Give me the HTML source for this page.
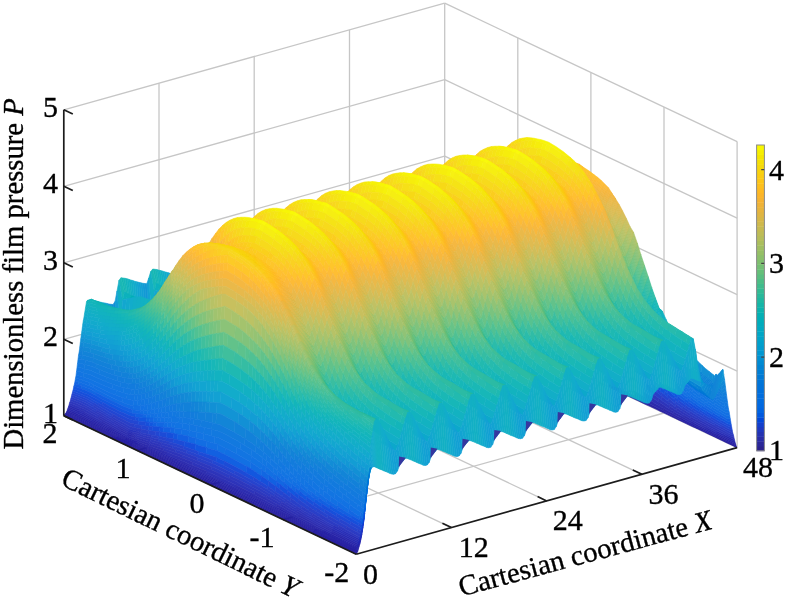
<!DOCTYPE html>
<html><head><meta charset="utf-8"><title>Dimensionless film pressure</title>
<style>
html,body{margin:0;padding:0;background:#fff;width:785px;height:599px;overflow:hidden}
svg{display:block}
.g{stroke:#c6c6c6;stroke-width:1.3}
.k{stroke:#1c1c1c;stroke-width:1.7}
#surf path{stroke-width:2.4;stroke-linejoin:round}
text{font-family:"Liberation Serif","Times New Roman",serif;fill:#000;stroke:#000;stroke-width:.35}
.t{font-size:30px}
.l{font-size:28.7px}
.c1{fill:#21199e;stroke:#21199e}.c2{fill:#271fa0;stroke:#271fa0}.c3{fill:#2c24a2;stroke:#2c24a2}.c5{fill:#221da3;stroke:#221da3}.c6{fill:#2722a5;stroke:#2722a5}.c7{fill:#2d27a7;stroke:#2d27a7}.c9{fill:#2320a7;stroke:#2320a7}.c10{fill:#2825a9;stroke:#2825a9}.c11{fill:#2d2bac;stroke:#2d2bac}.c13{fill:#2323ac;stroke:#2323ac}.c14{fill:#2829ae;stroke:#2829ae}.c15{fill:#2e2eb0;stroke:#2e2eb0}.c17{fill:#2327b1;stroke:#2327b1}.c18{fill:#282cb3;stroke:#282cb3}.c19{fill:#2e31b5;stroke:#2e31b5}.c21{fill:#232ab6;stroke:#232ab6}.c22{fill:#282fb8;stroke:#282fb8}.c23{fill:#2d34ba;stroke:#2d34ba}.c25{fill:#222ebb;stroke:#222ebb}.c26{fill:#2733bd;stroke:#2733bd}.c27{fill:#2d38be;stroke:#2d38be}.c29{fill:#2132c0;stroke:#2132c0}.c31{fill:#2b3bc3;stroke:#2b3bc3}.c33{fill:#1e35c5;stroke:#1e35c5}.c35{fill:#293fc8;stroke:#293fc8}.c37{fill:#1b39cb;stroke:#1b39cb}.c39{fill:#2643cd;stroke:#2643cd}.c43{fill:#2246d2;stroke:#2246d2}.c45{fill:#1142d5;stroke:#1142d5}.c47{fill:#1c4bd7;stroke:#1c4bd7}.c50{fill:#104bda;stroke:#104bda}.c51{fill:#164fdb;stroke:#164fdb}.c55{fill:#1257df;stroke:#1257df}.c57{fill:#0658e0;stroke:#0658e0}.c59{fill:#1260e1;stroke:#1260e1}.c63{fill:#1267e2;stroke:#1267e2}.c67{fill:#126de3;stroke:#126de3}.c69{fill:#0669e2;stroke:#0669e2}.c71{fill:#1270e3;stroke:#1270e3}.c75{fill:#1272e3;stroke:#1272e3}.c76{fill:#0069e0;stroke:#0069e0}.c79{fill:#1274e3;stroke:#1274e3}.c83{fill:#1275e2;stroke:#1275e2}.c84{fill:#006cdf;stroke:#006cdf}.c87{fill:#1276e1;stroke:#1276e1}.c89{fill:#0670df;stroke:#0670df}.c91{fill:#1277e1;stroke:#1277e1}.c95{fill:#1278e0;stroke:#1278e0}.c96{fill:#006fdc;stroke:#006fdc}.c99{fill:#1279df;stroke:#1279df}.c103{fill:#127ade;stroke:#127ade}.c107{fill:#127bdd;stroke:#127bdd}.c108{fill:#0073d9;stroke:#0073d9}.c111{fill:#127cdc;stroke:#127cdc}.c112{fill:#0074d8;stroke:#0074d8}.c115{fill:#127edb;stroke:#127edb}.c116{fill:#0076d7;stroke:#0076d7}.c119{fill:#1280da;stroke:#1280da}.c120{fill:#0078d6;stroke:#0078d6}.c123{fill:#1281d9;stroke:#1281d9}.c124{fill:#007ad5;stroke:#007ad5}.c126{fill:#0c80d7;stroke:#0c80d7}.c127{fill:#1283d8;stroke:#1283d8}.c128{fill:#007cd4;stroke:#007cd4}.c130{fill:#0c82d6;stroke:#0c82d6}.c131{fill:#1285d7;stroke:#1285d7}.c132{fill:#007fd3;stroke:#007fd3}.c133{fill:#0682d4;stroke:#0682d4}.c134{fill:#0c85d5;stroke:#0c85d5}.c135{fill:#1288d6;stroke:#1288d6}.c137{fill:#0685d4;stroke:#0685d4}.c138{fill:#0c87d5;stroke:#0c87d5}.c139{fill:#128ad6;stroke:#128ad6}.c141{fill:#0688d3;stroke:#0688d3}.c142{fill:#0c8bd5;stroke:#0c8bd5}.c143{fill:#128dd6;stroke:#128dd6}.c146{fill:#0c8ed4;stroke:#0c8ed4}.c147{fill:#1290d5;stroke:#1290d5}.c148{fill:#008cd2;stroke:#008cd2}.c151{fill:#1294d5;stroke:#1294d5}.c154{fill:#0c94d4;stroke:#0c94d4}.c155{fill:#1297d5;stroke:#1297d5}.c159{fill:#129ad5;stroke:#129ad5}.c163{fill:#129dd4;stroke:#129dd4}.c164{fill:#0098d0;stroke:#0098d0}.c167{fill:#129fd4;stroke:#129fd4}.c171{fill:#12a1d3;stroke:#12a1d3}.c175{fill:#12a3d2;stroke:#12a3d2}.c179{fill:#12a5d1;stroke:#12a5d1}.c183{fill:#12a7cf;stroke:#12a7cf}.c187{fill:#12a9ce;stroke:#12a9ce}.c190{fill:#0ca8cb;stroke:#0ca8cb}.c191{fill:#12aacc;stroke:#12aacc}.c195{fill:#12accb;stroke:#12accb}.c199{fill:#12adc9;stroke:#12adc9}.c202{fill:#0cacc5;stroke:#0cacc5}.c203{fill:#12aec7;stroke:#12aec7}.c207{fill:#12afc5;stroke:#12afc5}.c211{fill:#12b0c3;stroke:#12b0c3}.c215{fill:#12b2c1;stroke:#12b2c1}.c218{fill:#0cb1bd;stroke:#0cb1bd}.c219{fill:#12b3bf;stroke:#12b3bf}.c220{fill:#00aeb7;stroke:#00aeb7}.c222{fill:#0cb2bb;stroke:#0cb2bb}.c223{fill:#12b4bc;stroke:#12b4bc}.c225{fill:#07b2b7;stroke:#07b2b7}.c227{fill:#13b5ba;stroke:#13b5ba}.c228{fill:#05b1b3;stroke:#05b1b3}.c229{fill:#0bb3b4;stroke:#0bb3b4}.c230{fill:#11b5b6;stroke:#11b5b6}.c231{fill:#17b7b8;stroke:#17b7b8}.c232{fill:#09b2b0;stroke:#09b2b0}.c233{fill:#0fb4b2;stroke:#0fb4b2}.c234{fill:#15b6b3;stroke:#15b6b3}.c235{fill:#1ab8b5;stroke:#1ab8b5}.c236{fill:#0db3ad;stroke:#0db3ad}.c238{fill:#19b7b0;stroke:#19b7b0}.c239{fill:#1eb9b2;stroke:#1eb9b2}.c241{fill:#17b6ab;stroke:#17b6ab}.c242{fill:#1db8ad;stroke:#1db8ad}.c243{fill:#22baaf;stroke:#22baaf}.c244{fill:#16b6a6;stroke:#16b6a6}.c246{fill:#21b9aa;stroke:#21b9aa}.c247{fill:#27bbad;stroke:#27bbad}.c248{fill:#1bb7a3;stroke:#1bb7a3}.c250{fill:#26baa7;stroke:#26baa7}.c251{fill:#2bbcaa;stroke:#2bbcaa}.c253{fill:#25b9a2;stroke:#25b9a2}.c254{fill:#2bbba4;stroke:#2bbba4}.c255{fill:#30bca6;stroke:#30bca6}.c256{fill:#25b89c;stroke:#25b89c}.c257{fill:#2aba9f;stroke:#2aba9f}.c258{fill:#2fbca1;stroke:#2fbca1}.c259{fill:#35bda3;stroke:#35bda3}.c260{fill:#2bb999;stroke:#2bb999}.c261{fill:#30bb9b;stroke:#30bb9b}.c262{fill:#35bd9e;stroke:#35bd9e}.c263{fill:#3abea0;stroke:#3abea0}.c264{fill:#30ba96;stroke:#30ba96}.c265{fill:#35bc98;stroke:#35bc98}.c266{fill:#3abd9a;stroke:#3abd9a}.c267{fill:#3fbf9d;stroke:#3fbf9d}.c268{fill:#36bb92;stroke:#36bb92}.c269{fill:#3bbd95;stroke:#3bbd95}.c270{fill:#40be97;stroke:#40be97}.c271{fill:#44c09a;stroke:#44c09a}.c272{fill:#3cbc8f;stroke:#3cbc8f}.c273{fill:#41bd91;stroke:#41bd91}.c274{fill:#45bf94;stroke:#45bf94}.c275{fill:#4ac096;stroke:#4ac096}.c276{fill:#42bc8b;stroke:#42bc8b}.c277{fill:#47be8e;stroke:#47be8e}.c278{fill:#4bbf91;stroke:#4bbf91}.c279{fill:#50c193;stroke:#50c193}.c280{fill:#49bd88;stroke:#49bd88}.c281{fill:#4dbe8a;stroke:#4dbe8a}.c282{fill:#51c08d;stroke:#51c08d}.c283{fill:#56c290;stroke:#56c290}.c284{fill:#4fbd84;stroke:#4fbd84}.c285{fill:#53bf87;stroke:#53bf87}.c286{fill:#57c18a;stroke:#57c18a}.c287{fill:#5cc28d;stroke:#5cc28d}.c288{fill:#56be81;stroke:#56be81}.c289{fill:#5abf84;stroke:#5abf84}.c290{fill:#5ec187;stroke:#5ec187}.c291{fill:#62c28a;stroke:#62c28a}.c292{fill:#5cbe7e;stroke:#5cbe7e}.c293{fill:#60c081;stroke:#60c081}.c294{fill:#64c184;stroke:#64c184}.c295{fill:#68c387;stroke:#68c387}.c296{fill:#63bf7b;stroke:#63bf7b}.c297{fill:#67c07e;stroke:#67c07e}.c298{fill:#6ac281;stroke:#6ac281}.c299{fill:#6ec384;stroke:#6ec384}.c300{fill:#69bf78;stroke:#69bf78}.c301{fill:#6dc07b;stroke:#6dc07b}.c302{fill:#70c27e;stroke:#70c27e}.c303{fill:#74c381;stroke:#74c381}.c304{fill:#70bf75;stroke:#70bf75}.c305{fill:#73c078;stroke:#73c078}.c306{fill:#76c27c;stroke:#76c27c}.c307{fill:#7ac37f;stroke:#7ac37f}.c308{fill:#76bf73;stroke:#76bf73}.c309{fill:#79c176;stroke:#79c176}.c311{fill:#80c37c;stroke:#80c37c}.c312{fill:#7cbf70;stroke:#7cbf70}.c313{fill:#7fc173;stroke:#7fc173}.c314{fill:#82c277;stroke:#82c277}.c315{fill:#85c37a;stroke:#85c37a}.c316{fill:#82bf6e;stroke:#82bf6e}.c317{fill:#85c071;stroke:#85c071}.c318{fill:#88c274;stroke:#88c274}.c319{fill:#8bc378;stroke:#8bc378}.c321{fill:#8ac06f;stroke:#8ac06f}.c323{fill:#90c376;stroke:#90c376}.c324{fill:#8dbf69;stroke:#8dbf69}.c325{fill:#90c06c;stroke:#90c06c}.c326{fill:#93c270;stroke:#93c270}.c327{fill:#95c373;stroke:#95c373}.c329{fill:#95c06a;stroke:#95c06a}.c330{fill:#98c26e;stroke:#98c26e}.c331{fill:#9ac371;stroke:#9ac371}.c332{fill:#98bf65;stroke:#98bf65}.c333{fill:#9bc068;stroke:#9bc068}.c334{fill:#9dc26c;stroke:#9dc26c}.c335{fill:#a0c36f;stroke:#a0c36f}.c337{fill:#a0c066;stroke:#a0c066}.c339{fill:#a4c36d;stroke:#a4c36d}.c341{fill:#a5c064;stroke:#a5c064}.c342{fill:#a7c168;stroke:#a7c168}.c343{fill:#a9c36c;stroke:#a9c36c}.c345{fill:#aabf62;stroke:#aabf62}.c346{fill:#acc166;stroke:#acc166}.c347{fill:#aec26a;stroke:#aec26a}.c349{fill:#afbf60;stroke:#afbf60}.c350{fill:#b1c164;stroke:#b1c164}.c351{fill:#b3c268;stroke:#b3c268}.c353{fill:#b4bf5e;stroke:#b4bf5e}.c354{fill:#b6c062;stroke:#b6c062}.c355{fill:#b7c266;stroke:#b7c266}.c356{fill:#b7bd59;stroke:#b7bd59}.c357{fill:#b9be5d;stroke:#b9be5d}.c358{fill:#bac060;stroke:#bac060}.c359{fill:#bcc264;stroke:#bcc264}.c361{fill:#bdbe5b;stroke:#bdbe5b}.c362{fill:#bfc05f;stroke:#bfc05f}.c363{fill:#c1c163;stroke:#c1c163}.c364{fill:#c0bc54;stroke:#c0bc54}.c365{fill:#c2bd58;stroke:#c2bd58}.c367{fill:#c5c160;stroke:#c5c160}.c369{fill:#c6bc56;stroke:#c6bc56}.c370{fill:#c7be5a;stroke:#c7be5a}.c371{fill:#c8c05e;stroke:#c8c05e}.c372{fill:#c9ba50;stroke:#c9ba50}.c373{fill:#cabc54;stroke:#cabc54}.c374{fill:#cbbd58;stroke:#cbbd58}.c375{fill:#ccbf5c;stroke:#ccbf5c}.c377{fill:#cebb51;stroke:#cebb51}.c378{fill:#cfbc56;stroke:#cfbc56}.c379{fill:#d0be5a;stroke:#d0be5a}.c381{fill:#d2ba4f;stroke:#d2ba4f}.c382{fill:#d3bc53;stroke:#d3bc53}.c383{fill:#d4bd57;stroke:#d4bd57}.c385{fill:#d6b94d;stroke:#d6b94d}.c386{fill:#d7bb51;stroke:#d7bb51}.c387{fill:#d8bc55;stroke:#d8bc55}.c389{fill:#dab84a;stroke:#dab84a}.c390{fill:#dbba4f;stroke:#dbba4f}.c391{fill:#dcbc53;stroke:#dcbc53}.c393{fill:#deb748;stroke:#deb748}.c394{fill:#deb94c;stroke:#deb94c}.c395{fill:#dfbb51;stroke:#dfbb51}.c396{fill:#e1b541;stroke:#e1b541}.c397{fill:#e1b745;stroke:#e1b745}.c398{fill:#e2b84a;stroke:#e2b84a}.c399{fill:#e3ba4e;stroke:#e3ba4e}.c401{fill:#e5b643;stroke:#e5b643}.c402{fill:#e6b847;stroke:#e6b847}.c403{fill:#e7b94c;stroke:#e7b94c}.c405{fill:#e9b540;stroke:#e9b540}.c406{fill:#eab745;stroke:#eab745}.c407{fill:#eab949;stroke:#eab949}.c409{fill:#edb53d;stroke:#edb53d}.c410{fill:#edb642;stroke:#edb642}.c411{fill:#eeb847;stroke:#eeb847}.c412{fill:#f1b336;stroke:#f1b336}.c413{fill:#f1b43b;stroke:#f1b43b}.c414{fill:#f1b63f;stroke:#f1b63f}.c415{fill:#f2b844;stroke:#f2b844}.c416{fill:#f4b332;stroke:#f4b332}.c417{fill:#f4b537;stroke:#f4b537}.c418{fill:#f5b63c;stroke:#f5b63c}.c419{fill:#f5b841;stroke:#f5b841}.c420{fill:#f8b32f;stroke:#f8b32f}.c421{fill:#f8b534;stroke:#f8b534}.c422{fill:#f8b739;stroke:#f8b739}.c423{fill:#f8b83d;stroke:#f8b83d}.c424{fill:#fab52b;stroke:#fab52b}.c425{fill:#fbb630;stroke:#fbb630}.c426{fill:#fbb835;stroke:#fbb835}.c427{fill:#fbba3a;stroke:#fbba3a}.c428{fill:#fdb627;stroke:#fdb627}.c429{fill:#fdb82c;stroke:#fdb82c}.c430{fill:#fdba31;stroke:#fdba31}.c431{fill:#fdbb36;stroke:#fdbb36}.c432{fill:#feb923;stroke:#feb923}.c433{fill:#feba29;stroke:#feba29}.c434{fill:#febc2e;stroke:#febc2e}.c435{fill:#febe33;stroke:#febe33}.c436{fill:#ffbb20;stroke:#ffbb20}.c437{fill:#ffbd25;stroke:#ffbd25}.c438{fill:#ffbf2a;stroke:#ffbf2a}.c439{fill:#ffc030;stroke:#ffc030}.c440{fill:#febe1d;stroke:#febe1d}.c441{fill:#fec022;stroke:#fec022}.c442{fill:#fec128;stroke:#fec128}.c443{fill:#fec32d;stroke:#fec32d}.c444{fill:#fec11a;stroke:#fec11a}.c445{fill:#fec320;stroke:#fec320}.c446{fill:#fec425;stroke:#fec425}.c447{fill:#fec62a;stroke:#fec62a}.c448{fill:#fdc418;stroke:#fdc418}.c449{fill:#fdc61d;stroke:#fdc61d}.c450{fill:#fdc723;stroke:#fdc723}.c451{fill:#fdc828;stroke:#fdc828}.c452{fill:#fcc716;stroke:#fcc716}.c453{fill:#fcc91b;stroke:#fcc91b}.c454{fill:#fcca21;stroke:#fcca21}.c455{fill:#fccb26;stroke:#fccb26}.c456{fill:#fbca13;stroke:#fbca13}.c457{fill:#fbcc19;stroke:#fbcc19}.c458{fill:#fbcd1e;stroke:#fbcd1e}.c459{fill:#fbce24;stroke:#fbce24}.c460{fill:#facd11;stroke:#facd11}.c461{fill:#face17;stroke:#face17}.c462{fill:#fad01c;stroke:#fad01c}.c463{fill:#fad122;stroke:#fad122}.c464{fill:#f9d00f;stroke:#f9d00f}.c465{fill:#f9d115;stroke:#f9d115}.c466{fill:#f9d31a;stroke:#f9d31a}.c467{fill:#f9d420;stroke:#f9d420}.c468{fill:#f8d30d;stroke:#f8d30d}.c469{fill:#f8d513;stroke:#f8d513}.c470{fill:#f8d618;stroke:#f8d618}.c471{fill:#f8d71e;stroke:#f8d71e}.c472{fill:#f7d70b;stroke:#f7d70b}.c473{fill:#f7d811;stroke:#f7d811}.c474{fill:#f7d916;stroke:#f7d916}.c475{fill:#f7da1c;stroke:#f7da1c}.c476{fill:#f6da09;stroke:#f6da09}.c479{fill:#f6dd1a;stroke:#f6dd1a}.c480{fill:#f5dd06;stroke:#f5dd06}.c482{fill:#f6df12;stroke:#f6df12}.c483{fill:#f6e018;stroke:#f6e018}.c484{fill:#f5e104;stroke:#f5e104}.c485{fill:#f5e20a;stroke:#f5e20a}.c486{fill:#f5e210;stroke:#f5e210}.c487{fill:#f5e316;stroke:#f5e316}.c488{fill:#f5e401;stroke:#f5e401}.c490{fill:#f5e60d;stroke:#f5e60d}.c491{fill:#f5e613;stroke:#f5e613}.c492{fill:#f5e800;stroke:#f5e800}.c493{fill:#f5e906;stroke:#f5e906}.c494{fill:#f5e90c;stroke:#f5e90c}.c495{fill:#f5ea12;stroke:#f5ea12}.c496{fill:#f5ec00;stroke:#f5ec00}.c497{fill:#f5ed06;stroke:#f5ed06}.c498{fill:#f6ed0c;stroke:#f6ed0c}.c499{fill:#f6ee12;stroke:#f6ee12}.c500{fill:#f6f000;stroke:#f6f000}.c501{fill:#f6f106;stroke:#f6f106}.c502{fill:#f6f10c;stroke:#f6f10c}.c503{fill:#f7f112;stroke:#f7f112}.c504{fill:#f7f500;stroke:#f7f500}.c505{fill:#f7f506;stroke:#f7f506}.c506{fill:#f7f50c;stroke:#f7f50c}.c508{fill:#f8f900;stroke:#f8f900}.c509{fill:#f8f906;stroke:#f8f906}.c510{fill:#f9f90c;stroke:#f9f90c}
</style></head><body>
<svg width="785" height="599" viewBox="0 0 785 599">
<rect width="785" height="599" fill="#fff"/>
<g id="back">
<line class="g" x1="63.8" y1="339.3" x2="444.7" y2="232.7"/>
<line class="g" x1="444.7" y1="232.7" x2="737.1" y2="371.1"/>
<line class="g" x1="63.8" y1="262.8" x2="444.7" y2="156.2"/>
<line class="g" x1="444.7" y1="156.2" x2="737.1" y2="294.6"/>
<line class="g" x1="63.8" y1="186.3" x2="444.7" y2="79.7"/>
<line class="g" x1="444.7" y1="79.7" x2="737.1" y2="218.1"/>
<line class="g" x1="63.8" y1="109.8" x2="444.7" y2="3.2"/>
<line class="g" x1="444.7" y1="3.2" x2="737.1" y2="141.6"/>
<line class="g" x1="159.0" y1="389.2" x2="159.0" y2="83.2"/>
<line class="g" x1="451.4" y1="527.6" x2="159.0" y2="389.2"/>
<line class="g" x1="254.2" y1="362.5" x2="254.2" y2="56.5"/>
<line class="g" x1="546.6" y1="500.9" x2="254.2" y2="362.5"/>
<line class="g" x1="349.5" y1="335.9" x2="349.5" y2="29.9"/>
<line class="g" x1="641.9" y1="474.3" x2="349.5" y2="335.9"/>
<line class="g" x1="517.8" y1="343.8" x2="517.8" y2="37.8"/>
<line class="g" x1="136.9" y1="450.4" x2="517.8" y2="343.8"/>
<line class="g" x1="590.9" y1="378.4" x2="590.9" y2="72.4"/>
<line class="g" x1="210.0" y1="485.0" x2="590.9" y2="378.4"/>
<line class="g" x1="664.0" y1="413.0" x2="664.0" y2="107.0"/>
<line class="g" x1="283.1" y1="519.6" x2="664.0" y2="413.0"/>
<line class="g" x1="444.7" y1="309.2" x2="444.7" y2="3.2"/>
<line class="g" x1="737.1" y1="447.6" x2="737.1" y2="141.6"/>
<line class="g" x1="63.8" y1="415.8" x2="444.7" y2="309.2"/>
<line class="g" x1="444.7" y1="309.2" x2="737.1" y2="447.6"/>
<line class="k" x1="136.9" y1="450.4" x2="146.5" y2="447.7"/>
<line class="k" x1="210.0" y1="485.0" x2="219.6" y2="482.3"/>
<line class="k" x1="283.1" y1="519.6" x2="292.7" y2="516.9"/>
</g>
<g id="surf" transform="scale(.25)">
<path class="c3" d="M2435 1533l14 7 15 8 14 7 15 7 15 7 14 8 15 7 14 7 15 8 15 7 14 8 15 7 15 8 14 7 2 9-14-7-15-7-15-7-14-6-15-7-14-7-15-7-15-7-14-7-15-7-15-7-14-7-15-7-14-7z"/>
<path class="c2" d="M2639 1636l15 8 14 8 15 7 15 7 14 8 15 7 15 7 14 7 15 8 14 7 3 4-15-6-15-7-14-7-15-7-15-7-14-7-15-7-14-7-15-7-15-7z"/>
<path class="c1" d="M2785 1710l15 7 15 7 14 7 15 7 14 7 15 7 15 7 14 7 15 7 15 7 14 7 2 4-14-7-15-7-15-7-14-7-15-7-14-7-15-7-15-7-14-7-15-7-14-7z"/>
<path class="c11" d="M2535 1565l14 8 15 8 15 8 14 9 15 8 14 9 15 8 15 9 2 12-15-8-14-7-15-8-15-7-14-8-15-7-15-8-14-7z"/>
<path class="c7" d="M2652 1632l14 8 15 8 15 9 14 8 15 7 2 9-15-7-14-8-15-7-15-7-14-8z"/>
<path class="c6" d="M2725 1672l14 8 15 8 15 7 14 8 15 7 15 7 14 7 15 8 14 7 15 7 2 6-15-7-14-7-15-7-14-7-15-7-15-7-14-7-15-8-14-7-15-7z"/>
<path class="c2" d="M2871 1746l15 7 14 7 15 7 14 7 15 7 2 6-14-7-15-7-15-7-14-7-15-7z"/>
<path class="c19" d="M2576 1570l15 9 15 10 14 9 15 10 2 15-15-8-14-9-15-8-14-9z"/>
<path class="c15" d="M2635 1608l15 9 14 10 15 9 14 9 3 12-15-9-15-8-14-8-15-9z"/>
<path class="c11" d="M2693 1645l15 9 15 8 14 8 15 9 15 7 2 9-15-7-15-8-14-8-15-7-14-8z"/>
<path class="c10" d="M2767 1686l14 8 15 8 14 7 15 8 15 7 2 8-15-8-14-7-15-7-15-7-14-8z"/>
<path class="c6" d="M2840 1724l14 8 15 7 14 7 15 7 15 8 14 7 15 7 2 6-15-7-14-7-15-7-14-7-15-7-15-7-14-7z"/>
<path class="c27" d="M2604 1569l14 11 15 11 2 17-15-10-14-9z"/>
<path class="c23" d="M2633 1591l14 11 15 10 15 10 2 14-15-9-14-10-15-9z"/>
<path class="c19" d="M2677 1622l14 10 15 10 15 9 14 9 2 10-14-8-15-8-15-9-14-9z"/>
<path class="c15" d="M2735 1660l15 8 14 9 15 8 15 8 14 8 15 7 2 9-15-8-14-7-15-8-14-8-15-7-15-9z"/>
<path class="c14" d="M2823 1708l15 8 14 7 15 8 2 8-15-7-14-8-15-7z"/>
<path class="c10" d="M2867 1731l14 7 15 8 15 7 14 7 15 7 2 8-15-7-14-7-15-8-15-7-14-7z"/>
<path class="c39" d="M2587 1536l14 12 15 12 2 20-14-11-15-11z"/>
<path class="c35" d="M2616 1560l15 12 14 12 2 18-14-11-15-11z"/>
<path class="c31" d="M2645 1584l15 12 15 11 2 15-15-10-15-10z"/>
<path class="c27" d="M2675 1607l14 11 15 11 2 13-15-10-14-10z"/>
<path class="c23" d="M2704 1629l14 9 15 10 15 9 14 9 2 11-14-9-15-8-14-9-15-9z"/>
<path class="c19" d="M2762 1666l15 9 15 8 14 8 15 8 14 8 15 8 15 7 2 9-15-8-14-7-15-8-15-7-14-8-15-8-15-8z"/>
<path class="c18" d="M2865 1722l14 8 15 7 2 9-15-8-14-7z"/>
<path class="c14" d="M2894 1737l15 8 14 7 15 7 2 8-15-7-14-7-15-7z"/>
<path class="c47" d="M2614 1539l15 14 2 19-15-12z"/>
<path class="c43" d="M2629 1553l14 13 2 18-14-12z"/>
<path class="c39" d="M2643 1566l15 13 14 12 3 16-15-11-15-12z"/>
<path class="c35" d="M2672 1591l15 12 15 12 2 14-15-11-14-11z"/>
<path class="c31" d="M2702 1615l14 10 15 11 2 12-15-10-14-9z"/>
<path class="c27" d="M2731 1636l15 9 14 10 15 9 14 8 3 11-15-8-15-9-14-9-15-9z"/>
<path class="c23" d="M2789 1672l15 9 15 8 14 8 15 8 15 8 14 8 15 8 14 7 3 9-15-8-15-7-14-8-15-7-15-8-14-8-15-8-14-8z"/>
<path class="c22" d="M2906 1736l15 8 2 8-14-7z"/>
<path class="c19" d="M2921 1744l15 6 2 9-15-7z"/>
<path class="c55" d="M2626 1532l15 15 2 19-14-13z"/>
<path class="c51" d="M2641 1547l15 14 2 18-15-13z"/>
<path class="c47" d="M2656 1561l14 14 2 16-14-12z"/>
<path class="c43" d="M2670 1575l15 13 15 12 2 15-15-12-15-12z"/>
<path class="c39" d="M2700 1600l14 12 15 11 2 13-15-11-14-10z"/>
<path class="c35" d="M2729 1623l14 10 15 10 2 12-14-10-15-9z"/>
<path class="c31" d="M2758 1643l15 9 14 9 15 9 15 9 2 10-15-8-15-9-14-8-15-9z"/>
<path class="c27" d="M2817 1679l14 8 15 8 14 8 15 8 15 8 14 8 15 8 15 6 2 9-15-6-15-8-14-7-15-8-14-8-15-8-15-8-14-8z"/>
<path class="c59" d="M2639 1527l15 15 2 19-15-14z"/>
<path class="c55" d="M2654 1542l14 15 2 18-14-14z"/>
<path class="c51" d="M2668 1557l15 14 14 14 3 15-15-12-15-13z"/>
<path class="c47" d="M2697 1585l15 12 2 15-14-12z"/>
<path class="c43" d="M2712 1597l15 12 14 11 2 13-14-10-15-11z"/>
<path class="c39" d="M2741 1620l15 10 15 10 14 10 2 11-14-9-15-9-15-10z"/>
<path class="c35" d="M2785 1650l15 9 14 9 15 8 15 9 14 8 2 10-14-8-15-8-14-8-15-9-15-9z"/>
<path class="c31" d="M2858 1693l15 8 15 8 14 8 15 8 14 6 3 10-15-6-15-8-14-8-15-8-15-8z"/>
<path class="c63" d="M2666 1539l15 15 2 17-15-14z"/>
<path class="c59" d="M2681 1554l14 15 2 16-14-14z"/>
<path class="c55" d="M2695 1569l15 13 2 15-15-12z"/>
<path class="c51" d="M2710 1582l15 13 14 11 2 14-14-11-15-12z"/>
<path class="c47" d="M2739 1606l15 11 14 11 3 12-15-10-15-10z"/>
<path class="c43" d="M2768 1628l15 10 15 9 14 9 2 12-14-9-15-9-14-10z"/>
<path class="c39" d="M2812 1656l15 9 15 9 14 9 15 8 14 8 3 10-15-8-15-8-14-8-15-9-15-8z"/>
<path class="c35" d="M2885 1699l15 8 15 8 14 6 2 10-14-6-15-8-14-8z"/>
<path class="c63" d="M2693 1552l15 15 2 15-15-13z"/>
<path class="c59" d="M2708 1567l14 13 15 12 2 14-14-11-15-13z"/>
<path class="c55" d="M2737 1592l15 12 2 13-15-11z"/>
<path class="c51" d="M2752 1604l14 11 15 10 15 10 2 12-15-9-15-10-14-11z"/>
<path class="c47" d="M2796 1635l14 10 15 9 14 9 3 11-15-9-15-9-14-9z"/>
<path class="c43" d="M2839 1663l15 9 15 8 14 9 15 8 15 8 14 5 2 11-14-6-15-8-15-8-14-8-15-8-14-9z"/>
<path class="c67" d="M2706 1551l14 14 2 15-14-13z"/>
<path class="c63" d="M2720 1565l15 13 15 12 2 14-15-12-15-12z"/>
<path class="c59" d="M2750 1590l14 12 15 10 2 13-15-10-14-11z"/>
<path class="c55" d="M2779 1612l14 11 15 10 15 9 2 12-15-9-14-10-15-10z"/>
<path class="c51" d="M2823 1642l14 9 15 9 15 9 14 9 2 11-14-9-15-8-15-9-14-9z"/>
<path class="c47" d="M2881 1678l15 8 14 9 15 4 2 11-14-5-15-8-15-8z"/>
<path class="c75" d="M2704 1534l14 15 15 14 2 15-15-13-14-14z"/>
<path class="c71" d="M2733 1563l14 13 3 14-15-12z"/>
<path class="c67" d="M2747 1576l15 12 2 14-14-12z"/>
<path class="c63" d="M2762 1588l15 11 14 11 15 10 2 13-15-10-14-11-15-10z"/>
<path class="c59" d="M2806 1620l15 10 14 9 15 10 2 11-15-9-14-9-15-9z"/>
<path class="c55" d="M2850 1649l14 9 15 9 15 8 14 9 15 3 2 12-15-4-14-9-15-8-14-9-15-9z"/>
<path class="c79" d="M2731 1548l14 13 2 15-14-13z"/>
<path class="c75" d="M2745 1561l15 13 2 14-15-12z"/>
<path class="c71" d="M2760 1574l15 12 14 11 2 13-14-11-15-11z"/>
<path class="c67" d="M2789 1597l15 10 14 10 3 13-15-10-15-10z"/>
<path class="c63" d="M2818 1617l15 10 15 10 14 9 15 9 2 12-15-9-14-9-15-10-14-9z"/>
<path class="c59" d="M2877 1655l15 9 14 9 15 2 2 12-15-3-14-9-15-8z"/>
<path class="c87" d="M2729 1532l14 14 2 15-14-13z"/>
<path class="c83" d="M2743 1546l15 13 2 15-15-13z"/>
<path class="c79" d="M2758 1559l14 13 15 11 2 14-14-11-15-12z"/>
<path class="c75" d="M2787 1583l15 11 14 11 2 12-14-10-15-10z"/>
<path class="c71" d="M2816 1605l15 10 15 9 2 13-15-10-15-10z"/>
<path class="c67" d="M2846 1624l14 10 15 9 14 9 15 9 15 1 2 13-15-2-14-9-15-9-15-9-14-9z"/>
<path class="c95" d="M2727 1516l14 15 2 15-14-14z"/>
<path class="c91" d="M2741 1531l15 14 2 14-15-13z"/>
<path class="c87" d="M2756 1545l14 12 2 15-14-13z"/>
<path class="c83" d="M2770 1557l15 12 15 12 2 13-15-11-15-11z"/>
<path class="c79" d="M2800 1581l14 10 15 11 2 13-15-10-14-11z"/>
<path class="c75" d="M2829 1602l14 10 15 10 15 9 2 12-15-9-14-10-15-9z"/>
<path class="c71" d="M2873 1631l14 10 15 9 15-1 2 13-15-1-15-9-14-9z"/>
<path class="c99" d="M2739 1515l15 15 2 15-15-14z"/>
<path class="c95" d="M2754 1530l14 13 2 14-14-12z"/>
<path class="c91" d="M2768 1543l15 12 15 12 2 14-15-12-15-12z"/>
<path class="c87" d="M2798 1567l14 11 15 11 2 13-15-11-14-10z"/>
<path class="c83" d="M2827 1589l14 10 15 10 2 13-15-10-14-10z"/>
<path class="c79" d="M2856 1609l15 10 14 9 15 10 14-2 3 13-15 1-15-9-14-10-15-9z"/>
<path class="c95" d="M2795 1553l15 12 2 13-14-11z"/>
<path class="c91" d="M2810 1565l15 10 14 11 15 10 2 13-15-10-14-10-15-11z"/>
<path class="c87" d="M2854 1596l14 10 15 10 2 12-14-9-15-10z"/>
<path class="c83" d="M2883 1616l15 10 2 12-15-10z"/>
<path class="c87" d="M2898 1626l14-4 2 14-14 2z"/>
<path class="c95" d="M2837 1573l15 10 14 11 2 12-14-10-15-10z"/>
<path class="c91" d="M2866 1594l15 10 15 9 2 13-15-10-15-10z"/>
<path class="c95" d="M2896 1613l14-5 2 14-14 4z"/>
<path class="c103" d="M2835 1559l15 11 14 11 2 13-14-11-15-10z"/>
<path class="c99" d="M2864 1581l15 10 14 10 15-8 2 15-14 5-15-9-15-10z"/>
<path class="c107" d="M2848 1557l14 10 15 11 2 13-15-10-14-11z"/>
<path class="c103" d="M2877 1578l14 10 2 13-14-10z"/>
<path class="c107" d="M2891 1588l15-9 2 14-15 8z"/>
<path class="c115" d="M2845 1543l15 11 15 11 2 13-15-11-14-10z"/>
<path class="c111" d="M2875 1565l14 10 2 13-14-10z"/>
<path class="c115" d="M2889 1575l15-12 2 16-15 9z"/>
<path class="c445" d="M2288 650l14 4 15 5 2-2-15-5-14-5z"/>
<path class="c444" d="M2317 659l15 9 2 5-15-16z"/>
<path class="c119" d="M2858 1540l15 11 14 11 2 13-14-10-15-11z"/>
<path class="c123" d="M2887 1562l15-14 2 15-15 12z"/>
<path class="c445" d="M2300 657l15 5 2-3-15-5z"/>
<path class="c446" d="M2315 662l14 9 3-3-15-9z"/>
<path class="c442" d="M2329 671l15 9 15 10 14 10 2-2-14-11-15-10-14-9z"/>
<path class="c438" d="M2373 700l15 12 2-3-15-11z"/>
<path class="c434" d="M2388 712l15 13 2-3-15-13z"/>
<path class="c430" d="M2403 725l14 14 2-3-14-14z"/>
<path class="c426" d="M2417 739l15 16 2-4-15-15z"/>
<path class="c422" d="M2432 755l14 18 3 2-15-24z"/>
<path class="c412" d="M2446 773l15 20 2 7-14-25z"/>
<path class="c127" d="M2856 1526l14 12 15 10 2 14-14-11-15-11z"/>
<path class="c131" d="M2885 1548l15-16 2 16-15 14z"/>
<path class="c442" d="M2269 653l14 3 15 4 15 5 14 9 15 9 15 10 2-3-15-10-15-9-14-9-15-5-14-4-15-4z"/>
<path class="c438" d="M2357 693l14 10 15 12 2-3-15-12-14-10z"/>
<path class="c434" d="M2386 715l14 13 3-3-15-13z"/>
<path class="c430" d="M2400 728l15 14 2-3-14-14z"/>
<path class="c426" d="M2415 742l15 16 2-3-15-16z"/>
<path class="c422" d="M2430 758l14 18 2-3-14-18z"/>
<path class="c414" d="M2444 776l15 21 2-4-15-20z"/>
<path class="c406" d="M2459 797l15 23 2-3-15-24z"/>
<path class="c398" d="M2474 820l14 27 2-4-14-26z"/>
<path class="c387" d="M2488 847l15 30 2-4-15-30z"/>
<path class="c375" d="M2503 877l14 33 3-4-15-33z"/>
<path class="c363" d="M2517 910l15 37 2-18-14-23z"/>
<path class="c347" d="M2532 947l15 39 2-14-15-43z"/>
<path class="c331" d="M2547 986l14 41 2-10-14-45z"/>
<path class="c311" d="M2561 1027l15 43 2-8-15-45z"/>
<path class="c291" d="M2576 1070l15 43 2-6-15-45z"/>
<path class="c275" d="M2591 1113l14 41 2-3-14-44z"/>
<path class="c255" d="M2605 1154l15 40 2-1-15-42z"/>
<path class="c238" d="M2620 1194l14 37 2 0-14-38z"/>
<path class="c227" d="M2634 1231l15 13 2 23-15-36z"/>
<path class="c135" d="M2854 1512l14 12 15 11 2 13-15-10-14-12z"/>
<path class="c139" d="M2883 1535l15-19 2 16-15 16z"/>
<path class="c442" d="M2281 660l15 4 15 5 14 8 15 9 2-3-15-9-14-9-15-5-15-4z"/>
<path class="c438" d="M2340 686l14 10 15 11 2-4-14-10-15-10z"/>
<path class="c434" d="M2369 707l15 11 14 13 2-3-14-13-15-12z"/>
<path class="c430" d="M2398 731l15 15 2-4-15-14z"/>
<path class="c426" d="M2413 746l15 16 2-4-15-16z"/>
<path class="c418" d="M2428 762l14 18 2-4-14-18z"/>
<path class="c414" d="M2442 780l15 21 2-4-15-21z"/>
<path class="c406" d="M2457 801l14 23 3-4-15-23z"/>
<path class="c399" d="M2471 824l15 27 2-4-14-27z"/>
<path class="c387" d="M2486 851l15 30 2-4-15-30z"/>
<path class="c375" d="M2501 881l14 34 2-5-14-33z"/>
<path class="c359" d="M2515 915l15 37 2-5-15-37z"/>
<path class="c343" d="M2530 952l15 39 2-5-15-39z"/>
<path class="c327" d="M2545 991l14 42 2-6-14-41z"/>
<path class="c307" d="M2559 1033l15 43 2-6-15-43z"/>
<path class="c291" d="M2574 1076l14 42 3-5-15-43z"/>
<path class="c271" d="M2588 1118l15 42 2-6-14-41z"/>
<path class="c255" d="M2603 1160l15 40 2-6-15-40z"/>
<path class="c239" d="M2618 1200l14 37 2-6-14-37z"/>
<path class="c227" d="M2632 1237l15 34 2-27-15-13z"/>
<path class="c215" d="M2647 1271l14 31 3-25-15-33z"/>
<path class="c203" d="M2661 1302l15 28 2-23-14-30z"/>
<path class="c139" d="M2866 1510l15 11 2 14-15-11z"/>
<path class="c147" d="M2881 1521l14-22 3 17-15 19z"/>
<path class="c438" d="M2323 681l15 9 14 10 15 11 2-4-15-11-14-10-15-9z"/>
<path class="c434" d="M2367 711l15 11 2-4-15-11z"/>
<path class="c430" d="M2382 722l14 13 2-4-14-13z"/>
<path class="c426" d="M2396 735l15 14 2-3-15-15z"/>
<path class="c422" d="M2411 749l14 17 3-4-15-16z"/>
<path class="c418" d="M2425 766l15 18 2-4-14-18z"/>
<path class="c410" d="M2440 784l15 21 2-4-15-21z"/>
<path class="c403" d="M2455 805l14 24 2-5-14-23z"/>
<path class="c395" d="M2469 829l15 27 2-5-15-27z"/>
<path class="c383" d="M2484 856l15 30 2-5-15-30z"/>
<path class="c371" d="M2499 886l14 34 2-5-14-34z"/>
<path class="c355" d="M2513 920l15 37 2-5-15-37z"/>
<path class="c339" d="M2528 957l14 40 3-6-15-39z"/>
<path class="c323" d="M2542 997l15 41 2-5-14-42z"/>
<path class="c307" d="M2557 1038l15 43 2-5-15-43z"/>
<path class="c287" d="M2572 1081l14 43 2-6-14-42z"/>
<path class="c267" d="M2586 1124l15 42 2-6-15-42z"/>
<path class="c251" d="M2601 1166l15 40 2-6-15-40z"/>
<path class="c235" d="M2616 1206l14 37 2-6-14-37z"/>
<path class="c219" d="M2630 1243l15 34 2-6-15-34z"/>
<path class="c207" d="M2645 1277l14 31 2-6-14-31z"/>
<path class="c155" d="M2776 1465l15 13 2-31-15-14z"/>
<path class="c151" d="M2791 1478l15 12 2-29-15-14z"/>
<path class="c147" d="M2806 1490l14 12 15 11 2-27-15-12-14-13z"/>
<path class="c143" d="M2835 1513l14 11 3-26-15-12z"/>
<path class="c146" d="M2849 1524l15-28 2 14-14-12z"/>
<path class="c155" d="M2879 1507l14-25 2 17-14 22z"/>
<path class="c438" d="M2277 669l15 3 14 4 15 9 15 9 14 10 2-4-14-10-15-9-14-9-15-4-15-4z"/>
<path class="c434" d="M2350 704l15 11 14 11 3-4-15-11-15-11z"/>
<path class="c430" d="M2379 726l15 13 2-4-14-13z"/>
<path class="c426" d="M2394 739l15 14 2-4-15-14z"/>
<path class="c422" d="M2409 753l14 17 2-4-14-17z"/>
<path class="c418" d="M2423 770l15 18 2-4-15-18z"/>
<path class="c410" d="M2438 788l15 21 2-4-15-21z"/>
<path class="c403" d="M2453 809l14 24 2-4-14-24z"/>
<path class="c395" d="M2467 833l15 27 2-4-15-27z"/>
<path class="c383" d="M2482 860l14 31 3-5-15-30z"/>
<path class="c371" d="M2496 891l15 34 2-5-14-34z"/>
<path class="c355" d="M2511 925l15 37 2-5-15-37z"/>
<path class="c339" d="M2526 962l14 40 2-5-14-40z"/>
<path class="c319" d="M2540 1002l15 42 2-6-15-41z"/>
<path class="c303" d="M2555 1044l15 43 2-6-15-43z"/>
<path class="c283" d="M2570 1087l14 43 2-6-14-43z"/>
<path class="c267" d="M2584 1130l15 42 2-6-15-42z"/>
<path class="c247" d="M2599 1172l14 40 3-6-15-40z"/>
<path class="c231" d="M2613 1212l15 37 2-6-14-37z"/>
<path class="c219" d="M2628 1249l15 34 2-6-15-34z"/>
<path class="c142" d="M2774 1470l15 13 14 12 3-5-15-12-15-13z"/>
<path class="c138" d="M2803 1495l15 12 2-5-14-12z"/>
<path class="c134" d="M2818 1507l15 11 14 11 2-5-14-11-15-11z"/>
<path class="c139" d="M2847 1529l15 11 15 10 2-43-15-11-15 28z"/>
<path class="c155" d="M2877 1550l14-73 2 5-14 25z"/>
<path class="c434" d="M2319 689l15 9 14 10 15 11 2-4-15-11-14-10-15-9z"/>
<path class="c430" d="M2363 719l14 11 2-4-14-11z"/>
<path class="c426" d="M2377 730l15 13 15 15 2-5-15-14-15-13z"/>
<path class="c418" d="M2407 758l14 16 2-4-14-17z"/>
<path class="c414" d="M2421 774l15 19 2-5-15-18z"/>
<path class="c407" d="M2436 793l14 21 3-5-15-21z"/>
<path class="c399" d="M2450 814l15 24 2-5-14-24z"/>
<path class="c391" d="M2465 838l15 27 2-5-15-27z"/>
<path class="c379" d="M2480 865l14 31 2-5-14-31z"/>
<path class="c367" d="M2494 896l15 34 2-5-15-34z"/>
<path class="c351" d="M2509 930l15 38 2-6-15-37z"/>
<path class="c335" d="M2524 968l14 40 2-6-14-40z"/>
<path class="c319" d="M2538 1008l15 42 2-6-15-42z"/>
<path class="c299" d="M2553 1050l14 44 3-7-15-43z"/>
<path class="c283" d="M2567 1094l15 43 2-7-14-43z"/>
<path class="c263" d="M2582 1137l15 42 2-7-15-42z"/>
<path class="c247" d="M2597 1179l14 39 2-6-14-40z"/>
<path class="c231" d="M2611 1218l15 38 2-7-15-37z"/>
<path class="c215" d="M2626 1256l15 33 2-6-15-34z"/>
<path class="c138" d="M2787 1488l14 13 2-6-14-12z"/>
<path class="c134" d="M2801 1501l15 11 15 11 2-5-15-11-15-12z"/>
<path class="c130" d="M2831 1523l14 11 15 11 2-5-15-11-14-11z"/>
<path class="c146" d="M2874 1555l15-75 2-3-14 73z"/>
<path class="c430" d="M2346 713l15 10 14 12 2-5-14-11-15-11z"/>
<path class="c426" d="M2375 735l15 13 2-5-15-13z"/>
<path class="c422" d="M2390 748l14 14 3-4-15-15z"/>
<path class="c418" d="M2404 762l15 17 2-5-14-16z"/>
<path class="c414" d="M2419 779l15 18 2-4-15-19z"/>
<path class="c407" d="M2434 797l14 22 2-5-14-21z"/>
<path class="c399" d="M2448 819l15 24 2-5-15-24z"/>
<path class="c391" d="M2463 843l15 27 2-5-15-27z"/>
<path class="c379" d="M2478 870l14 32 2-6-14-31z"/>
<path class="c363" d="M2492 902l15 34 2-6-15-34z"/>
<path class="c351" d="M2507 936l14 38 3-6-15-38z"/>
<path class="c335" d="M2521 974l15 40 2-6-14-40z"/>
<path class="c315" d="M2536 1014l15 43 2-7-15-42z"/>
<path class="c295" d="M2551 1057l14 43 2-6-14-44z"/>
<path class="c279" d="M2565 1100l15 43 2-6-15-43z"/>
<path class="c259" d="M2580 1143l15 42 2-6-15-42z"/>
<path class="c243" d="M2595 1185l14 40 2-7-14-39z"/>
<path class="c227" d="M2609 1225l15 37 2-6-15-38z"/>
<path class="c138" d="M2770 1481l15 13 14 12 2-5-14-13-15-12z"/>
<path class="c134" d="M2799 1506l15 11 2-5-15-11z"/>
<path class="c130" d="M2814 1517l14 11 15 11 2-5-14-11-15-11z"/>
<path class="c126" d="M2843 1539l15 10 14 10 2-4-14-10-15-11z"/>
<path class="c146" d="M2872 1559l15-77 2-2-15 75z"/>
<path class="c426" d="M2359 728l14 11 2-4-14-12z"/>
<path class="c422" d="M2373 739l15 13 14 15 2-5-14-14-15-13z"/>
<path class="c414" d="M2402 767l15 16 2-4-15-17z"/>
<path class="c410" d="M2417 783l15 19 2-5-15-18z"/>
<path class="c403" d="M2432 802l14 22 2-5-14-22z"/>
<path class="c395" d="M2446 824l15 24 2-5-15-24z"/>
<path class="c387" d="M2461 848l14 28 3-6-15-27z"/>
<path class="c375" d="M2475 876l15 31 2-5-14-32z"/>
<path class="c363" d="M2490 907l15 35 2-6-15-34z"/>
<path class="c347" d="M2505 942l14 38 2-6-14-38z"/>
<path class="c331" d="M2519 980l15 40 2-6-15-40z"/>
<path class="c311" d="M2534 1020l15 43 2-6-15-43z"/>
<path class="c295" d="M2549 1063l14 43 2-6-14-43z"/>
<path class="c275" d="M2563 1106l15 44 2-7-15-43z"/>
<path class="c259" d="M2578 1150l14 42 3-7-15-42z"/>
<path class="c239" d="M2592 1192l15 39 2-6-14-40z"/>
<path class="c223" d="M2607 1231l15 37 2-6-15-37z"/>
<path class="c130" d="M2797 1511l15 11 14 11 2-5-14-11-15-11z"/>
<path class="c126" d="M2826 1533l15 11 15 10 2-5-15-10-15-11z"/>
<path class="c147" d="M2870 1564l15-79 2-3-15 77z"/>
<path class="c426" d="M2342 722l14 10 15 12 2-5-14-11-15-11z"/>
<path class="c422" d="M2371 744l15 13 2-5-15-13z"/>
<path class="c418" d="M2386 757l14 14 2-4-14-15z"/>
<path class="c414" d="M2400 771l15 17 2-5-15-16z"/>
<path class="c410" d="M2415 788l15 19 2-5-15-19z"/>
<path class="c403" d="M2430 807l14 21 2-4-14-22z"/>
<path class="c395" d="M2444 828l15 25 2-5-15-24z"/>
<path class="c383" d="M2459 853l14 28 2-5-14-28z"/>
<path class="c371" d="M2473 881l15 32 2-6-15-31z"/>
<path class="c359" d="M2488 913l15 35 2-6-15-35z"/>
<path class="c343" d="M2503 948l14 38 2-6-14-38z"/>
<path class="c327" d="M2517 986l15 41 2-7-15-40z"/>
<path class="c311" d="M2532 1027l14 42 3-6-15-43z"/>
<path class="c291" d="M2546 1069l15 44 2-7-14-43z"/>
<path class="c271" d="M2561 1113l15 43 2-6-15-44z"/>
<path class="c255" d="M2576 1156l14 42 2-6-14-42z"/>
<path class="c235" d="M2590 1198l15 40 2-7-15-39z"/>
<path class="c219" d="M2605 1238l15 37 2-7-15-37z"/>
<path class="c130" d="M2780 1504l15 12 15 11 2-5-15-11-15-12z"/>
<path class="c126" d="M2810 1527l14 11 15 10 2-4-15-11-14-11z"/>
<path class="c143" d="M2868 1569l15-82 2-2-15 79z"/>
<path class="c418" d="M2369 748l15 13 14 15 2-5-14-14-15-13z"/>
<path class="c410" d="M2398 776l15 17 2-5-15-17z"/>
<path class="c406" d="M2413 793l14 19 3-5-15-19z"/>
<path class="c399" d="M2427 812l15 21 2-5-14-21z"/>
<path class="c391" d="M2442 833l15 25 2-5-15-25z"/>
<path class="c383" d="M2457 858l14 28 2-5-14-28z"/>
<path class="c371" d="M2471 886l15 32 2-5-15-32z"/>
<path class="c355" d="M2486 918l14 35 3-5-15-35z"/>
<path class="c343" d="M2500 953l15 39 2-6-14-38z"/>
<path class="c323" d="M2515 992l15 41 2-6-15-41z"/>
<path class="c307" d="M2530 1033l14 43 2-7-14-42z"/>
<path class="c287" d="M2544 1076l15 43 2-6-15-44z"/>
<path class="c271" d="M2559 1119l15 44 2-7-15-43z"/>
<path class="c251" d="M2574 1163l14 42 2-7-14-42z"/>
<path class="c235" d="M2588 1205l15 39 2-6-15-40z"/>
<path class="c126" d="M2793 1521l15 11 14 11 2-5-14-11-15-11z"/>
<path class="c143" d="M2866 1573l15-83 2-3-15 82z"/>
<path class="c418" d="M2367 753l14 13 3-5-15-13z"/>
<path class="c414" d="M2381 766l15 15 2-5-14-15z"/>
<path class="c410" d="M2396 781l15 16 2-4-15-17z"/>
<path class="c406" d="M2411 797l14 19 2-4-14-19z"/>
<path class="c399" d="M2425 816l15 22 2-5-15-21z"/>
<path class="c391" d="M2440 838l15 25 2-5-15-25z"/>
<path class="c379" d="M2455 863l14 29 2-6-14-28z"/>
<path class="c367" d="M2469 892l15 31 2-5-15-32z"/>
<path class="c355" d="M2484 923l14 36 2-6-14-35z"/>
<path class="c339" d="M2498 959l15 38 2-5-15-39z"/>
<path class="c323" d="M2513 997l15 42 2-6-15-41z"/>
<path class="c303" d="M2528 1039l14 43 2-6-14-43z"/>
<path class="c287" d="M2542 1082l15 44 2-7-15-43z"/>
<path class="c267" d="M2557 1126l14 43 3-6-15-44z"/>
<path class="c247" d="M2571 1169l15 42 2-6-14-42z"/>
<path class="c231" d="M2586 1211l15 40 2-7-15-39z"/>
<path class="c143" d="M2864 1577l14-85 3-2-15 83z"/>
<path class="c414" d="M2365 757l14 13 15 15 2-4-15-15-14-13z"/>
<path class="c406" d="M2394 785l15 17 2-5-15-16z"/>
<path class="c402" d="M2409 802l14 19 2-5-14-19z"/>
<path class="c395" d="M2423 821l15 22 2-5-15-22z"/>
<path class="c387" d="M2438 843l14 25 3-5-15-25z"/>
<path class="c379" d="M2452 868l15 29 2-5-14-29z"/>
<path class="c367" d="M2467 897l15 32 2-6-15-31z"/>
<path class="c351" d="M2482 929l14 35 2-5-14-36z"/>
<path class="c335" d="M2496 964l15 39 2-6-15-38z"/>
<path class="c319" d="M2511 1003l14 42 3-6-15-42z"/>
<path class="c303" d="M2525 1045l15 43 2-6-14-43z"/>
<path class="c283" d="M2540 1088l15 44 2-6-15-44z"/>
<path class="c263" d="M2555 1132l14 43 2-6-14-43z"/>
<path class="c247" d="M2569 1175l15 42 2-6-15-42z"/>
<path class="c139" d="M2862 1582l14-87 2-3-14 85z"/>
<path class="c410" d="M2377 774l15 15 2-4-15-15z"/>
<path class="c406" d="M2392 789l14 17 3-4-15-17z"/>
<path class="c402" d="M2406 806l15 19 2-4-14-19z"/>
<path class="c395" d="M2421 825l15 22 2-4-15-22z"/>
<path class="c387" d="M2436 847l14 26 2-5-14-25z"/>
<path class="c375" d="M2450 873l15 28 2-4-15-29z"/>
<path class="c363" d="M2465 901l15 33 2-5-15-32z"/>
<path class="c351" d="M2480 934l14 36 2-6-14-35z"/>
<path class="c335" d="M2494 970l15 39 2-6-15-39z"/>
<path class="c315" d="M2509 1009l14 41 2-5-14-42z"/>
<path class="c299" d="M2523 1050l15 44 2-6-15-43z"/>
<path class="c279" d="M2538 1094l15 44 2-6-15-44z"/>
<path class="c259" d="M2553 1138l14 43 2-6-14-43z"/>
<path class="c243" d="M2567 1181l15 42 2-6-15-42z"/>
<path class="c139" d="M2860 1586l14-89 2-2-14 87z"/>
<path class="c406" d="M2390 793l14 17 2-4-14-17z"/>
<path class="c398" d="M2404 810l15 19 2-4-15-19z"/>
<path class="c390" d="M2419 829l15 23 2-5-15-22z"/>
<path class="c383" d="M2434 852l14 25 2-4-14-26z"/>
<path class="c375" d="M2448 877l15 29 2-5-15-28z"/>
<path class="c359" d="M2463 906l14 33 3-5-15-33z"/>
<path class="c347" d="M2477 939l15 36 2-5-14-36z"/>
<path class="c331" d="M2492 975l15 39 2-5-15-39z"/>
<path class="c315" d="M2507 1014l14 42 2-6-14-41z"/>
<path class="c295" d="M2521 1056l15 43 2-5-15-44z"/>
<path class="c275" d="M2536 1099l15 44 2-5-15-44z"/>
<path class="c259" d="M2551 1143l14 44 2-6-14-43z"/>
<path class="c239" d="M2565 1187l15 42 2-6-15-42z"/>
<path class="c139" d="M2858 1589l14-89 2-3-14 89z"/>
<path class="c394" d="M2400 817l14 20 5-8-15-19z"/>
<path class="c390" d="M2414 837l15 23 5-8-15-23z"/>
<path class="c378" d="M2429 860l14 26 5-9-14-25z"/>
<path class="c371" d="M2443 886l15 29 5-9-15-29z"/>
<path class="c359" d="M2458 915l15 33 4-9-14-33z"/>
<path class="c343" d="M2473 948l14 37 5-10-15-36z"/>
<path class="c327" d="M2487 985l15 39 5-10-15-39z"/>
<path class="c311" d="M2502 1024l15 43 4-11-14-42z"/>
<path class="c291" d="M2517 1067l14 44 5-12-15-43z"/>
<path class="c271" d="M2531 1111l15 44 5-12-15-44z"/>
<path class="c255" d="M2546 1155l14 44 5-12-14-44z"/>
<path class="c135" d="M2853 1597l14-92 5-5-14 89z"/>
<path class="c389" d="M2406 834l15 24 8 2-15-23z"/>
<path class="c377" d="M2421 858l14 26 8 2-14-26z"/>
<path class="c370" d="M2435 884l15 31 8 0-15-29z"/>
<path class="c354" d="M2450 915l15 33 8 0-15-33z"/>
<path class="c342" d="M2465 948l14 38 8-1-14-37z"/>
<path class="c326" d="M2479 986l15 41 8-3-15-39z"/>
<path class="c306" d="M2494 1027l15 43 8-3-15-43z"/>
<path class="c290" d="M2509 1070l14 44 8-3-14-44z"/>
<path class="c271" d="M2523 1114l15 45 8-4-15-44z"/>
<path class="c108" d="M2801 1569l15 9 14 9 15 9 8 1-15-9-14-10-15-10z"/>
<path class="c131" d="M2845 1596l14-67 8-24-14 92z"/>
<path class="c372" d="M2428 872l14 30 8 13-15-31z"/>
<path class="c356" d="M2442 902l15 34 8 12-15-33z"/>
<path class="c345" d="M2457 936l14 38 8 12-14-38z"/>
<path class="c329" d="M2471 974l15 41 8 12-15-41z"/>
<path class="c309" d="M2486 1015l15 43 8 12-15-43z"/>
<path class="c289" d="M2501 1058l14 45 8 11-14-44z"/>
<path class="c116" d="M2749 1532l15 11 14 10 8 6-14-10-15-10z"/>
<path class="c112" d="M2778 1553l15 10 15 9 14 9 8 6-14-9-15-9-15-10z"/>
<path class="c108" d="M2822 1581l15 8 8 7-15-9z"/>
<path class="c131" d="M2837 1589l15-49 7-11-14 67z"/>
<path class="c364" d="M2434 889l15 34 8 13-15-34z"/>
<path class="c353" d="M2449 923l14 37 8 14-14-38z"/>
<path class="c337" d="M2463 960l15 41 8 14-15-41z"/>
<path class="c317" d="M2478 1001l15 44 8 13-15-43z"/>
<path class="c120" d="M2741 1525l15 10 14 10 8 8-14-10-15-11z"/>
<path class="c116" d="M2770 1545l15 10 15 9 14 9 15 9 8 7-15-8-14-9-15-9-15-10z"/>
<path class="c130" d="M2829 1582l15-40 8-2-15 49z"/>
<path class="c128" d="M2719 1505l14 11 15 11 8 8-15-10-14-12z"/>
<path class="c124" d="M2748 1527l15 10 14 10 8 8-15-10-14-10z"/>
<path class="c120" d="M2777 1547l15 9 14 9 15 8 8 9-15-9-14-9-15-9z"/>
<path class="c134" d="M2821 1573l15-32 8 1-15 40z"/>
<path class="c132" d="M2725 1507l15 11 15 10 8 9-15-10-15-11z"/>
<path class="c128" d="M2755 1528l14 10 15 9 14 9 8 9-14-9-15-9-14-10z"/>
<path class="c124" d="M2798 1556l15 9 8 8-15-8z"/>
<path class="c138" d="M2813 1565l15-27 8 3-15 32z"/>
<path class="c137" d="M2732 1501l15 11 14 9 15 9 8 17-15-9-14-10-15-10z"/>
<path class="c133" d="M2776 1530l15 9 14 9 8 17-15-9-14-9z"/>
<path class="c142" d="M2805 1548l15-14 8 4-15 27z"/>
<path class="c155" d="M2739 1465l14 9 15 8 15 9 14 8 8 49-14-9-15-9-15-9-14-9z"/>
<path class="c154" d="M2797 1499l15 32 8 3-15 14z"/>
<path class="c164" d="M2789 1448l15 79 8 4-15-32z"/>
<path class="c183" d="M2781 1396l15 128 8 3-15-79z"/>
<path class="c199" d="M2773 1355l15 166 8 3-15-128z"/>
<path class="c424" d="M2400 801l15 33 8 19-15-34z"/>
<path class="c412" d="M2415 834l14 35 8 20-14-36z"/>
<path class="c396" d="M2429 869l15 37 8 21-15-38z"/>
<path class="c248" d="M2678 1296l14 10 15 10 15 9 8 3-15-9-15-10-14-8z"/>
<path class="c244" d="M2722 1325l14 9 15 9 14 9 8 3-14-9-15-9-14-9z"/>
<path class="c203" d="M2765 1352l15 165 8 4-15-166z"/>
<path class="c450" d="M2012 626l15-19 7-26-14 14z"/>
<path class="c462" d="M2027 607l14-15 8-23-15 12z"/>
<path class="c474" d="M2041 592l15-12 8-19-15 8z"/>
<path class="c482" d="M2056 580l14-8 8-17-14 6z"/>
<path class="c485" d="M2070 572l15-5 8-15-15 3z"/>
<path class="c493" d="M2085 567l15-4 8-13-15 2z"/>
<path class="c497" d="M2100 563l14-1 15 1 8-10-15-2-14-1z"/>
<path class="c501" d="M2129 563l15 2 7-9-14-3z"/>
<path class="c505" d="M2144 565l14 3 15 3 14 5 15 8 15 9 14 10 8-6-14-10-15-9-15-9-14-5-15-5-15-3z"/>
<path class="c501" d="M2231 603l15 10 14 12 8-6-14-12-15-10z"/>
<path class="c497" d="M2260 625l15 12 8-6-15-12z"/>
<path class="c493" d="M2275 637l15 14 8-6-15-14z"/>
<path class="c490" d="M2290 651l14 16 8-7-14-15z"/>
<path class="c486" d="M2304 667l15 17 8-7-15-17z"/>
<path class="c482" d="M2319 684l15 20 7-8-14-19z"/>
<path class="c474" d="M2334 704l14 23 8-9-15-22z"/>
<path class="c466" d="M2348 727l15 25 8-9-15-25z"/>
<path class="c454" d="M2363 752l14 29 8-11-14-27z"/>
<path class="c442" d="M2377 781l15 32 8-12-15-31z"/>
<path class="c431" d="M2392 813l15 35 8-14-15-33z"/>
<path class="c415" d="M2407 848l14 37 8-16-14-35z"/>
<path class="c403" d="M2421 885l15 39 8-18-15-37z"/>
<path class="c387" d="M2436 924l15 40 7-20-14-38z"/>
<path class="c367" d="M2451 964l14 40 8-21-15-39z"/>
<path class="c351" d="M2465 1004l15 39 8-22-15-38z"/>
<path class="c335" d="M2480 1043l14 37 8-23-14-36z"/>
<path class="c323" d="M2494 1080l15 34 8-24-15-33z"/>
<path class="c311" d="M2509 1114l15 31 8-24-15-31z"/>
<path class="c299" d="M2524 1145l14 28 8-24-14-28z"/>
<path class="c287" d="M2538 1173l15 25 8-25-15-24z"/>
<path class="c279" d="M2553 1198l14 22 8-25-14-22z"/>
<path class="c271" d="M2567 1220l15 19 8-25-15-19z"/>
<path class="c267" d="M2582 1239l15 18 8-25-15-18z"/>
<path class="c263" d="M2597 1257l14 15 8-25-14-15z"/>
<path class="c259" d="M2611 1272l15 14 8-25-15-14z"/>
<path class="c255" d="M2626 1286l15 13 8-26-15-12z"/>
<path class="c251" d="M2641 1299l14 12 15 11 8-26-15-11-14-12z"/>
<path class="c247" d="M2670 1322l14 10 15 10 8-26-15-10-14-10z"/>
<path class="c243" d="M2699 1342l15 10 14 9 15 9 8-27-15-9-14-9-15-9z"/>
<path class="c239" d="M2743 1370l15 9 7-27-14-9z"/>
<path class="c203" d="M2758 1379l14 135 8 3-15-165z"/>
<path class="c459" d="M2033 637l15-16 8-41-15 12z"/>
<path class="c467" d="M2048 621l14-12 8-37-14 8z"/>
<path class="c475" d="M2062 609l15-8 8-34-15 5z"/>
<path class="c483" d="M2077 601l15-6 8-32-15 4z"/>
<path class="c487" d="M2092 595l14-3 8-30-14 1z"/>
<path class="c491" d="M2106 592l15-1 8-28-15-1z"/>
<path class="c494" d="M2121 591l15 1 8-27-15-2z"/>
<path class="c498" d="M2136 592l14 1 15 3 8-25-15-3-14-3z"/>
<path class="c502" d="M2165 596l14 4 8-24-14-5z"/>
<path class="c503" d="M2179 600l15 8 8-24-15-8z"/>
<path class="c499" d="M2194 608l15 9 14 10 15 10 8-24-15-10-14-10-15-9z"/>
<path class="c495" d="M2238 637l15 11 14 13 8-24-15-12-14-12z"/>
<path class="c491" d="M2267 661l15 14 8-24-15-14z"/>
<path class="c487" d="M2282 675l14 16 8-24-14-16z"/>
<path class="c483" d="M2296 691l15 18 8-25-15-17z"/>
<path class="c475" d="M2311 709l15 20 8-25-15-20z"/>
<path class="c467" d="M2326 729l14 23 8-25-14-23z"/>
<path class="c459" d="M2340 752l15 26 8-26-15-25z"/>
<path class="c447" d="M2355 778l14 30 8-27-14-29z"/>
<path class="c435" d="M2369 808l15 32 8-27-15-32z"/>
<path class="c423" d="M2384 840l15 36 8-28-15-35z"/>
<path class="c407" d="M2399 876l14 38 8-29-14-37z"/>
<path class="c391" d="M2413 914l15 40 8-30-15-39z"/>
<path class="c375" d="M2428 954l15 40 8-30-15-40z"/>
<path class="c355" d="M2443 994l14 40 8-30-14-40z"/>
<path class="c339" d="M2457 1034l15 39 8-30-15-39z"/>
<path class="c323" d="M2472 1073l14 37 8-30-14-37z"/>
<path class="c311" d="M2486 1110l15 34 8-30-15-34z"/>
<path class="c295" d="M2501 1144l15 31 8-30-15-31z"/>
<path class="c283" d="M2516 1175l14 28 8-30-14-28z"/>
<path class="c275" d="M2530 1203l15 25 8-30-15-25z"/>
<path class="c267" d="M2545 1228l15 22 7-30-14-22z"/>
<path class="c259" d="M2560 1250l14 19 8-30-15-19z"/>
<path class="c255" d="M2574 1269l15 18 8-30-15-18z"/>
<path class="c247" d="M2589 1287l14 15 8-30-14-15z"/>
<path class="c243" d="M2603 1302l15 14 15 12 8-29-15-13-15-14z"/>
<path class="c239" d="M2633 1328l14 12 8-29-14-12z"/>
<path class="c235" d="M2647 1340l15 11 15 10 7-29-14-10-15-11z"/>
<path class="c231" d="M2677 1361l14 10 15 10 14 9 8-29-14-9-15-10-15-10z"/>
<path class="c227" d="M2720 1390l15 9 15 8 8-28-15-9-15-9z"/>
<path class="c199" d="M2750 1407l14 106 8 1-14-135z"/>
<path class="c459" d="M2055 650l14-11 8-38-15 8z"/>
<path class="c467" d="M2069 639l15-8 8-36-15 6z"/>
<path class="c471" d="M2084 631l14-5 8-34-14 3z"/>
<path class="c475" d="M2098 626l15-3 8-32-15 1z"/>
<path class="c483" d="M2113 623l15-1 14 1 8-30-14-1-15-1z"/>
<path class="c487" d="M2142 623l15 1 8-28-15-3z"/>
<path class="c491" d="M2157 624l14 3 15 9 8-28-15-8-14-4z"/>
<path class="c487" d="M2186 636l15 8 14 10 15 10 8-27-15-10-14-10-15-9z"/>
<path class="c483" d="M2230 664l15 11 14 13 8-27-14-13-15-11z"/>
<path class="c479" d="M2259 688l15 14 8-27-15-14z"/>
<path class="c475" d="M2274 702l14 16 8-27-14-16z"/>
<path class="c467" d="M2288 718l15 18 8-27-15-18z"/>
<path class="c463" d="M2303 736l15 21 8-28-15-20z"/>
<path class="c455" d="M2318 757l14 24 8-29-14-23z"/>
<path class="c447" d="M2332 781l15 27 8-30-15-26z"/>
<path class="c435" d="M2347 808l15 30 7-30-14-30z"/>
<path class="c423" d="M2362 838l14 33 8-31-15-32z"/>
<path class="c407" d="M2376 871l15 36 8-31-15-36z"/>
<path class="c391" d="M2391 907l14 39 8-32-14-38z"/>
<path class="c375" d="M2405 946l15 41 8-33-15-40z"/>
<path class="c359" d="M2420 987l15 40 8-33-15-40z"/>
<path class="c343" d="M2435 1027l14 41 8-34-14-40z"/>
<path class="c323" d="M2449 1068l15 39 8-34-15-39z"/>
<path class="c307" d="M2464 1107l15 37 7-34-14-37z"/>
<path class="c295" d="M2479 1144l14 34 8-34-15-34z"/>
<path class="c283" d="M2493 1178l15 31 8-34-15-31z"/>
<path class="c271" d="M2508 1209l14 27 8-33-14-28z"/>
<path class="c259" d="M2522 1236l15 25 8-33-15-25z"/>
<path class="c251" d="M2537 1261l15 21 8-32-15-22z"/>
<path class="c243" d="M2552 1282l14 19 8-32-14-19z"/>
<path class="c239" d="M2566 1301l15 17 8-31-15-18z"/>
<path class="c235" d="M2581 1318l14 15 8-31-14-15z"/>
<path class="c231" d="M2595 1333l15 14 8-31-15-14z"/>
<path class="c227" d="M2610 1347l15 12 8-31-15-12z"/>
<path class="c223" d="M2625 1359l14 11 15 11 8-30-15-11-14-12z"/>
<path class="c219" d="M2654 1381l15 10 14 10 15 9 8-29-15-10-14-10-15-10z"/>
<path class="c215" d="M2698 1410l14 9 15 8 15 9 8-29-15-8-15-9-14-9z"/>
<path class="c191" d="M2742 1436l14 86 8-9-14-106z"/>
<path class="c462" d="M2090 656l15-4 8-29-15 3z"/>
<path class="c466" d="M2105 652l15-2 8-28-15 1z"/>
<path class="c470" d="M2120 650l14 0 8-27-14-1z"/>
<path class="c474" d="M2134 650l15 1 15 2 7-26-14-3-15-1z"/>
<path class="c479" d="M2164 653l14 8 8-25-15-9z"/>
<path class="c475" d="M2178 661l15 9 14 9 15 11 8-26-15-10-14-10-15-8z"/>
<path class="c471" d="M2222 690l15 11 14 13 8-26-14-13-15-11z"/>
<path class="c467" d="M2251 714l15 14 8-26-15-14z"/>
<path class="c463" d="M2266 728l15 17 7-27-14-16z"/>
<path class="c455" d="M2281 745l14 18 8-27-15-18z"/>
<path class="c451" d="M2295 763l15 22 8-28-15-21z"/>
<path class="c443" d="M2310 785l14 24 8-28-14-24z"/>
<path class="c431" d="M2324 809l15 27 8-28-15-27z"/>
<path class="c419" d="M2339 836l15 31 8-29-15-30z"/>
<path class="c407" d="M2354 867l14 34 8-30-14-33z"/>
<path class="c395" d="M2368 901l15 37 8-31-15-36z"/>
<path class="c379" d="M2383 938l14 40 8-32-14-39z"/>
<path class="c359" d="M2397 978l15 41 8-32-15-41z"/>
<path class="c343" d="M2412 1019l15 41 8-33-15-40z"/>
<path class="c327" d="M2427 1060l14 41 8-33-14-41z"/>
<path class="c307" d="M2441 1101l15 39 8-33-15-39z"/>
<path class="c291" d="M2456 1140l15 36 8-32-15-37z"/>
<path class="c279" d="M2471 1176l14 34 8-32-14-34z"/>
<path class="c267" d="M2485 1210l15 31 8-32-15-31z"/>
<path class="c255" d="M2500 1241l14 27 8-32-14-27z"/>
<path class="c243" d="M2514 1268l15 24 8-31-15-25z"/>
<path class="c235" d="M2529 1292l15 21 8-31-15-21z"/>
<path class="c231" d="M2544 1313l14 19 8-31-14-19z"/>
<path class="c223" d="M2558 1332l15 16 8-30-15-17z"/>
<path class="c219" d="M2573 1348l15 15 7-30-14-15z"/>
<path class="c215" d="M2588 1363l14 13 8-29-15-14z"/>
<path class="c207" d="M2631 1399l15 10 15 10 14 9 8-27-14-10-15-10-15-11z"/>
<path class="c203" d="M2675 1428l15 9 14 8 15 9 15 8 8-26-15-9-15-8-14-9-15-9z"/>
<path class="c183" d="M2734 1462l14 70 8-10-14-86z"/>
<path class="c462" d="M2126 669l15 2 8-20-15-1z"/>
<path class="c466" d="M2141 671l15 3 14 8 15 9 8-21-15-9-14-8-15-2z"/>
<path class="c462" d="M2185 691l14 10 15 10 8-21-15-11-14-9z"/>
<path class="c458" d="M2214 711l15 12 8-22-15-11z"/>
<path class="c459" d="M2229 723l14 13 8-22-14-13z"/>
<path class="c455" d="M2243 736l15 14 8-22-15-14z"/>
<path class="c451" d="M2258 750l15 17 8-22-15-17z"/>
<path class="c443" d="M2273 767l14 19 8-23-14-18z"/>
<path class="c439" d="M2287 786l15 22 8-23-15-22z"/>
<path class="c431" d="M2302 808l14 25 8-24-14-24z"/>
<path class="c419" d="M2316 833l15 28 8-25-15-27z"/>
<path class="c407" d="M2331 861l15 31 8-25-15-31z"/>
<path class="c395" d="M2346 892l14 35 8-26-14-34z"/>
<path class="c379" d="M2360 927l15 38 8-27-15-37z"/>
<path class="c363" d="M2375 965l15 40 7-27-14-40z"/>
<path class="c347" d="M2390 1005l14 41 8-27-15-41z"/>
<path class="c327" d="M2404 1046l15 42 8-28-15-41z"/>
<path class="c311" d="M2419 1088l14 41 8-28-14-41z"/>
<path class="c295" d="M2433 1129l15 39 8-28-15-39z"/>
<path class="c279" d="M2448 1168l15 37 8-29-15-36z"/>
<path class="c263" d="M2463 1205l14 33 8-28-14-34z"/>
<path class="c251" d="M2477 1238l15 30 8-27-15-31z"/>
<path class="c239" d="M2492 1268l15 27 7-27-14-27z"/>
<path class="c231" d="M2507 1295l14 24 8-27-15-24z"/>
<path class="c223" d="M2521 1319l15 20 8-26-15-21z"/>
<path class="c190" d="M2667 1451l15 9 15 8 14 8 15 8 8-22-15-8-15-9-14-8-15-9z"/>
<path class="c175" d="M2726 1484l14 57 8-9-14-70z"/>
<path class="c456" d="M2177 689l15 10 14 12 8 0-15-10-14-10z"/>
<path class="c453" d="M2206 711l15 12 14 14 8-1-14-13-15-12z"/>
<path class="c449" d="M2235 737l15 16 8-3-15-14z"/>
<path class="c441" d="M2250 753l15 17 8-3-15-17z"/>
<path class="c438" d="M2265 770l14 20 8-4-14-19z"/>
<path class="c430" d="M2279 790l15 22 8-4-15-22z"/>
<path class="c422" d="M2294 812l15 26 7-5-14-25z"/>
<path class="c414" d="M2309 838l14 28 8-5-15-28z"/>
<path class="c402" d="M2323 866l15 33 8-7-15-31z"/>
<path class="c386" d="M2338 899l14 35 8-7-14-35z"/>
<path class="c370" d="M2352 934l15 38 8-7-15-38z"/>
<path class="c355" d="M2367 972l15 41 8-8-15-40z"/>
<path class="c339" d="M2382 1013l14 42 8-9-14-41z"/>
<path class="c319" d="M2396 1055l15 42 8-9-15-42z"/>
<path class="c303" d="M2411 1097l14 41 8-9-14-41z"/>
<path class="c287" d="M2425 1138l15 39 8-9-15-39z"/>
<path class="c271" d="M2440 1177l15 37 8-9-15-37z"/>
<path class="c254" d="M2455 1214l14 33 8-9-14-33z"/>
<path class="c242" d="M2469 1247l15 30 8-9-15-30z"/>
<path class="c171" d="M2718 1479l14 85 8-23-14-57z"/>
<path class="c456" d="M2198 705l15 12 8 6-15-12z"/>
<path class="c452" d="M2213 717l14 14 8 6-14-14z"/>
<path class="c448" d="M2227 731l15 15 8 7-15-16z"/>
<path class="c444" d="M2242 746l15 18 8 6-15-17z"/>
<path class="c440" d="M2257 764l14 19 8 7-14-20z"/>
<path class="c432" d="M2271 783l15 23 8 6-15-22z"/>
<path class="c425" d="M2286 806l15 25 8 7-15-26z"/>
<path class="c413" d="M2301 831l14 28 8 7-14-28z"/>
<path class="c401" d="M2315 859l15 32 8 8-15-33z"/>
<path class="c389" d="M2330 891l14 35 8 8-14-35z"/>
<path class="c373" d="M2344 926l15 38 8 8-15-38z"/>
<path class="c357" d="M2359 964l15 40 8 9-15-41z"/>
<path class="c337" d="M2374 1004l14 41 8 10-14-42z"/>
<path class="c321" d="M2388 1045l15 42 8 10-15-42z"/>
<path class="c301" d="M2403 1087l15 41 7 10-14-41z"/>
<path class="c285" d="M2418 1128l14 39 8 10-15-39z"/>
<path class="c269" d="M2432 1167l15 37 8 10-15-37z"/>
<path class="c253" d="M2447 1204l14 33 8 10-14-33z"/>
<path class="c167" d="M2710 1467l15 109 7-12-14-85z"/>
<path class="c456" d="M2205 711l15 13 7 7-14-14z"/>
<path class="c452" d="M2220 724l14 15 8 7-15-15z"/>
<path class="c448" d="M2234 739l15 17 8 8-15-18z"/>
<path class="c444" d="M2249 756l14 20 8 7-14-19z"/>
<path class="c436" d="M2263 776l15 22 8 8-15-23z"/>
<path class="c428" d="M2278 798l15 24 8 9-15-25z"/>
<path class="c417" d="M2293 822l14 28 8 9-14-28z"/>
<path class="c405" d="M2307 850l15 32 8 9-15-32z"/>
<path class="c393" d="M2322 882l14 34 8 10-14-35z"/>
<path class="c377" d="M2336 916l15 38 8 10-15-38z"/>
<path class="c361" d="M2351 954l15 39 8 11-15-40z"/>
<path class="c345" d="M2366 993l14 41 8 11-14-41z"/>
<path class="c325" d="M2380 1034l15 42 8 11-15-42z"/>
<path class="c309" d="M2395 1076l15 40 8 12-15-41z"/>
<path class="c293" d="M2410 1116l14 39 8 12-14-39z"/>
<path class="c277" d="M2424 1155l15 36 8 13-15-37z"/>
<path class="c260" d="M2439 1191l14 34 8 12-14-33z"/>
<path class="c171" d="M2702 1453l15 125 8-2-15-109z"/>
<path class="c452" d="M2226 731l15 17 8 8-15-17z"/>
<path class="c448" d="M2241 748l14 19 8 9-14-20z"/>
<path class="c440" d="M2255 767l15 22 8 9-15-22z"/>
<path class="c432" d="M2270 789l15 24 8 9-15-24z"/>
<path class="c424" d="M2285 813l14 28 8 9-14-28z"/>
<path class="c413" d="M2299 841l15 30 8 11-15-32z"/>
<path class="c401" d="M2314 871l15 34 7 11-14-34z"/>
<path class="c385" d="M2329 905l14 37 8 12-15-38z"/>
<path class="c369" d="M2343 942l15 39 8 12-15-39z"/>
<path class="c353" d="M2358 981l14 41 8 12-14-41z"/>
<path class="c333" d="M2372 1022l15 41 8 13-15-42z"/>
<path class="c317" d="M2387 1063l15 40 8 13-15-40z"/>
<path class="c301" d="M2402 1103l14 39 8 13-14-39z"/>
<path class="c284" d="M2416 1142l15 36 8 13-15-36z"/>
<path class="c268" d="M2431 1178l15 33 7 14-14-34z"/>
<path class="c175" d="M2694 1437l15 140 8 1-15-125z"/>
<path class="c460" d="M2218 722l15 17 8 9-15-17z"/>
<path class="c452" d="M2233 739l15 19 7 9-14-19z"/>
<path class="c448" d="M2248 758l14 21 8 10-15-22z"/>
<path class="c440" d="M2262 779l15 24 8 10-15-24z"/>
<path class="c428" d="M2277 803l14 27 8 11-14-28z"/>
<path class="c416" d="M2291 830l15 30 8 11-15-30z"/>
<path class="c405" d="M2306 860l15 34 8 11-15-34z"/>
<path class="c393" d="M2321 894l14 36 8 12-14-37z"/>
<path class="c377" d="M2335 930l15 39 8 12-15-39z"/>
<path class="c357" d="M2350 969l14 40 8 13-14-41z"/>
<path class="c341" d="M2364 1009l15 40 8 14-15-41z"/>
<path class="c325" d="M2379 1049l15 40 8 14-15-40z"/>
<path class="c308" d="M2394 1089l14 38 8 15-14-39z"/>
<path class="c292" d="M2408 1127l15 36 8 15-15-36z"/>
<path class="c276" d="M2423 1163l15 33 8 15-15-33z"/>
<path class="c183" d="M2686 1420l15 153 8 4-15-140z"/>
<path class="c464" d="M2210 713l15 17 8 9-15-17z"/>
<path class="c452" d="M2240 748l14 21 8 10-14-21z"/>
<path class="c444" d="M2254 769l15 23 8 11-15-24z"/>
<path class="c436" d="M2269 792l14 27 8 11-14-27z"/>
<path class="c424" d="M2283 819l15 30 8 11-15-30z"/>
<path class="c412" d="M2298 849l15 33 8 12-15-34z"/>
<path class="c397" d="M2313 882l14 35 8 13-14-36z"/>
<path class="c385" d="M2327 917l15 38 8 14-15-39z"/>
<path class="c365" d="M2342 955l15 40 7 14-14-40z"/>
<path class="c349" d="M2357 995l14 40 8 14-15-40z"/>
<path class="c333" d="M2371 1035l15 39 8 15-15-40z"/>
<path class="c316" d="M2386 1074l14 38 8 15-14-38z"/>
<path class="c300" d="M2400 1112l15 36 8 15-15-36z"/>
<path class="c288" d="M2415 1148l15 32 8 16-15-33z"/>
<path class="c272" d="M2430 1180l14 30 8 15-14-29z"/>
<path class="c187" d="M2678 1403l15 167 8 3-15-153z"/>
<path class="c472" d="M2202 704l15 16 8 10-15-17z"/>
<path class="c464" d="M2217 720l15 18 8 10-15-18z"/>
<path class="c460" d="M2232 738l14 21 8 10-14-21z"/>
<path class="c452" d="M2246 759l15 23 8 10-15-23z"/>
<path class="c444" d="M2261 782l15 26 7 11-14-27z"/>
<path class="c432" d="M2276 808l14 29 8 12-15-30z"/>
<path class="c420" d="M2290 837l15 32 8 13-15-33z"/>
<path class="c405" d="M2305 869l14 36 8 12-14-35z"/>
<path class="c393" d="M2319 905l15 37 8 13-15-38z"/>
<path class="c373" d="M2334 942l15 39 8 14-15-40z"/>
<path class="c357" d="M2349 981l14 39 8 15-14-40z"/>
<path class="c341" d="M2363 1020l15 40 8 14-15-39z"/>
<path class="c324" d="M2378 1060l14 37 8 15-14-38z"/>
<path class="c308" d="M2392 1097l15 36 8 15-15-36z"/>
<path class="c296" d="M2407 1133l15 32 8 15-15-32z"/>
<path class="c195" d="M2670 1388l15 178 8 4-15-167z"/>
<path class="c472" d="M2209 711l15 18 8 9-15-18z"/>
<path class="c464" d="M2224 729l14 20 8 10-14-21z"/>
<path class="c456" d="M2238 749l15 23 8 10-15-23z"/>
<path class="c448" d="M2253 772l15 25 8 11-15-26z"/>
<path class="c440" d="M2268 797l14 29 8 11-14-29z"/>
<path class="c428" d="M2282 826l15 32 8 11-15-32z"/>
<path class="c413" d="M2297 858l14 34 8 13-14-36z"/>
<path class="c397" d="M2311 892l15 37 8 13-15-37z"/>
<path class="c381" d="M2326 929l15 39 8 13-15-39z"/>
<path class="c365" d="M2341 968l14 39 8 13-14-39z"/>
<path class="c349" d="M2355 1007l15 39 8 14-15-40z"/>
<path class="c332" d="M2370 1046l15 37 7 14-14-37z"/>
<path class="c316" d="M2385 1083l14 35 8 15-15-36z"/>
<path class="c304" d="M2399 1118l15 33 8 14-15-32z"/>
<path class="c292" d="M2414 1151l14 29 8 15-14-30z"/>
<path class="c280" d="M2428 1180l15 26 8 15-15-26z"/>
<path class="c199" d="M2662 1374l15 189 8 3-15-178z"/>
<path class="c484" d="M2187 688l14 15 8 8-15-15z"/>
<path class="c476" d="M2201 703l15 18 8 8-15-18z"/>
<path class="c472" d="M2216 721l14 19 8 9-14-20z"/>
<path class="c464" d="M2230 740l15 23 8 9-15-23z"/>
<path class="c456" d="M2245 763l15 25 8 9-15-25z"/>
<path class="c444" d="M2260 788l14 28 8 10-14-29z"/>
<path class="c433" d="M2274 816l15 31 8 11-15-32z"/>
<path class="c421" d="M2289 847l15 35 7 10-14-34z"/>
<path class="c405" d="M2304 882l14 36 8 11-15-37z"/>
<path class="c389" d="M2318 918l15 38 8 12-15-39z"/>
<path class="c373" d="M2333 956l14 39 8 12-14-39z"/>
<path class="c357" d="M2347 995l15 38 8 13-15-39z"/>
<path class="c341" d="M2362 1033l15 37 8 13-15-37z"/>
<path class="c324" d="M2377 1070l14 36 8 12-14-35z"/>
<path class="c312" d="M2391 1106l15 32 8 13-15-33z"/>
<path class="c300" d="M2406 1138l14 29 8 13-14-29z"/>
<path class="c288" d="M2420 1167l15 27 8 12-15-26z"/>
<path class="c280" d="M2435 1194l15 23 8 12-15-23z"/>
<path class="c207" d="M2654 1362l15 198 8 3-15-189z"/>
<path class="c500" d="M2091 615l15 9 14 10 15 10 8 6-15-10-15-10-14-9z"/>
<path class="c492" d="M2164 667l15 14 8 7-15-14z"/>
<path class="c488" d="M2179 681l14 15 8 7-14-15z"/>
<path class="c484" d="M2193 696l15 17 8 8-15-18z"/>
<path class="c476" d="M2208 713l14 20 8 7-14-19z"/>
<path class="c468" d="M2222 733l15 22 8 8-15-23z"/>
<path class="c460" d="M2237 755l15 25 8 8-15-25z"/>
<path class="c453" d="M2252 780l14 27 8 9-14-28z"/>
<path class="c441" d="M2266 807l15 31 8 9-15-31z"/>
<path class="c425" d="M2281 838l15 34 8 10-15-35z"/>
<path class="c413" d="M2296 872l14 36 8 10-14-36z"/>
<path class="c397" d="M2310 908l15 38 8 10-15-38z"/>
<path class="c381" d="M2325 946l14 38 8 11-14-39z"/>
<path class="c365" d="M2339 984l15 38 8 11-15-38z"/>
<path class="c349" d="M2354 1022l15 37 8 11-15-37z"/>
<path class="c333" d="M2369 1059l14 35 8 12-14-36z"/>
<path class="c321" d="M2383 1094l15 33 8 11-15-32z"/>
<path class="c308" d="M2398 1127l15 29 7 11-14-29z"/>
<path class="c296" d="M2413 1156l14 27 8 11-15-27z"/>
<path class="c288" d="M2427 1183l15 23 8 11-15-23z"/>
<path class="c256" d="M2544 1304l15 8 14 8 15 9 15 10 14 8 15 9 14 9 8-3-14-6-15-6-14-6-15-7-15-7-14-8-15-8z"/>
<path class="c211" d="M2646 1365l15 191 8 4-15-198z"/>
<path class="c500" d="M1995 585l15 1 14 3 8 5-14-2-15-1z"/>
<path class="c504" d="M2024 589l15 3 15 5 8 5-15-5-15-3z"/>
<path class="c508" d="M2054 597l14 4 15 9 8 5-15-9-14-4z"/>
<path class="c504" d="M2083 610l15 9 14 9 15 11 8 5-15-10-14-10-15-9z"/>
<path class="c500" d="M2127 639l14 11 15 12 8 5-15-12-14-11z"/>
<path class="c496" d="M2156 662l15 13 8 6-15-14z"/>
<path class="c492" d="M2171 675l14 15 8 6-14-15z"/>
<path class="c488" d="M2185 690l15 17 8 6-15-17z"/>
<path class="c480" d="M2200 707l15 20 7 6-14-20z"/>
<path class="c472" d="M2215 727l14 21 8 7-15-22z"/>
<path class="c465" d="M2229 748l15 25 8 7-15-25z"/>
<path class="c457" d="M2244 773l14 27 8 7-14-27z"/>
<path class="c445" d="M2258 800l15 31 8 7-15-31z"/>
<path class="c433" d="M2273 831l15 33 8 8-15-34z"/>
<path class="c417" d="M2288 864l14 36 8 8-14-36z"/>
<path class="c401" d="M2302 900l15 37 8 9-15-38z"/>
<path class="c385" d="M2317 937l14 38 8 9-14-38z"/>
<path class="c369" d="M2331 975l15 39 8 8-15-38z"/>
<path class="c353" d="M2346 1014l15 39 8 6-15-37z"/>
<path class="c341" d="M2361 1053l14 36 8 5-14-35z"/>
<path class="c326" d="M2375 1089l15 34 8 4-15-33z"/>
<path class="c314" d="M2390 1123l15 31 8 2-15-29z"/>
<path class="c302" d="M2405 1154l14 28 8 1-14-27z"/>
<path class="c294" d="M2419 1182l15 25 8-1-15-23z"/>
<path class="c286" d="M2434 1207l14 22 8-3-14-20z"/>
<path class="c278" d="M2448 1229l15 20 8-6-15-17z"/>
<path class="c274" d="M2463 1249l15 17 8-7-15-16z"/>
<path class="c270" d="M2478 1266l14 16 8-10-14-13z"/>
<path class="c266" d="M2492 1282l15 14 8-12-15-12z"/>
<path class="c262" d="M2507 1296l15 12 7-13-14-11z"/>
<path class="c258" d="M2522 1308l14 12 15 11 14 10 8-21-14-8-15-8-15-9z"/>
<path class="c254" d="M2565 1341l15 10 15 10 14 9 15 9 8-23-15-9-14-8-15-10-15-9z"/>
<path class="c250" d="M2624 1379l15 8 7-22-14-9z"/>
<path class="c207" d="M2639 1387l14 166 8 3-15-191z"/>
<path class="c450" d="M1885 662l15-19 8-27-15 15z"/>
<path class="c462" d="M1900 643l14-15 8-24-14 12z"/>
<path class="c474" d="M1914 628l15-12 8-20-15 8z"/>
<path class="c482" d="M1929 616l14-8 8-18-14 6z"/>
<path class="c486" d="M1943 608l15-6 8-16-15 4z"/>
<path class="c494" d="M1958 602l15-3 8-14-15 1z"/>
<path class="c497" d="M1973 599l14-1 8-13-14 0z"/>
<path class="c501" d="M1987 598l15 0 15 2 7-11-14-3-15-1z"/>
<path class="c505" d="M2017 600l14 3 15 4 8-10-15-5-15-3z"/>
<path class="c509" d="M2046 607l14 4 8-10-14-4z"/>
<path class="c510" d="M2060 611l15 9 8-10-15-9z"/>
<path class="c506" d="M2075 620l15 9 14 9 15 11 8-10-15-11-14-9-15-9z"/>
<path class="c502" d="M2119 649l15 11 14 13 8-11-15-12-14-11z"/>
<path class="c498" d="M2148 673l15 13 8-11-15-13z"/>
<path class="c494" d="M2163 686l14 16 8-12-14-15z"/>
<path class="c490" d="M2177 702l15 18 8-13-15-17z"/>
<path class="c482" d="M2192 720l15 20 8-13-15-20z"/>
<path class="c474" d="M2207 740l14 22 8-14-14-21z"/>
<path class="c466" d="M2221 762l15 26 8-15-15-25z"/>
<path class="c459" d="M2236 788l14 28 8-16-14-27z"/>
<path class="c447" d="M2250 816l15 32 8-17-15-31z"/>
<path class="c431" d="M2265 848l15 35 8-19-15-33z"/>
<path class="c419" d="M2280 883l14 37 8-20-14-36z"/>
<path class="c403" d="M2294 920l15 39 8-22-15-37z"/>
<path class="c387" d="M2309 959l15 40 7-24-14-38z"/>
<path class="c371" d="M2324 999l14 40 8-25-15-39z"/>
<path class="c355" d="M2338 1039l15 39 8-25-15-39z"/>
<path class="c339" d="M2353 1078l14 37 8-26-14-36z"/>
<path class="c323" d="M2367 1115l15 34 8-26-15-34z"/>
<path class="c311" d="M2382 1149l15 31 8-26-15-31z"/>
<path class="c299" d="M2397 1180l14 28 8-26-14-28z"/>
<path class="c287" d="M2411 1208l15 25 8-26-15-25z"/>
<path class="c279" d="M2426 1233l15 22 7-26-14-22z"/>
<path class="c271" d="M2441 1255l14 20 8-26-15-20z"/>
<path class="c267" d="M2455 1275l15 17 8-26-15-17z"/>
<path class="c263" d="M2470 1292l14 16 8-26-14-16z"/>
<path class="c259" d="M2484 1308l15 14 8-26-15-14z"/>
<path class="c255" d="M2499 1322l15 12 8-26-15-12z"/>
<path class="c251" d="M2514 1334l14 12 15 11 8-26-15-11-14-12z"/>
<path class="c247" d="M2543 1357l14 11 15 9 8-26-15-10-14-10z"/>
<path class="c243" d="M2572 1377l15 10 14 9 15 9 8-26-15-9-14-9-15-10z"/>
<path class="c239" d="M2616 1405l15 9 8-27-15-8z"/>
<path class="c203" d="M2631 1414l14 135 8 4-14-166z"/>
<path class="c459" d="M1906 672l15-15 8-41-15 12z"/>
<path class="c467" d="M1921 657l15-12 7-37-14 8z"/>
<path class="c475" d="M1936 645l14-9 8-34-15 6z"/>
<path class="c483" d="M1950 636l15-5 8-32-15 3z"/>
<path class="c487" d="M1965 631l14-3 8-30-14 1z"/>
<path class="c491" d="M1979 628l15-1 8-29-15 0z"/>
<path class="c494" d="M1994 627l15 0 8-27-15-2z"/>
<path class="c498" d="M2009 627l14 2 15 3 8-25-15-4-14-3z"/>
<path class="c502" d="M2038 632l14 4 8-25-14-4z"/>
<path class="c503" d="M2052 636l15 8 8-24-15-9z"/>
<path class="c499" d="M2067 644l15 9 14 9 15 11 8-24-15-11-14-9-15-9z"/>
<path class="c495" d="M2111 673l15 11 14 12 8-23-14-13-15-11z"/>
<path class="c491" d="M2140 696l15 14 8-24-15-13z"/>
<path class="c487" d="M2155 710l14 16 8-24-14-16z"/>
<path class="c483" d="M2169 726l15 18 8-24-15-18z"/>
<path class="c475" d="M2184 744l15 21 8-25-15-20z"/>
<path class="c467" d="M2199 765l14 23 8-26-14-22z"/>
<path class="c459" d="M2213 788l15 26 8-26-15-26z"/>
<path class="c447" d="M2228 814l15 29 7-27-14-28z"/>
<path class="c435" d="M2243 843l14 33 8-28-15-32z"/>
<path class="c423" d="M2257 876l15 36 8-29-15-35z"/>
<path class="c407" d="M2272 912l14 38 8-30-14-37z"/>
<path class="c391" d="M2286 950l15 39 8-30-15-39z"/>
<path class="c375" d="M2301 989l15 41 8-31-15-40z"/>
<path class="c355" d="M2316 1030l14 40 8-31-14-40z"/>
<path class="c339" d="M2330 1070l15 39 8-31-15-39z"/>
<path class="c323" d="M2345 1109l14 37 8-31-14-37z"/>
<path class="c311" d="M2359 1146l15 34 8-31-15-34z"/>
<path class="c295" d="M2374 1180l15 31 8-31-15-31z"/>
<path class="c283" d="M2389 1211l14 28 8-31-14-28z"/>
<path class="c275" d="M2403 1239l15 25 8-31-15-25z"/>
<path class="c267" d="M2418 1264l15 21 8-30-15-22z"/>
<path class="c259" d="M2433 1285l14 20 8-30-14-20z"/>
<path class="c255" d="M2447 1305l15 17 8-30-15-17z"/>
<path class="c247" d="M2462 1322l14 15 8-29-14-16z"/>
<path class="c243" d="M2476 1337l15 14 15 13 8-30-15-12-15-14z"/>
<path class="c239" d="M2506 1364l14 12 8-30-14-12z"/>
<path class="c235" d="M2520 1376l15 10 15 11 7-29-14-11-15-11z"/>
<path class="c231" d="M2550 1397l14 10 15 9 14 9 8-29-14-9-15-10-15-9z"/>
<path class="c227" d="M2593 1425l15 9 15 9 8-29-15-9-15-9z"/>
<path class="c199" d="M2623 1443l14 106 8 0-14-135z"/>
<path class="c459" d="M1928 685l14-11 8-38-14 9z"/>
<path class="c467" d="M1942 674l15-8 8-35-15 5z"/>
<path class="c471" d="M1957 666l14-5 8-33-14 3z"/>
<path class="c475" d="M1971 661l15-3 8-31-15 1z"/>
<path class="c483" d="M1986 658l15-1 14 1 8-29-14-2-15 0z"/>
<path class="c487" d="M2015 658l15 2 8-28-15-3z"/>
<path class="c491" d="M2030 660l15 3 14 8 8-27-15-8-14-4z"/>
<path class="c487" d="M2059 671l15 9 14 9 15 10 8-26-15-11-14-9-15-9z"/>
<path class="c483" d="M2103 699l15 12 14 12 8-27-14-12-15-11z"/>
<path class="c479" d="M2132 723l15 14 8-27-15-14z"/>
<path class="c475" d="M2147 737l14 17 8-28-14-16z"/>
<path class="c467" d="M2161 754l15 18 8-28-15-18z"/>
<path class="c463" d="M2176 772l15 21 8-28-15-21z"/>
<path class="c455" d="M2191 793l14 23 8-28-14-23z"/>
<path class="c447" d="M2205 816l15 27 8-29-15-26z"/>
<path class="c435" d="M2220 843l15 30 8-30-15-29z"/>
<path class="c423" d="M2235 873l14 34 8-31-14-33z"/>
<path class="c407" d="M2249 907l15 36 8-31-15-36z"/>
<path class="c391" d="M2264 943l14 39 8-32-14-38z"/>
<path class="c375" d="M2278 982l15 40 8-33-15-39z"/>
<path class="c359" d="M2293 1022l15 41 8-33-15-41z"/>
<path class="c343" d="M2308 1063l14 41 8-34-14-40z"/>
<path class="c323" d="M2322 1104l15 39 8-34-15-39z"/>
<path class="c307" d="M2337 1143l15 36 7-33-14-37z"/>
<path class="c295" d="M2352 1179l14 34 8-33-15-34z"/>
<path class="c283" d="M2366 1213l15 31 8-33-15-31z"/>
<path class="c271" d="M2381 1244l14 28 8-33-14-28z"/>
<path class="c259" d="M2395 1272l15 24 8-32-15-25z"/>
<path class="c251" d="M2410 1296l15 22 8-33-15-21z"/>
<path class="c243" d="M2425 1318l14 19 8-32-14-20z"/>
<path class="c239" d="M2439 1337l15 17 8-32-15-17z"/>
<path class="c235" d="M2454 1354l15 15 7-32-14-15z"/>
<path class="c231" d="M2469 1369l14 13 8-31-15-14z"/>
<path class="c227" d="M2483 1382l15 13 8-31-15-13z"/>
<path class="c223" d="M2498 1395l14 11 15 10 8-30-15-10-14-12z"/>
<path class="c219" d="M2527 1416l15 10 14 10 15 9 8-29-15-9-14-10-15-11z"/>
<path class="c215" d="M2571 1445l14 9 15 9 15 8 8-28-15-9-15-9-14-9z"/>
<path class="c191" d="M2615 1471l14 87 8-9-14-106z"/>
<path class="c462" d="M1963 692l15-4 8-30-15 3z"/>
<path class="c466" d="M1978 688l15-2 8-29-15 1z"/>
<path class="c470" d="M1993 686l14-1 8-27-14-1z"/>
<path class="c474" d="M2007 685l15 2 15 2 8-26-15-3-15-2z"/>
<path class="c479" d="M2037 689l14 8 8-26-14-8z"/>
<path class="c475" d="M2051 697l15 9 14 9 15 10 8-26-15-10-14-9-15-9z"/>
<path class="c471" d="M2095 725l15 12 14 12 8-26-14-12-15-12z"/>
<path class="c467" d="M2124 749l15 15 8-27-15-14z"/>
<path class="c463" d="M2139 764l15 16 7-26-14-17z"/>
<path class="c455" d="M2154 780l14 19 8-27-15-18z"/>
<path class="c451" d="M2168 799l15 21 8-27-15-21z"/>
<path class="c443" d="M2183 820l14 24 8-28-14-23z"/>
<path class="c431" d="M2197 844l15 28 8-29-15-27z"/>
<path class="c419" d="M2212 872l15 31 8-30-15-30z"/>
<path class="c407" d="M2227 903l14 34 8-30-14-34z"/>
<path class="c395" d="M2241 937l15 37 8-31-15-36z"/>
<path class="c379" d="M2256 974l15 39 7-31-14-39z"/>
<path class="c359" d="M2271 1013l14 41 8-32-15-40z"/>
<path class="c343" d="M2285 1054l15 41 8-32-15-41z"/>
<path class="c327" d="M2300 1095l14 41 8-32-14-41z"/>
<path class="c307" d="M2314 1136l15 39 8-32-15-39z"/>
<path class="c291" d="M2329 1175l15 37 8-33-15-36z"/>
<path class="c279" d="M2344 1212l14 34 8-33-14-34z"/>
<path class="c267" d="M2358 1246l15 30 8-32-15-31z"/>
<path class="c255" d="M2373 1276l14 27 8-31-14-28z"/>
<path class="c243" d="M2387 1303l15 24 8-31-15-24z"/>
<path class="c235" d="M2402 1327l15 21 8-30-15-22z"/>
<path class="c231" d="M2417 1348l14 19 8-30-14-19z"/>
<path class="c223" d="M2431 1367l15 17 8-30-15-17z"/>
<path class="c219" d="M2446 1384l15 14 8-29-15-15z"/>
<path class="c215" d="M2461 1398l14 13 8-29-14-13z"/>
<path class="c207" d="M2504 1434l15 11 15 9 14 9 8-27-14-10-15-10-15-10z"/>
<path class="c203" d="M2548 1463l15 9 15 9 14 8 15 8 8-26-15-8-15-9-14-9-15-9z"/>
<path class="c183" d="M2607 1497l14 70 8-9-14-87z"/>
<path class="c462" d="M1999 704l15 2 8-19-15-2z"/>
<path class="c466" d="M2014 706l15 4 14 8 15 9 8-21-15-9-14-8-15-2z"/>
<path class="c462" d="M2058 727l15 9 14 11 8-22-15-10-14-9z"/>
<path class="c458" d="M2087 747l15 11 8-21-15-12z"/>
<path class="c459" d="M2102 758l14 13 8-22-14-12z"/>
<path class="c455" d="M2116 771l15 15 8-22-15-15z"/>
<path class="c451" d="M2131 786l15 17 8-23-15-16z"/>
<path class="c443" d="M2146 803l14 19 8-23-14-19z"/>
<path class="c439" d="M2160 822l15 21 8-23-15-21z"/>
<path class="c431" d="M2175 843l14 25 8-24-14-24z"/>
<path class="c419" d="M2189 868l15 28 8-24-15-28z"/>
<path class="c407" d="M2204 896l15 32 8-25-15-31z"/>
<path class="c395" d="M2219 928l14 35 8-26-14-34z"/>
<path class="c379" d="M2233 963l15 37 8-26-15-37z"/>
<path class="c363" d="M2248 1000l15 40 8-27-15-39z"/>
<path class="c347" d="M2263 1040l14 42 8-28-14-41z"/>
<path class="c327" d="M2277 1082l15 41 8-28-15-41z"/>
<path class="c311" d="M2292 1123l14 41 8-28-14-41z"/>
<path class="c295" d="M2306 1164l15 39 8-28-15-39z"/>
<path class="c279" d="M2321 1203l15 37 8-28-15-37z"/>
<path class="c263" d="M2336 1240l14 34 8-28-14-34z"/>
<path class="c251" d="M2350 1274l15 30 8-28-15-30z"/>
<path class="c239" d="M2365 1304l15 27 7-28-14-27z"/>
<path class="c231" d="M2380 1331l14 23 8-27-15-24z"/>
<path class="c223" d="M2394 1354l15 21 8-27-15-21z"/>
<path class="c190" d="M2540 1487l15 8 15 8 14 8 15 8 8-22-15-8-14-8-15-9-15-9z"/>
<path class="c175" d="M2599 1519l14 57 8-9-14-70z"/>
<path class="c456" d="M2050 724l15 11 14 11 8 1-14-11-15-9z"/>
<path class="c453" d="M2079 746l15 13 14 14 8-2-14-13-15-11z"/>
<path class="c449" d="M2108 773l15 15 8-2-15-15z"/>
<path class="c441" d="M2123 788l15 18 8-3-15-17z"/>
<path class="c438" d="M2138 806l14 19 8-3-14-19z"/>
<path class="c430" d="M2152 825l15 23 8-5-15-21z"/>
<path class="c422" d="M2167 848l15 25 7-5-14-25z"/>
<path class="c414" d="M2182 873l14 29 8-6-15-28z"/>
<path class="c402" d="M2196 902l15 32 8-6-15-32z"/>
<path class="c386" d="M2211 934l14 36 8-7-14-35z"/>
<path class="c370" d="M2225 970l15 38 8-8-15-37z"/>
<path class="c355" d="M2240 1008l15 40 8-8-15-40z"/>
<path class="c339" d="M2255 1048l14 42 8-8-14-42z"/>
<path class="c319" d="M2269 1090l15 42 8-9-15-41z"/>
<path class="c303" d="M2284 1132l15 41 7-9-14-41z"/>
<path class="c287" d="M2299 1173l14 40 8-10-15-39z"/>
<path class="c271" d="M2313 1213l15 36 8-9-15-37z"/>
<path class="c254" d="M2328 1249l14 34 8-9-14-34z"/>
<path class="c242" d="M2342 1283l15 30 8-9-15-30z"/>
<path class="c171" d="M2591 1515l15 85 7-24-14-57z"/>
<path class="c452" d="M2086 753l15 14 7 6-14-14z"/>
<path class="c448" d="M2101 767l14 15 8 6-15-15z"/>
<path class="c444" d="M2115 782l15 17 8 7-15-18z"/>
<path class="c440" d="M2130 799l14 20 8 6-14-19z"/>
<path class="c432" d="M2144 819l15 22 8 7-15-23z"/>
<path class="c425" d="M2159 841l15 25 8 7-15-25z"/>
<path class="c413" d="M2174 866l14 29 8 7-14-29z"/>
<path class="c401" d="M2188 895l15 31 8 8-15-32z"/>
<path class="c389" d="M2203 926l14 35 8 9-14-36z"/>
<path class="c373" d="M2217 961l15 38 8 9-15-38z"/>
<path class="c357" d="M2232 999l15 40 8 9-15-40z"/>
<path class="c337" d="M2247 1039l14 42 8 9-14-42z"/>
<path class="c321" d="M2261 1081l15 42 8 9-15-42z"/>
<path class="c301" d="M2276 1123l15 41 8 9-15-41z"/>
<path class="c285" d="M2291 1164l14 39 8 10-14-40z"/>
<path class="c269" d="M2305 1203l15 36 8 10-15-36z"/>
<path class="c253" d="M2320 1239l14 33 8 11-14-34z"/>
<path class="c167" d="M2583 1503l15 108 8-11-15-85z"/>
<path class="c452" d="M2093 760l14 15 8 7-14-15z"/>
<path class="c448" d="M2107 775l15 17 8 7-15-17z"/>
<path class="c444" d="M2122 792l14 19 8 8-14-20z"/>
<path class="c436" d="M2136 811l15 22 8 8-15-22z"/>
<path class="c428" d="M2151 833l15 25 8 8-15-25z"/>
<path class="c417" d="M2166 858l14 28 8 9-14-29z"/>
<path class="c405" d="M2180 886l15 31 8 9-15-31z"/>
<path class="c393" d="M2195 917l15 35 7 9-14-35z"/>
<path class="c377" d="M2210 952l14 37 8 10-15-38z"/>
<path class="c361" d="M2224 989l15 40 8 10-15-40z"/>
<path class="c345" d="M2239 1029l14 41 8 11-14-42z"/>
<path class="c325" d="M2253 1070l15 41 8 12-15-42z"/>
<path class="c309" d="M2268 1111l15 41 8 12-15-41z"/>
<path class="c293" d="M2283 1152l14 39 8 12-14-39z"/>
<path class="c277" d="M2297 1191l15 36 8 12-15-36z"/>
<path class="c260" d="M2312 1227l14 33 8 12-14-33z"/>
<path class="c171" d="M2575 1488l15 125 8-2-15-108z"/>
<path class="c452" d="M2099 767l15 16 8 9-15-17z"/>
<path class="c448" d="M2114 783l15 19 7 9-14-19z"/>
<path class="c440" d="M2129 802l14 22 8 9-15-22z"/>
<path class="c432" d="M2143 824l15 24 8 10-15-25z"/>
<path class="c424" d="M2158 848l14 28 8 10-14-28z"/>
<path class="c413" d="M2172 876l15 31 8 10-15-31z"/>
<path class="c401" d="M2187 907l15 34 8 11-15-35z"/>
<path class="c385" d="M2202 941l14 37 8 11-14-37z"/>
<path class="c369" d="M2216 978l15 39 8 12-15-40z"/>
<path class="c353" d="M2231 1017l14 40 8 13-14-41z"/>
<path class="c333" d="M2245 1057l15 41 8 13-15-41z"/>
<path class="c317" d="M2260 1098l15 41 8 13-15-41z"/>
<path class="c301" d="M2275 1139l14 38 8 14-14-39z"/>
<path class="c284" d="M2289 1177l15 36 8 14-15-36z"/>
<path class="c268" d="M2304 1213l15 33 7 14-14-33z"/>
<path class="c175" d="M2567 1472l15 140 8 1-15-125z"/>
<path class="c460" d="M2091 758l15 16 8 9-15-16z"/>
<path class="c452" d="M2106 774l15 19 8 9-15-19z"/>
<path class="c448" d="M2121 793l14 21 8 10-14-22z"/>
<path class="c440" d="M2135 814l15 24 8 10-15-24z"/>
<path class="c428" d="M2150 838l14 27 8 11-14-28z"/>
<path class="c416" d="M2164 865l15 31 8 11-15-31z"/>
<path class="c405" d="M2179 896l15 33 8 12-15-34z"/>
<path class="c393" d="M2194 929l14 36 8 13-14-37z"/>
<path class="c377" d="M2208 965l15 39 8 13-15-39z"/>
<path class="c357" d="M2223 1004l15 40 7 13-14-40z"/>
<path class="c341" d="M2238 1044l14 40 8 14-15-41z"/>
<path class="c325" d="M2252 1084l15 40 8 15-15-41z"/>
<path class="c308" d="M2267 1124l14 39 8 14-14-38z"/>
<path class="c292" d="M2281 1163l15 35 8 15-15-36z"/>
<path class="c276" d="M2296 1198l15 33 8 15-15-33z"/>
<path class="c183" d="M2559 1456l15 153 8 3-15-140z"/>
<path class="c460" d="M2098 765l15 18 8 10-15-19z"/>
<path class="c452" d="M2113 783l14 21 8 10-14-21z"/>
<path class="c444" d="M2127 804l15 24 8 10-15-24z"/>
<path class="c436" d="M2142 828l14 26 8 11-14-27z"/>
<path class="c424" d="M2156 854l15 30 8 12-15-31z"/>
<path class="c412" d="M2171 884l15 33 8 12-15-33z"/>
<path class="c397" d="M2186 917l14 36 8 12-14-36z"/>
<path class="c385" d="M2200 953l15 38 8 13-15-39z"/>
<path class="c365" d="M2215 991l15 39 8 14-15-40z"/>
<path class="c349" d="M2230 1030l14 40 8 14-14-40z"/>
<path class="c333" d="M2244 1070l15 40 8 14-15-40z"/>
<path class="c316" d="M2259 1110l14 38 8 15-14-39z"/>
<path class="c300" d="M2273 1148l15 35 8 15-15-35z"/>
<path class="c288" d="M2288 1183l15 33 8 15-15-33z"/>
<path class="c187" d="M2551 1439l15 166 8 4-15-153z"/>
<path class="c464" d="M2090 756l15 18 8 9-15-18z"/>
<path class="c460" d="M2105 774l14 20 8 10-14-21z"/>
<path class="c452" d="M2119 794l15 23 8 11-15-24z"/>
<path class="c444" d="M2134 817l15 26 7 11-14-26z"/>
<path class="c432" d="M2149 843l14 30 8 11-15-30z"/>
<path class="c420" d="M2163 873l15 32 8 12-15-33z"/>
<path class="c405" d="M2178 905l14 35 8 13-14-36z"/>
<path class="c393" d="M2192 940l15 37 8 14-15-38z"/>
<path class="c373" d="M2207 977l15 39 8 14-15-39z"/>
<path class="c357" d="M2222 1016l14 40 8 14-14-40z"/>
<path class="c341" d="M2236 1056l15 39 8 15-15-40z"/>
<path class="c324" d="M2251 1095l15 38 7 15-14-38z"/>
<path class="c308" d="M2266 1133l14 35 8 15-15-35z"/>
<path class="c296" d="M2280 1168l15 33 8 15-15-33z"/>
<path class="c284" d="M2295 1201l14 29 8 15-14-29z"/>
<path class="c195" d="M2543 1423l15 179 8 3-15-166z"/>
<path class="c476" d="M2068 731l14 16 8 9-15-16z"/>
<path class="c472" d="M2082 747l15 18 8 9-15-18z"/>
<path class="c464" d="M2097 765l14 20 8 9-14-20z"/>
<path class="c456" d="M2111 785l15 22 8 10-15-23z"/>
<path class="c448" d="M2126 807l15 26 8 10-15-26z"/>
<path class="c440" d="M2141 833l14 29 8 11-14-30z"/>
<path class="c428" d="M2155 862l15 31 8 12-15-32z"/>
<path class="c413" d="M2170 893l14 35 8 12-14-35z"/>
<path class="c397" d="M2184 928l15 37 8 12-15-37z"/>
<path class="c381" d="M2199 965l15 38 8 13-15-39z"/>
<path class="c365" d="M2214 1003l14 39 8 14-14-40z"/>
<path class="c349" d="M2228 1042l15 39 8 14-15-39z"/>
<path class="c332" d="M2243 1081l15 38 8 14-15-38z"/>
<path class="c316" d="M2258 1119l14 35 8 14-14-35z"/>
<path class="c304" d="M2272 1154l15 32 8 15-15-33z"/>
<path class="c292" d="M2287 1186l14 30 8 14-14-29z"/>
<path class="c199" d="M2535 1409l15 190 8 3-15-179z"/>
<path class="c488" d="M2030 697l15 13 15 13 8 8-15-14-15-12z"/>
<path class="c484" d="M2060 723l14 16 8 8-14-16z"/>
<path class="c476" d="M2074 739l15 17 8 9-15-18z"/>
<path class="c472" d="M2089 756l14 20 8 9-14-20z"/>
<path class="c464" d="M2103 776l15 22 8 9-15-22z"/>
<path class="c456" d="M2118 798l15 25 8 10-15-26z"/>
<path class="c444" d="M2133 823l14 29 8 10-14-29z"/>
<path class="c433" d="M2147 852l15 31 8 10-15-31z"/>
<path class="c421" d="M2162 883l15 34 7 11-14-35z"/>
<path class="c405" d="M2177 917l14 36 8 12-15-37z"/>
<path class="c389" d="M2191 953l15 38 8 12-15-38z"/>
<path class="c373" d="M2206 991l14 39 8 12-14-39z"/>
<path class="c357" d="M2220 1030l15 39 8 12-15-39z"/>
<path class="c341" d="M2235 1069l15 37 8 13-15-38z"/>
<path class="c324" d="M2250 1106l14 35 8 13-14-35z"/>
<path class="c312" d="M2264 1141l15 33 8 12-15-32z"/>
<path class="c300" d="M2279 1174l15 29 7 13-14-30z"/>
<path class="c288" d="M2294 1203l14 26 8 13-15-26z"/>
<path class="c280" d="M2308 1229l15 23 8 13-15-23z"/>
<path class="c207" d="M2527 1398l15 197 8 4-15-190z"/>
<path class="c496" d="M2008 679l14 12 15 12 8 7-15-13-14-11z"/>
<path class="c492" d="M2037 703l15 13 8 7-15-13z"/>
<path class="c488" d="M2052 716l14 16 8 7-14-16z"/>
<path class="c484" d="M2066 732l15 17 8 7-15-17z"/>
<path class="c476" d="M2081 749l15 19 7 8-14-20z"/>
<path class="c468" d="M2096 768l14 22 8 8-15-22z"/>
<path class="c460" d="M2110 790l15 25 8 8-15-25z"/>
<path class="c453" d="M2125 815l14 28 8 9-14-29z"/>
<path class="c441" d="M2139 843l15 31 8 9-15-31z"/>
<path class="c425" d="M2154 874l15 33 8 10-15-34z"/>
<path class="c413" d="M2169 907l14 36 8 10-14-36z"/>
<path class="c397" d="M2183 943l15 38 8 10-15-38z"/>
<path class="c381" d="M2198 981l14 39 8 10-14-39z"/>
<path class="c365" d="M2212 1020l15 38 8 11-15-39z"/>
<path class="c349" d="M2227 1058l15 37 8 11-15-37z"/>
<path class="c333" d="M2242 1095l14 35 8 11-14-35z"/>
<path class="c321" d="M2256 1130l15 32 8 12-15-33z"/>
<path class="c308" d="M2271 1162l15 30 8 11-15-29z"/>
<path class="c296" d="M2286 1192l14 26 8 11-14-26z"/>
<path class="c288" d="M2300 1218l15 23 8 11-15-23z"/>
<path class="c256" d="M2417 1339l15 9 14 8 15 9 15 9 14 9 15 9 14 8 8-2-14-6-15-6-14-7-15-6-15-7-14-8-15-8z"/>
<path class="c211" d="M2519 1400l15 192 8 3-15-197z"/>
<path class="c500" d="M1868 620l15 2 15 2 7 6-14-3-15-1z"/>
<path class="c504" d="M1898 624l14 4 15 4 8 5-15-4-15-3z"/>
<path class="c508" d="M1927 632l14 5 15 8 8 5-15-8-14-5z"/>
<path class="c504" d="M1956 645l15 9 14 10 15 10 8 5-15-10-14-10-15-9z"/>
<path class="c500" d="M2000 674l14 11 15 12 8 6-15-12-14-12z"/>
<path class="c496" d="M2029 697l15 14 8 5-15-13z"/>
<path class="c492" d="M2044 711l14 15 8 6-14-16z"/>
<path class="c488" d="M2058 726l15 17 8 6-15-17z"/>
<path class="c480" d="M2073 743l15 19 8 6-15-19z"/>
<path class="c472" d="M2088 762l14 22 8 6-14-22z"/>
<path class="c465" d="M2102 784l15 24 8 7-15-25z"/>
<path class="c457" d="M2117 808l14 28 8 7-14-28z"/>
<path class="c445" d="M2131 836l15 30 8 8-15-31z"/>
<path class="c433" d="M2146 866l15 34 8 7-15-33z"/>
<path class="c417" d="M2161 900l14 35 8 8-14-36z"/>
<path class="c401" d="M2175 935l15 38 8 8-15-38z"/>
<path class="c385" d="M2190 973l15 38 7 9-14-39z"/>
<path class="c369" d="M2205 1011l14 39 8 8-15-38z"/>
<path class="c353" d="M2219 1050l15 38 8 7-15-37z"/>
<path class="c341" d="M2234 1088l14 37 8 5-14-35z"/>
<path class="c326" d="M2248 1125l15 34 8 3-15-32z"/>
<path class="c314" d="M2263 1159l15 31 8 2-15-30z"/>
<path class="c302" d="M2278 1190l14 28 8 0-14-26z"/>
<path class="c294" d="M2292 1218l15 25 8-2-15-23z"/>
<path class="c286" d="M2307 1243l14 22 8-4-14-20z"/>
<path class="c278" d="M2321 1265l15 19 8-5-15-18z"/>
<path class="c274" d="M2336 1284l15 18 8-8-15-15z"/>
<path class="c270" d="M2351 1302l14 15 8-9-14-14z"/>
<path class="c266" d="M2365 1317l15 14 8-11-15-12z"/>
<path class="c262" d="M2380 1331l15 13 8-14-15-10z"/>
<path class="c258" d="M2395 1344l14 12 15 11 14 10 8-21-14-8-15-9-14-9z"/>
<path class="c254" d="M2438 1377l15 10 15 9 14 9 15 9 8-22-15-9-14-9-15-9-15-9z"/>
<path class="c250" d="M2497 1414l15 9 7-23-14-8z"/>
<path class="c207" d="M2512 1423l14 165 8 4-15-192z"/>
<path class="c450" d="M1758 697l15-19 8-26-15 15z"/>
<path class="c462" d="M1773 678l14-15 8-23-14 12z"/>
<path class="c474" d="M1787 663l15-12 8-20-15 9z"/>
<path class="c482" d="M1802 651l14-8 8-18-14 6z"/>
<path class="c486" d="M1816 643l15-5 8-16-15 3z"/>
<path class="c494" d="M1831 638l15-4 8-14-15 2z"/>
<path class="c497" d="M1846 634l14-1 8-13-14 0z"/>
<path class="c501" d="M1860 633l15 1 15 2 8-12-15-2-15-2z"/>
<path class="c505" d="M1890 636l14 3 15 3 8-10-15-4-14-4z"/>
<path class="c509" d="M1919 642l14 5 8-10-14-5z"/>
<path class="c510" d="M1933 647l15 8 8-10-15-8z"/>
<path class="c506" d="M1948 655l15 9 14 10 15 10 8-10-15-10-14-10-15-9z"/>
<path class="c502" d="M1992 684l15 12 14 12 8-11-15-12-14-11z"/>
<path class="c498" d="M2021 708l15 14 8-11-15-14z"/>
<path class="c494" d="M2036 722l14 16 8-12-14-15z"/>
<path class="c490" d="M2050 738l15 17 8-12-15-17z"/>
<path class="c482" d="M2065 755l15 20 8-13-15-19z"/>
<path class="c474" d="M2080 775l14 23 8-14-14-22z"/>
<path class="c466" d="M2094 798l15 25 8-15-15-24z"/>
<path class="c459" d="M2109 823l15 29 7-16-14-28z"/>
<path class="c447" d="M2124 852l14 32 8-18-15-30z"/>
<path class="c431" d="M2138 884l15 35 8-19-15-34z"/>
<path class="c419" d="M2153 919l14 37 8-21-14-35z"/>
<path class="c403" d="M2167 956l15 39 8-22-15-38z"/>
<path class="c387" d="M2182 995l15 40 8-24-15-38z"/>
<path class="c371" d="M2197 1035l14 40 8-25-14-39z"/>
<path class="c355" d="M2211 1075l15 38 8-25-15-38z"/>
<path class="c339" d="M2226 1113l14 37 8-25-14-37z"/>
<path class="c323" d="M2240 1150l15 34 8-25-15-34z"/>
<path class="c311" d="M2255 1184l15 32 8-26-15-31z"/>
<path class="c299" d="M2270 1216l14 28 8-26-14-28z"/>
<path class="c287" d="M2284 1244l15 25 8-26-15-25z"/>
<path class="c279" d="M2299 1269l15 22 7-26-14-22z"/>
<path class="c271" d="M2314 1291l14 19 8-26-15-19z"/>
<path class="c267" d="M2328 1310l15 18 8-26-15-18z"/>
<path class="c263" d="M2343 1328l14 15 8-26-14-15z"/>
<path class="c259" d="M2357 1343l15 14 8-26-15-14z"/>
<path class="c255" d="M2372 1357l15 13 8-26-15-13z"/>
<path class="c251" d="M2387 1370l14 12 15 11 8-26-15-11-14-12z"/>
<path class="c247" d="M2416 1393l15 10 14 10 8-26-15-10-14-10z"/>
<path class="c243" d="M2445 1413l15 9 14 10 15 9 8-27-15-9-14-9-15-9z"/>
<path class="c239" d="M2489 1441l15 9 8-27-15-9z"/>
<path class="c203" d="M2504 1450l14 135 8 3-14-165z"/>
<path class="c459" d="M1779 708l15-16 8-41-15 12z"/>
<path class="c467" d="M1794 692l15-12 7-37-14 8z"/>
<path class="c475" d="M1809 680l14-8 8-34-15 5z"/>
<path class="c483" d="M1823 672l15-6 8-32-15 4z"/>
<path class="c487" d="M1838 666l14-3 8-30-14 1z"/>
<path class="c491" d="M1852 663l15-1 8-28-15-1z"/>
<path class="c494" d="M1867 662l15 1 8-27-15-2z"/>
<path class="c498" d="M1882 663l14 2 15 2 8-25-15-3-14-3z"/>
<path class="c502" d="M1911 667l15 4 7-24-14-5z"/>
<path class="c503" d="M1926 671l14 8 8-24-15-8z"/>
<path class="c499" d="M1940 679l15 9 14 10 15 10 8-24-15-10-14-10-15-9z"/>
<path class="c495" d="M1984 708l15 11 14 13 8-24-14-12-15-12z"/>
<path class="c491" d="M2013 732l15 14 8-24-15-14z"/>
<path class="c487" d="M2028 746l14 16 8-24-14-16z"/>
<path class="c483" d="M2042 762l15 18 8-25-15-17z"/>
<path class="c475" d="M2057 780l15 20 8-25-15-20z"/>
<path class="c467" d="M2072 800l14 23 8-25-14-23z"/>
<path class="c459" d="M2086 823l15 26 8-26-15-25z"/>
<path class="c447" d="M2101 849l15 30 8-27-15-29z"/>
<path class="c435" d="M2116 879l14 32 8-27-14-32z"/>
<path class="c423" d="M2130 911l15 36 8-28-15-35z"/>
<path class="c407" d="M2145 947l14 38 8-29-14-37z"/>
<path class="c391" d="M2159 985l15 40 8-30-15-39z"/>
<path class="c375" d="M2174 1025l15 40 8-30-15-40z"/>
<path class="c355" d="M2189 1065l14 40 8-30-14-40z"/>
<path class="c339" d="M2203 1105l15 39 8-31-15-38z"/>
<path class="c323" d="M2218 1144l15 37 7-31-14-37z"/>
<path class="c311" d="M2233 1181l14 34 8-31-15-34z"/>
<path class="c295" d="M2247 1215l15 31 8-30-15-32z"/>
<path class="c283" d="M2262 1246l14 28 8-30-14-28z"/>
<path class="c275" d="M2276 1274l15 25 8-30-15-25z"/>
<path class="c267" d="M2291 1299l15 22 8-30-15-22z"/>
<path class="c259" d="M2306 1321l14 19 8-30-14-19z"/>
<path class="c255" d="M2320 1340l15 18 8-30-15-18z"/>
<path class="c247" d="M2335 1358l14 15 8-30-14-15z"/>
<path class="c243" d="M2349 1373l15 14 15 13 8-30-15-13-15-14z"/>
<path class="c239" d="M2379 1400l14 11 8-29-14-12z"/>
<path class="c235" d="M2393 1411l15 11 15 10 8-29-15-10-15-11z"/>
<path class="c231" d="M2423 1432l14 10 15 10 14 9 8-29-14-10-15-9-14-10z"/>
<path class="c227" d="M2466 1461l15 9 15 8 8-28-15-9-15-9z"/>
<path class="c199" d="M2496 1478l14 106 8 1-14-135z"/>
<path class="c459" d="M1801 721l14-11 8-38-14 8z"/>
<path class="c467" d="M1815 710l15-8 8-36-15 6z"/>
<path class="c471" d="M1830 702l14-5 8-34-14 3z"/>
<path class="c475" d="M1844 697l15-3 8-32-15 1z"/>
<path class="c483" d="M1859 694l15-1 14 1 8-29-14-2-15-1z"/>
<path class="c487" d="M1888 694l15 2 8-29-15-2z"/>
<path class="c491" d="M1903 696l15 2 14 9 8-28-14-8-15-4z"/>
<path class="c487" d="M1932 707l15 8 14 10 15 10 8-27-15-10-14-10-15-9z"/>
<path class="c483" d="M1976 735l15 11 14 13 8-27-14-13-15-11z"/>
<path class="c479" d="M2005 759l15 14 8-27-15-14z"/>
<path class="c475" d="M2020 773l15 16 7-27-14-16z"/>
<path class="c467" d="M2035 789l14 18 8-27-15-18z"/>
<path class="c463" d="M2049 807l15 21 8-28-15-20z"/>
<path class="c455" d="M2064 828l14 24 8-29-14-23z"/>
<path class="c447" d="M2078 852l15 27 8-30-15-26z"/>
<path class="c435" d="M2093 879l15 30 8-30-15-30z"/>
<path class="c423" d="M2108 909l14 33 8-31-14-32z"/>
<path class="c407" d="M2122 942l15 37 8-32-15-36z"/>
<path class="c391" d="M2137 979l14 38 8-32-14-38z"/>
<path class="c375" d="M2151 1017l15 41 8-33-15-40z"/>
<path class="c359" d="M2166 1058l15 41 8-34-15-40z"/>
<path class="c343" d="M2181 1099l14 40 8-34-14-40z"/>
<path class="c323" d="M2195 1139l15 39 8-34-15-39z"/>
<path class="c307" d="M2210 1178l15 37 8-34-15-37z"/>
<path class="c295" d="M2225 1215l14 34 8-34-14-34z"/>
<path class="c283" d="M2239 1249l15 31 8-34-15-31z"/>
<path class="c271" d="M2254 1280l14 27 8-33-14-28z"/>
<path class="c259" d="M2268 1307l15 25 8-33-15-25z"/>
<path class="c251" d="M2283 1332l15 21 8-32-15-22z"/>
<path class="c243" d="M2298 1353l14 19 8-32-14-19z"/>
<path class="c239" d="M2312 1372l15 17 8-31-15-18z"/>
<path class="c235" d="M2327 1389l15 15 7-31-14-15z"/>
<path class="c231" d="M2342 1404l14 14 8-31-15-14z"/>
<path class="c227" d="M2356 1418l15 12 8-30-15-13z"/>
<path class="c223" d="M2371 1430l14 11 15 11 8-30-15-11-14-11z"/>
<path class="c219" d="M2400 1452l15 10 14 10 15 9 8-29-15-10-14-10-15-10z"/>
<path class="c215" d="M2444 1481l15 9 14 8 15 9 8-29-15-8-15-9-14-9z"/>
<path class="c191" d="M2488 1507l14 86 8-9-14-106z"/>
<path class="c462" d="M1837 727l14-4 8-29-15 3z"/>
<path class="c466" d="M1851 723l15-2 8-28-15 1z"/>
<path class="c470" d="M1866 721l14 0 8-27-14-1z"/>
<path class="c474" d="M1880 721l15 1 15 2 8-26-15-2-15-2z"/>
<path class="c479" d="M1910 724l14 8 8-25-14-9z"/>
<path class="c475" d="M1924 732l15 9 14 10 15 10 8-26-15-10-14-10-15-8z"/>
<path class="c471" d="M1968 761l15 11 14 13 8-26-14-13-15-11z"/>
<path class="c467" d="M1997 785l15 14 8-26-15-14z"/>
<path class="c463" d="M2012 799l15 17 8-27-15-16z"/>
<path class="c455" d="M2027 816l14 18 8-27-14-18z"/>
<path class="c451" d="M2041 834l15 22 8-28-15-21z"/>
<path class="c443" d="M2056 856l14 24 8-28-14-24z"/>
<path class="c431" d="M2070 880l15 27 8-28-15-27z"/>
<path class="c419" d="M2085 907l15 31 8-29-15-30z"/>
<path class="c407" d="M2100 938l14 34 8-30-14-33z"/>
<path class="c395" d="M2114 972l15 37 8-30-15-37z"/>
<path class="c379" d="M2129 1009l15 40 7-32-14-38z"/>
<path class="c359" d="M2144 1049l14 41 8-32-15-41z"/>
<path class="c343" d="M2158 1090l15 41 8-32-15-41z"/>
<path class="c327" d="M2173 1131l14 41 8-33-14-40z"/>
<path class="c307" d="M2187 1172l15 39 8-33-15-39z"/>
<path class="c291" d="M2202 1211l15 36 8-32-15-37z"/>
<path class="c279" d="M2217 1247l14 34 8-32-14-34z"/>
<path class="c267" d="M2231 1281l15 31 8-32-15-31z"/>
<path class="c255" d="M2246 1312l15 27 7-32-14-27z"/>
<path class="c243" d="M2261 1339l14 24 8-31-15-25z"/>
<path class="c235" d="M2275 1363l15 21 8-31-15-21z"/>
<path class="c231" d="M2290 1384l14 19 8-31-14-19z"/>
<path class="c223" d="M2304 1403l15 16 8-30-15-17z"/>
<path class="c219" d="M2319 1419l15 15 8-30-15-15z"/>
<path class="c215" d="M2334 1434l14 13 8-29-14-14z"/>
<path class="c207" d="M2377 1470l15 10 15 10 14 9 8-27-14-10-15-10-15-11z"/>
<path class="c203" d="M2421 1499l15 9 15 8 14 9 15 8 8-26-15-9-14-8-15-9-15-9z"/>
<path class="c183" d="M2480 1533l14 70 8-10-14-86z"/>
<path class="c462" d="M1872 740l15 2 8-20-15-1z"/>
<path class="c466" d="M1887 742l15 3 14 8 15 9 8-21-15-9-14-8-15-2z"/>
<path class="c462" d="M1931 762l15 10 14 10 8-21-15-10-14-10z"/>
<path class="c458" d="M1960 782l15 12 8-22-15-11z"/>
<path class="c459" d="M1975 794l14 13 8-22-14-13z"/>
<path class="c455" d="M1989 807l15 14 8-22-15-14z"/>
<path class="c451" d="M2004 821l15 17 8-22-15-17z"/>
<path class="c443" d="M2019 838l14 19 8-23-14-18z"/>
<path class="c439" d="M2033 857l15 22 8-23-15-22z"/>
<path class="c431" d="M2048 879l15 25 7-24-14-24z"/>
<path class="c419" d="M2063 904l14 28 8-25-15-27z"/>
<path class="c407" d="M2077 932l15 31 8-25-15-31z"/>
<path class="c395" d="M2092 963l14 35 8-26-14-34z"/>
<path class="c379" d="M2106 998l15 38 8-27-15-37z"/>
<path class="c363" d="M2121 1036l15 40 8-27-15-40z"/>
<path class="c347" d="M2136 1076l14 41 8-27-14-41z"/>
<path class="c327" d="M2150 1117l15 42 8-28-15-41z"/>
<path class="c311" d="M2165 1159l14 41 8-28-14-41z"/>
<path class="c295" d="M2179 1200l15 39 8-28-15-39z"/>
<path class="c279" d="M2194 1239l15 37 8-29-15-36z"/>
<path class="c263" d="M2209 1276l14 33 8-28-14-34z"/>
<path class="c251" d="M2223 1309l15 30 8-27-15-31z"/>
<path class="c239" d="M2238 1339l15 27 8-27-15-27z"/>
<path class="c231" d="M2253 1366l14 24 8-27-14-24z"/>
<path class="c223" d="M2267 1390l15 20 8-26-15-21z"/>
<path class="c190" d="M2413 1522l15 9 15 8 14 8 15 8 8-22-15-8-14-9-15-8-15-9z"/>
<path class="c175" d="M2472 1555l15 57 7-9-14-70z"/>
<path class="c456" d="M1923 760l15 10 14 12 8 0-14-10-15-10z"/>
<path class="c453" d="M1952 782l15 12 14 14 8-1-14-13-15-12z"/>
<path class="c449" d="M1981 808l15 16 8-3-15-14z"/>
<path class="c441" d="M1996 824l15 17 8-3-15-17z"/>
<path class="c438" d="M2011 841l14 20 8-4-14-19z"/>
<path class="c430" d="M2025 861l15 22 8-4-15-22z"/>
<path class="c422" d="M2040 883l15 26 8-5-15-25z"/>
<path class="c414" d="M2055 909l14 29 8-6-14-28z"/>
<path class="c402" d="M2069 938l15 32 8-7-15-31z"/>
<path class="c386" d="M2084 970l14 35 8-7-14-35z"/>
<path class="c370" d="M2098 1005l15 38 8-7-15-38z"/>
<path class="c355" d="M2113 1043l15 41 8-8-15-40z"/>
<path class="c339" d="M2128 1084l14 42 8-9-14-41z"/>
<path class="c319" d="M2142 1126l15 42 8-9-15-42z"/>
<path class="c303" d="M2157 1168l15 41 7-9-14-41z"/>
<path class="c287" d="M2172 1209l14 39 8-9-15-39z"/>
<path class="c271" d="M2186 1248l15 37 8-9-15-37z"/>
<path class="c254" d="M2201 1285l14 33 8-9-14-33z"/>
<path class="c242" d="M2215 1318l15 30 8-9-15-30z"/>
<path class="c171" d="M2464 1550l15 85 8-23-15-57z"/>
<path class="c456" d="M1944 776l15 12 8 6-15-12z"/>
<path class="c452" d="M1959 788l15 14 7 6-14-14z"/>
<path class="c448" d="M1974 802l14 16 8 6-15-16z"/>
<path class="c444" d="M1988 818l15 17 8 6-15-17z"/>
<path class="c440" d="M2003 835l14 19 8 7-14-20z"/>
<path class="c432" d="M2017 854l15 23 8 6-15-22z"/>
<path class="c425" d="M2032 877l15 25 8 7-15-26z"/>
<path class="c413" d="M2047 902l14 28 8 8-14-29z"/>
<path class="c401" d="M2061 930l15 32 8 8-15-32z"/>
<path class="c389" d="M2076 962l15 35 7 8-14-35z"/>
<path class="c373" d="M2091 997l14 38 8 8-15-38z"/>
<path class="c357" d="M2105 1035l15 40 8 9-15-41z"/>
<path class="c337" d="M2120 1075l14 41 8 10-14-42z"/>
<path class="c321" d="M2134 1116l15 42 8 10-15-42z"/>
<path class="c301" d="M2149 1158l15 41 8 10-15-41z"/>
<path class="c285" d="M2164 1199l14 39 8 10-14-39z"/>
<path class="c269" d="M2178 1238l15 37 8 10-15-37z"/>
<path class="c253" d="M2193 1275l14 33 8 10-14-33z"/>
<path class="c167" d="M2456 1538l15 109 8-12-15-85z"/>
<path class="c456" d="M1951 782l15 13 8 7-15-14z"/>
<path class="c452" d="M1966 795l14 15 8 8-14-16z"/>
<path class="c448" d="M1980 810l15 17 8 8-15-17z"/>
<path class="c444" d="M1995 827l14 20 8 7-14-19z"/>
<path class="c436" d="M2009 847l15 22 8 8-15-23z"/>
<path class="c428" d="M2024 869l15 24 8 9-15-25z"/>
<path class="c417" d="M2039 893l14 28 8 9-14-28z"/>
<path class="c405" d="M2053 921l15 32 8 9-15-32z"/>
<path class="c393" d="M2068 953l15 34 8 10-15-35z"/>
<path class="c377" d="M2083 987l14 38 8 10-14-38z"/>
<path class="c361" d="M2097 1025l15 39 8 11-15-40z"/>
<path class="c345" d="M2112 1064l14 41 8 11-14-41z"/>
<path class="c325" d="M2126 1105l15 42 8 11-15-42z"/>
<path class="c309" d="M2141 1147l15 40 8 12-15-41z"/>
<path class="c293" d="M2156 1187l14 39 8 12-14-39z"/>
<path class="c277" d="M2170 1226l15 36 8 13-15-37z"/>
<path class="c260" d="M2185 1262l15 34 7 12-14-33z"/>
<path class="c171" d="M2448 1524l15 125 8-2-15-109z"/>
<path class="c452" d="M1972 802l15 17 8 8-15-17z"/>
<path class="c448" d="M1987 819l15 19 7 9-14-20z"/>
<path class="c440" d="M2002 838l14 22 8 9-15-22z"/>
<path class="c432" d="M2016 860l15 24 8 9-15-24z"/>
<path class="c424" d="M2031 884l14 28 8 9-14-28z"/>
<path class="c413" d="M2045 912l15 30 8 11-15-32z"/>
<path class="c401" d="M2060 942l15 34 8 11-15-34z"/>
<path class="c385" d="M2075 976l14 37 8 12-14-38z"/>
<path class="c369" d="M2089 1013l15 39 8 12-15-39z"/>
<path class="c353" d="M2104 1052l15 41 7 12-14-41z"/>
<path class="c333" d="M2119 1093l14 41 8 13-15-42z"/>
<path class="c317" d="M2133 1134l15 40 8 13-15-40z"/>
<path class="c301" d="M2148 1174l14 39 8 13-14-39z"/>
<path class="c284" d="M2162 1213l15 36 8 13-15-36z"/>
<path class="c268" d="M2177 1249l15 33 8 14-15-34z"/>
<path class="c175" d="M2440 1508l15 140 8 1-15-125z"/>
<path class="c460" d="M1964 793l15 17 8 9-15-17z"/>
<path class="c452" d="M1979 810l15 19 8 9-15-19z"/>
<path class="c448" d="M1994 829l14 21 8 10-14-22z"/>
<path class="c440" d="M2008 850l15 24 8 10-15-24z"/>
<path class="c428" d="M2023 874l14 27 8 11-14-28z"/>
<path class="c416" d="M2037 901l15 30 8 11-15-30z"/>
<path class="c405" d="M2052 931l15 34 8 11-15-34z"/>
<path class="c393" d="M2067 965l14 36 8 12-14-37z"/>
<path class="c377" d="M2081 1001l15 39 8 12-15-39z"/>
<path class="c357" d="M2096 1040l15 40 8 13-15-41z"/>
<path class="c341" d="M2111 1080l14 40 8 14-14-41z"/>
<path class="c325" d="M2125 1120l15 40 8 14-15-40z"/>
<path class="c308" d="M2140 1160l14 38 8 15-14-39z"/>
<path class="c292" d="M2154 1198l15 36 8 15-15-36z"/>
<path class="c276" d="M2169 1234l15 33 8 15-15-33z"/>
<path class="c264" d="M2184 1267l14 29 8 15-14-29z"/>
<path class="c183" d="M2432 1491l15 153 8 4-15-140z"/>
<path class="c460" d="M1971 801l15 18 8 10-15-19z"/>
<path class="c452" d="M1986 819l14 21 8 10-14-21z"/>
<path class="c444" d="M2000 840l15 23 8 11-15-24z"/>
<path class="c436" d="M2015 863l15 27 7 11-14-27z"/>
<path class="c424" d="M2030 890l14 30 8 11-15-30z"/>
<path class="c412" d="M2044 920l15 33 8 12-15-34z"/>
<path class="c397" d="M2059 953l14 35 8 13-14-36z"/>
<path class="c385" d="M2073 988l15 38 8 14-15-39z"/>
<path class="c365" d="M2088 1026l15 40 8 14-15-40z"/>
<path class="c349" d="M2103 1066l14 40 8 14-14-40z"/>
<path class="c333" d="M2117 1106l15 39 8 15-15-40z"/>
<path class="c316" d="M2132 1145l14 38 8 15-14-38z"/>
<path class="c300" d="M2146 1183l15 36 8 15-15-36z"/>
<path class="c288" d="M2161 1219l15 32 8 16-15-33z"/>
<path class="c187" d="M2424 1474l15 167 8 3-15-153z"/>
<path class="c460" d="M1978 809l14 21 8 10-14-21z"/>
<path class="c452" d="M1992 830l15 23 8 10-15-23z"/>
<path class="c444" d="M2007 853l15 26 8 11-15-27z"/>
<path class="c432" d="M2022 879l14 29 8 12-14-30z"/>
<path class="c420" d="M2036 908l15 32 8 13-15-33z"/>
<path class="c405" d="M2051 940l14 36 8 12-14-35z"/>
<path class="c393" d="M2065 976l15 37 8 13-15-38z"/>
<path class="c373" d="M2080 1013l15 39 8 14-15-40z"/>
<path class="c357" d="M2095 1052l14 39 8 15-14-40z"/>
<path class="c341" d="M2109 1091l15 40 8 14-15-39z"/>
<path class="c324" d="M2124 1131l15 37 7 15-14-38z"/>
<path class="c308" d="M2139 1168l14 36 8 15-15-36z"/>
<path class="c296" d="M2153 1204l15 32 8 15-15-32z"/>
<path class="c284" d="M2168 1236l14 30 8 15-14-30z"/>
<path class="c195" d="M2416 1459l15 178 8 4-15-167z"/>
<path class="c472" d="M1955 782l15 18 8 9-15-18z"/>
<path class="c464" d="M1970 800l14 20 8 10-14-21z"/>
<path class="c456" d="M1984 820l15 23 8 10-15-23z"/>
<path class="c448" d="M1999 843l15 26 8 10-15-26z"/>
<path class="c440" d="M2014 869l14 28 8 11-14-29z"/>
<path class="c428" d="M2028 897l15 32 8 11-15-32z"/>
<path class="c413" d="M2043 929l15 35 7 12-14-36z"/>
<path class="c397" d="M2058 964l14 36 8 13-15-37z"/>
<path class="c381" d="M2072 1000l15 39 8 13-15-39z"/>
<path class="c365" d="M2087 1039l14 39 8 13-14-39z"/>
<path class="c349" d="M2101 1078l15 39 8 14-15-40z"/>
<path class="c332" d="M2116 1117l15 37 8 14-15-37z"/>
<path class="c316" d="M2131 1154l14 35 8 15-14-36z"/>
<path class="c304" d="M2145 1189l15 33 8 14-15-32z"/>
<path class="c292" d="M2160 1222l14 29 8 15-14-30z"/>
<path class="c199" d="M2408 1445l15 189 8 3-15-178z"/>
<path class="c476" d="M1947 774l15 18 8 8-15-18z"/>
<path class="c472" d="M1962 792l14 19 8 9-14-20z"/>
<path class="c464" d="M1976 811l15 23 8 9-15-23z"/>
<path class="c456" d="M1991 834l15 25 8 10-15-26z"/>
<path class="c444" d="M2006 859l14 28 8 10-14-28z"/>
<path class="c433" d="M2020 887l15 31 8 11-15-32z"/>
<path class="c421" d="M2035 918l15 35 8 11-15-35z"/>
<path class="c405" d="M2050 953l14 36 8 11-14-36z"/>
<path class="c389" d="M2064 989l15 38 8 12-15-39z"/>
<path class="c373" d="M2079 1027l14 39 8 12-14-39z"/>
<path class="c357" d="M2093 1066l15 38 8 13-15-39z"/>
<path class="c341" d="M2108 1104l15 37 8 13-15-37z"/>
<path class="c324" d="M2123 1141l14 36 8 12-14-35z"/>
<path class="c312" d="M2137 1177l15 32 8 13-15-33z"/>
<path class="c300" d="M2152 1209l15 29 7 13-14-29z"/>
<path class="c288" d="M2167 1238l14 27 8 12-15-26z"/>
<path class="c207" d="M2400 1433l15 198 8 3-15-189z"/>
<path class="c500" d="M1837 686l15 9 14 10 15 10 8 6-15-10-14-10-15-9z"/>
<path class="c496" d="M1881 715l14 11 15 12 8 7-15-12-14-12z"/>
<path class="c492" d="M1910 738l15 14 8 7-15-14z"/>
<path class="c488" d="M1925 752l14 15 8 7-14-15z"/>
<path class="c484" d="M1939 767l15 17 8 8-15-18z"/>
<path class="c476" d="M1954 784l15 20 7 7-14-19z"/>
<path class="c468" d="M1969 804l14 22 8 8-15-23z"/>
<path class="c460" d="M1983 826l15 25 8 8-15-25z"/>
<path class="c453" d="M1998 851l14 28 8 8-14-28z"/>
<path class="c441" d="M2012 879l15 30 8 9-15-31z"/>
<path class="c425" d="M2027 909l15 34 8 10-15-35z"/>
<path class="c413" d="M2042 943l14 36 8 10-14-36z"/>
<path class="c397" d="M2056 979l15 38 8 10-15-38z"/>
<path class="c381" d="M2071 1017l15 38 7 11-14-39z"/>
<path class="c365" d="M2086 1055l14 38 8 11-15-38z"/>
<path class="c349" d="M2100 1093l15 37 8 11-15-37z"/>
<path class="c333" d="M2115 1130l14 36 8 11-14-36z"/>
<path class="c321" d="M2129 1166l15 32 8 11-15-32z"/>
<path class="c308" d="M2144 1198l15 29 8 11-15-29z"/>
<path class="c296" d="M2159 1227l14 27 8 11-14-27z"/>
<path class="c288" d="M2173 1254l15 23 8 11-15-23z"/>
<path class="c256" d="M2290 1375l15 8 14 8 15 9 15 10 14 8 15 9 15 9 7-3-14-6-15-6-14-6-15-7-15-7-14-7-15-9z"/>
<path class="c211" d="M2393 1436l14 191 8 4-15-198z"/>
<path class="c504" d="M1771 660l14 3 15 5 8 5-15-5-15-3z"/>
<path class="c508" d="M1800 668l14 4 15 9 8 5-15-9-14-4z"/>
<path class="c504" d="M1829 681l15 9 14 9 15 11 8 5-15-10-14-10-15-9z"/>
<path class="c500" d="M1873 710l15 11 14 12 8 5-15-12-14-11z"/>
<path class="c496" d="M1902 733l15 13 8 6-15-14z"/>
<path class="c492" d="M1917 746l14 15 8 6-14-15z"/>
<path class="c488" d="M1931 761l15 17 8 6-15-17z"/>
<path class="c480" d="M1946 778l15 20 8 6-15-20z"/>
<path class="c472" d="M1961 798l14 21 8 7-14-22z"/>
<path class="c465" d="M1975 819l15 25 8 7-15-25z"/>
<path class="c457" d="M1990 844l14 27 8 8-14-28z"/>
<path class="c445" d="M2004 871l15 31 8 7-15-30z"/>
<path class="c433" d="M2019 902l15 33 8 8-15-34z"/>
<path class="c417" d="M2034 935l14 36 8 8-14-36z"/>
<path class="c401" d="M2048 971l15 37 8 9-15-38z"/>
<path class="c385" d="M2063 1008l15 38 8 9-15-38z"/>
<path class="c369" d="M2078 1046l14 39 8 8-14-38z"/>
<path class="c353" d="M2092 1085l15 39 8 6-15-37z"/>
<path class="c341" d="M2107 1124l14 36 8 6-14-36z"/>
<path class="c326" d="M2121 1160l15 34 8 4-15-32z"/>
<path class="c314" d="M2136 1194l15 31 8 2-15-29z"/>
<path class="c302" d="M2151 1225l14 28 8 1-14-27z"/>
<path class="c294" d="M2165 1253l15 25 8-1-15-23z"/>
<path class="c286" d="M2180 1278l15 22 7-3-14-20z"/>
<path class="c278" d="M2195 1300l14 20 8-5-15-18z"/>
<path class="c274" d="M2209 1320l15 17 8-7-15-15z"/>
<path class="c270" d="M2224 1337l14 16 8-10-14-13z"/>
<path class="c266" d="M2238 1353l15 14 8-12-15-12z"/>
<path class="c262" d="M2253 1367l15 12 8-13-15-11z"/>
<path class="c258" d="M2268 1379l14 12 15 11 14 10 8-21-14-8-15-8-14-9z"/>
<path class="c254" d="M2311 1412l15 10 15 10 14 9 15 9 8-23-15-9-14-8-15-10-15-9z"/>
<path class="c250" d="M2370 1450l15 8 8-22-15-9z"/>
<path class="c207" d="M2385 1458l14 166 8 3-14-191z"/>
<path class="c450" d="M1631 733l15-19 8-27-15 15z"/>
<path class="c462" d="M1646 714l14-15 8-24-14 12z"/>
<path class="c474" d="M1660 699l15-12 8-20-15 8z"/>
<path class="c482" d="M1675 687l15-8 7-18-14 6z"/>
<path class="c486" d="M1690 679l14-6 8-16-15 4z"/>
<path class="c494" d="M1704 673l15-3 8-14-15 1z"/>
<path class="c497" d="M1719 670l14-1 8-13-14 0z"/>
<path class="c501" d="M1733 669l15 0 15 2 8-11-15-3-15-1z"/>
<path class="c505" d="M1763 671l14 3 15 4 8-10-15-5-14-3z"/>
<path class="c509" d="M1792 678l14 4 8-10-14-4z"/>
<path class="c510" d="M1806 682l15 9 8-10-15-9z"/>
<path class="c506" d="M1821 691l15 9 14 9 15 11 8-10-15-11-14-9-15-9z"/>
<path class="c502" d="M1865 720l15 11 14 13 8-11-14-12-15-11z"/>
<path class="c498" d="M1894 744l15 13 8-11-15-13z"/>
<path class="c494" d="M1909 757l14 16 8-12-14-15z"/>
<path class="c490" d="M1923 773l15 18 8-13-15-17z"/>
<path class="c482" d="M1938 791l15 20 8-13-15-20z"/>
<path class="c474" d="M1953 811l14 22 8-14-14-21z"/>
<path class="c466" d="M1967 833l15 26 8-15-15-25z"/>
<path class="c459" d="M1982 859l15 29 7-17-14-27z"/>
<path class="c447" d="M1997 888l14 31 8-17-15-31z"/>
<path class="c431" d="M2011 919l15 35 8-19-15-33z"/>
<path class="c419" d="M2026 954l14 37 8-20-14-36z"/>
<path class="c403" d="M2040 991l15 40 8-23-15-37z"/>
<path class="c387" d="M2055 1031l15 39 8-24-15-38z"/>
<path class="c371" d="M2070 1070l14 40 8-25-14-39z"/>
<path class="c355" d="M2084 1110l15 39 8-25-15-39z"/>
<path class="c339" d="M2099 1149l15 37 7-26-14-36z"/>
<path class="c323" d="M2114 1186l14 34 8-26-15-34z"/>
<path class="c311" d="M2128 1220l15 31 8-26-15-31z"/>
<path class="c299" d="M2143 1251l14 28 8-26-14-28z"/>
<path class="c287" d="M2157 1279l15 25 8-26-15-25z"/>
<path class="c279" d="M2172 1304l15 22 8-26-15-22z"/>
<path class="c271" d="M2187 1326l14 20 8-26-14-20z"/>
<path class="c267" d="M2201 1346l15 17 8-26-15-17z"/>
<path class="c263" d="M2216 1363l14 16 8-26-14-16z"/>
<path class="c259" d="M2230 1379l15 14 8-26-15-14z"/>
<path class="c255" d="M2245 1393l15 12 8-26-15-12z"/>
<path class="c251" d="M2260 1405l14 12 15 11 8-26-15-11-14-12z"/>
<path class="c247" d="M2289 1428l15 11 14 9 8-26-15-10-14-10z"/>
<path class="c243" d="M2318 1448l15 10 14 9 15 9 8-26-15-9-14-9-15-10z"/>
<path class="c239" d="M2362 1476l15 9 8-27-15-8z"/>
<path class="c203" d="M2377 1485l14 135 8 4-14-166z"/>
<path class="c447" d="M1638 763l14-20 8-44-14 15z"/>
<path class="c459" d="M1652 743l15-15 8-41-15 12z"/>
<path class="c467" d="M1667 728l15-12 8-37-15 8z"/>
<path class="c475" d="M1682 716l14-9 8-34-14 6z"/>
<path class="c483" d="M1696 707l15-5 8-32-15 3z"/>
<path class="c487" d="M1711 702l14-3 8-30-14 1z"/>
<path class="c491" d="M1725 699l15-1 8-29-15 0z"/>
<path class="c494" d="M1740 698l15 0 8-27-15-2z"/>
<path class="c498" d="M1755 698l14 2 15 3 8-25-15-4-14-3z"/>
<path class="c502" d="M1784 703l15 4 7-25-14-4z"/>
<path class="c503" d="M1799 707l14 8 8-24-15-9z"/>
<path class="c499" d="M1813 715l15 9 14 9 15 11 8-24-15-11-14-9-15-9z"/>
<path class="c495" d="M1857 744l15 11 14 12 8-23-14-13-15-11z"/>
<path class="c491" d="M1886 767l15 14 8-24-15-13z"/>
<path class="c487" d="M1901 781l15 16 7-24-14-16z"/>
<path class="c483" d="M1916 797l14 18 8-24-15-18z"/>
<path class="c475" d="M1930 815l15 21 8-25-15-20z"/>
<path class="c467" d="M1945 836l14 23 8-26-14-22z"/>
<path class="c459" d="M1959 859l15 26 8-26-15-26z"/>
<path class="c447" d="M1974 885l15 29 8-26-15-29z"/>
<path class="c435" d="M1989 914l14 33 8-28-14-31z"/>
<path class="c423" d="M2003 947l15 36 8-29-15-35z"/>
<path class="c407" d="M2018 983l14 38 8-30-14-37z"/>
<path class="c391" d="M2032 1021l15 39 8-29-15-40z"/>
<path class="c375" d="M2047 1060l15 41 8-31-15-39z"/>
<path class="c355" d="M2062 1101l14 40 8-31-14-40z"/>
<path class="c339" d="M2076 1141l15 39 8-31-15-39z"/>
<path class="c323" d="M2091 1180l15 37 8-31-15-37z"/>
<path class="c311" d="M2106 1217l14 34 8-31-14-34z"/>
<path class="c295" d="M2120 1251l15 31 8-31-15-31z"/>
<path class="c283" d="M2135 1282l14 28 8-31-14-28z"/>
<path class="c275" d="M2149 1310l15 25 8-31-15-25z"/>
<path class="c267" d="M2164 1335l15 22 8-31-15-22z"/>
<path class="c259" d="M2179 1357l14 19 8-30-14-20z"/>
<path class="c255" d="M2193 1376l15 17 8-30-15-17z"/>
<path class="c247" d="M2208 1393l15 16 7-30-14-16z"/>
<path class="c243" d="M2223 1409l14 13 15 13 8-30-15-12-15-14z"/>
<path class="c239" d="M2252 1435l14 12 8-30-14-12z"/>
<path class="c235" d="M2266 1447l15 11 15 10 8-29-15-11-15-11z"/>
<path class="c231" d="M2296 1468l14 10 15 9 14 9 8-29-14-9-15-10-14-9z"/>
<path class="c227" d="M2339 1496l15 9 15 9 8-29-15-9-15-9z"/>
<path class="c199" d="M2369 1514l14 106 8 0-14-135z"/>
<path class="c459" d="M1674 756l14-11 8-38-14 9z"/>
<path class="c467" d="M1688 745l15-8 8-35-15 5z"/>
<path class="c471" d="M1703 737l15-5 7-33-14 3z"/>
<path class="c475" d="M1718 732l14-3 8-31-15 1z"/>
<path class="c483" d="M1732 729l15-1 14 1 8-29-14-2-15 0z"/>
<path class="c487" d="M1761 729l15 2 8-28-15-3z"/>
<path class="c491" d="M1776 731l15 3 14 8 8-27-14-8-15-4z"/>
<path class="c487" d="M1805 742l15 9 14 9 15 10 8-26-15-11-14-9-15-9z"/>
<path class="c483" d="M1849 770l15 12 14 12 8-27-14-12-15-11z"/>
<path class="c479" d="M1878 794l15 15 8-28-15-14z"/>
<path class="c475" d="M1893 809l15 16 8-28-15-16z"/>
<path class="c467" d="M1908 825l14 18 8-28-14-18z"/>
<path class="c463" d="M1922 843l15 21 8-28-15-21z"/>
<path class="c455" d="M1937 864l14 23 8-28-14-23z"/>
<path class="c447" d="M1951 887l15 27 8-29-15-26z"/>
<path class="c435" d="M1966 914l15 30 8-30-15-29z"/>
<path class="c423" d="M1981 944l14 34 8-31-14-33z"/>
<path class="c407" d="M1995 978l15 36 8-31-15-36z"/>
<path class="c391" d="M2010 1014l15 39 7-32-14-38z"/>
<path class="c375" d="M2025 1053l14 40 8-33-15-39z"/>
<path class="c359" d="M2039 1093l15 41 8-33-15-41z"/>
<path class="c343" d="M2054 1134l14 41 8-34-14-40z"/>
<path class="c323" d="M2068 1175l15 39 8-34-15-39z"/>
<path class="c307" d="M2083 1214l15 36 8-33-15-37z"/>
<path class="c295" d="M2098 1250l14 34 8-33-14-34z"/>
<path class="c283" d="M2112 1284l15 31 8-33-15-31z"/>
<path class="c271" d="M2127 1315l14 28 8-33-14-28z"/>
<path class="c259" d="M2141 1343l15 24 8-32-15-25z"/>
<path class="c251" d="M2156 1367l15 22 8-32-15-22z"/>
<path class="c243" d="M2171 1389l14 19 8-32-14-19z"/>
<path class="c239" d="M2185 1408l15 17 8-32-15-17z"/>
<path class="c235" d="M2200 1425l15 15 8-31-15-16z"/>
<path class="c231" d="M2215 1440l14 13 8-31-14-13z"/>
<path class="c227" d="M2229 1453l15 13 8-31-15-13z"/>
<path class="c223" d="M2244 1466l14 11 15 11 8-30-15-11-14-12z"/>
<path class="c219" d="M2273 1488l15 10 14 9 15 9 8-29-15-9-14-10-15-10z"/>
<path class="c215" d="M2317 1516l15 9 14 9 15 8 8-28-15-9-15-9-14-9z"/>
<path class="c191" d="M2361 1542l14 87 8-9-14-106z"/>
<path class="c462" d="M1710 763l14-4 8-30-14 3z"/>
<path class="c466" d="M1724 759l15-2 8-29-15 1z"/>
<path class="c470" d="M1739 757l14-1 8-27-14-1z"/>
<path class="c474" d="M1753 756l15 2 15 2 8-26-15-3-15-2z"/>
<path class="c479" d="M1783 760l14 8 8-26-14-8z"/>
<path class="c475" d="M1797 768l15 9 15 9 14 10 8-26-15-10-14-9-15-9z"/>
<path class="c471" d="M1841 796l15 12 14 12 8-26-14-12-15-12z"/>
<path class="c467" d="M1870 820l15 15 8-26-15-15z"/>
<path class="c463" d="M1885 835l15 16 8-26-15-16z"/>
<path class="c455" d="M1900 851l14 19 8-27-14-18z"/>
<path class="c451" d="M1914 870l15 21 8-27-15-21z"/>
<path class="c443" d="M1929 891l14 24 8-28-14-23z"/>
<path class="c431" d="M1943 915l15 28 8-29-15-27z"/>
<path class="c419" d="M1958 943l15 31 8-30-15-30z"/>
<path class="c407" d="M1973 974l14 34 8-30-14-34z"/>
<path class="c395" d="M1987 1008l15 37 8-31-15-36z"/>
<path class="c379" d="M2002 1045l15 39 8-31-15-39z"/>
<path class="c359" d="M2017 1084l14 41 8-32-14-40z"/>
<path class="c343" d="M2031 1125l15 41 8-32-15-41z"/>
<path class="c327" d="M2046 1166l14 41 8-32-14-41z"/>
<path class="c307" d="M2060 1207l15 39 8-32-15-39z"/>
<path class="c291" d="M2075 1246l15 37 8-33-15-36z"/>
<path class="c279" d="M2090 1283l14 34 8-33-14-34z"/>
<path class="c267" d="M2104 1317l15 30 8-32-15-31z"/>
<path class="c255" d="M2119 1347l15 27 7-31-14-28z"/>
<path class="c243" d="M2134 1374l14 24 8-31-15-24z"/>
<path class="c235" d="M2148 1398l15 21 8-30-15-22z"/>
<path class="c231" d="M2163 1419l14 19 8-30-14-19z"/>
<path class="c223" d="M2177 1438l15 17 8-30-15-17z"/>
<path class="c219" d="M2192 1455l15 14 8-29-15-15z"/>
<path class="c207" d="M2251 1505l14 11 15 9 14 10 8-28-14-9-15-10-15-11z"/>
<path class="c203" d="M2294 1535l15 8 15 9 14 8 15 8 8-26-15-8-14-9-15-9-15-9z"/>
<path class="c183" d="M2353 1568l14 70 8-9-14-87z"/>
<path class="c462" d="M1746 775l14 2 8-19-15-2z"/>
<path class="c466" d="M1760 777l15 4 14 8 15 9 8-21-15-9-14-8-15-2z"/>
<path class="c462" d="M1804 798l15 9 14 11 8-22-14-10-15-9z"/>
<path class="c458" d="M1833 818l15 11 8-21-15-12z"/>
<path class="c459" d="M1848 829l14 13 8-22-14-12z"/>
<path class="c455" d="M1862 842l15 15 8-22-15-15z"/>
<path class="c451" d="M1877 857l15 17 8-23-15-16z"/>
<path class="c443" d="M1892 874l14 19 8-23-14-19z"/>
<path class="c439" d="M1906 893l15 21 8-23-15-21z"/>
<path class="c431" d="M1921 914l15 25 7-24-14-24z"/>
<path class="c419" d="M1936 939l14 28 8-24-15-28z"/>
<path class="c407" d="M1950 967l15 32 8-25-15-31z"/>
<path class="c395" d="M1965 999l14 35 8-26-14-34z"/>
<path class="c379" d="M1979 1034l15 37 8-26-15-37z"/>
<path class="c363" d="M1994 1071l15 40 8-27-15-39z"/>
<path class="c347" d="M2009 1111l14 42 8-28-14-41z"/>
<path class="c327" d="M2023 1153l15 41 8-28-15-41z"/>
<path class="c311" d="M2038 1194l15 41 7-28-14-41z"/>
<path class="c295" d="M2053 1235l14 40 8-29-15-39z"/>
<path class="c279" d="M2067 1275l15 36 8-28-15-37z"/>
<path class="c263" d="M2082 1311l14 34 8-28-14-34z"/>
<path class="c251" d="M2096 1345l15 30 8-28-15-30z"/>
<path class="c239" d="M2111 1375l15 27 8-28-15-27z"/>
<path class="c231" d="M2126 1402l14 23 8-27-14-24z"/>
<path class="c223" d="M2140 1425l15 21 8-27-15-21z"/>
<path class="c190" d="M2286 1558l15 8 15 8 14 8 15 8 8-22-15-8-14-8-15-9-15-8z"/>
<path class="c175" d="M2345 1590l15 58 7-10-14-70z"/>
<path class="c456" d="M1796 795l15 11 14 11 8 1-14-11-15-9z"/>
<path class="c453" d="M1825 817l15 13 15 14 7-2-14-13-15-11z"/>
<path class="c449" d="M1855 844l14 15 8-2-15-15z"/>
<path class="c441" d="M1869 859l15 18 8-3-15-17z"/>
<path class="c438" d="M1884 877l14 19 8-3-14-19z"/>
<path class="c430" d="M1898 896l15 23 8-5-15-21z"/>
<path class="c422" d="M1913 919l15 25 8-5-15-25z"/>
<path class="c414" d="M1928 944l14 29 8-6-14-28z"/>
<path class="c402" d="M1942 973l15 32 8-6-15-32z"/>
<path class="c386" d="M1957 1005l14 36 8-7-14-35z"/>
<path class="c370" d="M1971 1041l15 38 8-8-15-37z"/>
<path class="c355" d="M1986 1079l15 40 8-8-15-40z"/>
<path class="c339" d="M2001 1119l14 42 8-8-14-42z"/>
<path class="c319" d="M2015 1161l15 42 8-9-15-41z"/>
<path class="c303" d="M2030 1203l15 41 8-9-15-41z"/>
<path class="c287" d="M2045 1244l14 40 8-9-14-40z"/>
<path class="c271" d="M2059 1284l15 36 8-9-15-36z"/>
<path class="c254" d="M2074 1320l14 34 8-9-14-34z"/>
<path class="c242" d="M2088 1354l15 30 8-9-15-30z"/>
<path class="c171" d="M2337 1586l15 85 8-23-15-58z"/>
<path class="c452" d="M1832 824l15 14 8 6-15-14z"/>
<path class="c448" d="M1847 838l14 15 8 6-14-15z"/>
<path class="c444" d="M1861 853l15 17 8 7-15-18z"/>
<path class="c440" d="M1876 870l14 20 8 6-14-19z"/>
<path class="c432" d="M1890 890l15 22 8 7-15-23z"/>
<path class="c425" d="M1905 912l15 25 8 7-15-25z"/>
<path class="c413" d="M1920 937l14 29 8 7-14-29z"/>
<path class="c401" d="M1934 966l15 31 8 8-15-32z"/>
<path class="c389" d="M1949 997l15 35 7 9-14-36z"/>
<path class="c373" d="M1964 1032l14 38 8 9-15-38z"/>
<path class="c357" d="M1978 1070l15 40 8 9-15-40z"/>
<path class="c337" d="M1993 1110l14 42 8 9-14-42z"/>
<path class="c321" d="M2007 1152l15 42 8 9-15-42z"/>
<path class="c301" d="M2022 1194l15 41 8 9-15-41z"/>
<path class="c285" d="M2037 1235l14 39 8 10-14-40z"/>
<path class="c269" d="M2051 1274l15 36 8 10-15-36z"/>
<path class="c253" d="M2066 1310l15 33 7 11-14-34z"/>
<path class="c167" d="M2329 1574l15 108 8-11-15-85z"/>
<path class="c452" d="M1839 831l14 15 8 7-14-15z"/>
<path class="c448" d="M1853 846l15 17 8 7-15-17z"/>
<path class="c444" d="M1868 863l15 19 7 8-14-20z"/>
<path class="c436" d="M1883 882l14 22 8 8-15-22z"/>
<path class="c428" d="M1897 904l15 25 8 8-15-25z"/>
<path class="c417" d="M1912 929l14 28 8 9-14-29z"/>
<path class="c405" d="M1926 957l15 31 8 9-15-31z"/>
<path class="c393" d="M1941 988l15 35 8 9-15-35z"/>
<path class="c377" d="M1956 1023l14 37 8 10-14-38z"/>
<path class="c361" d="M1970 1060l15 40 8 10-15-40z"/>
<path class="c345" d="M1985 1100l14 41 8 11-14-42z"/>
<path class="c325" d="M1999 1141l15 41 8 12-15-42z"/>
<path class="c309" d="M2014 1182l15 41 8 12-15-41z"/>
<path class="c293" d="M2029 1223l14 39 8 12-14-39z"/>
<path class="c277" d="M2043 1262l15 36 8 12-15-36z"/>
<path class="c260" d="M2058 1298l15 33 8 12-15-33z"/>
<path class="c171" d="M2321 1559l15 125 8-2-15-108z"/>
<path class="c452" d="M1845 838l15 16 8 9-15-17z"/>
<path class="c448" d="M1860 854l15 20 8 8-15-19z"/>
<path class="c440" d="M1875 874l14 21 8 9-14-22z"/>
<path class="c432" d="M1889 895l15 25 8 9-15-25z"/>
<path class="c424" d="M1904 920l14 27 8 10-14-28z"/>
<path class="c413" d="M1918 947l15 31 8 10-15-31z"/>
<path class="c401" d="M1933 978l15 34 8 11-15-35z"/>
<path class="c385" d="M1948 1012l14 37 8 11-14-37z"/>
<path class="c369" d="M1962 1049l15 39 8 12-15-40z"/>
<path class="c353" d="M1977 1088l15 40 7 13-14-41z"/>
<path class="c333" d="M1992 1128l14 41 8 13-15-41z"/>
<path class="c317" d="M2006 1169l15 41 8 13-15-41z"/>
<path class="c301" d="M2021 1210l14 38 8 14-14-39z"/>
<path class="c284" d="M2035 1248l15 36 8 14-15-36z"/>
<path class="c268" d="M2050 1284l15 33 8 14-15-33z"/>
<path class="c175" d="M2313 1543l15 140 8 1-15-125z"/>
<path class="c452" d="M1852 845l15 19 8 10-15-20z"/>
<path class="c448" d="M1867 864l14 21 8 10-14-21z"/>
<path class="c440" d="M1881 885l15 24 8 11-15-25z"/>
<path class="c428" d="M1896 909l15 27 7 11-14-27z"/>
<path class="c416" d="M1911 936l14 31 8 11-15-31z"/>
<path class="c405" d="M1925 967l15 33 8 12-15-34z"/>
<path class="c393" d="M1940 1000l14 37 8 12-14-37z"/>
<path class="c377" d="M1954 1037l15 38 8 13-15-39z"/>
<path class="c357" d="M1969 1075l15 40 8 13-15-40z"/>
<path class="c341" d="M1984 1115l14 41 8 13-14-41z"/>
<path class="c325" d="M1998 1156l15 39 8 15-15-41z"/>
<path class="c308" d="M2013 1195l14 39 8 14-14-38z"/>
<path class="c292" d="M2027 1234l15 36 8 14-15-36z"/>
<path class="c276" d="M2042 1270l15 32 8 15-15-33z"/>
<path class="c264" d="M2057 1302l14 30 8 15-14-30z"/>
<path class="c183" d="M2305 1527l15 153 8 3-15-140z"/>
<path class="c464" d="M1829 820l15 16 8 9-15-16z"/>
<path class="c452" d="M1859 854l14 21 8 10-14-21z"/>
<path class="c444" d="M1873 875l15 24 8 10-15-24z"/>
<path class="c436" d="M1888 899l15 26 8 11-15-27z"/>
<path class="c424" d="M1903 925l14 30 8 12-14-31z"/>
<path class="c412" d="M1917 955l15 33 8 12-15-33z"/>
<path class="c397" d="M1932 988l14 36 8 13-14-37z"/>
<path class="c385" d="M1946 1024l15 38 8 13-15-38z"/>
<path class="c365" d="M1961 1062l15 39 8 14-15-40z"/>
<path class="c349" d="M1976 1101l14 40 8 15-14-41z"/>
<path class="c333" d="M1990 1141l15 40 8 14-15-39z"/>
<path class="c316" d="M2005 1181l15 38 7 15-14-39z"/>
<path class="c300" d="M2020 1219l14 35 8 16-15-36z"/>
<path class="c288" d="M2034 1254l15 33 8 15-15-32z"/>
<path class="c272" d="M2049 1287l14 29 8 16-14-30z"/>
<path class="c187" d="M2297 1510l15 166 8 4-15-153z"/>
<path class="c472" d="M1822 811l14 16 8 9-15-16z"/>
<path class="c464" d="M1836 827l15 18 8 9-15-18z"/>
<path class="c460" d="M1851 845l14 20 8 10-14-21z"/>
<path class="c452" d="M1865 865l15 23 8 11-15-24z"/>
<path class="c444" d="M1880 888l15 26 8 11-15-26z"/>
<path class="c432" d="M1895 914l14 30 8 11-14-30z"/>
<path class="c420" d="M1909 944l15 32 8 12-15-33z"/>
<path class="c405" d="M1924 976l14 35 8 13-14-36z"/>
<path class="c393" d="M1938 1011l15 38 8 13-15-38z"/>
<path class="c373" d="M1953 1049l15 38 8 14-15-39z"/>
<path class="c357" d="M1968 1087l14 40 8 14-14-40z"/>
<path class="c341" d="M1982 1127l15 39 8 15-15-40z"/>
<path class="c324" d="M1997 1166l15 38 8 15-15-38z"/>
<path class="c308" d="M2012 1204l14 35 8 15-14-35z"/>
<path class="c296" d="M2026 1239l15 33 8 15-15-33z"/>
<path class="c195" d="M2289 1494l15 179 8 3-15-166z"/>
<path class="c472" d="M1828 818l15 18 8 9-15-18z"/>
<path class="c464" d="M1843 836l14 20 8 9-14-20z"/>
<path class="c456" d="M1857 856l15 22 8 10-15-23z"/>
<path class="c448" d="M1872 878l15 26 8 10-15-26z"/>
<path class="c440" d="M1887 904l14 29 8 11-14-30z"/>
<path class="c428" d="M1901 933l15 31 8 12-15-32z"/>
<path class="c413" d="M1916 964l15 35 7 12-14-35z"/>
<path class="c397" d="M1931 999l14 37 8 13-15-38z"/>
<path class="c381" d="M1945 1036l15 38 8 13-15-38z"/>
<path class="c365" d="M1960 1074l14 40 8 13-14-40z"/>
<path class="c349" d="M1974 1114l15 38 8 14-15-39z"/>
<path class="c332" d="M1989 1152l15 38 8 14-15-38z"/>
<path class="c316" d="M2004 1190l14 35 8 14-14-35z"/>
<path class="c304" d="M2018 1225l15 32 8 15-15-33z"/>
<path class="c292" d="M2033 1257l15 30 7 14-14-29z"/>
<path class="c280" d="M2048 1287l14 26 8 14-15-26z"/>
<path class="c199" d="M2281 1480l15 190 8 3-15-179z"/>
<path class="c484" d="M1806 794l14 16 8 8-14-16z"/>
<path class="c476" d="M1820 810l15 17 8 9-15-18z"/>
<path class="c472" d="M1835 827l15 20 7 9-14-20z"/>
<path class="c464" d="M1850 847l14 22 8 9-15-22z"/>
<path class="c456" d="M1864 869l15 25 8 10-15-26z"/>
<path class="c444" d="M1879 894l14 29 8 10-14-29z"/>
<path class="c433" d="M1893 923l15 31 8 10-15-31z"/>
<path class="c421" d="M1908 954l15 34 8 11-15-35z"/>
<path class="c405" d="M1923 988l14 36 8 12-14-37z"/>
<path class="c389" d="M1937 1024l15 39 8 11-15-38z"/>
<path class="c373" d="M1952 1063l14 38 8 13-14-40z"/>
<path class="c357" d="M1966 1101l15 39 8 12-15-38z"/>
<path class="c341" d="M1981 1140l15 37 8 13-15-38z"/>
<path class="c324" d="M1996 1177l14 35 8 13-14-35z"/>
<path class="c312" d="M2010 1212l15 33 8 12-15-32z"/>
<path class="c300" d="M2025 1245l15 29 8 13-15-30z"/>
<path class="c288" d="M2040 1274l14 26 8 13-14-26z"/>
<path class="c280" d="M2054 1300l15 23 8 13-15-23z"/>
<path class="c207" d="M2274 1469l14 197 8 4-15-190z"/>
<path class="c500" d="M1710 721l15 9 14 10 15 10 8 7-15-11-14-9-15-10z"/>
<path class="c492" d="M1783 774l15 14 8 6-15-13z"/>
<path class="c488" d="M1798 788l14 15 8 7-14-16z"/>
<path class="c484" d="M1812 803l15 17 8 7-15-17z"/>
<path class="c476" d="M1827 820l15 19 8 8-15-20z"/>
<path class="c468" d="M1842 839l14 22 8 8-14-22z"/>
<path class="c460" d="M1856 861l15 25 8 8-15-25z"/>
<path class="c453" d="M1871 886l14 28 8 9-14-29z"/>
<path class="c441" d="M1885 914l15 31 8 9-15-31z"/>
<path class="c425" d="M1900 945l15 34 8 9-15-34z"/>
<path class="c413" d="M1915 979l14 36 8 9-14-36z"/>
<path class="c397" d="M1929 1015l15 37 8 11-15-39z"/>
<path class="c381" d="M1944 1052l15 39 7 10-14-38z"/>
<path class="c365" d="M1959 1091l14 38 8 11-15-39z"/>
<path class="c349" d="M1973 1129l15 37 8 11-15-37z"/>
<path class="c333" d="M1988 1166l14 35 8 11-14-35z"/>
<path class="c321" d="M2002 1201l15 32 8 12-15-33z"/>
<path class="c308" d="M2017 1233l15 30 8 11-15-29z"/>
<path class="c296" d="M2032 1263l14 26 8 11-14-26z"/>
<path class="c288" d="M2046 1289l15 23 8 11-15-23z"/>
<path class="c256" d="M2163 1410l15 9 14 8 15 9 15 9 14 9 15 9 15 8 8-2-15-6-15-6-14-6-15-7-15-7-14-8-15-8z"/>
<path class="c211" d="M2266 1471l14 192 8 3-14-197z"/>
<path class="c500" d="M1614 691l15 2 15 2 8 6-15-3-15-1z"/>
<path class="c504" d="M1644 695l14 4 15 4 8 5-15-4-14-3z"/>
<path class="c508" d="M1673 703l14 5 15 8 8 5-15-8-14-5z"/>
<path class="c504" d="M1702 716l15 9 14 10 15 10 8 5-15-10-14-10-15-9z"/>
<path class="c500" d="M1746 745l15 11 14 12 8 6-15-12-14-12z"/>
<path class="c496" d="M1775 768l15 14 8 6-15-14z"/>
<path class="c492" d="M1790 782l14 15 8 6-14-15z"/>
<path class="c488" d="M1804 797l15 17 8 6-15-17z"/>
<path class="c480" d="M1819 814l15 19 8 6-15-19z"/>
<path class="c472" d="M1834 833l14 22 8 6-14-22z"/>
<path class="c465" d="M1848 855l15 24 8 7-15-25z"/>
<path class="c457" d="M1863 879l15 28 7 7-14-28z"/>
<path class="c445" d="M1878 907l14 30 8 8-15-31z"/>
<path class="c433" d="M1892 937l15 34 8 8-15-34z"/>
<path class="c417" d="M1907 971l14 35 8 9-14-36z"/>
<path class="c401" d="M1921 1006l15 38 8 8-15-37z"/>
<path class="c385" d="M1936 1044l15 38 8 9-15-39z"/>
<path class="c369" d="M1951 1082l14 39 8 8-14-38z"/>
<path class="c353" d="M1965 1121l15 38 8 7-15-37z"/>
<path class="c341" d="M1980 1159l14 37 8 5-14-35z"/>
<path class="c326" d="M1994 1196l15 34 8 3-15-32z"/>
<path class="c314" d="M2009 1230l15 31 8 2-15-30z"/>
<path class="c302" d="M2024 1261l14 28 8 0-14-26z"/>
<path class="c294" d="M2038 1289l15 25 8-2-15-23z"/>
<path class="c286" d="M2053 1314l15 22 8-4-15-20z"/>
<path class="c278" d="M2068 1336l14 19 8-5-14-18z"/>
<path class="c274" d="M2082 1355l15 18 8-8-15-15z"/>
<path class="c270" d="M2097 1373l14 15 8-9-14-14z"/>
<path class="c266" d="M2111 1388l15 14 8-11-15-12z"/>
<path class="c262" d="M2126 1402l15 13 8-14-15-10z"/>
<path class="c258" d="M2141 1415l14 12 15 11 15 10 7-21-14-8-15-9-14-9z"/>
<path class="c254" d="M2185 1448l14 10 15 9 14 9 15 9 8-22-15-9-14-9-15-9-15-9z"/>
<path class="c250" d="M2243 1485l15 9 8-23-15-8z"/>
<path class="c207" d="M2258 1494l14 165 8 4-14-192z"/>
<path class="c450" d="M1504 768l15-19 8-26-15 15z"/>
<path class="c462" d="M1519 749l14-15 8-23-14 12z"/>
<path class="c474" d="M1533 734l15-11 8-21-15 9z"/>
<path class="c482" d="M1548 723l15-9 7-18-14 6z"/>
<path class="c486" d="M1563 714l14-5 8-16-15 3z"/>
<path class="c494" d="M1577 709l15-3 8-15-15 2z"/>
<path class="c497" d="M1592 706l14-2 8-13-14 0z"/>
<path class="c501" d="M1606 704l15 1 15 2 8-12-15-2-15-2z"/>
<path class="c505" d="M1636 707l14 3 15 3 8-10-15-4-14-4z"/>
<path class="c509" d="M1665 713l15 5 7-10-14-5z"/>
<path class="c510" d="M1680 718l14 8 8-10-15-8z"/>
<path class="c506" d="M1694 726l15 9 14 10 15 10 8-10-15-10-14-10-15-9z"/>
<path class="c502" d="M1738 755l15 12 14 12 8-11-14-12-15-11z"/>
<path class="c498" d="M1767 779l15 14 8-11-15-14z"/>
<path class="c494" d="M1782 793l14 16 8-12-14-15z"/>
<path class="c490" d="M1796 809l15 17 8-12-15-17z"/>
<path class="c482" d="M1811 826l15 20 8-13-15-19z"/>
<path class="c474" d="M1826 846l14 23 8-14-14-22z"/>
<path class="c466" d="M1840 869l15 25 8-15-15-24z"/>
<path class="c459" d="M1855 894l15 29 8-16-15-28z"/>
<path class="c447" d="M1870 923l14 32 8-18-14-30z"/>
<path class="c431" d="M1884 955l15 35 8-19-15-34z"/>
<path class="c419" d="M1899 990l14 37 8-21-14-35z"/>
<path class="c403" d="M1913 1027l15 39 8-22-15-38z"/>
<path class="c387" d="M1928 1066l15 40 8-24-15-38z"/>
<path class="c371" d="M1943 1106l14 40 8-25-14-39z"/>
<path class="c355" d="M1957 1146l15 39 8-26-15-38z"/>
<path class="c339" d="M1972 1185l15 36 7-25-14-37z"/>
<path class="c323" d="M1987 1221l14 34 8-25-15-34z"/>
<path class="c311" d="M2001 1255l15 32 8-26-15-31z"/>
<path class="c299" d="M2016 1287l14 28 8-26-14-28z"/>
<path class="c287" d="M2030 1315l15 25 8-26-15-25z"/>
<path class="c279" d="M2045 1340l15 22 8-26-15-22z"/>
<path class="c271" d="M2060 1362l14 19 8-26-14-19z"/>
<path class="c267" d="M2074 1381l15 18 8-26-15-18z"/>
<path class="c263" d="M2089 1399l15 15 7-26-14-15z"/>
<path class="c259" d="M2104 1414l14 14 8-26-15-14z"/>
<path class="c255" d="M2118 1428l15 13 8-26-15-13z"/>
<path class="c251" d="M2133 1441l14 12 15 11 8-26-15-11-14-12z"/>
<path class="c247" d="M2162 1464l15 10 14 10 8-26-14-10-15-10z"/>
<path class="c243" d="M2191 1484l15 10 14 9 15 9 8-27-15-9-14-9-15-9z"/>
<path class="c239" d="M2235 1512l15 9 8-27-15-9z"/>
<path class="c203" d="M2250 1521l14 135 8 3-14-165z"/>
<path class="c459" d="M1525 779l15-16 8-40-15 11z"/>
<path class="c467" d="M1540 763l15-12 8-37-15 9z"/>
<path class="c475" d="M1555 751l14-8 8-34-14 5z"/>
<path class="c483" d="M1569 743l15-6 8-31-15 3z"/>
<path class="c487" d="M1584 737l14-3 8-30-14 2z"/>
<path class="c491" d="M1598 734l15-1 8-28-15-1z"/>
<path class="c494" d="M1613 733l15 1 8-27-15-2z"/>
<path class="c498" d="M1628 734l14 2 15 2 8-25-15-3-14-3z"/>
<path class="c502" d="M1657 738l15 4 8-24-15-5z"/>
<path class="c503" d="M1672 742l14 8 8-24-14-8z"/>
<path class="c499" d="M1686 750l15 9 14 10 15 10 8-24-15-10-14-10-15-9z"/>
<path class="c495" d="M1730 779l15 11 14 13 8-24-14-12-15-12z"/>
<path class="c491" d="M1759 803l15 14 8-24-15-14z"/>
<path class="c487" d="M1774 817l15 16 7-24-14-16z"/>
<path class="c483" d="M1789 833l14 18 8-25-15-17z"/>
<path class="c475" d="M1803 851l15 20 8-25-15-20z"/>
<path class="c467" d="M1818 871l14 23 8-25-14-23z"/>
<path class="c459" d="M1832 894l15 26 8-26-15-25z"/>
<path class="c447" d="M1847 920l15 30 8-27-15-29z"/>
<path class="c435" d="M1862 950l14 33 8-28-14-32z"/>
<path class="c423" d="M1876 983l15 35 8-28-15-35z"/>
<path class="c407" d="M1891 1018l15 38 7-29-14-37z"/>
<path class="c391" d="M1906 1056l14 40 8-30-15-39z"/>
<path class="c375" d="M1920 1096l15 40 8-30-15-40z"/>
<path class="c355" d="M1935 1136l14 40 8-30-14-40z"/>
<path class="c339" d="M1949 1176l15 39 8-30-15-39z"/>
<path class="c323" d="M1964 1215l15 37 8-31-15-36z"/>
<path class="c311" d="M1979 1252l14 34 8-31-14-34z"/>
<path class="c295" d="M1993 1286l15 31 8-30-15-32z"/>
<path class="c283" d="M2008 1317l14 28 8-30-14-28z"/>
<path class="c275" d="M2022 1345l15 25 8-30-15-25z"/>
<path class="c267" d="M2037 1370l15 22 8-30-15-22z"/>
<path class="c259" d="M2052 1392l14 19 8-30-14-19z"/>
<path class="c255" d="M2066 1411l15 18 8-30-15-18z"/>
<path class="c247" d="M2081 1429l15 15 8-30-15-15z"/>
<path class="c243" d="M2096 1444l14 14 15 13 8-30-15-13-14-14z"/>
<path class="c239" d="M2125 1471l14 11 8-29-14-12z"/>
<path class="c235" d="M2139 1482l15 11 15 10 8-29-15-10-15-11z"/>
<path class="c231" d="M2169 1503l14 10 15 10 15 9 7-29-14-9-15-10-14-10z"/>
<path class="c227" d="M2213 1532l14 9 15 8 8-28-15-9-15-9z"/>
<path class="c199" d="M2242 1549l14 106 8 1-14-135z"/>
<path class="c459" d="M1547 792l14-11 8-38-14 8z"/>
<path class="c467" d="M1561 781l15-8 8-36-15 6z"/>
<path class="c471" d="M1576 773l15-5 7-34-14 3z"/>
<path class="c475" d="M1591 768l14-3 8-32-15 1z"/>
<path class="c483" d="M1605 765l15-1 14 1 8-29-14-2-15-1z"/>
<path class="c487" d="M1634 765l15 2 8-29-15-2z"/>
<path class="c491" d="M1649 767l15 2 14 9 8-28-14-8-15-4z"/>
<path class="c487" d="M1678 778l15 8 15 10 14 10 8-27-15-10-14-10-15-9z"/>
<path class="c483" d="M1722 806l15 11 14 13 8-27-14-13-15-11z"/>
<path class="c479" d="M1751 830l15 14 8-27-15-14z"/>
<path class="c475" d="M1766 844l15 16 8-27-15-16z"/>
<path class="c467" d="M1781 860l14 18 8-27-14-18z"/>
<path class="c463" d="M1795 878l15 21 8-28-15-20z"/>
<path class="c455" d="M1810 899l14 24 8-29-14-23z"/>
<path class="c447" d="M1824 923l15 27 8-30-15-26z"/>
<path class="c435" d="M1839 950l15 30 8-30-15-30z"/>
<path class="c423" d="M1854 980l14 33 8-30-14-33z"/>
<path class="c407" d="M1868 1013l15 37 8-32-15-35z"/>
<path class="c391" d="M1883 1050l15 38 8-32-15-38z"/>
<path class="c375" d="M1898 1088l14 41 8-33-14-40z"/>
<path class="c359" d="M1912 1129l15 41 8-34-15-40z"/>
<path class="c343" d="M1927 1170l14 40 8-34-14-40z"/>
<path class="c323" d="M1941 1210l15 39 8-34-15-39z"/>
<path class="c307" d="M1956 1249l15 37 8-34-15-37z"/>
<path class="c295" d="M1971 1286l14 34 8-34-14-34z"/>
<path class="c283" d="M1985 1320l15 31 8-34-15-31z"/>
<path class="c271" d="M2000 1351l15 27 7-33-14-28z"/>
<path class="c259" d="M2015 1378l14 25 8-33-15-25z"/>
<path class="c251" d="M2029 1403l15 21 8-32-15-22z"/>
<path class="c243" d="M2044 1424l14 19 8-32-14-19z"/>
<path class="c239" d="M2058 1443l15 17 8-31-15-18z"/>
<path class="c235" d="M2073 1460l15 15 8-31-15-15z"/>
<path class="c231" d="M2088 1475l14 14 8-31-14-14z"/>
<path class="c227" d="M2102 1489l15 12 8-30-15-13z"/>
<path class="c223" d="M2117 1501l14 11 15 11 8-30-15-11-14-11z"/>
<path class="c219" d="M2146 1523l15 10 14 10 15 9 8-29-15-10-14-10-15-10z"/>
<path class="c215" d="M2190 1552l15 9 14 8 15 9 8-29-15-8-14-9-15-9z"/>
<path class="c191" d="M2234 1578l14 86 8-9-14-106z"/>
<path class="c462" d="M1583 798l14-4 8-29-14 3z"/>
<path class="c466" d="M1597 794l15-2 8-28-15 1z"/>
<path class="c470" d="M1612 792l14 0 8-27-14-1z"/>
<path class="c474" d="M1626 792l15 1 15 2 8-26-15-2-15-2z"/>
<path class="c479" d="M1656 795l14 9 8-26-14-9z"/>
<path class="c475" d="M1670 804l15 8 15 10 14 10 8-26-14-10-15-10-15-8z"/>
<path class="c471" d="M1714 832l15 11 14 13 8-26-14-13-15-11z"/>
<path class="c467" d="M1743 856l15 14 8-26-15-14z"/>
<path class="c463" d="M1758 870l15 17 8-27-15-16z"/>
<path class="c455" d="M1773 887l14 18 8-27-14-18z"/>
<path class="c451" d="M1787 905l15 22 8-28-15-21z"/>
<path class="c443" d="M1802 927l15 24 7-28-14-24z"/>
<path class="c431" d="M1817 951l14 27 8-28-15-27z"/>
<path class="c419" d="M1831 978l15 31 8-29-15-30z"/>
<path class="c407" d="M1846 1009l14 34 8-30-14-33z"/>
<path class="c395" d="M1860 1043l15 37 8-30-15-37z"/>
<path class="c379" d="M1875 1080l15 40 8-32-15-38z"/>
<path class="c359" d="M1890 1120l14 41 8-32-14-41z"/>
<path class="c343" d="M1904 1161l15 41 8-32-15-41z"/>
<path class="c327" d="M1919 1202l14 41 8-33-14-40z"/>
<path class="c307" d="M1933 1243l15 39 8-33-15-39z"/>
<path class="c291" d="M1948 1282l15 37 8-33-15-37z"/>
<path class="c279" d="M1963 1319l14 33 8-32-14-34z"/>
<path class="c267" d="M1977 1352l15 31 8-32-15-31z"/>
<path class="c255" d="M1992 1383l15 27 8-32-15-27z"/>
<path class="c243" d="M2007 1410l14 24 8-31-14-25z"/>
<path class="c235" d="M2021 1434l15 21 8-31-15-21z"/>
<path class="c231" d="M2036 1455l14 19 8-31-14-19z"/>
<path class="c223" d="M2050 1474l15 16 8-30-15-17z"/>
<path class="c219" d="M2065 1490l15 15 8-30-15-15z"/>
<path class="c207" d="M2124 1541l14 10 15 10 14 9 8-27-14-10-15-10-15-11z"/>
<path class="c203" d="M2167 1570l15 9 15 9 14 8 15 8 8-26-15-9-14-8-15-9-15-9z"/>
<path class="c183" d="M2226 1604l15 70 7-10-14-86z"/>
<path class="c462" d="M1619 811l14 2 8-20-15-1z"/>
<path class="c466" d="M1633 813l15 3 14 8 15 9 8-21-15-8-14-9-15-2z"/>
<path class="c462" d="M1677 833l15 10 14 10 8-21-14-10-15-10z"/>
<path class="c458" d="M1706 853l15 12 8-22-15-11z"/>
<path class="c459" d="M1721 865l15 13 7-22-14-13z"/>
<path class="c455" d="M1736 878l14 15 8-23-15-14z"/>
<path class="c451" d="M1750 893l15 16 8-22-15-17z"/>
<path class="c443" d="M1765 909l14 19 8-23-14-18z"/>
<path class="c439" d="M1779 928l15 22 8-23-15-22z"/>
<path class="c431" d="M1794 950l15 25 8-24-15-24z"/>
<path class="c419" d="M1809 975l14 28 8-25-14-27z"/>
<path class="c407" d="M1823 1003l15 31 8-25-15-31z"/>
<path class="c395" d="M1838 1034l14 35 8-26-14-34z"/>
<path class="c379" d="M1852 1069l15 38 8-27-15-37z"/>
<path class="c363" d="M1867 1107l15 40 8-27-15-40z"/>
<path class="c347" d="M1882 1147l14 41 8-27-14-41z"/>
<path class="c327" d="M1896 1188l15 42 8-28-15-41z"/>
<path class="c311" d="M1911 1230l15 41 7-28-14-41z"/>
<path class="c295" d="M1926 1271l14 39 8-28-15-39z"/>
<path class="c279" d="M1940 1310l15 37 8-28-15-37z"/>
<path class="c263" d="M1955 1347l14 33 8-28-14-33z"/>
<path class="c251" d="M1969 1380l15 30 8-27-15-31z"/>
<path class="c239" d="M1984 1410l15 27 8-27-15-27z"/>
<path class="c231" d="M1999 1437l14 24 8-27-14-24z"/>
<path class="c223" d="M2013 1461l15 20 8-26-15-21z"/>
<path class="c190" d="M2159 1593l15 9 15 8 14 8 15 8 8-22-15-8-14-8-15-9-15-9z"/>
<path class="c175" d="M2218 1626l15 57 8-9-15-70z"/>
<path class="c456" d="M1669 831l15 10 14 12 8 0-14-10-15-10z"/>
<path class="c453" d="M1698 853l15 12 15 14 8-1-15-13-15-12z"/>
<path class="c449" d="M1728 879l14 16 8-2-14-15z"/>
<path class="c441" d="M1742 895l15 17 8-3-15-16z"/>
<path class="c438" d="M1757 912l14 20 8-4-14-19z"/>
<path class="c430" d="M1771 932l15 22 8-4-15-22z"/>
<path class="c422" d="M1786 954l15 26 8-5-15-25z"/>
<path class="c414" d="M1801 980l14 29 8-6-14-28z"/>
<path class="c402" d="M1815 1009l15 32 8-7-15-31z"/>
<path class="c386" d="M1830 1041l15 35 7-7-14-35z"/>
<path class="c370" d="M1845 1076l14 38 8-7-15-38z"/>
<path class="c355" d="M1859 1114l15 41 8-8-15-40z"/>
<path class="c339" d="M1874 1155l14 42 8-9-14-41z"/>
<path class="c319" d="M1888 1197l15 42 8-9-15-42z"/>
<path class="c303" d="M1903 1239l15 41 8-9-15-41z"/>
<path class="c287" d="M1918 1280l14 39 8-9-14-39z"/>
<path class="c271" d="M1932 1319l15 37 8-9-15-37z"/>
<path class="c254" d="M1947 1356l14 33 8-9-14-33z"/>
<path class="c242" d="M1961 1389l15 30 8-9-15-30z"/>
<path class="c171" d="M2210 1621l15 85 8-23-15-57z"/>
<path class="c456" d="M1690 847l15 13 8 5-15-12z"/>
<path class="c452" d="M1705 860l15 13 8 6-15-14z"/>
<path class="c448" d="M1720 873l14 16 8 6-14-16z"/>
<path class="c444" d="M1734 889l15 17 8 6-15-17z"/>
<path class="c440" d="M1749 906l14 19 8 7-14-20z"/>
<path class="c432" d="M1763 925l15 23 8 6-15-22z"/>
<path class="c425" d="M1778 948l15 25 8 7-15-26z"/>
<path class="c413" d="M1793 973l14 28 8 8-14-29z"/>
<path class="c401" d="M1807 1001l15 32 8 8-15-32z"/>
<path class="c389" d="M1822 1033l15 35 8 8-15-35z"/>
<path class="c373" d="M1837 1068l14 38 8 8-14-38z"/>
<path class="c357" d="M1851 1106l15 40 8 9-15-41z"/>
<path class="c337" d="M1866 1146l14 41 8 10-14-42z"/>
<path class="c321" d="M1880 1187l15 42 8 10-15-42z"/>
<path class="c301" d="M1895 1229l15 41 8 10-15-41z"/>
<path class="c285" d="M1910 1270l14 39 8 10-14-39z"/>
<path class="c269" d="M1924 1309l15 37 8 10-15-37z"/>
<path class="c253" d="M1939 1346l15 33 7 10-14-33z"/>
<path class="c167" d="M2202 1609l15 109 8-12-15-85z"/>
<path class="c456" d="M1697 853l15 13 8 7-15-13z"/>
<path class="c452" d="M1712 866l14 15 8 8-14-16z"/>
<path class="c448" d="M1726 881l15 17 8 8-15-17z"/>
<path class="c444" d="M1741 898l15 20 7 7-14-19z"/>
<path class="c436" d="M1756 918l14 22 8 8-15-23z"/>
<path class="c428" d="M1770 940l15 24 8 9-15-25z"/>
<path class="c417" d="M1785 964l14 29 8 8-14-28z"/>
<path class="c405" d="M1799 993l15 31 8 9-15-32z"/>
<path class="c393" d="M1814 1024l15 34 8 10-15-35z"/>
<path class="c377" d="M1829 1058l14 38 8 10-14-38z"/>
<path class="c361" d="M1843 1096l15 39 8 11-15-40z"/>
<path class="c345" d="M1858 1135l15 41 7 11-14-41z"/>
<path class="c325" d="M1873 1176l14 42 8 11-15-42z"/>
<path class="c309" d="M1887 1218l15 40 8 12-15-41z"/>
<path class="c293" d="M1902 1258l14 39 8 12-14-39z"/>
<path class="c277" d="M1916 1297l15 37 8 12-15-37z"/>
<path class="c260" d="M1931 1334l15 33 8 12-15-33z"/>
<path class="c171" d="M2194 1595l15 125 8-2-15-109z"/>
<path class="c452" d="M1718 873l15 17 8 8-15-17z"/>
<path class="c448" d="M1733 890l15 19 8 9-15-20z"/>
<path class="c440" d="M1748 909l14 22 8 9-14-22z"/>
<path class="c432" d="M1762 931l15 24 8 9-15-24z"/>
<path class="c424" d="M1777 955l14 28 8 10-14-29z"/>
<path class="c413" d="M1791 983l15 30 8 11-15-31z"/>
<path class="c401" d="M1806 1013l15 34 8 11-15-34z"/>
<path class="c385" d="M1821 1047l14 37 8 12-14-38z"/>
<path class="c369" d="M1835 1084l15 39 8 12-15-39z"/>
<path class="c353" d="M1850 1123l15 41 8 12-15-41z"/>
<path class="c333" d="M1865 1164l14 41 8 13-14-42z"/>
<path class="c317" d="M1879 1205l15 40 8 13-15-40z"/>
<path class="c301" d="M1894 1245l14 39 8 13-14-39z"/>
<path class="c284" d="M1908 1284l15 36 8 14-15-37z"/>
<path class="c268" d="M1923 1320l15 33 8 14-15-33z"/>
<path class="c175" d="M2186 1579l15 140 8 1-15-125z"/>
<path class="c460" d="M1710 864l15 17 8 9-15-17z"/>
<path class="c452" d="M1725 881l15 19 8 9-15-19z"/>
<path class="c448" d="M1740 900l14 21 8 10-14-22z"/>
<path class="c440" d="M1754 921l15 24 8 10-15-24z"/>
<path class="c428" d="M1769 945l15 27 7 11-14-28z"/>
<path class="c416" d="M1784 972l14 30 8 11-15-30z"/>
<path class="c405" d="M1798 1002l15 34 8 11-15-34z"/>
<path class="c393" d="M1813 1036l14 36 8 12-14-37z"/>
<path class="c377" d="M1827 1072l15 39 8 12-15-39z"/>
<path class="c357" d="M1842 1111l15 40 8 13-15-41z"/>
<path class="c341" d="M1857 1151l14 40 8 14-14-41z"/>
<path class="c325" d="M1871 1191l15 40 8 14-15-40z"/>
<path class="c308" d="M1886 1231l15 38 7 15-14-39z"/>
<path class="c292" d="M1901 1269l14 36 8 15-15-36z"/>
<path class="c276" d="M1915 1305l15 33 8 15-15-33z"/>
<path class="c264" d="M1930 1338l14 29 8 15-14-29z"/>
<path class="c183" d="M2178 1562l15 153 8 4-15-140z"/>
<path class="c460" d="M1717 872l15 18 8 10-15-19z"/>
<path class="c452" d="M1732 890l14 21 8 10-14-21z"/>
<path class="c444" d="M1746 911l15 23 8 11-15-24z"/>
<path class="c436" d="M1761 934l15 27 8 11-15-27z"/>
<path class="c424" d="M1776 961l14 30 8 11-14-30z"/>
<path class="c412" d="M1790 991l15 33 8 12-15-34z"/>
<path class="c397" d="M1805 1024l14 35 8 13-14-36z"/>
<path class="c385" d="M1819 1059l15 38 8 14-15-39z"/>
<path class="c365" d="M1834 1097l15 40 8 14-15-40z"/>
<path class="c349" d="M1849 1137l14 40 8 14-14-40z"/>
<path class="c333" d="M1863 1177l15 39 8 15-15-40z"/>
<path class="c316" d="M1878 1216l15 38 8 15-15-38z"/>
<path class="c300" d="M1893 1254l14 36 8 15-14-36z"/>
<path class="c288" d="M1907 1290l15 33 8 15-15-33z"/>
<path class="c187" d="M2170 1546l15 166 8 3-15-153z"/>
<path class="c464" d="M1709 862l15 18 8 10-15-18z"/>
<path class="c460" d="M1724 880l14 21 8 10-14-21z"/>
<path class="c452" d="M1738 901l15 23 8 10-15-23z"/>
<path class="c444" d="M1753 924l15 26 8 11-15-27z"/>
<path class="c432" d="M1768 950l14 29 8 12-14-30z"/>
<path class="c420" d="M1782 979l15 33 8 12-15-33z"/>
<path class="c405" d="M1797 1012l15 35 7 12-14-35z"/>
<path class="c393" d="M1812 1047l14 37 8 13-15-38z"/>
<path class="c373" d="M1826 1084l15 39 8 14-15-40z"/>
<path class="c357" d="M1841 1123l14 40 8 14-14-40z"/>
<path class="c341" d="M1855 1163l15 39 8 14-15-39z"/>
<path class="c324" d="M1870 1202l15 37 8 15-15-38z"/>
<path class="c308" d="M1885 1239l14 36 8 15-14-36z"/>
<path class="c296" d="M1899 1275l15 32 8 16-15-33z"/>
<path class="c284" d="M1914 1307l14 30 8 15-14-29z"/>
<path class="c195" d="M2162 1530l15 178 8 4-15-166z"/>
<path class="c476" d="M1687 838l14 15 8 9-14-16z"/>
<path class="c472" d="M1701 853l15 18 8 9-15-18z"/>
<path class="c464" d="M1716 871l15 20 7 10-14-21z"/>
<path class="c456" d="M1731 891l14 23 8 10-15-23z"/>
<path class="c448" d="M1745 914l15 26 8 10-15-26z"/>
<path class="c440" d="M1760 940l14 28 8 11-14-29z"/>
<path class="c428" d="M1774 968l15 32 8 12-15-33z"/>
<path class="c413" d="M1789 1000l15 35 8 12-15-35z"/>
<path class="c397" d="M1804 1035l14 36 8 13-14-37z"/>
<path class="c381" d="M1818 1071l15 39 8 13-15-39z"/>
<path class="c365" d="M1833 1110l14 39 8 14-14-40z"/>
<path class="c349" d="M1847 1149l15 39 8 14-15-39z"/>
<path class="c332" d="M1862 1188l15 37 8 14-15-37z"/>
<path class="c316" d="M1877 1225l14 36 8 14-14-36z"/>
<path class="c304" d="M1891 1261l15 32 8 14-15-32z"/>
<path class="c292" d="M1906 1293l15 29 7 15-14-30z"/>
<path class="c199" d="M2154 1516l15 189 8 3-15-178z"/>
<path class="c488" d="M1649 804l15 12 15 14 8 8-15-14-15-13z"/>
<path class="c476" d="M1693 845l15 18 8 8-15-18z"/>
<path class="c472" d="M1708 863l15 19 8 9-15-20z"/>
<path class="c464" d="M1723 882l14 23 8 9-14-23z"/>
<path class="c456" d="M1737 905l15 25 8 10-15-26z"/>
<path class="c444" d="M1752 930l14 28 8 10-14-28z"/>
<path class="c433" d="M1766 958l15 32 8 10-15-32z"/>
<path class="c421" d="M1781 990l15 34 8 11-15-35z"/>
<path class="c405" d="M1796 1024l14 36 8 11-14-36z"/>
<path class="c389" d="M1810 1060l15 38 8 12-15-39z"/>
<path class="c373" d="M1825 1098l15 39 7 12-14-39z"/>
<path class="c357" d="M1840 1137l14 38 8 13-15-39z"/>
<path class="c341" d="M1854 1175l15 37 8 13-15-37z"/>
<path class="c324" d="M1869 1212l14 36 8 13-14-36z"/>
<path class="c312" d="M1883 1248l15 32 8 13-15-32z"/>
<path class="c300" d="M1898 1280l15 29 8 13-15-29z"/>
<path class="c288" d="M1913 1309l14 27 8 12-14-26z"/>
<path class="c207" d="M2147 1504l14 198 8 3-15-189z"/>
<path class="c496" d="M1627 786l15 11 14 12 8 7-15-12-14-12z"/>
<path class="c492" d="M1656 809l15 14 8 7-15-14z"/>
<path class="c488" d="M1671 823l14 15 8 7-14-15z"/>
<path class="c484" d="M1685 838l15 17 8 8-15-18z"/>
<path class="c476" d="M1700 855l15 20 8 7-15-19z"/>
<path class="c468" d="M1715 875l14 22 8 8-14-23z"/>
<path class="c460" d="M1729 897l15 25 8 8-15-25z"/>
<path class="c453" d="M1744 922l14 28 8 8-14-28z"/>
<path class="c441" d="M1758 950l15 30 8 10-15-32z"/>
<path class="c425" d="M1773 980l15 34 8 10-15-34z"/>
<path class="c413" d="M1788 1014l14 36 8 10-14-36z"/>
<path class="c397" d="M1802 1050l15 38 8 10-15-38z"/>
<path class="c381" d="M1817 1088l15 38 8 11-15-39z"/>
<path class="c365" d="M1832 1126l14 38 8 11-14-38z"/>
<path class="c349" d="M1846 1164l15 37 8 11-15-37z"/>
<path class="c333" d="M1861 1201l14 36 8 11-14-36z"/>
<path class="c321" d="M1875 1237l15 32 8 11-15-32z"/>
<path class="c308" d="M1890 1269l15 29 8 11-15-29z"/>
<path class="c296" d="M1905 1298l14 27 8 11-14-27z"/>
<path class="c288" d="M1919 1325l15 23 8 11-15-23z"/>
<path class="c256" d="M2036 1446l15 8 15 8 14 9 15 10 14 8 15 9 15 9 8-3-15-6-15-6-14-6-15-7-15-7-14-7-15-9z"/>
<path class="c211" d="M2139 1507l14 191 8 4-14-198z"/>
<path class="c500" d="M1487 727l15 1 15 3 8 5-15-2-15-1z"/>
<path class="c504" d="M1517 731l14 3 15 5 8 5-15-4-14-4z"/>
<path class="c508" d="M1546 739l14 4 15 9 8 5-15-9-14-4z"/>
<path class="c504" d="M1575 752l15 9 14 9 15 11 8 5-15-10-14-10-15-9z"/>
<path class="c500" d="M1619 781l15 11 14 12 8 5-14-12-15-11z"/>
<path class="c496" d="M1648 804l15 13 8 6-15-14z"/>
<path class="c492" d="M1663 817l14 15 8 6-14-15z"/>
<path class="c488" d="M1677 832l15 17 8 6-15-17z"/>
<path class="c480" d="M1692 849l15 20 8 6-15-20z"/>
<path class="c472" d="M1707 869l14 21 8 7-14-22z"/>
<path class="c465" d="M1721 890l15 25 8 7-15-25z"/>
<path class="c457" d="M1736 915l15 27 7 8-14-28z"/>
<path class="c445" d="M1751 942l14 31 8 7-15-30z"/>
<path class="c433" d="M1765 973l15 33 8 8-15-34z"/>
<path class="c417" d="M1780 1006l14 36 8 8-14-36z"/>
<path class="c401" d="M1794 1042l15 37 8 9-15-38z"/>
<path class="c385" d="M1809 1079l15 38 8 9-15-38z"/>
<path class="c369" d="M1824 1117l14 39 8 8-14-38z"/>
<path class="c353" d="M1838 1156l15 39 8 6-15-37z"/>
<path class="c341" d="M1853 1195l15 36 7 6-14-36z"/>
<path class="c326" d="M1868 1231l14 34 8 4-15-32z"/>
<path class="c314" d="M1882 1265l15 31 8 2-15-29z"/>
<path class="c302" d="M1897 1296l14 28 8 1-14-27z"/>
<path class="c294" d="M1911 1324l15 25 8-1-15-23z"/>
<path class="c286" d="M1926 1349l15 22 8-3-15-20z"/>
<path class="c278" d="M1941 1371l14 20 8-5-14-18z"/>
<path class="c274" d="M1955 1391l15 17 8-7-15-15z"/>
<path class="c270" d="M1970 1408l14 16 8-10-14-13z"/>
<path class="c266" d="M1984 1424l15 14 8-12-15-12z"/>
<path class="c262" d="M1999 1438l15 13 8-14-15-11z"/>
<path class="c258" d="M2014 1451l14 11 15 11 15 10 8-21-15-8-15-8-14-9z"/>
<path class="c254" d="M2058 1483l14 10 15 10 14 9 15 9 8-23-15-9-14-8-15-10-14-9z"/>
<path class="c250" d="M2116 1521l15 8 8-22-15-9z"/>
<path class="c207" d="M2131 1529l14 166 8 3-14-191z"/>
<path class="c450" d="M1377 804l15-19 8-27-15 15z"/>
<path class="c462" d="M1392 785l14-15 8-23-14 11z"/>
<path class="c474" d="M1406 770l15-12 8-20-15 9z"/>
<path class="c482" d="M1421 758l15-8 8-18-15 6z"/>
<path class="c486" d="M1436 750l14-6 8-16-14 4z"/>
<path class="c494" d="M1450 744l15-3 8-14-15 1z"/>
<path class="c497" d="M1465 741l14-1 8-13-14 0z"/>
<path class="c501" d="M1479 740l15 0 15 2 8-11-15-3-15-1z"/>
<path class="c505" d="M1509 742l14 3 15 4 8-10-15-5-14-3z"/>
<path class="c509" d="M1538 749l15 4 7-10-14-4z"/>
<path class="c510" d="M1553 753l14 9 8-10-15-9z"/>
<path class="c506" d="M1567 762l15 9 14 10 15 10 8-10-15-11-14-9-15-9z"/>
<path class="c502" d="M1611 791l15 11 14 13 8-11-14-12-15-11z"/>
<path class="c498" d="M1640 815l15 14 8-12-15-13z"/>
<path class="c494" d="M1655 829l15 15 7-12-14-15z"/>
<path class="c490" d="M1670 844l14 18 8-13-15-17z"/>
<path class="c482" d="M1684 862l15 20 8-13-15-20z"/>
<path class="c474" d="M1699 882l14 22 8-14-14-21z"/>
<path class="c466" d="M1713 904l15 26 8-15-15-25z"/>
<path class="c459" d="M1728 930l15 29 8-17-15-27z"/>
<path class="c447" d="M1743 959l14 31 8-17-14-31z"/>
<path class="c431" d="M1757 990l15 35 8-19-15-33z"/>
<path class="c419" d="M1772 1025l14 37 8-20-14-36z"/>
<path class="c403" d="M1786 1062l15 40 8-23-15-37z"/>
<path class="c387" d="M1801 1102l15 40 8-25-15-38z"/>
<path class="c371" d="M1816 1142l14 39 8-25-14-39z"/>
<path class="c355" d="M1830 1181l15 39 8-25-15-39z"/>
<path class="c339" d="M1845 1220l15 37 8-26-15-36z"/>
<path class="c323" d="M1860 1257l14 34 8-26-14-34z"/>
<path class="c311" d="M1874 1291l15 31 8-26-15-31z"/>
<path class="c299" d="M1889 1322l14 28 8-26-14-28z"/>
<path class="c287" d="M1903 1350l15 25 8-26-15-25z"/>
<path class="c279" d="M1918 1375l15 22 8-26-15-22z"/>
<path class="c271" d="M1933 1397l14 20 8-26-14-20z"/>
<path class="c267" d="M1947 1417l15 17 8-26-15-17z"/>
<path class="c263" d="M1962 1434l15 16 7-26-14-16z"/>
<path class="c259" d="M1977 1450l14 14 8-26-15-14z"/>
<path class="c255" d="M1991 1464l15 13 8-26-15-13z"/>
<path class="c251" d="M2006 1477l14 11 15 11 8-26-15-11-14-11z"/>
<path class="c247" d="M2035 1499l15 11 14 10 8-27-14-10-15-10z"/>
<path class="c243" d="M2064 1520l15 9 15 9 14 9 8-26-15-9-14-9-15-10z"/>
<path class="c239" d="M2108 1547l15 9 8-27-15-8z"/>
<path class="c203" d="M2123 1556l14 135 8 4-14-166z"/>
<path class="c459" d="M1398 814l15-15 8-41-15 12z"/>
<path class="c467" d="M1413 799l15-12 8-37-15 8z"/>
<path class="c475" d="M1428 787l14-8 8-35-14 6z"/>
<path class="c483" d="M1442 779l15-6 8-32-15 3z"/>
<path class="c487" d="M1457 773l15-3 7-30-14 1z"/>
<path class="c491" d="M1472 770l14-1 8-29-15 0z"/>
<path class="c494" d="M1486 769l15 0 8-27-15-2z"/>
<path class="c498" d="M1501 769l14 2 15 3 8-25-15-4-14-3z"/>
<path class="c502" d="M1530 774l15 4 8-25-15-4z"/>
<path class="c503" d="M1545 778l14 8 8-24-14-9z"/>
<path class="c499" d="M1559 786l15 9 14 9 15 11 8-24-15-10-14-10-15-9z"/>
<path class="c495" d="M1603 815l15 11 14 12 8-23-14-13-15-11z"/>
<path class="c491" d="M1632 838l15 14 8-23-15-14z"/>
<path class="c487" d="M1647 852l15 16 8-24-15-15z"/>
<path class="c483" d="M1662 868l14 18 8-24-14-18z"/>
<path class="c475" d="M1676 886l15 21 8-25-15-20z"/>
<path class="c467" d="M1691 907l14 23 8-26-14-22z"/>
<path class="c459" d="M1705 930l15 26 8-26-15-26z"/>
<path class="c447" d="M1720 956l15 29 8-26-15-29z"/>
<path class="c435" d="M1735 985l14 33 8-28-14-31z"/>
<path class="c423" d="M1749 1018l15 36 8-29-15-35z"/>
<path class="c407" d="M1764 1054l15 38 7-30-14-37z"/>
<path class="c391" d="M1779 1092l14 39 8-29-15-40z"/>
<path class="c375" d="M1793 1131l15 41 8-30-15-40z"/>
<path class="c355" d="M1808 1172l14 40 8-31-14-39z"/>
<path class="c339" d="M1822 1212l15 39 8-31-15-39z"/>
<path class="c323" d="M1837 1251l15 37 8-31-15-37z"/>
<path class="c311" d="M1852 1288l14 34 8-31-14-34z"/>
<path class="c295" d="M1866 1322l15 31 8-31-15-31z"/>
<path class="c283" d="M1881 1353l15 28 7-31-14-28z"/>
<path class="c275" d="M1896 1381l14 25 8-31-15-25z"/>
<path class="c267" d="M1910 1406l15 22 8-31-15-22z"/>
<path class="c259" d="M1925 1428l14 19 8-30-14-20z"/>
<path class="c255" d="M1939 1447l15 17 8-30-15-17z"/>
<path class="c247" d="M1954 1464l15 16 8-30-15-16z"/>
<path class="c243" d="M1969 1480l14 13 15 13 8-29-15-13-14-14z"/>
<path class="c239" d="M1998 1506l14 12 8-30-14-11z"/>
<path class="c235" d="M2012 1518l15 11 15 10 8-29-15-11-15-11z"/>
<path class="c231" d="M2042 1539l14 10 15 9 15 9 8-29-15-9-15-9-14-10z"/>
<path class="c227" d="M2086 1567l14 9 15 9 8-29-15-9-14-9z"/>
<path class="c199" d="M2115 1585l14 106 8 0-14-135z"/>
<path class="c459" d="M1420 828l14-12 8-37-14 8z"/>
<path class="c467" d="M1434 816l15-8 8-35-15 6z"/>
<path class="c471" d="M1449 808l15-5 8-33-15 3z"/>
<path class="c475" d="M1464 803l14-3 8-31-14 1z"/>
<path class="c483" d="M1478 800l15 0 14 0 8-29-14-2-15 0z"/>
<path class="c487" d="M1507 800l15 2 8-28-15-3z"/>
<path class="c491" d="M1522 802l15 3 14 8 8-27-14-8-15-4z"/>
<path class="c487" d="M1551 813l15 9 15 9 14 10 8-26-15-11-14-9-15-9z"/>
<path class="c483" d="M1595 841l15 12 14 12 8-27-14-12-15-11z"/>
<path class="c479" d="M1624 865l15 15 8-28-15-14z"/>
<path class="c475" d="M1639 880l15 16 8-28-15-16z"/>
<path class="c467" d="M1654 896l14 18 8-28-14-18z"/>
<path class="c463" d="M1668 914l15 21 8-28-15-21z"/>
<path class="c455" d="M1683 935l15 23 7-28-14-23z"/>
<path class="c447" d="M1698 958l14 27 8-29-15-26z"/>
<path class="c435" d="M1712 985l15 30 8-30-15-29z"/>
<path class="c423" d="M1727 1015l14 34 8-31-14-33z"/>
<path class="c407" d="M1741 1049l15 36 8-31-15-36z"/>
<path class="c391" d="M1756 1085l15 39 8-32-15-38z"/>
<path class="c375" d="M1771 1124l14 40 8-33-14-39z"/>
<path class="c359" d="M1785 1164l15 41 8-33-15-41z"/>
<path class="c343" d="M1800 1205l14 41 8-34-14-40z"/>
<path class="c323" d="M1814 1246l15 39 8-34-15-39z"/>
<path class="c307" d="M1829 1285l15 36 8-33-15-37z"/>
<path class="c295" d="M1844 1321l14 34 8-33-14-34z"/>
<path class="c283" d="M1858 1355l15 31 8-33-15-31z"/>
<path class="c271" d="M1873 1386l15 28 8-33-15-28z"/>
<path class="c259" d="M1888 1414l14 24 8-32-14-25z"/>
<path class="c251" d="M1902 1438l15 22 8-32-15-22z"/>
<path class="c243" d="M1917 1460l14 19 8-32-14-19z"/>
<path class="c239" d="M1931 1479l15 17 8-32-15-17z"/>
<path class="c235" d="M1946 1496l15 15 8-31-15-16z"/>
<path class="c231" d="M1961 1511l14 13 8-31-14-13z"/>
<path class="c227" d="M1975 1524l15 13 8-31-15-13z"/>
<path class="c223" d="M1990 1537l15 11 14 11 8-30-15-11-14-12z"/>
<path class="c219" d="M2019 1559l15 10 14 9 15 9 8-29-15-9-14-10-15-10z"/>
<path class="c215" d="M2063 1587l15 9 14 9 15 8 8-28-15-9-14-9-15-9z"/>
<path class="c191" d="M2107 1613l14 87 8-9-14-106z"/>
<path class="c462" d="M1456 834l14-4 8-30-14 3z"/>
<path class="c466" d="M1470 830l15-2 8-28-15 0z"/>
<path class="c470" d="M1485 828l15-1 7-27-14 0z"/>
<path class="c474" d="M1500 827l14 2 15 2 8-26-15-3-15-2z"/>
<path class="c479" d="M1529 831l14 8 8-26-14-8z"/>
<path class="c475" d="M1543 839l15 9 15 9 14 10 8-26-14-10-15-9-15-9z"/>
<path class="c471" d="M1587 867l15 12 14 13 8-27-14-12-15-12z"/>
<path class="c467" d="M1616 892l15 14 8-26-15-15z"/>
<path class="c463" d="M1631 906l15 16 8-26-15-16z"/>
<path class="c455" d="M1646 922l14 19 8-27-14-18z"/>
<path class="c451" d="M1660 941l15 21 8-27-15-21z"/>
<path class="c443" d="M1675 962l15 24 8-28-15-23z"/>
<path class="c431" d="M1690 986l14 28 8-29-14-27z"/>
<path class="c419" d="M1704 1014l15 31 8-30-15-30z"/>
<path class="c407" d="M1719 1045l14 34 8-30-14-34z"/>
<path class="c395" d="M1733 1079l15 37 8-31-15-36z"/>
<path class="c379" d="M1748 1116l15 39 8-31-15-39z"/>
<path class="c359" d="M1763 1155l14 41 8-32-14-40z"/>
<path class="c343" d="M1777 1196l15 41 8-32-15-41z"/>
<path class="c327" d="M1792 1237l15 41 7-32-14-41z"/>
<path class="c307" d="M1807 1278l14 39 8-32-15-39z"/>
<path class="c291" d="M1821 1317l15 37 8-33-15-36z"/>
<path class="c279" d="M1836 1354l14 34 8-33-14-34z"/>
<path class="c267" d="M1850 1388l15 30 8-32-15-31z"/>
<path class="c255" d="M1865 1418l15 27 8-31-15-28z"/>
<path class="c243" d="M1880 1445l14 24 8-31-14-24z"/>
<path class="c235" d="M1894 1469l15 22 8-31-15-22z"/>
<path class="c231" d="M1909 1491l14 18 8-30-14-19z"/>
<path class="c223" d="M1923 1509l15 17 8-30-15-17z"/>
<path class="c219" d="M1938 1526l15 14 8-29-15-15z"/>
<path class="c215" d="M1953 1540l14 13 8-29-14-13z"/>
<path class="c207" d="M1997 1576l14 11 15 9 14 10 8-28-14-9-15-10-14-11z"/>
<path class="c203" d="M2040 1606l15 8 15 9 14 8 15 8 8-26-15-8-14-9-15-9-15-9z"/>
<path class="c183" d="M2099 1639l15 70 7-9-14-87z"/>
<path class="c462" d="M1492 846l14 3 8-20-14-2z"/>
<path class="c466" d="M1506 849l15 3 14 8 15 9 8-21-15-9-14-8-15-2z"/>
<path class="c462" d="M1550 869l15 9 14 11 8-22-14-10-15-9z"/>
<path class="c458" d="M1579 889l15 11 8-21-15-12z"/>
<path class="c459" d="M1594 900l15 13 7-21-14-13z"/>
<path class="c455" d="M1609 913l14 15 8-22-15-14z"/>
<path class="c451" d="M1623 928l15 17 8-23-15-16z"/>
<path class="c443" d="M1638 945l14 19 8-23-14-19z"/>
<path class="c439" d="M1652 964l15 22 8-24-15-21z"/>
<path class="c431" d="M1667 986l15 24 8-24-15-24z"/>
<path class="c419" d="M1682 1010l14 28 8-24-14-28z"/>
<path class="c407" d="M1696 1038l15 32 8-25-15-31z"/>
<path class="c395" d="M1711 1070l15 35 7-26-14-34z"/>
<path class="c379" d="M1726 1105l14 37 8-26-15-37z"/>
<path class="c363" d="M1740 1142l15 40 8-27-15-39z"/>
<path class="c347" d="M1755 1182l14 42 8-28-14-41z"/>
<path class="c327" d="M1769 1224l15 41 8-28-15-41z"/>
<path class="c311" d="M1784 1265l15 41 8-28-15-41z"/>
<path class="c295" d="M1799 1306l14 40 8-29-14-39z"/>
<path class="c279" d="M1813 1346l15 36 8-28-15-37z"/>
<path class="c263" d="M1828 1382l14 34 8-28-14-34z"/>
<path class="c251" d="M1842 1416l15 30 8-28-15-30z"/>
<path class="c239" d="M1857 1446l15 27 8-28-15-27z"/>
<path class="c231" d="M1872 1473l14 23 8-27-14-24z"/>
<path class="c223" d="M1886 1496l15 21 8-26-15-22z"/>
<path class="c190" d="M2033 1629l14 8 15 9 14 7 15 8 8-22-15-8-14-8-15-9-15-8z"/>
<path class="c175" d="M2091 1661l15 58 8-10-15-70z"/>
<path class="c456" d="M1542 866l15 11 14 11 8 1-14-11-15-9z"/>
<path class="c453" d="M1571 888l15 13 15 14 8-2-15-13-15-11z"/>
<path class="c449" d="M1601 915l14 15 8-2-14-15z"/>
<path class="c441" d="M1615 930l15 18 8-3-15-17z"/>
<path class="c438" d="M1630 948l14 19 8-3-14-19z"/>
<path class="c430" d="M1644 967l15 23 8-4-15-22z"/>
<path class="c422" d="M1659 990l15 25 8-5-15-24z"/>
<path class="c414" d="M1674 1015l14 29 8-6-14-28z"/>
<path class="c402" d="M1688 1044l15 32 8-6-15-32z"/>
<path class="c386" d="M1703 1076l15 36 8-7-15-35z"/>
<path class="c370" d="M1718 1112l14 38 8-8-14-37z"/>
<path class="c355" d="M1732 1150l15 40 8-8-15-40z"/>
<path class="c339" d="M1747 1190l14 42 8-8-14-42z"/>
<path class="c319" d="M1761 1232l15 42 8-9-15-41z"/>
<path class="c303" d="M1776 1274l15 41 8-9-15-41z"/>
<path class="c287" d="M1791 1315l14 40 8-9-14-40z"/>
<path class="c271" d="M1805 1355l15 36 8-9-15-36z"/>
<path class="c254" d="M1820 1391l15 34 7-9-14-34z"/>
<path class="c242" d="M1835 1425l14 30 8-9-15-30z"/>
<path class="c171" d="M2083 1657l15 85 8-23-15-58z"/>
<path class="c456" d="M1563 883l15 12 8 6-15-13z"/>
<path class="c452" d="M1578 895l15 14 8 6-15-14z"/>
<path class="c448" d="M1593 909l14 15 8 6-14-15z"/>
<path class="c444" d="M1607 924l15 17 8 7-15-18z"/>
<path class="c440" d="M1622 941l15 20 7 6-14-19z"/>
<path class="c432" d="M1637 961l14 22 8 7-15-23z"/>
<path class="c425" d="M1651 983l15 25 8 7-15-25z"/>
<path class="c413" d="M1666 1008l14 29 8 7-14-29z"/>
<path class="c401" d="M1680 1037l15 32 8 7-15-32z"/>
<path class="c389" d="M1695 1069l15 35 8 8-15-36z"/>
<path class="c373" d="M1710 1104l14 37 8 9-14-38z"/>
<path class="c357" d="M1724 1141l15 40 8 9-15-40z"/>
<path class="c337" d="M1739 1181l14 42 8 9-14-42z"/>
<path class="c321" d="M1753 1223l15 42 8 9-15-42z"/>
<path class="c301" d="M1768 1265l15 41 8 9-15-41z"/>
<path class="c285" d="M1783 1306l14 39 8 10-14-40z"/>
<path class="c269" d="M1797 1345l15 36 8 10-15-36z"/>
<path class="c253" d="M1812 1381l15 33 8 11-15-34z"/>
<path class="c167" d="M2075 1645l15 108 8-11-15-85z"/>
<path class="c456" d="M1570 888l15 14 8 7-15-14z"/>
<path class="c452" d="M1585 902l14 15 8 7-14-15z"/>
<path class="c448" d="M1599 917l15 17 8 7-15-17z"/>
<path class="c444" d="M1614 934l15 19 8 8-15-20z"/>
<path class="c436" d="M1629 953l14 22 8 8-14-22z"/>
<path class="c428" d="M1643 975l15 25 8 8-15-25z"/>
<path class="c417" d="M1658 1000l14 28 8 9-14-29z"/>
<path class="c405" d="M1672 1028l15 31 8 10-15-32z"/>
<path class="c393" d="M1687 1059l15 35 8 10-15-35z"/>
<path class="c377" d="M1702 1094l14 37 8 10-14-37z"/>
<path class="c361" d="M1716 1131l15 40 8 10-15-40z"/>
<path class="c345" d="M1731 1171l15 41 7 11-14-42z"/>
<path class="c325" d="M1746 1212l14 41 8 12-15-42z"/>
<path class="c309" d="M1760 1253l15 41 8 12-15-41z"/>
<path class="c293" d="M1775 1294l14 39 8 12-14-39z"/>
<path class="c277" d="M1789 1333l15 36 8 12-15-36z"/>
<path class="c260" d="M1804 1369l15 33 8 12-15-33z"/>
<path class="c171" d="M2067 1630l15 125 8-2-15-108z"/>
<path class="c452" d="M1591 909l15 17 8 8-15-17z"/>
<path class="c448" d="M1606 926l15 19 8 8-15-19z"/>
<path class="c440" d="M1621 945l14 21 8 9-14-22z"/>
<path class="c432" d="M1635 966l15 25 8 9-15-25z"/>
<path class="c424" d="M1650 991l15 27 7 10-14-28z"/>
<path class="c413" d="M1665 1018l14 31 8 10-15-31z"/>
<path class="c401" d="M1679 1049l15 34 8 11-15-35z"/>
<path class="c385" d="M1694 1083l14 37 8 11-14-37z"/>
<path class="c369" d="M1708 1120l15 39 8 12-15-40z"/>
<path class="c353" d="M1723 1159l15 41 8 12-15-41z"/>
<path class="c333" d="M1738 1200l14 40 8 13-14-41z"/>
<path class="c317" d="M1752 1240l15 41 8 13-15-41z"/>
<path class="c301" d="M1767 1281l14 38 8 14-14-39z"/>
<path class="c284" d="M1781 1319l15 36 8 14-15-36z"/>
<path class="c268" d="M1796 1355l15 33 8 14-15-33z"/>
<path class="c175" d="M2059 1614l15 140 8 1-15-125z"/>
<path class="c460" d="M1583 900l15 16 8 10-15-17z"/>
<path class="c452" d="M1598 916l15 19 8 10-15-19z"/>
<path class="c448" d="M1613 935l14 21 8 10-14-21z"/>
<path class="c440" d="M1627 956l15 24 8 11-15-25z"/>
<path class="c428" d="M1642 980l15 28 8 10-15-27z"/>
<path class="c416" d="M1657 1008l14 30 8 11-14-31z"/>
<path class="c405" d="M1671 1038l15 33 8 12-15-34z"/>
<path class="c393" d="M1686 1071l14 37 8 12-14-37z"/>
<path class="c377" d="M1700 1108l15 38 8 13-15-39z"/>
<path class="c357" d="M1715 1146l15 40 8 14-15-41z"/>
<path class="c341" d="M1730 1186l14 41 8 13-14-40z"/>
<path class="c325" d="M1744 1227l15 39 8 15-15-41z"/>
<path class="c308" d="M1759 1266l15 39 7 14-14-38z"/>
<path class="c292" d="M1774 1305l14 36 8 14-15-36z"/>
<path class="c276" d="M1788 1341l15 32 8 15-15-33z"/>
<path class="c264" d="M1803 1373l14 30 8 15-14-30z"/>
<path class="c183" d="M2051 1598l15 153 8 3-15-140z"/>
<path class="c464" d="M1576 891l14 16 8 9-15-16z"/>
<path class="c460" d="M1590 907l15 18 8 10-15-19z"/>
<path class="c452" d="M1605 925l14 21 8 10-14-21z"/>
<path class="c444" d="M1619 946l15 24 8 10-15-24z"/>
<path class="c436" d="M1634 970l15 26 8 12-15-28z"/>
<path class="c424" d="M1649 996l14 30 8 12-14-30z"/>
<path class="c412" d="M1663 1026l15 33 8 12-15-33z"/>
<path class="c397" d="M1678 1059l15 36 7 13-14-37z"/>
<path class="c385" d="M1693 1095l14 38 8 13-15-38z"/>
<path class="c365" d="M1707 1133l15 39 8 14-15-40z"/>
<path class="c349" d="M1722 1172l14 40 8 15-14-41z"/>
<path class="c333" d="M1736 1212l15 40 8 14-15-39z"/>
<path class="c316" d="M1751 1252l15 38 8 15-15-39z"/>
<path class="c300" d="M1766 1290l14 35 8 16-14-36z"/>
<path class="c288" d="M1780 1325l15 33 8 15-15-32z"/>
<path class="c187" d="M2043 1581l15 166 8 4-15-153z"/>
<path class="c460" d="M1597 916l14 20 8 10-14-21z"/>
<path class="c452" d="M1611 936l15 23 8 11-15-24z"/>
<path class="c444" d="M1626 959l15 27 8 10-15-26z"/>
<path class="c432" d="M1641 986l14 29 8 11-14-30z"/>
<path class="c420" d="M1655 1015l15 32 8 12-15-33z"/>
<path class="c405" d="M1670 1047l15 35 8 13-15-36z"/>
<path class="c393" d="M1685 1082l14 38 8 13-14-38z"/>
<path class="c373" d="M1699 1120l15 39 8 13-15-39z"/>
<path class="c357" d="M1714 1159l14 39 8 14-14-40z"/>
<path class="c341" d="M1728 1198l15 39 8 15-15-40z"/>
<path class="c324" d="M1743 1237l15 38 8 15-15-38z"/>
<path class="c308" d="M1758 1275l14 35 8 15-14-35z"/>
<path class="c296" d="M1772 1310l15 33 8 15-15-33z"/>
<path class="c284" d="M1787 1343l15 29 7 16-14-30z"/>
<path class="c195" d="M2035 1565l15 179 8 3-15-166z"/>
<path class="c472" d="M1574 889l15 18 8 9-15-18z"/>
<path class="c464" d="M1589 907l15 20 7 9-14-20z"/>
<path class="c456" d="M1604 927l14 22 8 10-15-23z"/>
<path class="c448" d="M1618 949l15 26 8 11-15-27z"/>
<path class="c440" d="M1633 975l14 29 8 11-14-29z"/>
<path class="c428" d="M1647 1004l15 32 8 11-15-32z"/>
<path class="c413" d="M1662 1036l15 34 8 12-15-35z"/>
<path class="c397" d="M1677 1070l14 37 8 13-14-38z"/>
<path class="c381" d="M1691 1107l15 38 8 14-15-39z"/>
<path class="c365" d="M1706 1145l15 40 7 13-14-39z"/>
<path class="c349" d="M1721 1185l14 38 8 14-15-39z"/>
<path class="c332" d="M1735 1223l15 38 8 14-15-38z"/>
<path class="c316" d="M1750 1261l14 35 8 14-14-35z"/>
<path class="c304" d="M1764 1296l15 33 8 14-15-33z"/>
<path class="c292" d="M1779 1329l15 29 8 14-15-29z"/>
<path class="c199" d="M2028 1551l14 190 8 3-15-179z"/>
<path class="c488" d="M1523 839l14 13 15 13 8 8-15-14-15-12z"/>
<path class="c484" d="M1552 865l14 16 8 8-14-16z"/>
<path class="c476" d="M1566 881l15 17 8 9-15-18z"/>
<path class="c472" d="M1581 898l15 20 8 9-15-20z"/>
<path class="c464" d="M1596 918l14 22 8 9-14-22z"/>
<path class="c456" d="M1610 940l15 26 8 9-15-26z"/>
<path class="c444" d="M1625 966l14 28 8 10-14-29z"/>
<path class="c433" d="M1639 994l15 31 8 11-15-32z"/>
<path class="c421" d="M1654 1025l15 34 8 11-15-34z"/>
<path class="c405" d="M1669 1059l14 37 8 11-14-37z"/>
<path class="c389" d="M1683 1096l15 38 8 11-15-38z"/>
<path class="c373" d="M1698 1134l15 38 8 13-15-40z"/>
<path class="c357" d="M1713 1172l14 39 8 12-14-38z"/>
<path class="c341" d="M1727 1211l15 37 8 13-15-38z"/>
<path class="c324" d="M1742 1248l14 35 8 13-14-35z"/>
<path class="c312" d="M1756 1283l15 33 8 13-15-33z"/>
<path class="c300" d="M1771 1316l15 29 8 13-15-29z"/>
<path class="c288" d="M1786 1345l14 26 8 13-14-26z"/>
<path class="c207" d="M2020 1540l14 197 8 4-14-190z"/>
<path class="c500" d="M1456 792l15 10 14 9 15 10 8 7-15-11-14-9-15-9z"/>
<path class="c496" d="M1500 821l15 12 14 12 8 7-14-13-15-11z"/>
<path class="c492" d="M1529 845l15 14 8 6-15-13z"/>
<path class="c488" d="M1544 859l14 15 8 7-14-16z"/>
<path class="c484" d="M1558 874l15 17 8 7-15-17z"/>
<path class="c476" d="M1573 891l15 19 8 8-15-20z"/>
<path class="c468" d="M1588 910l14 22 8 8-14-22z"/>
<path class="c460" d="M1602 932l15 25 8 9-15-26z"/>
<path class="c453" d="M1617 957l15 28 7 9-14-28z"/>
<path class="c441" d="M1632 985l14 31 8 9-15-31z"/>
<path class="c425" d="M1646 1016l15 34 8 9-15-34z"/>
<path class="c413" d="M1661 1050l14 36 8 10-14-37z"/>
<path class="c397" d="M1675 1086l15 37 8 11-15-38z"/>
<path class="c381" d="M1690 1123l15 39 8 10-15-38z"/>
<path class="c365" d="M1705 1162l14 38 8 11-14-39z"/>
<path class="c349" d="M1719 1200l15 37 8 11-15-37z"/>
<path class="c333" d="M1734 1237l14 35 8 11-14-35z"/>
<path class="c321" d="M1748 1272l15 32 8 12-15-33z"/>
<path class="c308" d="M1763 1304l15 30 8 11-15-29z"/>
<path class="c296" d="M1778 1334l14 26 8 11-14-26z"/>
<path class="c288" d="M1792 1360l15 23 8 11-15-23z"/>
<path class="c256" d="M1909 1481l15 9 15 8 14 9 15 9 14 9 15 9 15 8 8-2-15-6-15-6-14-6-15-7-15-7-14-8-15-8z"/>
<path class="c211" d="M2012 1542l14 192 8 3-14-197z"/>
<path class="c504" d="M1390 766l14 4 15 4 8 5-15-4-14-3z"/>
<path class="c508" d="M1419 774l15 5 14 8 8 5-15-8-14-5z"/>
<path class="c504" d="M1448 787l15 9 14 10 15 10 8 5-15-10-14-9-15-10z"/>
<path class="c500" d="M1492 816l15 11 14 12 8 6-14-12-15-12z"/>
<path class="c496" d="M1521 839l15 14 8 6-15-14z"/>
<path class="c492" d="M1536 853l14 15 8 6-14-15z"/>
<path class="c488" d="M1550 868l15 17 8 6-15-17z"/>
<path class="c480" d="M1565 885l15 19 8 6-15-19z"/>
<path class="c472" d="M1580 904l14 22 8 6-14-22z"/>
<path class="c465" d="M1594 926l15 24 8 7-15-25z"/>
<path class="c457" d="M1609 950l15 28 8 7-15-28z"/>
<path class="c445" d="M1624 978l14 30 8 8-14-31z"/>
<path class="c433" d="M1638 1008l15 34 8 8-15-34z"/>
<path class="c417" d="M1653 1042l14 35 8 9-14-36z"/>
<path class="c401" d="M1667 1077l15 38 8 8-15-37z"/>
<path class="c385" d="M1682 1115l15 38 8 9-15-39z"/>
<path class="c369" d="M1697 1153l14 39 8 8-14-38z"/>
<path class="c353" d="M1711 1192l15 38 8 7-15-37z"/>
<path class="c341" d="M1726 1230l15 37 7 5-14-35z"/>
<path class="c326" d="M1741 1267l14 34 8 3-15-32z"/>
<path class="c314" d="M1755 1301l15 31 8 2-15-30z"/>
<path class="c302" d="M1770 1332l14 28 8 0-14-26z"/>
<path class="c294" d="M1784 1360l15 25 8-2-15-23z"/>
<path class="c286" d="M1799 1385l15 22 8-4-15-20z"/>
<path class="c278" d="M1814 1407l14 20 8-6-14-18z"/>
<path class="c274" d="M1828 1427l15 17 8-8-15-15z"/>
<path class="c270" d="M1843 1444l15 15 7-9-14-14z"/>
<path class="c266" d="M1858 1459l14 14 8-11-15-12z"/>
<path class="c262" d="M1872 1473l15 13 8-14-15-10z"/>
<path class="c258" d="M1887 1486l14 12 15 11 15 10 8-21-15-8-15-9-14-9z"/>
<path class="c254" d="M1931 1519l14 10 15 9 14 9 15 9 8-22-15-9-14-9-15-9-14-9z"/>
<path class="c250" d="M1989 1556l15 9 8-23-15-8z"/>
<path class="c207" d="M2004 1565l14 165 8 4-14-192z"/>
<path class="c450" d="M1250 839l15-19 8-26-15 15z"/>
<path class="c462" d="M1265 820l14-15 8-23-14 12z"/>
<path class="c474" d="M1279 805l15-11 8-21-15 9z"/>
<path class="c482" d="M1294 794l15-9 8-18-15 6z"/>
<path class="c486" d="M1309 785l14-5 8-16-14 3z"/>
<path class="c494" d="M1323 780l15-3 8-15-15 2z"/>
<path class="c497" d="M1338 777l15-2 7-13-14 0z"/>
<path class="c501" d="M1353 775l14 1 15 2 8-12-15-2-15-2z"/>
<path class="c505" d="M1382 778l14 3 15 3 8-10-15-4-14-4z"/>
<path class="c509" d="M1411 784l15 5 8-10-15-5z"/>
<path class="c510" d="M1426 789l14 8 8-10-14-8z"/>
<path class="c506" d="M1440 797l15 9 14 10 15 10 8-10-15-10-14-10-15-9z"/>
<path class="c502" d="M1484 826l15 12 14 12 8-11-14-12-15-11z"/>
<path class="c498" d="M1513 850l15 14 8-11-15-14z"/>
<path class="c494" d="M1528 864l15 16 7-12-14-15z"/>
<path class="c490" d="M1543 880l14 17 8-12-15-17z"/>
<path class="c482" d="M1557 897l15 20 8-13-15-19z"/>
<path class="c474" d="M1572 917l14 23 8-14-14-22z"/>
<path class="c466" d="M1586 940l15 25 8-15-15-24z"/>
<path class="c459" d="M1601 965l15 29 8-16-15-28z"/>
<path class="c447" d="M1616 994l14 32 8-18-14-30z"/>
<path class="c431" d="M1630 1026l15 35 8-19-15-34z"/>
<path class="c419" d="M1645 1061l15 37 7-21-14-35z"/>
<path class="c403" d="M1660 1098l14 39 8-22-15-38z"/>
<path class="c387" d="M1674 1137l15 40 8-24-15-38z"/>
<path class="c371" d="M1689 1177l14 40 8-25-14-39z"/>
<path class="c355" d="M1703 1217l15 39 8-26-15-38z"/>
<path class="c339" d="M1718 1256l15 36 8-25-15-37z"/>
<path class="c323" d="M1733 1292l14 34 8-25-14-34z"/>
<path class="c311" d="M1747 1326l15 32 8-26-15-31z"/>
<path class="c299" d="M1762 1358l14 28 8-26-14-28z"/>
<path class="c287" d="M1776 1386l15 25 8-26-15-25z"/>
<path class="c279" d="M1791 1411l15 22 8-26-15-22z"/>
<path class="c271" d="M1806 1433l14 19 8-25-14-20z"/>
<path class="c267" d="M1820 1452l15 18 8-26-15-17z"/>
<path class="c263" d="M1835 1470l15 15 8-26-15-15z"/>
<path class="c259" d="M1850 1485l14 14 8-26-14-14z"/>
<path class="c255" d="M1864 1499l15 13 8-26-15-13z"/>
<path class="c251" d="M1879 1512l14 12 15 11 8-26-15-11-14-12z"/>
<path class="c247" d="M1908 1535l15 10 14 10 8-26-14-10-15-10z"/>
<path class="c243" d="M1937 1555l15 10 15 9 14 9 8-27-15-9-14-9-15-9z"/>
<path class="c239" d="M1981 1583l15 9 8-27-15-9z"/>
<path class="c203" d="M1996 1592l14 135 8 3-14-165z"/>
<path class="c459" d="M1271 850l15-16 8-40-15 11z"/>
<path class="c467" d="M1286 834l15-12 8-37-15 9z"/>
<path class="c475" d="M1301 822l14-8 8-34-14 5z"/>
<path class="c483" d="M1315 814l15-5 8-32-15 3z"/>
<path class="c487" d="M1330 809l15-4 8-30-15 2z"/>
<path class="c491" d="M1345 805l14-1 8-28-14-1z"/>
<path class="c494" d="M1359 804l15 1 8-27-15-2z"/>
<path class="c498" d="M1374 805l14 2 15 2 8-25-15-3-14-3z"/>
<path class="c502" d="M1403 809l15 4 8-24-15-5z"/>
<path class="c503" d="M1418 813l14 8 8-24-14-8z"/>
<path class="c499" d="M1432 821l15 9 15 10 14 10 8-24-15-10-14-10-15-9z"/>
<path class="c495" d="M1476 850l15 11 14 13 8-24-14-12-15-12z"/>
<path class="c491" d="M1505 874l15 14 8-24-15-14z"/>
<path class="c487" d="M1520 888l15 16 8-24-15-16z"/>
<path class="c483" d="M1535 904l14 18 8-25-14-17z"/>
<path class="c475" d="M1549 922l15 20 8-25-15-20z"/>
<path class="c467" d="M1564 942l14 23 8-25-14-23z"/>
<path class="c459" d="M1578 965l15 27 8-27-15-25z"/>
<path class="c447" d="M1593 992l15 29 8-27-15-29z"/>
<path class="c435" d="M1608 1021l14 33 8-28-14-32z"/>
<path class="c423" d="M1622 1054l15 35 8-28-15-35z"/>
<path class="c407" d="M1637 1089l15 38 8-29-15-37z"/>
<path class="c391" d="M1652 1127l14 40 8-30-14-39z"/>
<path class="c375" d="M1666 1167l15 40 8-30-15-40z"/>
<path class="c355" d="M1681 1207l14 41 8-31-14-40z"/>
<path class="c339" d="M1695 1248l15 38 8-30-15-39z"/>
<path class="c323" d="M1710 1286l15 37 8-31-15-36z"/>
<path class="c311" d="M1725 1323l14 34 8-31-14-34z"/>
<path class="c295" d="M1739 1357l15 31 8-30-15-32z"/>
<path class="c283" d="M1754 1388l15 28 7-30-14-28z"/>
<path class="c275" d="M1769 1416l14 25 8-30-15-25z"/>
<path class="c267" d="M1783 1441l15 22 8-30-15-22z"/>
<path class="c259" d="M1798 1463l14 19 8-30-14-19z"/>
<path class="c255" d="M1812 1482l15 18 8-30-15-18z"/>
<path class="c247" d="M1827 1500l15 15 8-30-15-15z"/>
<path class="c243" d="M1842 1515l14 14 15 13 8-30-15-13-14-14z"/>
<path class="c239" d="M1871 1542l15 11 7-29-14-12z"/>
<path class="c235" d="M1886 1553l14 11 15 10 8-29-15-10-15-11z"/>
<path class="c231" d="M1915 1574l14 10 15 10 15 9 8-29-15-9-15-10-14-10z"/>
<path class="c227" d="M1959 1603l14 9 15 8 8-28-15-9-14-9z"/>
<path class="c199" d="M1988 1620l14 106 8 1-14-135z"/>
<path class="c459" d="M1293 863l14-11 8-38-14 8z"/>
<path class="c467" d="M1307 852l15-8 8-35-15 5z"/>
<path class="c471" d="M1322 844l15-5 8-34-15 4z"/>
<path class="c475" d="M1337 839l14-3 8-32-14 1z"/>
<path class="c483" d="M1351 836l15-1 14 1 8-29-14-2-15-1z"/>
<path class="c487" d="M1380 836l15 2 8-29-15-2z"/>
<path class="c491" d="M1395 838l15 3 14 8 8-28-14-8-15-4z"/>
<path class="c487" d="M1424 849l15 8 15 10 14 10 8-27-14-10-15-10-15-9z"/>
<path class="c483" d="M1468 877l15 11 14 13 8-27-14-13-15-11z"/>
<path class="c479" d="M1497 901l15 14 8-27-15-14z"/>
<path class="c475" d="M1512 915l15 16 8-27-15-16z"/>
<path class="c467" d="M1527 931l14 18 8-27-14-18z"/>
<path class="c463" d="M1541 949l15 21 8-28-15-20z"/>
<path class="c455" d="M1556 970l15 24 7-29-14-23z"/>
<path class="c447" d="M1571 994l14 27 8-29-15-27z"/>
<path class="c435" d="M1585 1021l15 30 8-30-15-29z"/>
<path class="c423" d="M1600 1051l14 33 8-30-14-33z"/>
<path class="c407" d="M1614 1084l15 37 8-32-15-35z"/>
<path class="c391" d="M1629 1121l15 38 8-32-15-38z"/>
<path class="c375" d="M1644 1159l14 41 8-33-14-40z"/>
<path class="c359" d="M1658 1200l15 41 8-34-15-40z"/>
<path class="c343" d="M1673 1241l15 40 7-33-14-41z"/>
<path class="c323" d="M1688 1281l14 39 8-34-15-38z"/>
<path class="c307" d="M1702 1320l15 37 8-34-15-37z"/>
<path class="c295" d="M1717 1357l14 34 8-34-14-34z"/>
<path class="c283" d="M1731 1391l15 31 8-34-15-31z"/>
<path class="c271" d="M1746 1422l15 27 8-33-15-28z"/>
<path class="c259" d="M1761 1449l14 25 8-33-14-25z"/>
<path class="c251" d="M1775 1474l15 21 8-32-15-22z"/>
<path class="c243" d="M1790 1495l14 19 8-32-14-19z"/>
<path class="c239" d="M1804 1514l15 17 8-31-15-18z"/>
<path class="c235" d="M1819 1531l15 15 8-31-15-15z"/>
<path class="c231" d="M1834 1546l14 14 8-31-14-14z"/>
<path class="c227" d="M1848 1560l15 12 8-30-15-13z"/>
<path class="c223" d="M1863 1572l15 12 14 10 8-30-14-11-15-11z"/>
<path class="c219" d="M1892 1594l15 10 14 10 15 9 8-29-15-10-14-10-15-10z"/>
<path class="c215" d="M1936 1623l15 9 14 9 15 8 8-29-15-8-14-9-15-9z"/>
<path class="c191" d="M1980 1649l15 86 7-9-14-106z"/>
<path class="c462" d="M1329 869l14-4 8-29-14 3z"/>
<path class="c466" d="M1343 865l15-2 8-28-15 1z"/>
<path class="c470" d="M1358 863l15 0 7-27-14-1z"/>
<path class="c474" d="M1373 863l14 1 15 2 8-25-15-3-15-2z"/>
<path class="c479" d="M1402 866l14 9 8-26-14-8z"/>
<path class="c475" d="M1416 875l15 8 15 10 14 10 8-26-14-10-15-10-15-8z"/>
<path class="c471" d="M1460 903l15 11 15 13 7-26-14-13-15-11z"/>
<path class="c467" d="M1490 927l14 14 8-26-15-14z"/>
<path class="c463" d="M1504 941l15 17 8-27-15-16z"/>
<path class="c455" d="M1519 958l14 18 8-27-14-18z"/>
<path class="c451" d="M1533 976l15 22 8-28-15-21z"/>
<path class="c443" d="M1548 998l15 24 8-28-15-24z"/>
<path class="c431" d="M1563 1022l14 27 8-28-14-27z"/>
<path class="c419" d="M1577 1049l15 31 8-29-15-30z"/>
<path class="c407" d="M1592 1080l14 34 8-30-14-33z"/>
<path class="c395" d="M1606 1114l15 37 8-30-15-37z"/>
<path class="c379" d="M1621 1151l15 40 8-32-15-38z"/>
<path class="c359" d="M1636 1191l14 41 8-32-14-41z"/>
<path class="c343" d="M1650 1232l15 41 8-32-15-41z"/>
<path class="c327" d="M1665 1273l15 41 8-33-15-40z"/>
<path class="c307" d="M1680 1314l14 39 8-33-14-39z"/>
<path class="c291" d="M1694 1353l15 37 8-33-15-37z"/>
<path class="c279" d="M1709 1390l14 33 8-32-14-34z"/>
<path class="c267" d="M1723 1423l15 31 8-32-15-31z"/>
<path class="c255" d="M1738 1454l15 27 8-32-15-27z"/>
<path class="c243" d="M1753 1481l14 24 8-31-14-25z"/>
<path class="c235" d="M1767 1505l15 21 8-31-15-21z"/>
<path class="c231" d="M1782 1526l15 19 7-31-14-19z"/>
<path class="c223" d="M1797 1545l14 16 8-30-15-17z"/>
<path class="c219" d="M1811 1561l15 15 8-30-15-15z"/>
<path class="c215" d="M1826 1576l14 13 8-29-14-14z"/>
<path class="c207" d="M1870 1612l14 10 15 10 14 9 8-27-14-10-15-10-14-10z"/>
<path class="c203" d="M1913 1641l15 9 15 9 14 8 15 8 8-26-15-8-14-9-15-9-15-9z"/>
<path class="c183" d="M1972 1675l15 70 8-10-15-86z"/>
<path class="c462" d="M1365 882l14 2 8-20-14-1z"/>
<path class="c466" d="M1379 884l15 3 14 8 15 9 8-21-15-8-14-9-15-2z"/>
<path class="c462" d="M1423 904l15 10 14 10 8-21-14-10-15-10z"/>
<path class="c458" d="M1452 924l15 12 8-22-15-11z"/>
<path class="c459" d="M1467 936l15 13 8-22-15-13z"/>
<path class="c455" d="M1482 949l14 15 8-23-14-14z"/>
<path class="c451" d="M1496 964l15 16 8-22-15-17z"/>
<path class="c443" d="M1511 980l14 19 8-23-14-18z"/>
<path class="c439" d="M1525 999l15 22 8-23-15-22z"/>
<path class="c431" d="M1540 1021l15 25 8-24-15-24z"/>
<path class="c419" d="M1555 1046l14 28 8-25-14-27z"/>
<path class="c407" d="M1569 1074l15 31 8-25-15-31z"/>
<path class="c395" d="M1584 1105l15 35 7-26-14-34z"/>
<path class="c379" d="M1599 1140l14 38 8-27-15-37z"/>
<path class="c363" d="M1613 1178l15 40 8-27-15-40z"/>
<path class="c347" d="M1628 1218l14 41 8-27-14-41z"/>
<path class="c327" d="M1642 1259l15 42 8-28-15-41z"/>
<path class="c311" d="M1657 1301l15 41 8-28-15-41z"/>
<path class="c295" d="M1672 1342l14 39 8-28-14-39z"/>
<path class="c279" d="M1686 1381l15 37 8-28-15-37z"/>
<path class="c263" d="M1701 1418l15 33 7-28-14-33z"/>
<path class="c251" d="M1716 1451l14 30 8-27-15-31z"/>
<path class="c239" d="M1730 1481l15 27 8-27-15-27z"/>
<path class="c231" d="M1745 1508l14 24 8-27-14-24z"/>
<path class="c223" d="M1759 1532l15 21 8-27-15-21z"/>
<path class="c190" d="M1906 1664l14 9 15 8 14 8 15 8 8-22-15-8-14-8-15-9-15-9z"/>
<path class="c175" d="M1964 1697l15 57 8-9-15-70z"/>
<path class="c456" d="M1415 902l15 10 14 12 8 0-14-10-15-10z"/>
<path class="c453" d="M1444 924l15 12 15 14 8-1-15-13-15-12z"/>
<path class="c449" d="M1474 950l14 16 8-2-14-15z"/>
<path class="c441" d="M1488 966l15 17 8-3-15-16z"/>
<path class="c438" d="M1503 983l15 20 7-4-14-19z"/>
<path class="c430" d="M1518 1003l14 22 8-4-15-22z"/>
<path class="c422" d="M1532 1025l15 26 8-5-15-25z"/>
<path class="c414" d="M1547 1051l14 29 8-6-14-28z"/>
<path class="c402" d="M1561 1080l15 32 8-7-15-31z"/>
<path class="c386" d="M1576 1112l15 35 8-7-15-35z"/>
<path class="c370" d="M1591 1147l14 38 8-7-14-38z"/>
<path class="c355" d="M1605 1185l15 41 8-8-15-40z"/>
<path class="c339" d="M1620 1226l14 42 8-9-14-41z"/>
<path class="c319" d="M1634 1268l15 42 8-9-15-42z"/>
<path class="c303" d="M1649 1310l15 41 8-9-15-41z"/>
<path class="c287" d="M1664 1351l14 39 8-9-14-39z"/>
<path class="c271" d="M1678 1390l15 37 8-9-15-37z"/>
<path class="c254" d="M1693 1427l15 33 8-9-15-33z"/>
<path class="c242" d="M1708 1460l14 30 8-9-14-30z"/>
<path class="c171" d="M1956 1692l15 85 8-23-15-57z"/>
<path class="c452" d="M1451 931l15 13 8 6-15-14z"/>
<path class="c448" d="M1466 944l14 16 8 6-14-16z"/>
<path class="c444" d="M1480 960l15 17 8 6-15-17z"/>
<path class="c440" d="M1495 977l15 19 8 7-15-20z"/>
<path class="c432" d="M1510 996l14 23 8 6-14-22z"/>
<path class="c425" d="M1524 1019l15 25 8 7-15-26z"/>
<path class="c413" d="M1539 1044l14 28 8 8-14-29z"/>
<path class="c401" d="M1553 1072l15 32 8 8-15-32z"/>
<path class="c389" d="M1568 1104l15 35 8 8-15-35z"/>
<path class="c373" d="M1583 1139l14 38 8 8-14-38z"/>
<path class="c357" d="M1597 1177l15 40 8 9-15-41z"/>
<path class="c337" d="M1612 1217l15 41 7 10-14-42z"/>
<path class="c321" d="M1627 1258l14 42 8 10-15-42z"/>
<path class="c301" d="M1641 1300l15 41 8 10-15-41z"/>
<path class="c285" d="M1656 1341l14 39 8 10-14-39z"/>
<path class="c269" d="M1670 1380l15 37 8 10-15-37z"/>
<path class="c253" d="M1685 1417l15 33 8 10-15-33z"/>
<path class="c167" d="M1948 1680l15 109 8-12-15-85z"/>
<path class="c452" d="M1458 937l14 15 8 8-14-16z"/>
<path class="c448" d="M1472 952l15 17 8 8-15-17z"/>
<path class="c444" d="M1487 969l15 20 8 7-15-19z"/>
<path class="c436" d="M1502 989l14 22 8 8-14-23z"/>
<path class="c428" d="M1516 1011l15 25 8 8-15-25z"/>
<path class="c417" d="M1531 1036l14 28 8 8-14-28z"/>
<path class="c405" d="M1545 1064l15 31 8 9-15-32z"/>
<path class="c393" d="M1560 1095l15 34 8 10-15-35z"/>
<path class="c377" d="M1575 1129l14 38 8 10-14-38z"/>
<path class="c361" d="M1589 1167l15 39 8 11-15-40z"/>
<path class="c345" d="M1604 1206l15 41 8 11-15-41z"/>
<path class="c325" d="M1619 1247l14 42 8 11-14-42z"/>
<path class="c309" d="M1633 1289l15 40 8 12-15-41z"/>
<path class="c293" d="M1648 1329l14 39 8 12-14-39z"/>
<path class="c277" d="M1662 1368l15 37 8 12-15-37z"/>
<path class="c260" d="M1677 1405l15 33 8 12-15-33z"/>
<path class="c171" d="M1940 1666l15 125 8-2-15-109z"/>
<path class="c452" d="M1464 944l15 17 8 8-15-17z"/>
<path class="c448" d="M1479 961l15 19 8 9-15-20z"/>
<path class="c440" d="M1494 980l14 22 8 9-14-22z"/>
<path class="c432" d="M1508 1002l15 24 8 10-15-25z"/>
<path class="c424" d="M1523 1026l15 28 7 10-14-28z"/>
<path class="c413" d="M1538 1054l14 31 8 10-15-31z"/>
<path class="c401" d="M1552 1085l15 34 8 10-15-34z"/>
<path class="c385" d="M1567 1119l14 36 8 12-14-38z"/>
<path class="c369" d="M1581 1155l15 40 8 11-15-39z"/>
<path class="c353" d="M1596 1195l15 40 8 12-15-41z"/>
<path class="c333" d="M1611 1235l14 41 8 13-14-42z"/>
<path class="c317" d="M1625 1276l15 40 8 13-15-40z"/>
<path class="c301" d="M1640 1316l15 39 7 13-14-39z"/>
<path class="c284" d="M1655 1355l14 36 8 14-15-37z"/>
<path class="c268" d="M1669 1391l15 33 8 14-15-33z"/>
<path class="c175" d="M1932 1650l15 140 8 1-15-125z"/>
<path class="c452" d="M1471 952l15 19 8 9-15-19z"/>
<path class="c448" d="M1486 971l14 21 8 10-14-22z"/>
<path class="c440" d="M1500 992l15 24 8 10-15-24z"/>
<path class="c428" d="M1515 1016l15 27 8 11-15-28z"/>
<path class="c416" d="M1530 1043l14 30 8 12-14-31z"/>
<path class="c405" d="M1544 1073l15 34 8 12-15-34z"/>
<path class="c393" d="M1559 1107l14 36 8 12-14-36z"/>
<path class="c377" d="M1573 1143l15 39 8 13-15-40z"/>
<path class="c357" d="M1588 1182l15 40 8 13-15-40z"/>
<path class="c341" d="M1603 1222l14 40 8 14-14-41z"/>
<path class="c325" d="M1617 1262l15 40 8 14-15-40z"/>
<path class="c308" d="M1632 1302l15 38 8 15-15-39z"/>
<path class="c292" d="M1647 1340l14 36 8 15-14-36z"/>
<path class="c276" d="M1661 1376l15 33 8 15-15-33z"/>
<path class="c264" d="M1676 1409l14 29 8 16-14-30z"/>
<path class="c183" d="M1924 1633l15 153 8 4-15-140z"/>
<path class="c460" d="M1463 943l15 18 8 10-15-19z"/>
<path class="c452" d="M1478 961l14 21 8 10-14-21z"/>
<path class="c444" d="M1492 982l15 23 8 11-15-24z"/>
<path class="c436" d="M1507 1005l15 27 8 11-15-27z"/>
<path class="c424" d="M1522 1032l14 30 8 11-14-30z"/>
<path class="c412" d="M1536 1062l15 33 8 12-15-34z"/>
<path class="c397" d="M1551 1095l15 35 7 13-14-36z"/>
<path class="c385" d="M1566 1130l14 38 8 14-15-39z"/>
<path class="c365" d="M1580 1168l15 40 8 14-15-40z"/>
<path class="c349" d="M1595 1208l14 40 8 14-14-40z"/>
<path class="c333" d="M1609 1248l15 39 8 15-15-40z"/>
<path class="c316" d="M1624 1287l15 38 8 15-15-38z"/>
<path class="c300" d="M1639 1325l14 36 8 15-14-36z"/>
<path class="c288" d="M1653 1361l15 33 8 15-15-33z"/>
<path class="c272" d="M1668 1394l15 29 7 15-14-29z"/>
<path class="c187" d="M1916 1617l15 166 8 3-15-153z"/>
<path class="c464" d="M1455 933l15 18 8 10-15-18z"/>
<path class="c460" d="M1470 951l15 21 7 10-14-21z"/>
<path class="c452" d="M1485 972l14 23 8 10-15-23z"/>
<path class="c444" d="M1499 995l15 26 8 11-15-27z"/>
<path class="c432" d="M1514 1021l14 29 8 12-14-30z"/>
<path class="c420" d="M1528 1050l15 33 8 12-15-33z"/>
<path class="c405" d="M1543 1083l15 35 8 12-15-35z"/>
<path class="c393" d="M1558 1118l14 37 8 13-14-38z"/>
<path class="c373" d="M1572 1155l15 39 8 14-15-40z"/>
<path class="c357" d="M1587 1194l14 40 8 14-14-40z"/>
<path class="c341" d="M1601 1234l15 39 8 14-15-39z"/>
<path class="c324" d="M1616 1273l15 37 8 15-15-38z"/>
<path class="c308" d="M1631 1310l14 36 8 15-14-36z"/>
<path class="c296" d="M1645 1346l15 32 8 16-15-33z"/>
<path class="c195" d="M1908 1601l15 179 8 3-15-166z"/>
<path class="c472" d="M1447 924l15 18 8 9-15-18z"/>
<path class="c464" d="M1462 942l15 20 8 10-15-21z"/>
<path class="c456" d="M1477 962l14 23 8 10-14-23z"/>
<path class="c448" d="M1491 985l15 26 8 10-15-26z"/>
<path class="c440" d="M1506 1011l14 28 8 11-14-29z"/>
<path class="c428" d="M1520 1039l15 32 8 12-15-33z"/>
<path class="c413" d="M1535 1071l15 35 8 12-15-35z"/>
<path class="c397" d="M1550 1106l14 36 8 13-14-37z"/>
<path class="c381" d="M1564 1142l15 39 8 13-15-39z"/>
<path class="c365" d="M1579 1181l15 39 7 14-14-40z"/>
<path class="c349" d="M1594 1220l14 39 8 14-15-39z"/>
<path class="c332" d="M1608 1259l15 37 8 14-15-37z"/>
<path class="c316" d="M1623 1296l14 36 8 14-14-36z"/>
<path class="c304" d="M1637 1332l15 32 8 14-15-32z"/>
<path class="c292" d="M1652 1364l15 29 8 15-15-30z"/>
<path class="c280" d="M1667 1393l14 27 8 14-14-26z"/>
<path class="c199" d="M1901 1587l14 189 8 4-15-179z"/>
<path class="c484" d="M1425 901l14 15 8 8-14-15z"/>
<path class="c476" d="M1439 916l15 18 8 8-15-18z"/>
<path class="c472" d="M1454 934l15 20 8 8-15-20z"/>
<path class="c464" d="M1469 954l14 22 8 9-14-23z"/>
<path class="c456" d="M1483 976l15 25 8 10-15-26z"/>
<path class="c444" d="M1498 1001l15 28 7 10-14-28z"/>
<path class="c433" d="M1513 1029l14 32 8 10-15-32z"/>
<path class="c421" d="M1527 1061l15 34 8 11-15-35z"/>
<path class="c405" d="M1542 1095l14 36 8 11-14-36z"/>
<path class="c389" d="M1556 1131l15 38 8 12-15-39z"/>
<path class="c373" d="M1571 1169l15 39 8 12-15-39z"/>
<path class="c357" d="M1586 1208l14 38 8 13-14-39z"/>
<path class="c341" d="M1600 1246l15 38 8 12-15-37z"/>
<path class="c324" d="M1615 1284l14 35 8 13-14-36z"/>
<path class="c312" d="M1629 1319l15 32 8 13-15-32z"/>
<path class="c300" d="M1644 1351l15 29 8 13-15-29z"/>
<path class="c288" d="M1659 1380l14 27 8 13-14-27z"/>
<path class="c207" d="M1893 1575l14 198 8 3-14-189z"/>
<path class="c492" d="M1402 880l15 14 8 7-15-14z"/>
<path class="c488" d="M1417 894l14 15 8 7-14-15z"/>
<path class="c484" d="M1431 909l15 17 8 8-15-18z"/>
<path class="c476" d="M1446 926l15 20 8 8-15-20z"/>
<path class="c468" d="M1461 946l14 22 8 8-14-22z"/>
<path class="c460" d="M1475 968l15 25 8 8-15-25z"/>
<path class="c453" d="M1490 993l15 28 8 8-15-28z"/>
<path class="c441" d="M1505 1021l14 30 8 10-14-32z"/>
<path class="c425" d="M1519 1051l15 34 8 10-15-34z"/>
<path class="c413" d="M1534 1085l14 36 8 10-14-36z"/>
<path class="c397" d="M1548 1121l15 38 8 10-15-38z"/>
<path class="c381" d="M1563 1159l15 38 8 11-15-39z"/>
<path class="c365" d="M1578 1197l14 38 8 11-14-38z"/>
<path class="c349" d="M1592 1235l15 38 8 11-15-38z"/>
<path class="c333" d="M1607 1273l15 35 7 11-14-35z"/>
<path class="c321" d="M1622 1308l14 32 8 11-15-32z"/>
<path class="c308" d="M1636 1340l15 29 8 11-15-29z"/>
<path class="c296" d="M1651 1369l14 27 8 11-14-27z"/>
<path class="c288" d="M1665 1396l15 23 8 11-15-23z"/>
<path class="c256" d="M1782 1517l15 9 15 7 14 9 15 10 14 8 15 9 15 9 8-3-15-6-15-6-14-6-15-7-14-7-15-7-15-9z"/>
<path class="c211" d="M1885 1578l14 191 8 4-14-198z"/>
<path class="c500" d="M1233 798l15 1 15 3 8 5-15-2-15-1z"/>
<path class="c508" d="M1292 810l15 4 14 9 8 5-14-9-15-4z"/>
<path class="c504" d="M1321 823l15 9 14 10 15 10 8 5-15-10-14-10-15-9z"/>
<path class="c500" d="M1365 852l15 11 14 12 8 5-14-12-15-11z"/>
<path class="c496" d="M1394 875l15 13 8 6-15-14z"/>
<path class="c492" d="M1409 888l15 15 7 6-14-15z"/>
<path class="c488" d="M1424 903l14 17 8 6-15-17z"/>
<path class="c480" d="M1438 920l15 20 8 6-15-20z"/>
<path class="c472" d="M1453 940l14 21 8 7-14-22z"/>
<path class="c465" d="M1467 961l15 25 8 7-15-25z"/>
<path class="c457" d="M1482 986l15 27 8 8-15-28z"/>
<path class="c445" d="M1497 1013l14 31 8 7-14-30z"/>
<path class="c433" d="M1511 1044l15 33 8 8-15-34z"/>
<path class="c417" d="M1526 1077l14 36 8 8-14-36z"/>
<path class="c401" d="M1540 1113l15 37 8 9-15-38z"/>
<path class="c385" d="M1555 1150l15 38 8 9-15-38z"/>
<path class="c369" d="M1570 1188l14 40 8 7-14-38z"/>
<path class="c353" d="M1584 1228l15 38 8 7-15-38z"/>
<path class="c341" d="M1599 1266l15 36 8 6-15-35z"/>
<path class="c326" d="M1614 1302l14 34 8 4-14-32z"/>
<path class="c314" d="M1628 1336l15 31 8 2-15-29z"/>
<path class="c302" d="M1643 1367l14 28 8 1-14-27z"/>
<path class="c294" d="M1657 1395l15 25 8-1-15-23z"/>
<path class="c286" d="M1672 1420l15 22 8-3-15-20z"/>
<path class="c278" d="M1687 1442l14 20 8-5-14-18z"/>
<path class="c274" d="M1701 1462l15 17 8-7-15-15z"/>
<path class="c270" d="M1716 1479l15 16 7-10-14-13z"/>
<path class="c266" d="M1731 1495l14 14 8-12-15-12z"/>
<path class="c262" d="M1745 1509l15 13 8-14-15-11z"/>
<path class="c258" d="M1760 1522l14 11 15 11 15 10 8-21-15-7-15-9-14-9z"/>
<path class="c254" d="M1804 1554l14 10 15 10 15 9 14 9 8-23-15-9-14-8-15-10-14-9z"/>
<path class="c250" d="M1862 1592l15 8 8-22-15-9z"/>
<path class="c207" d="M1877 1600l14 166 8 3-14-191z"/>
<path class="c450" d="M1123 875l15-19 8-27-15 15z"/>
<path class="c462" d="M1138 856l14-15 8-23-14 11z"/>
<path class="c474" d="M1152 841l15-12 8-20-15 9z"/>
<path class="c482" d="M1167 829l15-8 8-18-15 6z"/>
<path class="c486" d="M1182 821l14-6 8-16-14 4z"/>
<path class="c494" d="M1196 815l15-3 8-14-15 1z"/>
<path class="c497" d="M1211 812l15-1 7-13-14 0z"/>
<path class="c501" d="M1226 811l14 0 15 2 8-11-15-3-15-1z"/>
<path class="c505" d="M1255 813l14 3 15 4 8-10-15-5-14-3z"/>
<path class="c509" d="M1284 820l15 4 8-10-15-4z"/>
<path class="c510" d="M1299 824l14 9 8-10-14-9z"/>
<path class="c506" d="M1313 833l15 9 15 10 14 10 8-10-15-10-14-10-15-9z"/>
<path class="c502" d="M1357 862l15 11 14 13 8-11-14-12-15-11z"/>
<path class="c498" d="M1386 886l15 14 8-12-15-13z"/>
<path class="c494" d="M1401 900l15 15 8-12-15-15z"/>
<path class="c490" d="M1416 915l14 18 8-13-14-17z"/>
<path class="c482" d="M1430 933l15 20 8-13-15-20z"/>
<path class="c474" d="M1445 953l14 22 8-14-14-21z"/>
<path class="c466" d="M1459 975l15 26 8-15-15-25z"/>
<path class="c459" d="M1474 1001l15 29 8-17-15-27z"/>
<path class="c447" d="M1489 1030l14 31 8-17-14-31z"/>
<path class="c431" d="M1503 1061l15 35 8-19-15-33z"/>
<path class="c419" d="M1518 1096l15 38 7-21-14-36z"/>
<path class="c403" d="M1533 1134l14 39 8-23-15-37z"/>
<path class="c387" d="M1547 1173l15 40 8-25-15-38z"/>
<path class="c371" d="M1562 1213l14 39 8-24-14-40z"/>
<path class="c355" d="M1576 1252l15 39 8-25-15-38z"/>
<path class="c339" d="M1591 1291l15 37 8-26-15-36z"/>
<path class="c323" d="M1606 1328l14 34 8-26-14-34z"/>
<path class="c311" d="M1620 1362l15 31 8-26-15-31z"/>
<path class="c299" d="M1635 1393l15 28 7-26-14-28z"/>
<path class="c287" d="M1650 1421l14 25 8-26-15-25z"/>
<path class="c279" d="M1664 1446l15 22 8-26-15-22z"/>
<path class="c271" d="M1679 1468l14 20 8-26-14-20z"/>
<path class="c267" d="M1693 1488l15 17 8-26-15-17z"/>
<path class="c263" d="M1708 1505l15 16 8-26-15-16z"/>
<path class="c259" d="M1723 1521l14 14 8-26-14-14z"/>
<path class="c255" d="M1737 1535l15 13 8-26-15-13z"/>
<path class="c251" d="M1752 1548l14 11 15 11 8-26-15-11-14-11z"/>
<path class="c247" d="M1781 1570l15 11 14 10 8-27-14-10-15-10z"/>
<path class="c243" d="M1810 1591l15 9 15 9 14 9 8-26-14-9-15-9-15-10z"/>
<path class="c239" d="M1854 1618l15 9 8-27-15-8z"/>
<path class="c203" d="M1869 1627l14 136 8 3-14-166z"/>
<path class="c459" d="M1145 885l14-15 8-41-15 12z"/>
<path class="c467" d="M1159 870l15-12 8-37-15 8z"/>
<path class="c475" d="M1174 858l14-8 8-35-14 6z"/>
<path class="c483" d="M1188 850l15-6 8-32-15 3z"/>
<path class="c487" d="M1203 844l15-3 8-30-15 1z"/>
<path class="c491" d="M1218 841l14-1 8-29-14 0z"/>
<path class="c494" d="M1232 840l15 0 8-27-15-2z"/>
<path class="c498" d="M1247 840l14 2 15 3 8-25-15-4-14-3z"/>
<path class="c502" d="M1276 845l15 4 8-25-15-4z"/>
<path class="c503" d="M1291 849l14 8 8-24-14-9z"/>
<path class="c499" d="M1305 857l15 9 15 9 14 11 8-24-14-10-15-10-15-9z"/>
<path class="c495" d="M1349 886l15 11 14 13 8-24-14-13-15-11z"/>
<path class="c491" d="M1378 910l15 14 8-24-15-14z"/>
<path class="c487" d="M1393 924l15 15 8-24-15-15z"/>
<path class="c483" d="M1408 939l14 18 8-24-14-18z"/>
<path class="c475" d="M1422 957l15 21 8-25-15-20z"/>
<path class="c467" d="M1437 978l15 23 7-26-14-22z"/>
<path class="c459" d="M1452 1001l14 26 8-26-15-26z"/>
<path class="c447" d="M1466 1027l15 29 8-26-15-29z"/>
<path class="c435" d="M1481 1056l14 33 8-28-14-31z"/>
<path class="c423" d="M1495 1089l15 36 8-29-15-35z"/>
<path class="c407" d="M1510 1125l15 38 8-29-15-38z"/>
<path class="c391" d="M1525 1163l14 39 8-29-14-39z"/>
<path class="c375" d="M1539 1202l15 41 8-30-15-40z"/>
<path class="c355" d="M1554 1243l14 40 8-31-14-39z"/>
<path class="c339" d="M1568 1283l15 39 8-31-15-39z"/>
<path class="c323" d="M1583 1322l15 37 8-31-15-37z"/>
<path class="c311" d="M1598 1359l14 34 8-31-14-34z"/>
<path class="c295" d="M1612 1393l15 31 8-31-15-31z"/>
<path class="c283" d="M1627 1424l15 28 8-31-15-28z"/>
<path class="c275" d="M1642 1452l14 25 8-31-14-25z"/>
<path class="c267" d="M1656 1477l15 22 8-31-15-22z"/>
<path class="c259" d="M1671 1499l14 19 8-30-14-20z"/>
<path class="c255" d="M1685 1518l15 17 8-30-15-17z"/>
<path class="c247" d="M1700 1535l15 16 8-30-15-16z"/>
<path class="c243" d="M1715 1551l14 13 15 13 8-29-15-13-14-14z"/>
<path class="c239" d="M1744 1577l15 12 7-30-14-11z"/>
<path class="c235" d="M1759 1589l14 11 15 10 8-29-15-11-15-11z"/>
<path class="c231" d="M1788 1610l14 10 15 9 15 9 8-29-15-9-15-9-14-10z"/>
<path class="c227" d="M1832 1638l14 9 15 9 8-29-15-9-14-9z"/>
<path class="c199" d="M1861 1656l15 106 7 1-14-136z"/>
<path class="c459" d="M1166 899l14-12 8-37-14 8z"/>
<path class="c467" d="M1180 887l15-8 8-35-15 6z"/>
<path class="c471" d="M1195 879l15-5 8-33-15 3z"/>
<path class="c475" d="M1210 874l14-3 8-31-14 1z"/>
<path class="c483" d="M1224 871l15 0 15 0 7-29-14-2-15 0z"/>
<path class="c487" d="M1254 871l14 2 8-28-15-3z"/>
<path class="c491" d="M1268 873l15 3 14 8 8-27-14-8-15-4z"/>
<path class="c487" d="M1297 884l15 9 15 9 14 10 8-26-14-11-15-9-15-9z"/>
<path class="c483" d="M1341 912l15 12 14 12 8-26-14-13-15-11z"/>
<path class="c479" d="M1370 936l15 15 8-27-15-14z"/>
<path class="c475" d="M1385 951l15 16 8-28-15-15z"/>
<path class="c467" d="M1400 967l14 18 8-28-14-18z"/>
<path class="c463" d="M1414 985l15 21 8-28-15-21z"/>
<path class="c455" d="M1429 1006l15 23 8-28-15-23z"/>
<path class="c447" d="M1444 1029l14 27 8-29-14-26z"/>
<path class="c435" d="M1458 1056l15 30 8-30-15-29z"/>
<path class="c423" d="M1473 1086l14 34 8-31-14-33z"/>
<path class="c407" d="M1487 1120l15 36 8-31-15-36z"/>
<path class="c391" d="M1502 1156l15 39 8-32-15-38z"/>
<path class="c375" d="M1517 1195l14 40 8-33-14-39z"/>
<path class="c359" d="M1531 1235l15 41 8-33-15-41z"/>
<path class="c343" d="M1546 1276l15 41 7-34-14-40z"/>
<path class="c323" d="M1561 1317l14 39 8-34-15-39z"/>
<path class="c307" d="M1575 1356l15 37 8-34-15-37z"/>
<path class="c295" d="M1590 1393l14 33 8-33-14-34z"/>
<path class="c283" d="M1604 1426l15 31 8-33-15-31z"/>
<path class="c271" d="M1619 1457l15 28 8-33-15-28z"/>
<path class="c259" d="M1634 1485l14 24 8-32-14-25z"/>
<path class="c251" d="M1648 1509l15 22 8-32-15-22z"/>
<path class="c243" d="M1663 1531l15 19 7-32-14-19z"/>
<path class="c239" d="M1678 1550l14 17 8-32-15-17z"/>
<path class="c235" d="M1692 1567l15 15 8-31-15-16z"/>
<path class="c231" d="M1707 1582l14 13 8-31-14-13z"/>
<path class="c227" d="M1721 1595l15 13 8-31-15-13z"/>
<path class="c223" d="M1736 1608l15 11 14 11 8-30-14-11-15-12z"/>
<path class="c219" d="M1765 1630l15 10 14 9 15 9 8-29-15-9-14-10-15-10z"/>
<path class="c215" d="M1809 1658l15 9 14 9 15 9 8-29-15-9-14-9-15-9z"/>
<path class="c191" d="M1853 1685l15 86 8-9-15-106z"/>
<path class="c462" d="M1202 905l14-4 8-30-14 3z"/>
<path class="c466" d="M1216 901l15-2 8-28-15 0z"/>
<path class="c470" d="M1231 899l15 0 8-28-15 0z"/>
<path class="c474" d="M1246 899l14 1 15 2 8-26-15-3-14-2z"/>
<path class="c479" d="M1275 902l14 8 8-26-14-8z"/>
<path class="c475" d="M1289 910l15 9 15 9 14 10 8-26-14-10-15-9-15-9z"/>
<path class="c471" d="M1333 938l15 12 15 13 7-27-14-12-15-12z"/>
<path class="c467" d="M1363 963l14 14 8-26-15-15z"/>
<path class="c463" d="M1377 977l15 16 8-26-15-16z"/>
<path class="c455" d="M1392 993l14 19 8-27-14-18z"/>
<path class="c451" d="M1406 1012l15 21 8-27-15-21z"/>
<path class="c443" d="M1421 1033l15 24 8-28-15-23z"/>
<path class="c431" d="M1436 1057l14 28 8-29-14-27z"/>
<path class="c419" d="M1450 1085l15 31 8-30-15-30z"/>
<path class="c407" d="M1465 1116l15 34 7-30-14-34z"/>
<path class="c395" d="M1480 1150l14 37 8-31-15-36z"/>
<path class="c379" d="M1494 1187l15 39 8-31-15-39z"/>
<path class="c359" d="M1509 1226l14 41 8-32-14-40z"/>
<path class="c343" d="M1523 1267l15 42 8-33-15-41z"/>
<path class="c327" d="M1538 1309l15 40 8-32-15-41z"/>
<path class="c307" d="M1553 1349l14 39 8-32-14-39z"/>
<path class="c291" d="M1567 1388l15 37 8-32-15-37z"/>
<path class="c279" d="M1582 1425l14 34 8-33-14-33z"/>
<path class="c267" d="M1596 1459l15 30 8-32-15-31z"/>
<path class="c255" d="M1611 1489l15 27 8-31-15-28z"/>
<path class="c243" d="M1626 1516l14 24 8-31-14-24z"/>
<path class="c235" d="M1640 1540l15 22 8-31-15-22z"/>
<path class="c231" d="M1655 1562l15 18 8-30-15-19z"/>
<path class="c223" d="M1670 1580l14 17 8-30-14-17z"/>
<path class="c219" d="M1684 1597l15 14 8-29-15-15z"/>
<path class="c215" d="M1699 1611l14 13 8-29-14-13z"/>
<path class="c207" d="M1743 1647l14 11 15 9 15 10 7-28-14-9-15-10-14-11z"/>
<path class="c203" d="M1787 1677l14 9 15 8 14 8 15 9 8-26-15-9-14-9-15-9-15-9z"/>
<path class="c183" d="M1845 1711l15 69 8-9-15-86z"/>
<path class="c462" d="M1238 917l14 3 8-20-14-1z"/>
<path class="c466" d="M1252 920l15 3 15 8 14 9 8-21-15-9-14-8-15-2z"/>
<path class="c462" d="M1296 940l15 9 14 11 8-22-14-10-15-9z"/>
<path class="c458" d="M1325 960l15 11 8-21-15-12z"/>
<path class="c459" d="M1340 971l15 13 8-21-15-13z"/>
<path class="c455" d="M1355 984l14 15 8-22-14-14z"/>
<path class="c451" d="M1369 999l15 17 8-23-15-16z"/>
<path class="c443" d="M1384 1016l14 19 8-23-14-19z"/>
<path class="c439" d="M1398 1035l15 22 8-24-15-21z"/>
<path class="c431" d="M1413 1057l15 24 8-24-15-24z"/>
<path class="c419" d="M1428 1081l14 28 8-24-14-28z"/>
<path class="c407" d="M1442 1109l15 32 8-25-15-31z"/>
<path class="c395" d="M1457 1141l15 35 8-26-15-34z"/>
<path class="c379" d="M1472 1176l14 37 8-26-14-37z"/>
<path class="c363" d="M1486 1213l15 40 8-27-15-39z"/>
<path class="c347" d="M1501 1253l14 42 8-28-14-41z"/>
<path class="c327" d="M1515 1295l15 41 8-27-15-42z"/>
<path class="c311" d="M1530 1336l15 41 8-28-15-40z"/>
<path class="c295" d="M1545 1377l14 40 8-29-14-39z"/>
<path class="c279" d="M1559 1417l15 36 8-28-15-37z"/>
<path class="c263" d="M1574 1453l15 34 7-28-14-34z"/>
<path class="c251" d="M1589 1487l14 30 8-28-15-30z"/>
<path class="c239" d="M1603 1517l15 27 8-28-15-27z"/>
<path class="c231" d="M1618 1544l14 23 8-27-14-24z"/>
<path class="c223" d="M1632 1567l15 21 8-26-15-22z"/>
<path class="c190" d="M1779 1700l14 8 15 9 14 8 15 7 8-21-15-9-14-8-15-8-14-9z"/>
<path class="c175" d="M1837 1732l15 58 8-10-15-69z"/>
<path class="c179" d="M674 1091l15 206 8 22-15-225z"/>
<path class="c456" d="M1288 937l15 11 14 11 8 1-14-11-15-9z"/>
<path class="c453" d="M1317 959l15 13 15 14 8-2-15-13-15-11z"/>
<path class="c449" d="M1347 986l14 15 8-2-14-15z"/>
<path class="c441" d="M1361 1001l15 18 8-3-15-17z"/>
<path class="c438" d="M1376 1019l15 19 7-3-14-19z"/>
<path class="c430" d="M1391 1038l14 23 8-4-15-22z"/>
<path class="c422" d="M1405 1061l15 25 8-5-15-24z"/>
<path class="c414" d="M1420 1086l14 29 8-6-14-28z"/>
<path class="c402" d="M1434 1115l15 32 8-6-15-32z"/>
<path class="c386" d="M1449 1147l15 36 8-7-15-35z"/>
<path class="c370" d="M1464 1183l14 38 8-8-14-37z"/>
<path class="c355" d="M1478 1221l15 40 8-8-15-40z"/>
<path class="c339" d="M1493 1261l15 42 7-8-14-42z"/>
<path class="c319" d="M1508 1303l14 42 8-9-15-41z"/>
<path class="c303" d="M1522 1345l15 41 8-9-15-41z"/>
<path class="c287" d="M1537 1386l14 40 8-9-14-40z"/>
<path class="c271" d="M1551 1426l15 36 8-9-15-36z"/>
<path class="c254" d="M1566 1462l15 34 8-9-15-34z"/>
<path class="c242" d="M1581 1496l14 30 8-9-14-30z"/>
<path class="c171" d="M1829 1728l15 85 8-23-15-58z"/>
<path class="c187" d="M666 1089l15 186 8 22-15-206z"/>
<path class="c456" d="M1310 954l14 12 8 6-15-13z"/>
<path class="c452" d="M1324 966l15 14 8 6-15-14z"/>
<path class="c448" d="M1339 980l14 15 8 6-14-15z"/>
<path class="c444" d="M1353 995l15 17 8 7-15-18z"/>
<path class="c440" d="M1368 1012l15 20 8 6-15-19z"/>
<path class="c432" d="M1383 1032l14 22 8 7-14-23z"/>
<path class="c425" d="M1397 1054l15 25 8 7-15-25z"/>
<path class="c413" d="M1412 1079l14 29 8 7-14-29z"/>
<path class="c401" d="M1426 1108l15 32 8 7-15-32z"/>
<path class="c389" d="M1441 1140l15 35 8 8-15-36z"/>
<path class="c373" d="M1456 1175l14 37 8 9-14-38z"/>
<path class="c357" d="M1470 1212l15 41 8 8-15-40z"/>
<path class="c337" d="M1485 1253l15 41 8 9-15-42z"/>
<path class="c321" d="M1500 1294l14 42 8 9-14-42z"/>
<path class="c301" d="M1514 1336l15 41 8 9-15-41z"/>
<path class="c285" d="M1529 1377l14 39 8 10-14-40z"/>
<path class="c269" d="M1543 1416l15 36 8 10-15-36z"/>
<path class="c253" d="M1558 1452l15 33 8 11-15-34z"/>
<path class="c167" d="M1821 1716l15 108 8-11-15-85z"/>
<path class="c195" d="M658 1087l15 165 8 23-15-186z"/>
<path class="c456" d="M1316 959l15 14 8 7-15-14z"/>
<path class="c452" d="M1331 973l14 15 8 7-14-15z"/>
<path class="c448" d="M1345 988l15 17 8 7-15-17z"/>
<path class="c444" d="M1360 1005l15 19 8 8-15-20z"/>
<path class="c436" d="M1375 1024l14 22 8 8-14-22z"/>
<path class="c428" d="M1389 1046l15 25 8 8-15-25z"/>
<path class="c417" d="M1404 1071l15 28 7 9-14-29z"/>
<path class="c405" d="M1419 1099l14 31 8 10-15-32z"/>
<path class="c393" d="M1433 1130l15 35 8 10-15-35z"/>
<path class="c377" d="M1448 1165l14 37 8 10-14-37z"/>
<path class="c361" d="M1462 1202l15 40 8 11-15-41z"/>
<path class="c345" d="M1477 1242l15 41 8 11-15-41z"/>
<path class="c325" d="M1492 1283l14 41 8 12-14-42z"/>
<path class="c309" d="M1506 1324l15 41 8 12-15-41z"/>
<path class="c293" d="M1521 1365l14 39 8 12-14-39z"/>
<path class="c277" d="M1535 1404l15 36 8 12-15-36z"/>
<path class="c260" d="M1550 1440l15 33 8 12-15-33z"/>
<path class="c171" d="M1813 1701l15 125 8-2-15-108z"/>
<path class="c203" d="M650 1084l15 145 8 23-15-165z"/>
<path class="c452" d="M1338 980l14 17 8 8-15-17z"/>
<path class="c448" d="M1352 997l15 19 8 8-15-19z"/>
<path class="c440" d="M1367 1016l14 21 8 9-14-22z"/>
<path class="c432" d="M1381 1037l15 25 8 9-15-25z"/>
<path class="c424" d="M1396 1062l15 27 8 10-15-28z"/>
<path class="c413" d="M1411 1089l14 31 8 10-14-31z"/>
<path class="c401" d="M1425 1120l15 34 8 11-15-35z"/>
<path class="c385" d="M1440 1154l14 37 8 11-14-37z"/>
<path class="c369" d="M1454 1191l15 39 8 12-15-40z"/>
<path class="c353" d="M1469 1230l15 41 8 12-15-41z"/>
<path class="c333" d="M1484 1271l14 40 8 13-14-41z"/>
<path class="c317" d="M1498 1311l15 41 8 13-15-41z"/>
<path class="c301" d="M1513 1352l15 38 7 14-14-39z"/>
<path class="c284" d="M1528 1390l14 36 8 14-15-36z"/>
<path class="c268" d="M1542 1426l15 33 8 14-15-33z"/>
<path class="c175" d="M1805 1685l15 140 8 1-15-125z"/>
<path class="c211" d="M642 1082l15 125 8 22-15-145z"/>
<path class="c460" d="M1330 971l14 17 8 9-14-17z"/>
<path class="c452" d="M1344 988l15 18 8 10-15-19z"/>
<path class="c448" d="M1359 1006l14 21 8 10-14-21z"/>
<path class="c440" d="M1373 1027l15 24 8 11-15-25z"/>
<path class="c428" d="M1388 1051l15 28 8 10-15-27z"/>
<path class="c416" d="M1403 1079l14 30 8 11-14-31z"/>
<path class="c405" d="M1417 1109l15 33 8 12-15-34z"/>
<path class="c393" d="M1432 1142l15 37 7 12-14-37z"/>
<path class="c377" d="M1447 1179l14 38 8 13-15-39z"/>
<path class="c357" d="M1461 1217l15 40 8 14-15-41z"/>
<path class="c341" d="M1476 1257l14 41 8 13-14-40z"/>
<path class="c325" d="M1490 1298l15 39 8 15-15-41z"/>
<path class="c308" d="M1505 1337l15 39 8 14-15-38z"/>
<path class="c292" d="M1520 1376l14 36 8 14-14-36z"/>
<path class="c276" d="M1534 1412l15 32 8 15-15-33z"/>
<path class="c264" d="M1549 1444l14 30 8 15-14-30z"/>
<path class="c183" d="M1797 1669l15 153 8 3-15-140z"/>
<path class="c219" d="M634 1080l15 105 8 22-15-125z"/>
<path class="c460" d="M1336 978l15 19 8 9-15-18z"/>
<path class="c452" d="M1351 997l14 20 8 10-14-21z"/>
<path class="c444" d="M1365 1017l15 24 8 10-15-24z"/>
<path class="c436" d="M1380 1041l15 27 8 11-15-28z"/>
<path class="c424" d="M1395 1068l14 29 8 12-14-30z"/>
<path class="c412" d="M1409 1097l15 33 8 12-15-33z"/>
<path class="c397" d="M1424 1130l15 36 8 13-15-37z"/>
<path class="c385" d="M1439 1166l14 38 8 13-14-38z"/>
<path class="c365" d="M1453 1204l15 39 8 14-15-40z"/>
<path class="c349" d="M1468 1243l14 40 8 15-14-41z"/>
<path class="c333" d="M1482 1283l15 40 8 14-15-39z"/>
<path class="c316" d="M1497 1323l15 38 8 15-15-39z"/>
<path class="c300" d="M1512 1361l14 35 8 16-14-36z"/>
<path class="c288" d="M1526 1396l15 33 8 15-15-32z"/>
<path class="c187" d="M1789 1652l15 166 8 4-15-153z"/>
<path class="c223" d="M627 1078l14 88 8 19-15-105z"/>
<path class="c464" d="M1328 969l15 18 8 10-15-19z"/>
<path class="c460" d="M1343 987l15 20 7 10-14-20z"/>
<path class="c452" d="M1358 1007l14 23 8 11-15-24z"/>
<path class="c444" d="M1372 1030l15 27 8 11-15-27z"/>
<path class="c432" d="M1387 1057l14 29 8 11-14-29z"/>
<path class="c420" d="M1401 1086l15 32 8 12-15-33z"/>
<path class="c405" d="M1416 1118l15 35 8 13-15-36z"/>
<path class="c393" d="M1431 1153l14 38 8 13-14-38z"/>
<path class="c373" d="M1445 1191l15 39 8 13-15-39z"/>
<path class="c357" d="M1460 1230l15 39 7 14-14-40z"/>
<path class="c341" d="M1475 1269l14 39 8 15-15-40z"/>
<path class="c324" d="M1489 1308l15 38 8 15-15-38z"/>
<path class="c308" d="M1504 1346l14 35 8 15-14-35z"/>
<path class="c296" d="M1518 1381l15 33 8 15-15-33z"/>
<path class="c284" d="M1533 1414l15 29 8 16-15-30z"/>
<path class="c195" d="M1782 1636l14 179 8 3-15-166z"/>
<path class="c231" d="M619 1077l14 71 8 18-14-88z"/>
<path class="c472" d="M1320 960l15 18 8 9-15-18z"/>
<path class="c464" d="M1335 978l15 20 8 9-15-20z"/>
<path class="c456" d="M1350 998l14 22 8 10-14-23z"/>
<path class="c448" d="M1364 1020l15 26 8 11-15-27z"/>
<path class="c440" d="M1379 1046l14 29 8 11-14-29z"/>
<path class="c428" d="M1393 1075l15 32 8 11-15-32z"/>
<path class="c413" d="M1408 1107l15 34 8 12-15-35z"/>
<path class="c397" d="M1423 1141l14 37 8 13-14-38z"/>
<path class="c381" d="M1437 1178l15 38 8 14-15-39z"/>
<path class="c365" d="M1452 1216l15 40 8 13-15-39z"/>
<path class="c349" d="M1467 1256l14 38 8 14-14-39z"/>
<path class="c332" d="M1481 1294l15 38 8 14-15-38z"/>
<path class="c316" d="M1496 1332l14 35 8 14-14-35z"/>
<path class="c304" d="M1510 1367l15 33 8 14-15-33z"/>
<path class="c292" d="M1525 1400l15 29 8 14-15-29z"/>
<path class="c199" d="M1774 1622l14 190 8 3-14-179z"/>
<path class="c234" d="M611 1076l14 57 8 15-14-71z"/>
<path class="c476" d="M1312 952l15 17 8 9-15-18z"/>
<path class="c472" d="M1327 969l15 20 8 9-15-20z"/>
<path class="c464" d="M1342 989l14 22 8 9-14-22z"/>
<path class="c456" d="M1356 1011l15 26 8 9-15-26z"/>
<path class="c444" d="M1371 1037l15 28 7 10-14-29z"/>
<path class="c433" d="M1386 1065l14 31 8 11-15-32z"/>
<path class="c421" d="M1400 1096l15 34 8 11-15-34z"/>
<path class="c405" d="M1415 1130l14 37 8 11-14-37z"/>
<path class="c389" d="M1429 1167l15 38 8 11-15-38z"/>
<path class="c373" d="M1444 1205l15 38 8 13-15-40z"/>
<path class="c357" d="M1459 1243l14 39 8 12-14-38z"/>
<path class="c341" d="M1473 1282l15 37 8 13-15-38z"/>
<path class="c324" d="M1488 1319l15 35 7 13-14-35z"/>
<path class="c312" d="M1503 1354l14 33 8 13-15-33z"/>
<path class="c300" d="M1517 1387l15 29 8 13-15-29z"/>
<path class="c288" d="M1532 1416l14 26 8 13-14-26z"/>
<path class="c207" d="M1766 1611l14 197 8 4-14-190z"/>
<path class="c235" d="M603 1086l14 79 8-32-14-57z"/>
<path class="c218" d="M617 1165l15-4 8-21-15-7z"/>
<path class="c222" d="M632 1161l15-4 8-10-15-7z"/>
<path class="c492" d="M1275 916l15 14 8 6-15-13z"/>
<path class="c488" d="M1290 930l15 15 7 7-14-16z"/>
<path class="c484" d="M1305 945l14 17 8 7-15-17z"/>
<path class="c476" d="M1319 962l15 19 8 8-15-20z"/>
<path class="c468" d="M1334 981l14 22 8 8-14-22z"/>
<path class="c460" d="M1348 1003l15 25 8 9-15-26z"/>
<path class="c453" d="M1363 1028l15 28 8 9-15-28z"/>
<path class="c441" d="M1378 1056l14 31 8 9-14-31z"/>
<path class="c425" d="M1392 1087l15 34 8 9-15-34z"/>
<path class="c413" d="M1407 1121l14 36 8 10-14-37z"/>
<path class="c397" d="M1421 1157l15 37 8 11-15-38z"/>
<path class="c381" d="M1436 1194l15 39 8 10-15-38z"/>
<path class="c365" d="M1451 1233l14 38 8 11-14-39z"/>
<path class="c349" d="M1465 1271l15 37 8 11-15-37z"/>
<path class="c333" d="M1480 1308l15 35 8 11-15-35z"/>
<path class="c321" d="M1495 1343l14 33 8 11-14-33z"/>
<path class="c308" d="M1509 1376l15 29 8 11-15-29z"/>
<path class="c296" d="M1524 1405l14 26 8 11-14-26z"/>
<path class="c288" d="M1538 1431l15 23 8 11-15-23z"/>
<path class="c256" d="M1655 1553l15 8 15 8 14 9 15 9 14 9 15 9 15 8 8-2-15-6-15-6-14-6-15-7-14-7-15-8-15-8z"/>
<path class="c211" d="M1758 1613l14 192 8 3-14-197zM595 1112l14 179 8-126-14-79z"/>
<path class="c183" d="M609 1291l15-9 8-121-15 4z"/>
<path class="c191" d="M624 1282l15-10 8-115-15 4z"/>
<path class="c504" d="M1136 837l14 4 15 4 8 5-15-4-14-3z"/>
<path class="c508" d="M1165 845l15 5 14 9 8 5-14-9-15-5z"/>
<path class="c504" d="M1194 859l15 9 14 9 15 10 8 6-15-11-14-9-15-9z"/>
<path class="c500" d="M1238 887l15 11 14 13 8 5-14-12-15-11z"/>
<path class="c496" d="M1267 911l15 13 8 6-15-14z"/>
<path class="c492" d="M1282 924l15 15 8 6-15-15z"/>
<path class="c488" d="M1297 939l14 17 8 6-14-17z"/>
<path class="c480" d="M1311 956l15 19 8 6-15-19z"/>
<path class="c472" d="M1326 975l14 22 8 6-14-22z"/>
<path class="c465" d="M1340 997l15 24 8 7-15-25z"/>
<path class="c457" d="M1355 1021l15 28 8 7-15-28z"/>
<path class="c445" d="M1370 1049l14 30 8 8-14-31z"/>
<path class="c433" d="M1384 1079l15 34 8 8-15-34z"/>
<path class="c417" d="M1399 1113l15 35 7 9-14-36z"/>
<path class="c401" d="M1414 1148l14 38 8 8-15-37z"/>
<path class="c385" d="M1428 1186l15 38 8 9-15-39z"/>
<path class="c369" d="M1443 1224l14 39 8 8-14-38z"/>
<path class="c353" d="M1457 1263l15 38 8 7-15-37z"/>
<path class="c341" d="M1472 1301l15 37 8 5-15-35z"/>
<path class="c326" d="M1487 1338l14 34 8 4-14-33z"/>
<path class="c314" d="M1501 1372l15 31 8 2-15-29z"/>
<path class="c302" d="M1516 1403l14 28 8 0-14-26z"/>
<path class="c294" d="M1530 1431l15 25 8-2-15-23z"/>
<path class="c286" d="M1545 1456l15 22 8-4-15-20z"/>
<path class="c278" d="M1560 1478l14 20 8-6-14-18z"/>
<path class="c274" d="M1574 1498l15 17 8-8-15-15z"/>
<path class="c270" d="M1589 1515l15 15 8-9-15-14z"/>
<path class="c266" d="M1604 1530l14 14 8-11-14-12z"/>
<path class="c262" d="M1618 1544l15 13 8-14-15-10z"/>
<path class="c258" d="M1633 1557l14 12 15 11 15 10 8-21-15-8-15-8-14-10z"/>
<path class="c254" d="M1677 1590l14 10 15 9 15 9 14 9 8-22-15-9-14-9-15-9-14-9z"/>
<path class="c250" d="M1735 1627l15 9 8-23-15-8z"/>
<path class="c207" d="M1750 1636l14 165 8 4-14-192z"/>
<path class="c175" d="M587 1135l15 273 7-117-14-179z"/>
<path class="c450" d="M996 911l15-20 8-26-15 15z"/>
<path class="c462" d="M1011 891l14-15 8-23-14 12z"/>
<path class="c474" d="M1025 876l15-11 8-21-15 9z"/>
<path class="c482" d="M1040 865l15-9 8-18-15 6z"/>
<path class="c486" d="M1055 856l14-5 8-16-14 3z"/>
<path class="c494" d="M1069 851l15-3 8-15-15 2z"/>
<path class="c497" d="M1084 848l15-2 8-13-15 0z"/>
<path class="c501" d="M1099 846l14 1 15 2 8-12-15-2-14-2z"/>
<path class="c505" d="M1128 849l14 3 15 4 8-11-15-4-14-4z"/>
<path class="c509" d="M1157 856l15 4 8-10-15-5z"/>
<path class="c510" d="M1172 860l14 8 8-9-14-9z"/>
<path class="c506" d="M1186 868l15 9 15 10 14 10 8-10-15-10-14-9-15-9z"/>
<path class="c502" d="M1230 897l15 12 14 12 8-10-14-13-15-11z"/>
<path class="c498" d="M1259 921l15 14 8-11-15-13z"/>
<path class="c494" d="M1274 935l15 16 8-12-15-15z"/>
<path class="c490" d="M1289 951l14 17 8-12-14-17z"/>
<path class="c482" d="M1303 968l15 20 8-13-15-19z"/>
<path class="c474" d="M1318 988l15 23 7-14-14-22z"/>
<path class="c466" d="M1333 1011l14 25 8-15-15-24z"/>
<path class="c459" d="M1347 1036l15 29 8-16-15-28z"/>
<path class="c447" d="M1362 1065l14 32 8-18-14-30z"/>
<path class="c431" d="M1376 1097l15 35 8-19-15-34z"/>
<path class="c419" d="M1391 1132l15 37 8-21-15-35z"/>
<path class="c403" d="M1406 1169l14 39 8-22-14-38z"/>
<path class="c387" d="M1420 1208l15 40 8-24-15-38z"/>
<path class="c371" d="M1435 1248l14 40 8-25-14-39z"/>
<path class="c355" d="M1449 1288l15 39 8-26-15-38z"/>
<path class="c339" d="M1464 1327l15 36 8-25-15-37z"/>
<path class="c323" d="M1479 1363l14 34 8-25-14-34z"/>
<path class="c311" d="M1493 1397l15 32 8-26-15-31z"/>
<path class="c299" d="M1508 1429l15 28 7-26-14-28z"/>
<path class="c287" d="M1523 1457l14 25 8-26-15-25z"/>
<path class="c279" d="M1537 1482l15 22 8-26-15-22z"/>
<path class="c271" d="M1552 1504l14 19 8-25-14-20z"/>
<path class="c267" d="M1566 1523l15 18 8-26-15-17z"/>
<path class="c263" d="M1581 1541l15 15 8-26-15-15z"/>
<path class="c259" d="M1596 1556l14 14 8-26-14-14z"/>
<path class="c255" d="M1610 1570l15 13 8-26-15-13z"/>
<path class="c251" d="M1625 1583l15 12 14 11 8-26-15-11-14-12z"/>
<path class="c247" d="M1654 1606l15 10 14 10 8-26-14-10-15-10z"/>
<path class="c243" d="M1683 1626l15 10 15 9 14 9 8-27-14-9-15-9-15-9z"/>
<path class="c239" d="M1727 1654l15 9 8-27-15-9z"/>
<path class="c203" d="M1742 1663l14 135 8 3-14-165z"/>
<path class="c155" d="M579 1134l15 274 8 0-15-273z"/>
<path class="c459" d="M1018 921l14-16 8-40-15 11z"/>
<path class="c467" d="M1032 905l15-12 8-37-15 9z"/>
<path class="c475" d="M1047 893l14-8 8-34-14 5z"/>
<path class="c483" d="M1061 885l15-5 8-32-15 3z"/>
<path class="c487" d="M1076 880l15-4 8-30-15 2z"/>
<path class="c491" d="M1091 876l14-1 8-28-14-1z"/>
<path class="c494" d="M1105 875l15 1 8-27-15-2z"/>
<path class="c498" d="M1120 876l15 2 14 3 8-25-15-4-14-3z"/>
<path class="c502" d="M1149 881l15 3 8-24-15-4z"/>
<path class="c503" d="M1164 884l14 9 8-25-14-8z"/>
<path class="c499" d="M1178 893l15 8 15 10 14 10 8-24-14-10-15-10-15-9z"/>
<path class="c495" d="M1222 921l15 11 14 13 8-24-14-12-15-12z"/>
<path class="c491" d="M1251 945l15 14 8-24-15-14z"/>
<path class="c487" d="M1266 959l15 16 8-24-15-16z"/>
<path class="c483" d="M1281 975l14 18 8-25-14-17z"/>
<path class="c475" d="M1295 993l15 20 8-25-15-20z"/>
<path class="c467" d="M1310 1013l15 23 8-25-15-23z"/>
<path class="c459" d="M1325 1036l14 27 8-27-14-25z"/>
<path class="c447" d="M1339 1063l15 29 8-27-15-29z"/>
<path class="c435" d="M1354 1092l14 33 8-28-14-32z"/>
<path class="c423" d="M1368 1125l15 35 8-28-15-35z"/>
<path class="c407" d="M1383 1160l15 38 8-29-15-37z"/>
<path class="c391" d="M1398 1198l14 40 8-30-14-39z"/>
<path class="c375" d="M1412 1238l15 40 8-30-15-40z"/>
<path class="c355" d="M1427 1278l15 41 7-31-14-40z"/>
<path class="c339" d="M1442 1319l14 39 8-31-15-39z"/>
<path class="c323" d="M1456 1358l15 36 8-31-15-36z"/>
<path class="c311" d="M1471 1394l14 34 8-31-14-34z"/>
<path class="c295" d="M1485 1428l15 32 8-31-15-32z"/>
<path class="c283" d="M1500 1460l15 27 8-30-15-28z"/>
<path class="c275" d="M1515 1487l14 25 8-30-14-25z"/>
<path class="c267" d="M1529 1512l15 22 8-30-15-22z"/>
<path class="c259" d="M1544 1534l14 20 8-31-14-19z"/>
<path class="c255" d="M1558 1554l15 17 8-30-15-18z"/>
<path class="c247" d="M1573 1571l15 15 8-30-15-15z"/>
<path class="c243" d="M1588 1586l14 14 15 13 8-30-15-13-14-14z"/>
<path class="c239" d="M1617 1613l15 11 8-29-15-12z"/>
<path class="c235" d="M1632 1624l14 11 15 10 8-29-15-10-14-11z"/>
<path class="c231" d="M1661 1645l14 10 15 10 15 9 8-29-15-9-15-10-14-10z"/>
<path class="c227" d="M1705 1674l14 9 15 9 8-29-15-9-14-9z"/>
<path class="c199" d="M1734 1692l15 105 7 1-14-135z"/>
<path class="c159" d="M571 1133l15 259 8 16-15-274z"/>
<path class="c459" d="M1039 934l14-11 8-38-14 8z"/>
<path class="c467" d="M1053 923l15-8 8-35-15 5z"/>
<path class="c471" d="M1068 915l15-5 8-34-15 4z"/>
<path class="c475" d="M1083 910l14-3 8-32-14 1z"/>
<path class="c483" d="M1097 907l15-1 15 1 8-29-15-2-15-1z"/>
<path class="c487" d="M1127 907l14 2 8-28-14-3z"/>
<path class="c491" d="M1141 909l15 3 14 8 8-27-14-9-15-3z"/>
<path class="c487" d="M1170 920l15 8 15 10 14 10 8-27-14-10-15-10-15-8z"/>
<path class="c483" d="M1214 948l15 11 15 13 7-27-14-13-15-11z"/>
<path class="c479" d="M1244 972l14 14 8-27-15-14z"/>
<path class="c475" d="M1258 986l15 16 8-27-15-16z"/>
<path class="c467" d="M1273 1002l14 18 8-27-14-18z"/>
<path class="c463" d="M1287 1020l15 21 8-28-15-20z"/>
<path class="c455" d="M1302 1041l15 24 8-29-15-23z"/>
<path class="c447" d="M1317 1065l14 27 8-29-14-27z"/>
<path class="c435" d="M1331 1092l15 30 8-30-15-29z"/>
<path class="c423" d="M1346 1122l14 33 8-30-14-33z"/>
<path class="c407" d="M1360 1155l15 37 8-32-15-35z"/>
<path class="c391" d="M1375 1192l15 38 8-32-15-38z"/>
<path class="c375" d="M1390 1230l14 41 8-33-14-40z"/>
<path class="c359" d="M1404 1271l15 41 8-34-15-40z"/>
<path class="c343" d="M1419 1312l15 40 8-33-15-41z"/>
<path class="c323" d="M1434 1352l14 39 8-33-14-39z"/>
<path class="c307" d="M1448 1391l15 37 8-34-15-36z"/>
<path class="c295" d="M1463 1428l14 34 8-34-14-34z"/>
<path class="c283" d="M1477 1462l15 31 8-33-15-32z"/>
<path class="c271" d="M1492 1493l15 27 8-33-15-27z"/>
<path class="c259" d="M1507 1520l14 25 8-33-14-25z"/>
<path class="c251" d="M1521 1545l15 21 8-32-15-22z"/>
<path class="c243" d="M1536 1566l15 19 7-31-14-20z"/>
<path class="c239" d="M1551 1585l14 17 8-31-15-17z"/>
<path class="c235" d="M1565 1602l15 15 8-31-15-15z"/>
<path class="c231" d="M1580 1617l14 14 8-31-14-14z"/>
<path class="c227" d="M1594 1631l15 12 8-30-15-13z"/>
<path class="c223" d="M1609 1643l15 12 14 10 8-30-14-11-15-11z"/>
<path class="c219" d="M1638 1665l15 10 15 10 14 9 8-29-15-10-14-10-15-10z"/>
<path class="c215" d="M1682 1694l15 9 14 9 15 8 8-28-15-9-14-9-15-9z"/>
<path class="c191" d="M1726 1720l15 86 8-9-15-105z"/>
<path class="c167" d="M563 1131l15 243 8 18-15-259z"/>
<path class="c462" d="M1075 940l14-4 8-29-14 3z"/>
<path class="c466" d="M1089 936l15-2 8-28-15 1z"/>
<path class="c470" d="M1104 934l15 0 8-27-15-1z"/>
<path class="c474" d="M1119 934l14 1 15 3 8-26-15-3-14-2z"/>
<path class="c479" d="M1148 938l14 8 8-26-14-8z"/>
<path class="c475" d="M1162 946l15 8 15 10 14 10 8-26-14-10-15-10-15-8z"/>
<path class="c471" d="M1206 974l15 11 15 13 8-26-15-13-15-11z"/>
<path class="c467" d="M1236 998l14 14 8-26-14-14z"/>
<path class="c463" d="M1250 1012l15 17 8-27-15-16z"/>
<path class="c455" d="M1265 1029l14 18 8-27-14-18z"/>
<path class="c451" d="M1279 1047l15 22 8-28-15-21z"/>
<path class="c443" d="M1294 1069l15 24 8-28-15-24z"/>
<path class="c431" d="M1309 1093l14 27 8-28-14-27z"/>
<path class="c419" d="M1323 1120l15 31 8-29-15-30z"/>
<path class="c407" d="M1338 1151l15 34 7-30-14-33z"/>
<path class="c395" d="M1353 1185l14 37 8-30-15-37z"/>
<path class="c379" d="M1367 1222l15 40 8-32-15-38z"/>
<path class="c359" d="M1382 1262l14 41 8-32-14-41z"/>
<path class="c343" d="M1396 1303l15 41 8-32-15-41z"/>
<path class="c327" d="M1411 1344l15 41 8-33-15-40z"/>
<path class="c307" d="M1426 1385l14 39 8-33-14-39z"/>
<path class="c291" d="M1440 1424l15 37 8-33-15-37z"/>
<path class="c279" d="M1455 1461l15 33 7-32-14-34z"/>
<path class="c267" d="M1470 1494l14 31 8-32-15-31z"/>
<path class="c255" d="M1484 1525l15 27 8-32-15-27z"/>
<path class="c243" d="M1499 1552l14 24 8-31-14-25z"/>
<path class="c235" d="M1513 1576l15 21 8-31-15-21z"/>
<path class="c231" d="M1528 1597l15 19 8-31-15-19z"/>
<path class="c223" d="M1543 1616l14 16 8-30-14-17z"/>
<path class="c219" d="M1557 1632l15 15 8-30-15-15z"/>
<path class="c215" d="M1572 1647l14 13 8-29-14-14z"/>
<path class="c207" d="M1616 1683l14 10 15 10 15 9 8-27-15-10-15-10-14-10z"/>
<path class="c203" d="M1660 1712l14 9 15 9 14 8 15 8 8-26-15-8-14-9-15-9-14-9z"/>
<path class="c183" d="M1718 1746l15 70 8-10-15-86z"/>
<path class="c171" d="M555 1129l15 225 8 20-15-243z"/>
<path class="c462" d="M1111 953l14 2 8-20-14-1z"/>
<path class="c466" d="M1125 955l15 3 15 9 14 8 8-21-15-8-14-8-15-3z"/>
<path class="c462" d="M1169 975l15 10 14 10 8-21-14-10-15-10z"/>
<path class="c458" d="M1198 995l15 12 8-22-15-11z"/>
<path class="c459" d="M1213 1007l15 13 8-22-15-13z"/>
<path class="c455" d="M1228 1020l14 15 8-23-14-14z"/>
<path class="c451" d="M1242 1035l15 16 8-22-15-17z"/>
<path class="c443" d="M1257 1051l15 19 7-23-14-18z"/>
<path class="c439" d="M1272 1070l14 22 8-23-15-22z"/>
<path class="c431" d="M1286 1092l15 25 8-24-15-24z"/>
<path class="c419" d="M1301 1117l14 28 8-25-14-27z"/>
<path class="c407" d="M1315 1145l15 31 8-25-15-31z"/>
<path class="c395" d="M1330 1176l15 35 8-26-15-34z"/>
<path class="c379" d="M1345 1211l14 38 8-27-14-37z"/>
<path class="c363" d="M1359 1249l15 40 8-27-15-40z"/>
<path class="c347" d="M1374 1289l14 41 8-27-14-41z"/>
<path class="c327" d="M1388 1330l15 42 8-28-15-41z"/>
<path class="c311" d="M1403 1372l15 41 8-28-15-41z"/>
<path class="c295" d="M1418 1413l14 39 8-28-14-39z"/>
<path class="c279" d="M1432 1452l15 37 8-28-15-37z"/>
<path class="c263" d="M1447 1489l15 33 8-28-15-33z"/>
<path class="c251" d="M1462 1522l14 30 8-27-14-31z"/>
<path class="c239" d="M1476 1552l15 27 8-27-15-27z"/>
<path class="c231" d="M1491 1579l14 24 8-27-14-24z"/>
<path class="c223" d="M1505 1603l15 21 8-27-15-21z"/>
<path class="c190" d="M1652 1735l14 9 15 8 15 8 14 8 8-22-15-8-14-8-15-9-14-9z"/>
<path class="c175" d="M1710 1768l15 57 8-9-15-70z"/>
<path class="c179" d="M547 1127l15 206 8 21-15-225z"/>
<path class="c456" d="M1161 973l15 11 14 11 8 0-14-10-15-10z"/>
<path class="c453" d="M1190 995l15 12 15 14 8-1-15-13-15-12z"/>
<path class="c449" d="M1220 1021l14 16 8-2-14-15z"/>
<path class="c441" d="M1234 1037l15 17 8-3-15-16z"/>
<path class="c438" d="M1249 1054l15 20 8-4-15-19z"/>
<path class="c430" d="M1264 1074l14 22 8-4-14-22z"/>
<path class="c422" d="M1278 1096l15 26 8-5-15-25z"/>
<path class="c414" d="M1293 1122l14 29 8-6-14-28z"/>
<path class="c402" d="M1307 1151l15 32 8-7-15-31z"/>
<path class="c386" d="M1322 1183l15 35 8-7-15-35z"/>
<path class="c370" d="M1337 1218l14 38 8-7-14-38z"/>
<path class="c355" d="M1351 1256l15 41 8-8-15-40z"/>
<path class="c339" d="M1366 1297l15 42 7-9-14-41z"/>
<path class="c319" d="M1381 1339l14 42 8-9-15-42z"/>
<path class="c303" d="M1395 1381l15 41 8-9-15-41z"/>
<path class="c287" d="M1410 1422l14 39 8-9-14-39z"/>
<path class="c271" d="M1424 1461l15 37 8-9-15-37z"/>
<path class="c254" d="M1439 1498l15 33 8-9-15-33z"/>
<path class="c242" d="M1454 1531l14 30 8-9-14-30z"/>
<path class="c171" d="M1702 1764l15 85 8-24-15-57z"/>
<path class="c187" d="M539 1125l15 185 8 23-15-206z"/>
<path class="c452" d="M1197 1002l15 13 8 6-15-14z"/>
<path class="c448" d="M1212 1015l14 16 8 6-14-16z"/>
<path class="c444" d="M1226 1031l15 17 8 6-15-17z"/>
<path class="c440" d="M1241 1048l15 19 8 7-15-20z"/>
<path class="c432" d="M1256 1067l14 23 8 6-14-22z"/>
<path class="c425" d="M1270 1090l15 25 8 7-15-26z"/>
<path class="c413" d="M1285 1115l15 28 7 8-14-29z"/>
<path class="c401" d="M1300 1143l14 32 8 8-15-32z"/>
<path class="c389" d="M1314 1175l15 35 8 8-15-35z"/>
<path class="c373" d="M1329 1210l14 38 8 8-14-38z"/>
<path class="c357" d="M1343 1248l15 40 8 9-15-41z"/>
<path class="c337" d="M1358 1288l15 42 8 9-15-42z"/>
<path class="c321" d="M1373 1330l14 41 8 10-14-42z"/>
<path class="c301" d="M1387 1371l15 41 8 10-15-41z"/>
<path class="c285" d="M1402 1412l14 39 8 10-14-39z"/>
<path class="c269" d="M1416 1451l15 37 8 10-15-37z"/>
<path class="c253" d="M1431 1488l15 33 8 10-15-33z"/>
<path class="c167" d="M1694 1751l15 109 8-11-15-85z"/>
<path class="c195" d="M531 1122l15 165 8 23-15-185z"/>
<path class="c452" d="M1204 1008l14 15 8 8-14-16z"/>
<path class="c448" d="M1218 1023l15 17 8 8-15-17z"/>
<path class="c444" d="M1233 1040l15 20 8 7-15-19z"/>
<path class="c436" d="M1248 1060l14 22 8 8-14-23z"/>
<path class="c428" d="M1262 1082l15 25 8 8-15-25z"/>
<path class="c417" d="M1277 1107l15 28 8 8-15-28z"/>
<path class="c405" d="M1292 1135l14 31 8 9-14-32z"/>
<path class="c393" d="M1306 1166l15 34 8 10-15-35z"/>
<path class="c377" d="M1321 1200l14 38 8 10-14-38z"/>
<path class="c361" d="M1335 1238l15 39 8 11-15-40z"/>
<path class="c345" d="M1350 1277l15 42 8 11-15-42z"/>
<path class="c325" d="M1365 1319l14 41 8 11-14-41z"/>
<path class="c309" d="M1379 1360l15 40 8 12-15-41z"/>
<path class="c293" d="M1394 1400l15 39 7 12-14-39z"/>
<path class="c277" d="M1409 1439l14 37 8 12-15-37z"/>
<path class="c260" d="M1423 1476l15 33 8 12-15-33z"/>
<path class="c171" d="M1686 1737l15 125 8-2-15-109z"/>
<path class="c203" d="M523 1120l15 144 8 23-15-165z"/>
<path class="c452" d="M1211 1015l14 17 8 8-15-17z"/>
<path class="c448" d="M1225 1032l15 19 8 9-15-20z"/>
<path class="c440" d="M1240 1051l14 22 8 9-14-22z"/>
<path class="c432" d="M1254 1073l15 24 8 10-15-25z"/>
<path class="c424" d="M1269 1097l15 28 8 10-15-28z"/>
<path class="c413" d="M1284 1125l14 31 8 10-14-31z"/>
<path class="c401" d="M1298 1156l15 34 8 10-15-34z"/>
<path class="c385" d="M1313 1190l15 36 7 12-14-38z"/>
<path class="c369" d="M1328 1226l14 40 8 11-15-39z"/>
<path class="c353" d="M1342 1266l15 40 8 13-15-42z"/>
<path class="c333" d="M1357 1306l14 41 8 13-14-41z"/>
<path class="c317" d="M1371 1347l15 40 8 13-15-40z"/>
<path class="c301" d="M1386 1387l15 39 8 13-15-39z"/>
<path class="c284" d="M1401 1426l14 36 8 14-14-37z"/>
<path class="c268" d="M1415 1462l15 33 8 14-15-33z"/>
<path class="c175" d="M1678 1721l15 140 8 1-15-125z"/>
<path class="c211" d="M515 1117l15 125 8 22-15-144z"/>
<path class="c452" d="M1217 1023l15 19 8 9-15-19z"/>
<path class="c448" d="M1232 1042l14 21 8 10-14-22z"/>
<path class="c440" d="M1246 1063l15 24 8 10-15-24z"/>
<path class="c428" d="M1261 1087l15 27 8 11-15-28z"/>
<path class="c416" d="M1276 1114l14 30 8 12-14-31z"/>
<path class="c405" d="M1290 1144l15 34 8 12-15-34z"/>
<path class="c393" d="M1305 1178l15 36 8 12-15-36z"/>
<path class="c377" d="M1320 1214l14 39 8 13-14-40z"/>
<path class="c357" d="M1334 1253l15 40 8 13-15-40z"/>
<path class="c341" d="M1349 1293l14 40 8 14-14-41z"/>
<path class="c325" d="M1363 1333l15 40 8 14-15-40z"/>
<path class="c308" d="M1378 1373l15 38 8 15-15-39z"/>
<path class="c292" d="M1393 1411l14 36 8 15-14-36z"/>
<path class="c276" d="M1407 1447l15 33 8 15-15-33z"/>
<path class="c183" d="M1670 1704l15 153 8 4-15-140z"/>
<path class="c219" d="M508 1115l14 106 8 21-15-125z"/>
<path class="c460" d="M1209 1014l15 18 8 10-15-19z"/>
<path class="c452" d="M1224 1032l15 21 7 10-14-21z"/>
<path class="c444" d="M1239 1053l14 23 8 11-15-24z"/>
<path class="c436" d="M1253 1076l15 27 8 11-15-27z"/>
<path class="c424" d="M1268 1103l14 30 8 11-14-30z"/>
<path class="c412" d="M1282 1133l15 33 8 12-15-34z"/>
<path class="c397" d="M1297 1166l15 35 8 13-15-36z"/>
<path class="c385" d="M1312 1201l14 38 8 14-14-39z"/>
<path class="c365" d="M1326 1239l15 40 8 14-15-40z"/>
<path class="c349" d="M1341 1279l14 40 8 14-14-40z"/>
<path class="c333" d="M1355 1319l15 39 8 15-15-40z"/>
<path class="c316" d="M1370 1358l15 38 8 15-15-38z"/>
<path class="c300" d="M1385 1396l14 36 8 15-14-36z"/>
<path class="c288" d="M1399 1432l15 33 8 15-15-33z"/>
<path class="c272" d="M1414 1465l15 29 8 16-15-30z"/>
<path class="c187" d="M1663 1688l14 166 8 3-15-153z"/>
<path class="c223" d="M500 1113l14 88 8 20-14-106z"/>
<path class="c460" d="M1216 1022l15 21 8 10-15-21z"/>
<path class="c452" d="M1231 1043l14 23 8 10-14-23z"/>
<path class="c444" d="M1245 1066l15 26 8 11-15-27z"/>
<path class="c432" d="M1260 1092l14 29 8 12-14-30z"/>
<path class="c420" d="M1274 1121l15 33 8 12-15-33z"/>
<path class="c405" d="M1289 1154l15 35 8 12-15-35z"/>
<path class="c393" d="M1304 1189l14 37 8 13-14-38z"/>
<path class="c373" d="M1318 1226l15 39 8 14-15-40z"/>
<path class="c357" d="M1333 1265l15 40 7 14-14-40z"/>
<path class="c341" d="M1348 1305l14 39 8 14-15-39z"/>
<path class="c324" d="M1362 1344l15 37 8 15-15-38z"/>
<path class="c308" d="M1377 1381l14 36 8 15-14-36z"/>
<path class="c296" d="M1391 1417l15 32 8 16-15-33z"/>
<path class="c284" d="M1406 1449l15 30 8 15-15-29z"/>
<path class="c195" d="M1655 1672l14 179 8 3-14-166z"/>
<path class="c231" d="M492 1112l14 72 8 17-14-88z"/>
<path class="c464" d="M1208 1013l15 20 8 10-15-21z"/>
<path class="c456" d="M1223 1033l14 23 8 10-14-23z"/>
<path class="c448" d="M1237 1056l15 26 8 10-15-26z"/>
<path class="c440" d="M1252 1082l15 28 7 11-14-29z"/>
<path class="c428" d="M1267 1110l14 32 8 12-15-33z"/>
<path class="c413" d="M1281 1142l15 35 8 12-15-35z"/>
<path class="c397" d="M1296 1177l14 37 8 12-14-37z"/>
<path class="c381" d="M1310 1214l15 38 8 13-15-39z"/>
<path class="c365" d="M1325 1252l15 39 8 14-15-40z"/>
<path class="c349" d="M1340 1291l14 39 8 14-14-39z"/>
<path class="c332" d="M1354 1330l15 37 8 14-15-37z"/>
<path class="c316" d="M1369 1367l14 36 8 14-14-36z"/>
<path class="c304" d="M1383 1403l15 32 8 14-15-32z"/>
<path class="c292" d="M1398 1435l15 29 8 15-15-30z"/>
<path class="c199" d="M1647 1658l14 189 8 4-14-179z"/>
<path class="c234" d="M484 1111l14 57 8 16-14-72z"/>
<path class="c484" d="M1171 972l14 15 8 8-14-15z"/>
<path class="c476" d="M1185 987l15 18 8 8-15-18z"/>
<path class="c472" d="M1200 1005l15 20 8 8-15-20z"/>
<path class="c464" d="M1215 1025l14 22 8 9-14-23z"/>
<path class="c456" d="M1229 1047l15 25 8 10-15-26z"/>
<path class="c444" d="M1244 1072l15 28 8 10-15-28z"/>
<path class="c433" d="M1259 1100l14 32 8 10-14-32z"/>
<path class="c421" d="M1273 1132l15 34 8 11-15-35z"/>
<path class="c405" d="M1288 1166l14 36 8 12-14-37z"/>
<path class="c389" d="M1302 1202l15 38 8 12-15-38z"/>
<path class="c373" d="M1317 1240l15 39 8 12-15-39z"/>
<path class="c357" d="M1332 1279l14 38 8 13-14-39z"/>
<path class="c341" d="M1346 1317l15 38 8 12-15-37z"/>
<path class="c324" d="M1361 1355l15 35 7 13-14-36z"/>
<path class="c312" d="M1376 1390l14 32 8 13-15-32z"/>
<path class="c300" d="M1390 1422l15 30 8 12-15-29z"/>
<path class="c288" d="M1405 1452l14 26 8 13-14-27z"/>
<path class="c280" d="M1419 1478l15 23 8 13-15-23z"/>
<path class="c207" d="M1639 1646l14 198 8 3-14-189z"/>
<path class="c235" d="M476 1121l14 80 8-33-14-57z"/>
<path class="c218" d="M490 1201l15-5 8-20-15-8z"/>
<path class="c222" d="M505 1196l15-3 8-10-15-7z"/>
<path class="c220" d="M520 1193l14-3 8-1-14-6z"/>
<path class="c500" d="M1075 899l15 9 14 10 15 10 8 6-15-10-14-10-15-9z"/>
<path class="c496" d="M1119 928l15 11 14 13 8 6-14-12-15-12z"/>
<path class="c492" d="M1148 952l15 13 8 7-15-14z"/>
<path class="c488" d="M1163 965l15 15 7 7-14-15z"/>
<path class="c484" d="M1178 980l14 18 8 7-15-18z"/>
<path class="c476" d="M1192 998l15 19 8 8-15-20z"/>
<path class="c468" d="M1207 1017l14 22 8 8-14-22z"/>
<path class="c460" d="M1221 1039l15 25 8 8-15-25z"/>
<path class="c453" d="M1236 1064l15 28 8 8-15-28z"/>
<path class="c441" d="M1251 1092l14 30 8 10-14-32z"/>
<path class="c425" d="M1265 1122l15 34 8 10-15-34z"/>
<path class="c413" d="M1280 1156l15 36 7 10-14-36z"/>
<path class="c397" d="M1295 1192l14 38 8 10-15-38z"/>
<path class="c381" d="M1309 1230l15 38 8 11-15-39z"/>
<path class="c365" d="M1324 1268l14 38 8 11-14-38z"/>
<path class="c349" d="M1338 1306l15 38 8 11-15-38z"/>
<path class="c333" d="M1353 1344l15 35 8 11-15-35z"/>
<path class="c321" d="M1368 1379l14 32 8 11-14-32z"/>
<path class="c308" d="M1382 1411l15 29 8 12-15-30z"/>
<path class="c296" d="M1397 1440l14 27 8 11-14-26z"/>
<path class="c288" d="M1411 1467l15 23 8 11-15-23z"/>
<path class="c256" d="M1528 1588l15 9 15 7 14 10 15 9 15 9 14 8 15 9 8-3-15-6-15-6-14-6-15-7-14-7-15-7-15-9z"/>
<path class="c211" d="M1631 1649l14 191 8 4-14-198z"/>
<path class="c207" d="M468 1164l14 163 8-126-14-80z"/>
<path class="c183" d="M482 1327l15-10 8-121-15 5z"/>
<path class="c191" d="M497 1317l15-9 8-115-15 3z"/>
<path class="c195" d="M512 1308l14-9 8-109-14 3z"/>
<path class="c203" d="M526 1299l15-7 8-104-15 2z"/>
<path class="c207" d="M541 1292l15-8 8-97-15 1z"/>
<path class="c211" d="M556 1284l14-6 8-86-14-5z"/>
<path class="c215" d="M570 1278l15-7 8-74-15-5z"/>
<path class="c219" d="M585 1271l14-6 8-64-14-4z"/>
<path class="c504" d="M1009 873l14 3 15 5 8 5-15-4-14-4z"/>
<path class="c508" d="M1038 881l15 4 14 9 8 5-14-9-15-4z"/>
<path class="c504" d="M1067 894l15 9 15 10 14 10 8 5-15-10-14-10-15-9z"/>
<path class="c500" d="M1111 923l15 11 14 12 8 6-14-13-15-11z"/>
<path class="c496" d="M1140 946l15 13 8 6-15-13z"/>
<path class="c492" d="M1155 959l15 16 8 5-15-15z"/>
<path class="c488" d="M1170 975l14 16 8 7-14-18z"/>
<path class="c480" d="M1184 991l15 20 8 6-15-19z"/>
<path class="c472" d="M1199 1011l14 21 8 7-14-22z"/>
<path class="c465" d="M1213 1032l15 25 8 7-15-25z"/>
<path class="c457" d="M1228 1057l15 27 8 8-15-28z"/>
<path class="c445" d="M1243 1084l14 31 8 7-14-30z"/>
<path class="c433" d="M1257 1115l15 33 8 8-15-34z"/>
<path class="c417" d="M1272 1148l15 36 8 8-15-36z"/>
<path class="c401" d="M1287 1184l14 37 8 9-14-38z"/>
<path class="c385" d="M1301 1221l15 39 8 8-15-38z"/>
<path class="c369" d="M1316 1260l14 39 8 7-14-38z"/>
<path class="c353" d="M1330 1299l15 38 8 7-15-38z"/>
<path class="c341" d="M1345 1337l15 36 8 6-15-35z"/>
<path class="c326" d="M1360 1373l14 34 8 4-14-32z"/>
<path class="c314" d="M1374 1407l15 31 8 2-15-29z"/>
<path class="c302" d="M1389 1438l15 28 7 1-14-27z"/>
<path class="c294" d="M1404 1466l14 25 8-1-15-23z"/>
<path class="c286" d="M1418 1491l15 23 8-4-15-20z"/>
<path class="c278" d="M1433 1514l14 19 8-5-14-18z"/>
<path class="c274" d="M1447 1533l15 17 8-7-15-15z"/>
<path class="c270" d="M1462 1550l15 16 8-10-15-13z"/>
<path class="c266" d="M1477 1566l14 14 8-12-14-12z"/>
<path class="c262" d="M1491 1580l15 13 8-14-15-11z"/>
<path class="c258" d="M1506 1593l14 11 15 11 15 10 8-21-15-7-15-9-14-9z"/>
<path class="c254" d="M1550 1625l14 10 15 10 15 9 14 9 8-23-14-8-15-9-15-9-14-10z"/>
<path class="c250" d="M1608 1663l15 9 8-23-15-9z"/>
<path class="c207" d="M1623 1672l14 165 8 3-14-191z"/>
<path class="c167" d="M460 1206l15 237 7-116-14-163z"/>
<path class="c407" d="M825 1026l15-30 8-42-15 24z"/>
<path class="c422" d="M840 996l15-27 8-36-15 21z"/>
<path class="c438" d="M855 969l14-23 8-31-14 18z"/>
<path class="c450" d="M869 946l15-19 8-27-15 15z"/>
<path class="c462" d="M884 927l15-15 7-23-14 11z"/>
<path class="c474" d="M899 912l14-12 8-20-15 9z"/>
<path class="c482" d="M913 900l15-8 8-18-15 6z"/>
<path class="c486" d="M928 892l14-6 8-16-14 4z"/>
<path class="c494" d="M942 886l15-3 8-14-15 1z"/>
<path class="c497" d="M957 883l15-1 8-13-15 0z"/>
<path class="c501" d="M972 882l14 0 15 2 8-11-15-3-14-1z"/>
<path class="c505" d="M1001 884l14 3 15 4 8-10-15-5-14-3z"/>
<path class="c509" d="M1030 891l15 5 8-11-15-4z"/>
<path class="c510" d="M1045 896l14 8 8-10-14-9z"/>
<path class="c506" d="M1059 904l15 9 15 10 14 10 8-10-14-10-15-10-15-9z"/>
<path class="c502" d="M1103 933l15 11 14 13 8-11-14-12-15-11z"/>
<path class="c498" d="M1132 957l15 14 8-12-15-13z"/>
<path class="c494" d="M1147 971l15 15 8-11-15-16z"/>
<path class="c490" d="M1162 986l14 18 8-13-14-16z"/>
<path class="c482" d="M1176 1004l15 20 8-13-15-20z"/>
<path class="c474" d="M1191 1024l15 22 7-14-14-21z"/>
<path class="c466" d="M1206 1046l14 26 8-15-15-25z"/>
<path class="c459" d="M1220 1072l15 29 8-17-15-27z"/>
<path class="c447" d="M1235 1101l14 31 8-17-14-31z"/>
<path class="c431" d="M1249 1132l15 35 8-19-15-33z"/>
<path class="c419" d="M1264 1167l15 38 8-21-15-36z"/>
<path class="c403" d="M1279 1205l14 39 8-23-14-37z"/>
<path class="c387" d="M1293 1244l15 40 8-24-15-39z"/>
<path class="c371" d="M1308 1284l15 39 7-24-14-39z"/>
<path class="c355" d="M1323 1323l14 39 8-25-15-38z"/>
<path class="c339" d="M1337 1362l15 37 8-26-15-36z"/>
<path class="c323" d="M1352 1399l14 34 8-26-14-34z"/>
<path class="c311" d="M1366 1433l15 31 8-26-15-31z"/>
<path class="c299" d="M1381 1464l15 28 8-26-15-28z"/>
<path class="c287" d="M1396 1492l14 25 8-26-14-25z"/>
<path class="c279" d="M1410 1517l15 22 8-25-15-23z"/>
<path class="c271" d="M1425 1539l14 20 8-26-14-19z"/>
<path class="c267" d="M1439 1559l15 17 8-26-15-17z"/>
<path class="c263" d="M1454 1576l15 16 8-26-15-16z"/>
<path class="c259" d="M1469 1592l14 14 8-26-14-14z"/>
<path class="c255" d="M1483 1606l15 13 8-26-15-13z"/>
<path class="c251" d="M1498 1619l15 11 14 11 8-26-15-11-14-11z"/>
<path class="c247" d="M1527 1641l15 11 14 10 8-27-14-10-15-10z"/>
<path class="c243" d="M1556 1662l15 9 15 9 14 9 8-26-14-9-15-9-15-10z"/>
<path class="c239" d="M1600 1689l15 9 8-26-15-9z"/>
<path class="c203" d="M1615 1698l15 136 7 3-14-165z"/>
<path class="c147" d="M452 1218l15 226 8-1-15-237z"/>
<path class="c399" d="M832 1062l15-33 8-60-15 27z"/>
<path class="c419" d="M847 1029l14-28 8-55-14 23z"/>
<path class="c435" d="M861 1001l15-25 8-49-15 19z"/>
<path class="c447" d="M876 976l15-20 8-44-15 15z"/>
<path class="c459" d="M891 956l14-15 8-41-14 12z"/>
<path class="c467" d="M905 941l15-12 8-37-15 8z"/>
<path class="c475" d="M920 929l14-8 8-35-14 6z"/>
<path class="c483" d="M934 921l15-6 8-32-15 3z"/>
<path class="c487" d="M949 915l15-3 8-30-15 1z"/>
<path class="c491" d="M964 912l14-1 8-29-14 0z"/>
<path class="c494" d="M978 911l15 0 8-27-15-2z"/>
<path class="c498" d="M993 911l15 2 14 3 8-25-15-4-14-3z"/>
<path class="c502" d="M1022 916l15 4 8-24-15-5z"/>
<path class="c503" d="M1037 920l14 8 8-24-14-8z"/>
<path class="c499" d="M1051 928l15 9 15 9 14 11 8-24-14-10-15-10-15-9z"/>
<path class="c495" d="M1095 957l15 11 15 13 7-24-14-13-15-11z"/>
<path class="c491" d="M1125 981l14 14 8-24-15-14z"/>
<path class="c487" d="M1139 995l15 15 8-24-15-15z"/>
<path class="c483" d="M1154 1010l14 18 8-24-14-18z"/>
<path class="c475" d="M1168 1028l15 21 8-25-15-20z"/>
<path class="c467" d="M1183 1049l15 23 8-26-15-22z"/>
<path class="c459" d="M1198 1072l14 26 8-26-14-26z"/>
<path class="c447" d="M1212 1098l15 29 8-26-15-29z"/>
<path class="c435" d="M1227 1127l14 33 8-28-14-31z"/>
<path class="c423" d="M1241 1160l15 36 8-29-15-35z"/>
<path class="c407" d="M1256 1196l15 38 8-29-15-38z"/>
<path class="c391" d="M1271 1234l14 39 8-29-14-39z"/>
<path class="c375" d="M1285 1273l15 41 8-30-15-40z"/>
<path class="c355" d="M1300 1314l15 40 8-31-15-39z"/>
<path class="c339" d="M1315 1354l14 39 8-31-14-39z"/>
<path class="c323" d="M1329 1393l15 37 8-31-15-37z"/>
<path class="c311" d="M1344 1430l14 34 8-31-14-34z"/>
<path class="c295" d="M1358 1464l15 31 8-31-15-31z"/>
<path class="c283" d="M1373 1495l15 28 8-31-15-28z"/>
<path class="c275" d="M1388 1523l14 25 8-31-14-25z"/>
<path class="c267" d="M1402 1548l15 22 8-31-15-22z"/>
<path class="c259" d="M1417 1570l15 19 7-30-14-20z"/>
<path class="c255" d="M1432 1589l14 17 8-30-15-17z"/>
<path class="c247" d="M1446 1606l15 16 8-30-15-16z"/>
<path class="c243" d="M1461 1622l14 14 15 12 8-29-15-13-14-14z"/>
<path class="c239" d="M1490 1648l15 12 8-30-15-11z"/>
<path class="c235" d="M1505 1660l14 11 15 10 8-29-15-11-14-11z"/>
<path class="c231" d="M1534 1681l14 10 15 9 15 9 8-29-15-9-15-9-14-10z"/>
<path class="c227" d="M1578 1709l14 9 15 9 8-29-15-9-14-9z"/>
<path class="c199" d="M1607 1727l15 106 8 1-15-136z"/>
<path class="c147" d="M444 1217l15 211 8 16-15-226z"/>
<path class="c423" d="M868 1029l15-25 8-48-15 20z"/>
<path class="c435" d="M883 1004l14-19 8-44-14 15z"/>
<path class="c447" d="M897 985l15-15 8-41-15 12z"/>
<path class="c459" d="M912 970l15-12 7-37-14 8z"/>
<path class="c467" d="M927 958l14-8 8-35-15 6z"/>
<path class="c471" d="M941 950l15-5 8-33-15 3z"/>
<path class="c475" d="M956 945l14-3 8-31-14 1z"/>
<path class="c483" d="M970 942l15 0 15 0 8-29-15-2-15 0z"/>
<path class="c487" d="M1000 942l14 2 8-28-14-3z"/>
<path class="c491" d="M1014 944l15 3 14 8 8-27-14-8-15-4z"/>
<path class="c487" d="M1043 955l15 9 15 9 14 11 8-27-14-11-15-9-15-9z"/>
<path class="c483" d="M1087 984l15 11 15 12 8-26-15-13-15-11z"/>
<path class="c479" d="M1117 1007l14 15 8-27-14-14z"/>
<path class="c475" d="M1131 1022l15 16 8-28-15-15z"/>
<path class="c467" d="M1146 1038l14 18 8-28-14-18z"/>
<path class="c463" d="M1160 1056l15 21 8-28-15-21z"/>
<path class="c455" d="M1175 1077l15 23 8-28-15-23z"/>
<path class="c447" d="M1190 1100l14 27 8-29-14-26z"/>
<path class="c435" d="M1204 1127l15 30 8-30-15-29z"/>
<path class="c423" d="M1219 1157l15 34 7-31-14-33z"/>
<path class="c407" d="M1234 1191l14 36 8-31-15-36z"/>
<path class="c391" d="M1248 1227l15 39 8-32-15-38z"/>
<path class="c375" d="M1263 1266l14 40 8-33-14-39z"/>
<path class="c359" d="M1277 1306l15 41 8-33-15-41z"/>
<path class="c343" d="M1292 1347l15 41 8-34-15-40z"/>
<path class="c323" d="M1307 1388l14 39 8-34-14-39z"/>
<path class="c307" d="M1321 1427l15 37 8-34-15-37z"/>
<path class="c295" d="M1336 1464l14 33 8-33-14-34z"/>
<path class="c283" d="M1350 1497l15 31 8-33-15-31z"/>
<path class="c271" d="M1365 1528l15 28 8-33-15-28z"/>
<path class="c259" d="M1380 1556l14 24 8-32-14-25z"/>
<path class="c251" d="M1394 1580l15 22 8-32-15-22z"/>
<path class="c243" d="M1409 1602l15 19 8-32-15-19z"/>
<path class="c239" d="M1424 1621l14 17 8-32-14-17z"/>
<path class="c235" d="M1438 1638l15 15 8-31-15-16z"/>
<path class="c231" d="M1453 1653l14 13 8-30-14-14z"/>
<path class="c227" d="M1467 1666l15 13 8-31-15-12z"/>
<path class="c223" d="M1482 1679l15 11 14 11 8-30-14-11-15-12z"/>
<path class="c219" d="M1511 1701l15 10 15 9 14 10 8-30-15-9-14-10-15-10z"/>
<path class="c215" d="M1555 1730l15 8 14 9 15 9 8-29-15-9-14-9-15-9z"/>
<path class="c191" d="M1599 1756l15 86 8-9-15-106z"/>
<path class="c155" d="M436 1216l15 194 8 18-15-211z"/>
<path class="c426" d="M889 1023l15-17 8-36-15 15z"/>
<path class="c438" d="M904 1006l15-14 8-34-15 12z"/>
<path class="c446" d="M919 992l14-10 8-32-14 8z"/>
<path class="c454" d="M933 982l15-6 8-31-15 5z"/>
<path class="c462" d="M948 976l14-4 8-30-14 3z"/>
<path class="c466" d="M962 972l15-2 8-28-15 0z"/>
<path class="c470" d="M977 970l15 0 8-28-15 0z"/>
<path class="c474" d="M992 970l14 1 15 2 8-26-15-3-14-2z"/>
<path class="c479" d="M1021 973l15 8 7-26-14-8z"/>
<path class="c475" d="M1036 981l14 9 15 9 14 10 8-25-14-11-15-9-15-9z"/>
<path class="c471" d="M1079 1009l15 12 15 13 8-27-15-12-15-11z"/>
<path class="c467" d="M1109 1034l14 14 8-26-14-15z"/>
<path class="c463" d="M1123 1048l15 16 8-26-15-16z"/>
<path class="c455" d="M1138 1064l14 19 8-27-14-18z"/>
<path class="c451" d="M1152 1083l15 21 8-27-15-21z"/>
<path class="c443" d="M1167 1104l15 24 8-28-15-23z"/>
<path class="c431" d="M1182 1128l14 28 8-29-14-27z"/>
<path class="c419" d="M1196 1156l15 31 8-30-15-30z"/>
<path class="c407" d="M1211 1187l15 34 8-30-15-34z"/>
<path class="c395" d="M1226 1221l14 37 8-31-14-36z"/>
<path class="c379" d="M1240 1258l15 39 8-31-15-39z"/>
<path class="c359" d="M1255 1297l14 41 8-32-14-40z"/>
<path class="c343" d="M1269 1338l15 42 8-33-15-41z"/>
<path class="c327" d="M1284 1380l15 40 8-32-15-41z"/>
<path class="c307" d="M1299 1420l14 39 8-32-14-39z"/>
<path class="c291" d="M1313 1459l15 37 8-32-15-37z"/>
<path class="c279" d="M1328 1496l15 34 7-33-14-33z"/>
<path class="c267" d="M1343 1530l14 30 8-32-15-31z"/>
<path class="c255" d="M1357 1560l15 27 8-31-15-28z"/>
<path class="c243" d="M1372 1587l14 24 8-31-14-24z"/>
<path class="c235" d="M1386 1611l15 22 8-31-15-22z"/>
<path class="c231" d="M1401 1633l15 18 8-30-15-19z"/>
<path class="c223" d="M1416 1651l14 17 8-30-14-17z"/>
<path class="c219" d="M1430 1668l15 14 8-29-15-15z"/>
<path class="c207" d="M1489 1718l14 11 15 9 15 10 8-28-15-9-15-10-14-11z"/>
<path class="c203" d="M1533 1748l14 9 15 8 14 8 15 9 8-26-15-9-14-9-15-8-14-10z"/>
<path class="c183" d="M1591 1782l15 69 8-9-15-86z"/>
<path class="c159" d="M428 1214l15 176 8 20-15-194z"/>
<path class="c437" d="M911 1005l14-8 8-15-14 10z"/>
<path class="c445" d="M925 997l15-6 8-15-15 6z"/>
<path class="c450" d="M940 991l15-2 7-17-14 4z"/>
<path class="c454" d="M955 989l14-1 8-18-15 2z"/>
<path class="c458" d="M969 988l15 0 8-18-15 0z"/>
<path class="c462" d="M984 988l14 3 8-20-14-1z"/>
<path class="c466" d="M998 991l15 3 15 8 14 9 8-21-14-9-15-8-15-2z"/>
<path class="c462" d="M1042 1011l15 9 14 11 8-22-14-10-15-9z"/>
<path class="c458" d="M1071 1031l15 11 8-21-15-12z"/>
<path class="c459" d="M1086 1042l15 13 8-21-15-13z"/>
<path class="c455" d="M1101 1055l14 15 8-22-14-14z"/>
<path class="c451" d="M1115 1070l15 17 8-23-15-16z"/>
<path class="c443" d="M1130 1087l15 19 7-23-14-19z"/>
<path class="c439" d="M1145 1106l14 22 8-24-15-21z"/>
<path class="c431" d="M1159 1128l15 24 8-24-15-24z"/>
<path class="c419" d="M1174 1152l14 28 8-24-14-28z"/>
<path class="c407" d="M1188 1180l15 32 8-25-15-31z"/>
<path class="c395" d="M1203 1212l15 35 8-26-15-34z"/>
<path class="c379" d="M1218 1247l14 37 8-26-14-37z"/>
<path class="c363" d="M1232 1284l15 40 8-27-15-39z"/>
<path class="c347" d="M1247 1324l15 42 7-28-14-41z"/>
<path class="c327" d="M1262 1366l14 41 8-27-15-42z"/>
<path class="c311" d="M1276 1407l15 41 8-28-15-40z"/>
<path class="c295" d="M1291 1448l14 40 8-29-14-39z"/>
<path class="c279" d="M1305 1488l15 36 8-28-15-37z"/>
<path class="c263" d="M1320 1524l15 34 8-28-15-34z"/>
<path class="c251" d="M1335 1558l14 30 8-28-14-30z"/>
<path class="c239" d="M1349 1588l15 27 8-28-15-27z"/>
<path class="c231" d="M1364 1615l14 23 8-27-14-24z"/>
<path class="c223" d="M1378 1638l15 21 8-26-15-22z"/>
<path class="c190" d="M1525 1771l14 9 15 8 15 8 14 7 8-21-15-9-14-8-15-8-14-9z"/>
<path class="c175" d="M1583 1803l15 58 8-10-15-69z"/>
<path class="c167" d="M420 1212l15 156 8 22-15-176z"/>
<path class="c442" d="M932 1008l15-2 8-17-15 2z"/>
<path class="c446" d="M947 1006l14-1 8-17-14 1z"/>
<path class="c450" d="M961 1005l15 2 8-19-15 0z"/>
<path class="c454" d="M976 1007l14 2 8-18-14-3z"/>
<path class="c456" d="M990 1009l15-20 8 5-15-3z"/>
<path class="c458" d="M1005 989l15 33 8-20-15-8z"/>
<path class="c454" d="M1020 1022l14 10 15 10 8-22-15-9-14-9z"/>
<path class="c450" d="M1049 1042l15 11 7-22-14-11z"/>
<path class="c451" d="M1064 1053l14 13 8-24-15-11z"/>
<path class="c447" d="M1078 1066l15 13 8-24-15-13z"/>
<path class="c443" d="M1093 1079l14 15 8-24-14-15z"/>
<path class="c439" d="M1107 1094l15 17 8-24-15-17z"/>
<path class="c435" d="M1122 1111l15 20 8-25-15-19z"/>
<path class="c427" d="M1137 1131l14 22 8-25-14-22z"/>
<path class="c419" d="M1151 1153l15 24 8-25-15-24z"/>
<path class="c407" d="M1166 1177l14 28 8-25-14-28z"/>
<path class="c395" d="M1180 1205l15 31 8-24-15-32z"/>
<path class="c383" d="M1195 1236l15 35 8-24-15-35z"/>
<path class="c367" d="M1210 1271l14 37 8-24-14-37z"/>
<path class="c351" d="M1224 1308l15 39 8-23-15-40z"/>
<path class="c335" d="M1239 1347l15 40 8-21-15-42z"/>
<path class="c319" d="M1254 1387l14 41 8-21-14-41z"/>
<path class="c299" d="M1268 1428l15 39 8-19-15-41z"/>
<path class="c283" d="M1283 1467l14 38 8-17-14-40z"/>
<path class="c267" d="M1297 1505l15 36 8-17-15-36z"/>
<path class="c255" d="M1312 1541l15 32 8-15-15-34z"/>
<path class="c243" d="M1327 1573l14 29 8-14-14-30z"/>
<path class="c230" d="M1341 1602l15 25 8-12-15-27z"/>
<path class="c171" d="M1575 1799l15 85 8-23-15-58z"/>
<path class="c175" d="M412 1211l15 135 8 22-15-156z"/>
<path class="c452" d="M982 1008l15 3 8-22-15 20z"/>
<path class="c454" d="M997 1011l15 10 8 1-15-33z"/>
<path class="c448" d="M1012 1021l14 9 15 11 8 1-15-10-14-10z"/>
<path class="c444" d="M1041 1041l15 11 14 12 8 2-14-13-15-11z"/>
<path class="c440" d="M1070 1064l15 13 8 2-15-13z"/>
<path class="c436" d="M1085 1077l14 15 8 2-14-15z"/>
<path class="c433" d="M1099 1092l15 17 8 2-15-17z"/>
<path class="c425" d="M1114 1109l15 19 8 3-15-20z"/>
<path class="c421" d="M1129 1128l14 22 8 3-14-22z"/>
<path class="c413" d="M1143 1150l15 24 8 3-15-24z"/>
<path class="c401" d="M1158 1174l15 27 7 4-14-28z"/>
<path class="c389" d="M1173 1201l14 31 8 4-15-31z"/>
<path class="c378" d="M1187 1232l15 34 8 5-15-35z"/>
<path class="c362" d="M1202 1266l14 36 8 6-14-37z"/>
<path class="c350" d="M1216 1302l15 38 8 7-15-39z"/>
<path class="c330" d="M1231 1340l15 40 8 7-15-40z"/>
<path class="c314" d="M1246 1380l14 40 8 8-14-41z"/>
<path class="c298" d="M1260 1420l15 39 8 8-15-39z"/>
<path class="c281" d="M1275 1459l15 38 7 8-14-38z"/>
<path class="c265" d="M1290 1497l14 35 8 9-15-36z"/>
<path class="c253" d="M1304 1532l15 32 8 9-15-32z"/>
<path class="c167" d="M1567 1787l15 108 8-11-15-85z"/>
<path class="c183" d="M404 1209l15 114 8 23-15-135z"/>
<path class="c452" d="M960 1003l15 3 14 3 15 10 14 9 8 2-14-9-15-10-15-3-14-3z"/>
<path class="c448" d="M1018 1028l15 10 15 11 8 3-15-11-15-11z"/>
<path class="c444" d="M1048 1049l14 12 15 14 8 2-15-13-14-12z"/>
<path class="c440" d="M1077 1075l15 14 7 3-14-15z"/>
<path class="c436" d="M1092 1089l14 17 8 3-15-17z"/>
<path class="c429" d="M1106 1106l15 19 8 3-15-19z"/>
<path class="c421" d="M1121 1125l14 21 8 4-14-22z"/>
<path class="c413" d="M1135 1146l15 24 8 4-15-24z"/>
<path class="c405" d="M1150 1170l15 26 8 5-15-27z"/>
<path class="c393" d="M1165 1196l14 30 8 6-14-31z"/>
<path class="c381" d="M1179 1226l15 33 8 7-15-34z"/>
<path class="c369" d="M1194 1259l14 36 8 7-14-36z"/>
<path class="c353" d="M1208 1295l15 38 8 7-15-38z"/>
<path class="c337" d="M1223 1333l15 39 8 8-15-40z"/>
<path class="c317" d="M1238 1372l14 39 8 9-14-40z"/>
<path class="c301" d="M1252 1411l15 39 8 9-15-39z"/>
<path class="c285" d="M1267 1450l15 36 8 11-15-38z"/>
<path class="c273" d="M1282 1486l14 35 8 11-14-35z"/>
<path class="c256" d="M1296 1521l15 31 8 12-15-32z"/>
<path class="c171" d="M1559 1772l15 125 8-2-15-108z"/>
<path class="c191" d="M396 1207l15 93 8 23-15-114z"/>
<path class="c456" d="M967 1003l14 4 15 9 8 3-15-10-14-3z"/>
<path class="c452" d="M996 1016l14 9 15 10 15 11 8 3-15-11-15-10-14-9z"/>
<path class="c448" d="M1040 1046l14 12 8 3-14-12z"/>
<path class="c444" d="M1054 1058l15 13 8 4-15-14z"/>
<path class="c440" d="M1069 1071l15 15 8 3-15-14z"/>
<path class="c436" d="M1084 1086l14 16 8 4-14-17z"/>
<path class="c432" d="M1098 1102l15 18 8 5-15-19z"/>
<path class="c425" d="M1113 1120l14 21 8 5-14-21z"/>
<path class="c417" d="M1127 1141l15 23 8 6-15-24z"/>
<path class="c409" d="M1142 1164l15 26 8 6-15-26z"/>
<path class="c397" d="M1157 1190l14 30 8 6-14-30z"/>
<path class="c385" d="M1171 1220l15 32 8 7-15-33z"/>
<path class="c373" d="M1186 1252l15 35 7 8-14-36z"/>
<path class="c357" d="M1201 1287l14 37 8 9-15-38z"/>
<path class="c341" d="M1215 1324l15 38 8 10-15-39z"/>
<path class="c325" d="M1230 1362l14 38 8 11-14-39z"/>
<path class="c309" d="M1244 1400l15 38 8 12-15-39z"/>
<path class="c293" d="M1259 1438l15 37 8 11-15-36z"/>
<path class="c277" d="M1274 1475l14 34 8 12-14-35z"/>
<path class="c264" d="M1288 1509l15 31 8 12-15-31z"/>
<path class="c175" d="M1551 1757l15 139 8 1-15-125z"/>
<path class="c195" d="M389 1205l14 73 8 22-15-93z"/>
<path class="c456" d="M944 996l15 3 14 5 15 9 15 9 14 10 8 3-15-10-14-9-15-9-14-4-15-3z"/>
<path class="c452" d="M1017 1032l15 11 14 11 8 4-14-12-15-11z"/>
<path class="c448" d="M1046 1054l15 13 8 4-15-13z"/>
<path class="c444" d="M1061 1067l15 14 8 5-15-15z"/>
<path class="c440" d="M1076 1081l14 16 8 5-14-16z"/>
<path class="c436" d="M1090 1097l15 18 8 5-15-18z"/>
<path class="c428" d="M1105 1115l15 20 7 6-14-21z"/>
<path class="c421" d="M1120 1135l14 23 8 6-15-23z"/>
<path class="c413" d="M1134 1158l15 26 8 6-15-26z"/>
<path class="c401" d="M1149 1184l14 28 8 8-14-30z"/>
<path class="c389" d="M1163 1212l15 32 8 8-15-32z"/>
<path class="c377" d="M1178 1244l15 34 8 9-15-35z"/>
<path class="c361" d="M1193 1278l14 36 8 10-14-37z"/>
<path class="c349" d="M1207 1314l15 37 8 11-15-38z"/>
<path class="c333" d="M1222 1351l14 38 8 11-14-38z"/>
<path class="c317" d="M1236 1389l15 37 8 12-15-38z"/>
<path class="c301" d="M1251 1426l15 36 8 13-15-37z"/>
<path class="c284" d="M1266 1462l14 34 8 13-14-34z"/>
<path class="c272" d="M1280 1496l15 30 8 14-15-31z"/>
<path class="c260" d="M1295 1526l15 28 8 14-15-28z"/>
<path class="c183" d="M1543 1740l15 153 8 3-15-139z"/>
<path class="c202" d="M381 1203l14 54 8 21-14-73z"/>
<path class="c460" d="M936 992l15 4 14 5 15 8 15 10 8 3-15-9-15-9-14-5-15-3z"/>
<path class="c456" d="M995 1019l14 10 15 10 8 4-15-11-14-10z"/>
<path class="c452" d="M1024 1039l14 12 15 12 8 4-15-13-14-11z"/>
<path class="c448" d="M1053 1063l15 14 8 4-15-14z"/>
<path class="c444" d="M1068 1077l14 15 8 5-14-16z"/>
<path class="c440" d="M1082 1092l15 18 8 5-15-18z"/>
<path class="c432" d="M1097 1110l15 20 8 5-15-20z"/>
<path class="c424" d="M1112 1130l14 22 8 6-14-23z"/>
<path class="c417" d="M1126 1152l15 25 8 7-15-26z"/>
<path class="c409" d="M1141 1177l14 28 8 7-14-28z"/>
<path class="c397" d="M1155 1205l15 30 8 9-15-32z"/>
<path class="c381" d="M1170 1235l15 33 8 10-15-34z"/>
<path class="c369" d="M1185 1268l14 36 8 10-14-36z"/>
<path class="c353" d="M1199 1304l15 36 8 11-15-37z"/>
<path class="c337" d="M1214 1340l15 37 7 12-14-38z"/>
<path class="c321" d="M1229 1377l14 37 8 12-15-37z"/>
<path class="c309" d="M1243 1414l15 35 8 13-15-36z"/>
<path class="c292" d="M1258 1449l14 33 8 14-14-34z"/>
<path class="c280" d="M1272 1482l15 30 8 14-15-30z"/>
<path class="c268" d="M1287 1512l15 28 8 14-15-28z"/>
<path class="c187" d="M1536 1723l14 166 8 4-15-153z"/>
<path class="c464" d="M943 993l14 5 15 8 8 3-15-8-14-5z"/>
<path class="c460" d="M972 1006l15 9 14 10 15 11 8 3-15-10-14-10-15-10z"/>
<path class="c456" d="M1016 1036l15 11 14 12 8 4-15-12-14-12z"/>
<path class="c452" d="M1045 1059l15 14 8 4-15-14z"/>
<path class="c448" d="M1060 1073l14 15 8 4-14-15z"/>
<path class="c444" d="M1074 1088l15 17 8 5-15-18z"/>
<path class="c436" d="M1089 1105l15 19 8 6-15-20z"/>
<path class="c428" d="M1104 1124l14 22 8 6-14-22z"/>
<path class="c421" d="M1118 1146l15 24 8 7-15-25z"/>
<path class="c413" d="M1133 1170l14 27 8 8-14-28z"/>
<path class="c401" d="M1147 1197l15 30 8 8-15-30z"/>
<path class="c389" d="M1162 1227l15 32 8 9-15-33z"/>
<path class="c373" d="M1177 1259l14 35 8 10-14-36z"/>
<path class="c361" d="M1191 1294l15 36 8 10-15-36z"/>
<path class="c345" d="M1206 1330l15 36 8 11-15-37z"/>
<path class="c329" d="M1221 1366l14 36 8 12-14-37z"/>
<path class="c312" d="M1235 1402l15 34 8 13-15-35z"/>
<path class="c300" d="M1250 1436l14 33 8 13-14-33z"/>
<path class="c288" d="M1264 1469l15 30 8 13-15-30z"/>
<path class="c276" d="M1279 1499l15 27 8 14-15-28z"/>
<path class="c195" d="M1528 1708l14 178 8 3-14-166z"/>
<path class="c464" d="M906 983l14 3 15 4 15 5 14 9 15 9 14 9 8 3-14-10-15-9-15-8-14-5-15-4-14-3z"/>
<path class="c460" d="M993 1022l15 10 15 11 8 4-15-11-15-11z"/>
<path class="c456" d="M1023 1043l14 13 15 13 8 4-15-14-14-12z"/>
<path class="c452" d="M1052 1069l14 15 8 4-14-15z"/>
<path class="c448" d="M1066 1084l15 16 8 5-15-17z"/>
<path class="c440" d="M1081 1100l15 19 8 5-15-19z"/>
<path class="c432" d="M1096 1119l14 21 8 6-14-22z"/>
<path class="c425" d="M1110 1140l15 24 8 6-15-24z"/>
<path class="c417" d="M1125 1164l15 26 7 7-14-27z"/>
<path class="c405" d="M1140 1190l14 29 8 8-15-30z"/>
<path class="c393" d="M1154 1219l15 32 8 8-15-32z"/>
<path class="c381" d="M1169 1251l14 34 8 9-14-35z"/>
<path class="c365" d="M1183 1285l15 35 8 10-15-36z"/>
<path class="c353" d="M1198 1320l15 35 8 11-15-36z"/>
<path class="c337" d="M1213 1355l14 35 8 12-14-36z"/>
<path class="c321" d="M1227 1390l15 34 8 12-15-34z"/>
<path class="c308" d="M1242 1424l15 33 7 12-14-33z"/>
<path class="c296" d="M1257 1457l14 29 8 13-15-30z"/>
<path class="c284" d="M1271 1486l15 27 8 13-15-27z"/>
<path class="c199" d="M1520 1694l14 189 8 3-14-178z"/>
<path class="c468" d="M912 984l15 4 15 5 14 9 15 9 8 2-15-9-14-9-15-5-15-4z"/>
<path class="c464" d="M971 1011l14 9 15 10 15 11 8 2-15-11-15-10-14-9z"/>
<path class="c460" d="M1015 1041l14 12 8 3-14-13z"/>
<path class="c456" d="M1029 1053l15 13 8 3-15-13z"/>
<path class="c452" d="M1044 1066l15 14 7 4-14-15z"/>
<path class="c448" d="M1059 1080l14 17 8 3-15-16z"/>
<path class="c444" d="M1073 1097l15 18 8 4-15-19z"/>
<path class="c437" d="M1088 1115l14 21 8 4-14-21z"/>
<path class="c429" d="M1102 1136l15 23 8 5-15-24z"/>
<path class="c421" d="M1117 1159l15 25 8 6-15-26z"/>
<path class="c409" d="M1132 1184l14 29 8 6-14-29z"/>
<path class="c397" d="M1146 1213l15 31 8 7-15-32z"/>
<path class="c385" d="M1161 1244l14 33 8 8-14-34z"/>
<path class="c373" d="M1175 1277l15 34 8 9-15-35z"/>
<path class="c357" d="M1190 1311l15 35 8 9-15-35z"/>
<path class="c345" d="M1205 1346l14 34 8 10-14-35z"/>
<path class="c329" d="M1219 1380l15 34 8 10-15-34z"/>
<path class="c317" d="M1234 1414l15 32 8 11-15-33z"/>
<path class="c304" d="M1249 1446l14 29 8 11-14-29z"/>
<path class="c292" d="M1263 1475l15 26 8 12-15-27z"/>
<path class="c284" d="M1278 1501l14 24 8 12-14-24z"/>
<path class="c207" d="M1512 1682l14 197 8 4-14-189z"/>
<path class="c468" d="M896 980l14 4 15 4 14 5 15 8 15 9 14 10 2 0-14-9-15-9-14-9-15-5-15-4-14-3z"/>
<path class="c464" d="M983 1020l15 10 15 10 2 1-15-11-15-10z"/>
<path class="c460" d="M1013 1040l14 12 15 13 2 1-15-13-14-12z"/>
<path class="c452" d="M1056 1080l15 16 2 1-14-17z"/>
<path class="c445" d="M1071 1096l15 18 2 1-15-18z"/>
<path class="c441" d="M1086 1114l14 20 2 2-14-21z"/>
<path class="c433" d="M1100 1134l15 23 2 2-15-23z"/>
<path class="c425" d="M1115 1157l15 26 2 1-15-25z"/>
<path class="c413" d="M1130 1183l14 28 2 2-14-29z"/>
<path class="c401" d="M1144 1211l15 31 2 2-15-31z"/>
<path class="c389" d="M1159 1242l14 33 2 2-14-33z"/>
<path class="c377" d="M1173 1275l15 34 2 2-15-34z"/>
<path class="c361" d="M1188 1309l15 35 2 2-15-35z"/>
<path class="c345" d="M1203 1344l14 34 2 2-14-34z"/>
<path class="c333" d="M1217 1378l15 33 2 3-15-34z"/>
<path class="c321" d="M1232 1411l14 32 3 3-15-32z"/>
<path class="c308" d="M1246 1443l15 29 2 3-14-29z"/>
<path class="c296" d="M1261 1472l15 26 2 3-15-26z"/>
<path class="c288" d="M1276 1498l14 24 2 3-14-24z"/>
<path class="c280" d="M1290 1522l15 21 2 3-15-21z"/>
<path class="c211" d="M1510 1679l14 199 2 1-14-197z"/>
<path class="c468" d="M893 980l15 3 15 5 14 5 15 8 15 9 14 9 15 10 2 1-15-10-14-10-15-9-15-8-14-5-15-4-14-4z"/>
<path class="c464" d="M996 1029l14 11 15 12 2 0-14-12-15-10z"/>
<path class="c460" d="M1025 1052l15 13 2 0-15-13z"/>
<path class="c456" d="M1040 1065l14 14 2 1-14-15z"/>
<path class="c452" d="M1054 1079l15 16 2 1-15-16z"/>
<path class="c449" d="M1069 1095l15 18 2 1-15-18z"/>
<path class="c441" d="M1084 1113l14 21 2 0-14-20z"/>
<path class="c433" d="M1098 1134l15 22 2 1-15-23z"/>
<path class="c425" d="M1113 1156l14 26 3 1-15-26z"/>
<path class="c413" d="M1127 1182l15 28 2 1-14-28z"/>
<path class="c401" d="M1142 1210l15 30 2 2-15-31z"/>
<path class="c389" d="M1157 1240l14 33 2 2-14-33z"/>
<path class="c377" d="M1171 1273l15 34 2 2-15-34z"/>
<path class="c361" d="M1186 1307l14 34 3 3-15-35z"/>
<path class="c349" d="M1200 1341l15 35 2 2-14-34z"/>
<path class="c333" d="M1215 1376l15 33 2 2-15-33z"/>
<path class="c321" d="M1230 1409l14 31 2 3-14-32z"/>
<path class="c308" d="M1244 1440l15 29 2 3-15-29z"/>
<path class="c296" d="M1259 1469l15 27 2 2-15-26z"/>
<path class="c211" d="M1508 1677l14 200 2 1-14-199z"/>
<path class="c228" d="M365 1197l15 6 14 5 2 3-14-7-15-7z"/>
<path class="c464" d="M862 975l15 1 14 3 2 1-14-3-15-2z"/>
<path class="c468" d="M891 979l15 4 15 4 14 5 2 1-14-5-15-5-15-3z"/>
<path class="c472" d="M935 992l15 9 2 0-15-8z"/>
<path class="c468" d="M950 1001l14 9 15 9 15 10 2 0-15-10-14-9-15-9z"/>
<path class="c464" d="M994 1029l14 11 15 11 2 1-15-12-14-11z"/>
<path class="c460" d="M1023 1051l15 13 2 1-15-13z"/>
<path class="c456" d="M1038 1064l14 14 2 1-14-14z"/>
<path class="c452" d="M1052 1078l15 16 2 1-15-16z"/>
<path class="c449" d="M1067 1094l14 18 3 1-15-18z"/>
<path class="c441" d="M1081 1112l15 21 2 1-14-21z"/>
<path class="c433" d="M1096 1133l15 22 2 1-15-22z"/>
<path class="c425" d="M1111 1155l14 26 2 1-14-26z"/>
<path class="c417" d="M1125 1181l15 28 2 1-15-28z"/>
<path class="c405" d="M1140 1209l15 30 2 1-15-30z"/>
<path class="c393" d="M1155 1239l14 32 2 2-14-33z"/>
<path class="c377" d="M1169 1271l15 34 2 2-15-34z"/>
<path class="c365" d="M1184 1305l14 34 2 2-14-34z"/>
<path class="c349" d="M1198 1339l15 35 2 2-15-35z"/>
<path class="c337" d="M1213 1374l15 33 2 2-15-33z"/>
<path class="c325" d="M1228 1407l14 31 2 2-14-31z"/>
<path class="c313" d="M1242 1438l15 29 2 2-15-29z"/>
<path class="c300" d="M1257 1467l14 26 3 3-15-27z"/>
<path class="c292" d="M1271 1493l15 24 2 2-14-23z"/>
<path class="c284" d="M1286 1517l15 21 2 2-15-21z"/>
<path class="c276" d="M1301 1538l14 18 2 2-14-18z"/>
<path class="c272" d="M1315 1556l15 16 2 2-15-16z"/>
<path class="c211" d="M1505 1677l15 200 2 0-14-200z"/>
<path class="c225" d="M348 1204l15-5 2-2-15 4z"/>
<path class="c229" d="M363 1199l15 6 14 4 2-1-14-5-15-6z"/>
<path class="c228" d="M392 1209l15 5 14 5 3 1-15-6-15-6z"/>
<path class="c464" d="M860 974l15 2 14 3 2 0-14-3-15-1z"/>
<path class="c468" d="M889 979l15 4 14 4 3 0-15-4-15-4z"/>
<path class="c472" d="M918 987l15 5 15 9 2 0-15-9-14-5z"/>
<path class="c468" d="M948 1001l14 8 15 10 15 10 2 0-15-10-15-9-14-9z"/>
<path class="c464" d="M992 1029l14 10 15 12 2 0-15-11-14-11z"/>
<path class="c460" d="M1021 1051l14 13 3 0-15-13z"/>
<path class="c456" d="M1035 1064l15 14 2 0-14-14z"/>
<path class="c453" d="M1050 1078l15 16 2 0-15-16z"/>
<path class="c449" d="M1065 1094l14 18 2 0-14-18z"/>
<path class="c441" d="M1079 1112l15 20 2 1-15-21z"/>
<path class="c437" d="M1094 1132l15 22 2 1-15-22z"/>
<path class="c425" d="M1109 1154l14 26 2 1-14-26z"/>
<path class="c417" d="M1123 1180l15 27 2 2-15-28z"/>
<path class="c405" d="M1138 1207l14 31 3 1-15-30z"/>
<path class="c393" d="M1152 1238l15 32 2 1-14-32z"/>
<path class="c381" d="M1167 1270l15 33 2 2-15-34z"/>
<path class="c365" d="M1182 1303l14 35 2 1-14-34z"/>
<path class="c353" d="M1196 1338l15 34 2 2-15-35z"/>
<path class="c337" d="M1211 1372l15 33 2 2-15-33z"/>
<path class="c325" d="M1226 1405l14 31 2 2-14-31z"/>
<path class="c300" d="M1255 1465l14 26 2 2-14-26z"/>
<path class="c292" d="M1269 1491l15 23 2 3-15-24z"/>
<path class="c284" d="M1284 1514l15 21 2 3-15-21z"/>
<path class="c276" d="M1299 1535l14 18 2 3-14-18z"/>
<path class="c272" d="M1313 1553l15 16 2 3-15-16z"/>
<path class="c256" d="M1445 1649l14 8 15 7 15 7 14 6 2 0-14-7-15-7-14-7-15-6z"/>
<path class="c211" d="M1503 1677l15 199 2 1-15-200z"/>
<path class="c225" d="M346 1207l15-5 2-3-15 5z"/>
<path class="c230" d="M361 1202l14 5 15 5 15 5 2-3-15-5-14-4-15-6z"/>
<path class="c229" d="M405 1217l14 5 2-3-14-5z"/>
<path class="c233" d="M419 1222l15 4 15 4 2-2-15-4-15-5z"/>
<path class="c232" d="M449 1230l14 3 2 0-14-5z"/>
<path class="c236" d="M463 1233l15 2 2 3-15-5z"/>
<path class="c460" d="M843 973l15 1 2 0-15 0z"/>
<path class="c464" d="M858 974l15 2 2 0-15-2z"/>
<path class="c468" d="M873 976l14 3 15 4 14 4 2 0-14-4-15-4-14-3z"/>
<path class="c472" d="M916 987l15 5 15 9 2 0-15-9-15-5z"/>
<path class="c468" d="M946 1001l14 8 15 10 14 10 3 0-15-10-15-10-14-8z"/>
<path class="c464" d="M989 1029l15 10 15 12 2 0-15-12-14-10z"/>
<path class="c460" d="M1019 1051l14 13 2 0-14-13z"/>
<path class="c456" d="M1033 1064l15 14 2 0-15-14z"/>
<path class="c453" d="M1048 1078l15 15 2 1-15-16z"/>
<path class="c449" d="M1063 1093l14 18 2 1-14-18z"/>
<path class="c445" d="M1077 1111l15 20 2 1-15-20z"/>
<path class="c437" d="M1092 1131l14 23 3 0-15-22z"/>
<path class="c429" d="M1106 1154l15 25 2 1-14-26z"/>
<path class="c417" d="M1121 1179l15 27 2 1-15-27z"/>
<path class="c405" d="M1136 1206l14 30 2 2-14-31z"/>
<path class="c393" d="M1150 1236l15 32 2 2-15-32z"/>
<path class="c381" d="M1165 1268l15 34 2 1-15-33z"/>
<path class="c365" d="M1180 1302l14 34 2 2-14-35z"/>
<path class="c353" d="M1194 1336l15 34 2 2-15-34z"/>
<path class="c337" d="M1209 1370l14 33 3 2-15-33z"/>
<path class="c325" d="M1223 1403l15 31 2 2-14-31z"/>
<path class="c313" d="M1238 1434l15 29 2 2-15-29z"/>
<path class="c304" d="M1253 1463l14 26 2 2-14-26z"/>
<path class="c292" d="M1267 1489l15 23 2 2-15-23z"/>
<path class="c284" d="M1282 1512l14 21 3 2-15-21z"/>
<path class="c260" d="M1384 1615l15 10 14 8 15 9 15 8 14 7 2 0-14-8-15-8-14-8-15-8-15-9z"/>
<path class="c256" d="M1457 1657l15 7 15 7 14 7 2-1-14-6-15-7-15-7z"/>
<path class="c211" d="M1501 1678l15 197 2 1-15-199z"/>
<path class="c223" d="M344 1219l15-6 2-11-15 5z"/>
<path class="c227" d="M359 1213l14 3 15 3 2-7-15-5-14-5z"/>
<path class="c230" d="M388 1219l15 3 14 3 15 4 2-3-15-4-14-5-15-5z"/>
<path class="c234" d="M432 1229l14 4 15 4 2-4-14-3-15-4z"/>
<path class="c238" d="M461 1237l15 2 14 2 2-3-14-3-15-2z"/>
<path class="c241" d="M490 1241l15 1 2-2-15-2z"/>
<path class="c244" d="M505 1242l15-1 2 0-15-1z"/>
<path class="c460" d="M827 974l14-1 15 1 2 0-15-1-14 1z"/>
<path class="c464" d="M856 974l14 2 3 0-15-2z"/>
<path class="c468" d="M870 976l15 3 15 4 14 4 2 0-14-4-15-4-14-3z"/>
<path class="c472" d="M914 987l15 5 14 9 15 8 2 0-14-8-15-9-15-5z"/>
<path class="c468" d="M958 1009l15 10 14 9 15 11 2 0-15-10-14-10-15-10z"/>
<path class="c464" d="M1002 1039l15 12 2 0-15-12z"/>
<path class="c460" d="M1017 1051l14 12 2 1-14-13z"/>
<path class="c461" d="M1031 1063l15 14 2 1-15-14z"/>
<path class="c453" d="M1046 1077l14 16 3 0-15-15z"/>
<path class="c449" d="M1060 1093l15 18 2 0-14-18z"/>
<path class="c445" d="M1075 1111l15 20 2 0-15-20z"/>
<path class="c437" d="M1090 1131l14 22 2 1-14-23z"/>
<path class="c429" d="M1104 1153l15 25 2 1-15-25z"/>
<path class="c417" d="M1119 1178l15 27 2 1-15-27z"/>
<path class="c405" d="M1134 1205l14 30 2 1-14-30z"/>
<path class="c393" d="M1148 1235l15 32 2 1-15-32z"/>
<path class="c381" d="M1163 1267l14 33 3 2-15-34z"/>
<path class="c369" d="M1177 1300l15 34 2 2-14-34z"/>
<path class="c353" d="M1192 1334l15 34 2 2-15-34z"/>
<path class="c341" d="M1207 1368l14 33 2 2-14-33z"/>
<path class="c329" d="M1221 1401l15 31 2 2-15-31z"/>
<path class="c317" d="M1236 1432l15 29 2 2-15-29z"/>
<path class="c305" d="M1251 1461l14 26 2 2-14-26z"/>
<path class="c296" d="M1265 1487l15 23 2 2-15-23z"/>
<path class="c288" d="M1280 1510l14 21 2 2-14-21z"/>
<path class="c280" d="M1294 1531l15 18 2 2-15-18z"/>
<path class="c276" d="M1309 1549l15 17 2 1-15-16z"/>
<path class="c272" d="M1324 1566l14 14 2 1-14-14z"/>
<path class="c268" d="M1338 1580l15 13 2 0-15-12z"/>
<path class="c265" d="M1353 1593l14 12 15 11 2-1-14-11-15-11z"/>
<path class="c261" d="M1382 1616l15 9 14 9 15 8 2 0-15-9-14-8-15-10z"/>
<path class="c260" d="M1426 1642l15 8 14 8 2-1-14-7-15-8z"/>
<path class="c257" d="M1455 1658l15 8 14 8 3-3-15-7-15-7z"/>
<path class="c258" d="M1484 1674l15 9 2-5-14-7z"/>
<path class="c211" d="M1499 1683l15 191 2 1-15-197z"/>
<path class="c215" d="M342 1231l15-6 2-12-15 6z"/>
<path class="c219" d="M357 1225l14 4 2-13-14-3z"/>
<path class="c223" d="M371 1229l15 3 14 3 3-13-15-3-15-3z"/>
<path class="c227" d="M400 1235l15 2 15 3 2-11-15-4-14-3z"/>
<path class="c231" d="M430 1240l14 1 2-8-14-4z"/>
<path class="c234" d="M444 1241l15 2 15 1 2-5-15-2-15-4z"/>
<path class="c238" d="M474 1244l14 1 2-4-14-2z"/>
<path class="c242" d="M488 1245l15 1 14-1 3-4-15 1-15-1z"/>
<path class="c246" d="M517 1245l15-1 2-5-14 2z"/>
<path class="c254" d="M532 1244l15-4 2-5-15 4z"/>
<path class="c257" d="M547 1240l14-6 2-3-14 4z"/>
<path class="c264" d="M561 1234l15-9 2 0-15 6z"/>
<path class="c464" d="M839 973l15 1 14 2 2 0-14-2-15-1z"/>
<path class="c468" d="M868 976l15 3 15 4 2 0-15-4-15-3z"/>
<path class="c472" d="M898 983l14 4 15 5 14 9 15 8 2 0-15-8-14-9-15-5-14-4z"/>
<path class="c468" d="M956 1009l15 10 14 9 15 11 2 0-15-11-14-9-15-10z"/>
<path class="c464" d="M1000 1039l14 12 3 0-15-12z"/>
<path class="c461" d="M1014 1051l15 12 15 14 2 0-15-14-14-12z"/>
<path class="c457" d="M1044 1077l14 16 2 0-14-16z"/>
<path class="c449" d="M1058 1093l15 17 2 1-15-18z"/>
<path class="c445" d="M1073 1110l15 20 2 1-15-20z"/>
<path class="c437" d="M1088 1130l14 22 2 1-14-22z"/>
<path class="c429" d="M1102 1152l15 25 2 1-15-25z"/>
<path class="c417" d="M1117 1177l14 27 3 1-15-27z"/>
<path class="c409" d="M1131 1204l15 30 2 1-14-30z"/>
<path class="c397" d="M1146 1234l15 32 2 1-15-32z"/>
<path class="c381" d="M1161 1266l14 33 2 1-14-33z"/>
<path class="c369" d="M1175 1299l15 34 2 1-15-34z"/>
<path class="c353" d="M1190 1333l15 33 2 2-15-34z"/>
<path class="c341" d="M1205 1366l14 33 2 2-14-33z"/>
<path class="c329" d="M1219 1399l15 31 2 2-15-31z"/>
<path class="c317" d="M1234 1430l14 29 3 2-15-29z"/>
<path class="c305" d="M1248 1459l15 27 2 1-14-26z"/>
<path class="c297" d="M1263 1486l15 24 2 0-15-23z"/>
<path class="c289" d="M1278 1510l14 21 2 0-14-21z"/>
<path class="c281" d="M1292 1531l15 19 2-1-15-18z"/>
<path class="c277" d="M1307 1550l14 16 3 0-15-17z"/>
<path class="c273" d="M1321 1566l15 15 2-1-14-14z"/>
<path class="c269" d="M1336 1581l15 13 2-1-15-13z"/>
<path class="c265" d="M1351 1594l14 12 15 10 2 0-15-11-14-12z"/>
<path class="c261" d="M1380 1616l15 10 14 9 15 9 14 9 3-3-15-8-15-8-14-9-15-9z"/>
<path class="c258" d="M1438 1653l15 9 15 9 14 9 15 8 2-5-15-9-14-8-15-8-14-8z"/>
<path class="c211" d="M1497 1688l15 185 2 1-15-191zM340 1243l14-5 3-13-15 6z"/>
<path class="c215" d="M354 1238l15 3 15 3 2-12-15-3-14-4z"/>
<path class="c219" d="M384 1244l14 3 15 3 2-13-15-2-14-3z"/>
<path class="c223" d="M413 1250l15 2 2-12-15-3z"/>
<path class="c227" d="M428 1252l14 2 15 2 2-13-15-2-14-1z"/>
<path class="c231" d="M457 1256l14 0 3-12-15-1z"/>
<path class="c235" d="M471 1256l15 0 2-11-14-1z"/>
<path class="c239" d="M486 1256l15-1 2-9-15-1z"/>
<path class="c243" d="M501 1255l14-2 2-8-14 1z"/>
<path class="c246" d="M515 1253l15-4 2-5-15 1z"/>
<path class="c250" d="M530 1249l15-4 2-5-15 4z"/>
<path class="c258" d="M545 1245l14-6 2-5-14 6z"/>
<path class="c262" d="M559 1239l15-8 2-6-15 9z"/>
<path class="c274" d="M574 1231l14-11 2-6-14 11z"/>
<path class="c282" d="M588 1220l15-14 2-5-15 13z"/>
<path class="c293" d="M603 1206l15-16 2-5-15 16z"/>
<path class="c304" d="M618 1190l14-19 2-3-14 17z"/>
<path class="c464" d="M837 972l15 1 14 3 2 0-14-2-15-1z"/>
<path class="c468" d="M866 976l15 3 14 4 3 0-15-4-15-3z"/>
<path class="c472" d="M895 983l15 4 15 6 14 8 15 9 2-1-15-8-14-9-15-5-14-4z"/>
<path class="c468" d="M954 1010l15 9 14 10 15 10 2 0-15-11-14-9-15-10z"/>
<path class="c464" d="M998 1039l14 12 2 0-14-12z"/>
<path class="c465" d="M1012 1051l15 12 2 0-15-12z"/>
<path class="c461" d="M1027 1063l15 14 2 0-15-14z"/>
<path class="c457" d="M1042 1077l14 16 2 0-14-16z"/>
<path class="c449" d="M1056 1093l15 17 2 0-15-17z"/>
<path class="c445" d="M1071 1110l14 20 3 0-15-20z"/>
<path class="c437" d="M1085 1130l15 22 2 0-14-22z"/>
<path class="c429" d="M1100 1152l15 25 2 0-15-25z"/>
<path class="c421" d="M1115 1177l14 27 2 0-14-27z"/>
<path class="c409" d="M1129 1204l15 29 2 1-15-30z"/>
<path class="c398" d="M1144 1233l15 32 2 1-15-32z"/>
<path class="c382" d="M1159 1265l14 33 2 1-14-33z"/>
<path class="c370" d="M1173 1298l15 34 2 1-15-34z"/>
<path class="c358" d="M1188 1332l14 34 3 0-15-33z"/>
<path class="c342" d="M1202 1366l15 33 2 0-14-33z"/>
<path class="c330" d="M1217 1399l15 32 2-1-15-31z"/>
<path class="c318" d="M1232 1431l14 29 2-1-14-29z"/>
<path class="c306" d="M1246 1460l15 26 2 0-15-27z"/>
<path class="c298" d="M1261 1486l15 24 2 0-15-24z"/>
<path class="c290" d="M1276 1510l14 21 2 0-14-21z"/>
<path class="c281" d="M1290 1531l15 19 2 0-15-19z"/>
<path class="c277" d="M1305 1550l14 17 2-1-14-16z"/>
<path class="c273" d="M1319 1567l15 15 2-1-15-15z"/>
<path class="c269" d="M1334 1582l15 13 2-1-15-13z"/>
<path class="c265" d="M1349 1595l14 11 15 12 2-2-15-10-14-12z"/>
<path class="c262" d="M1378 1618l14 11 15 11 2-5-14-9-15-10z"/>
<path class="c258" d="M1407 1640l15 10 14 9 15 9 15 9 2-6-15-9-15-9-14-9-15-9z"/>
<path class="c255" d="M1466 1677l14 12 15 11 2-12-15-8-14-9z"/>
<path class="c211" d="M1495 1700l14 172 3 1-15-185z"/>
<path class="c203" d="M338 1255l14-5 2-12-14 5z"/>
<path class="c207" d="M352 1250l15 3 2-12-15-3z"/>
<path class="c211" d="M367 1253l15 4 14 3 2-13-14-3-15-3z"/>
<path class="c215" d="M396 1260l15 3 14 2 3-13-15-2-15-3z"/>
<path class="c219" d="M425 1265l15 2 2-13-14-2z"/>
<path class="c223" d="M440 1267l15 2 14 1 2-14-14 0-15-2z"/>
<path class="c227" d="M469 1270l15 0 2-14-15 0z"/>
<path class="c231" d="M484 1270l15-1 2-14-15 1z"/>
<path class="c235" d="M499 1269l14-2 2-14-14 2z"/>
<path class="c243" d="M513 1267l15-4 2-14-15 4z"/>
<path class="c247" d="M528 1263l14-5 3-13-15 4z"/>
<path class="c255" d="M542 1258l15-8 2-11-14 6z"/>
<path class="c263" d="M557 1250l15-10 2-9-15 8z"/>
<path class="c270" d="M572 1240l14-13 2-7-14 11z"/>
<path class="c278" d="M586 1227l15-14 2-7-15 14z"/>
<path class="c290" d="M601 1213l15-17 2-6-15 16z"/>
<path class="c302" d="M616 1196l14-19 2-6-14 19z"/>
<path class="c318" d="M630 1177l15-21 2-7-15 22z"/>
<path class="c334" d="M645 1156l14-23 2-7-14 23z"/>
<path class="c345" d="M659 1133l15-24 2-6-15 23z"/>
<path class="c361" d="M674 1109l15-24 2-5-15 23z"/>
<path class="c464" d="M835 972l14 2 15 2 2 0-14-3-15-1z"/>
<path class="c468" d="M864 976l15 3 14 4 2 0-14-4-15-3z"/>
<path class="c472" d="M893 983l15 5 15 5 14 8 15 9 14 9 3 0-15-9-15-9-14-8-15-6-15-4z"/>
<path class="c468" d="M966 1019l15 10 15 10 2 0-15-10-14-10z"/>
<path class="c465" d="M996 1039l14 12 15 12 2 0-15-12-14-12z"/>
<path class="c461" d="M1025 1063l14 14 3 0-15-14z"/>
<path class="c457" d="M1039 1077l15 16 2 0-14-16z"/>
<path class="c453" d="M1054 1093l15 17 2 0-15-17z"/>
<path class="c445" d="M1069 1110l14 20 2 0-14-20z"/>
<path class="c437" d="M1083 1130l15 22 2 0-15-22z"/>
<path class="c430" d="M1098 1152l15 25 2 0-15-25z"/>
<path class="c422" d="M1113 1177l14 27 2 0-14-27z"/>
<path class="c410" d="M1127 1204l15 30 2-1-15-29z"/>
<path class="c398" d="M1142 1234l14 32 3-1-15-32z"/>
<path class="c386" d="M1156 1266l15 33 2-1-14-33z"/>
<path class="c370" d="M1171 1299l15 34 2-1-15-34z"/>
<path class="c358" d="M1186 1333l14 34 2-1-14-34z"/>
<path class="c342" d="M1200 1367l15 33 2-1-15-33z"/>
<path class="c330" d="M1215 1400l15 31 2 0-15-32z"/>
<path class="c318" d="M1230 1431l14 29 2 0-14-29z"/>
<path class="c306" d="M1244 1460l15 27 2-1-15-26z"/>
<path class="c298" d="M1259 1487l14 24 3-1-15-24z"/>
<path class="c290" d="M1273 1511l15 21 2-1-14-21z"/>
<path class="c281" d="M1288 1532l15 19 2-1-15-19z"/>
<path class="c278" d="M1303 1551l14 18 2-2-14-17z"/>
<path class="c274" d="M1317 1569l15 16 2-3-15-15z"/>
<path class="c270" d="M1332 1585l15 14 2-4-15-13z"/>
<path class="c266" d="M1347 1599l14 13 2-6-14-11z"/>
<path class="c262" d="M1361 1612l15 12 14 11 2-6-14-11-15-12z"/>
<path class="c258" d="M1390 1635l15 10 2-5-15-11z"/>
<path class="c259" d="M1405 1645l15 11 2-6-15-10z"/>
<path class="c255" d="M1420 1656l14 13 15 11 2-12-15-9-14-9z"/>
<path class="c251" d="M1449 1680l14 12 15 11 2-14-14-12-15-9z"/>
<path class="c247" d="M1478 1703l15 12 2-15-15-11z"/>
<path class="c207" d="M1493 1715l14 156 2 1-14-172z"/>
<path class="c199" d="M336 1268l14-5 2-13-14 5z"/>
<path class="c203" d="M350 1263l15 3 14 3 3-12-15-4-15-3z"/>
<path class="c207" d="M379 1269l15 3 15 3 2-12-15-3-14-3z"/>
<path class="c211" d="M409 1275l14 3 15 2 2-13-15-2-14-2z"/>
<path class="c215" d="M438 1280l15 2 2-13-15-2z"/>
<path class="c219" d="M453 1282l14 1 2-13-14-1z"/>
<path class="c223" d="M467 1283l15 1 2-14-15 0z"/>
<path class="c227" d="M482 1284l14-1 3-14-15 1z"/>
<path class="c231" d="M496 1283l15-2 2-14-14 2z"/>
<path class="c235" d="M511 1281l15-3 2-15-15 4z"/>
<path class="c239" d="M526 1278l14-5 2-15-14 5z"/>
<path class="c247" d="M540 1273l15-7 2-16-15 8z"/>
<path class="c255" d="M555 1266l15-10 2-16-15 10z"/>
<path class="c263" d="M570 1256l14-12 2-17-14 13z"/>
<path class="c275" d="M584 1244l15-15 2-16-15 14z"/>
<path class="c287" d="M599 1229l14-19 3-14-15 17z"/>
<path class="c299" d="M613 1210l15-20 2-13-14 19z"/>
<path class="c315" d="M628 1190l15-24 2-10-15 21z"/>
<path class="c330" d="M643 1166l14-25 2-8-14 23z"/>
<path class="c346" d="M657 1141l15-24 2-8-15 24z"/>
<path class="c362" d="M672 1117l14-24 3-8-15 24z"/>
<path class="c374" d="M686 1093l15-23 2-8-14 23z"/>
<path class="c390" d="M701 1070l15-21 2-9-15 22z"/>
<path class="c406" d="M716 1049l14-19 2-8-14 18z"/>
<path class="c418" d="M730 1030l15-17 2-6-15 15z"/>
<path class="c426" d="M745 1013l15-13 2-5-15 12z"/>
<path class="c437" d="M760 1000l14-11 2-3-14 9z"/>
<path class="c444" d="M774 989l15-9 2-1-15 7z"/>
<path class="c452" d="M789 980l14-4 3-1-15 4z"/>
<path class="c456" d="M803 976l15-3 2 0-14 2z"/>
<path class="c460" d="M818 973l15 0 2-1-15 1z"/>
<path class="c464" d="M833 973l14 1 15 2 2 0-15-2-14-2z"/>
<path class="c468" d="M862 976l15 4 14 4 2-1-14-4-15-3z"/>
<path class="c472" d="M891 984l15 4 14 5 3 0-15-5-15-5z"/>
<path class="c473" d="M920 993l15 9 15 8 14 10 2-1-14-9-15-9-14-8z"/>
<path class="c469" d="M964 1020l15 9 15 11 2-1-15-10-15-10z"/>
<path class="c465" d="M994 1040l14 11 15 13 2-1-15-12-14-12z"/>
<path class="c461" d="M1023 1064l14 14 2-1-14-14z"/>
<path class="c457" d="M1037 1078l15 15 2 0-15-16z"/>
<path class="c453" d="M1052 1093l15 18 2-1-15-17z"/>
<path class="c445" d="M1067 1111l14 20 2-1-14-20z"/>
<path class="c438" d="M1081 1131l15 22 2-1-15-22z"/>
<path class="c430" d="M1096 1153l14 25 3-1-15-25z"/>
<path class="c422" d="M1110 1178l15 27 2-1-14-27z"/>
<path class="c410" d="M1125 1205l15 30 2-1-15-30z"/>
<path class="c398" d="M1140 1235l14 31 2 0-14-32z"/>
<path class="c386" d="M1154 1266l15 34 2-1-15-33z"/>
<path class="c370" d="M1169 1300l15 34 2-1-15-34z"/>
<path class="c358" d="M1184 1334l14 33 2 0-14-34z"/>
<path class="c342" d="M1198 1367l15 33 2 0-15-33z"/>
<path class="c330" d="M1213 1400l14 32 3-1-15-31z"/>
<path class="c318" d="M1227 1432l15 30 2-2-14-29z"/>
<path class="c306" d="M1242 1462l15 28 2-3-15-27z"/>
<path class="c298" d="M1257 1490l14 25 2-4-14-24z"/>
<path class="c291" d="M1271 1515l15 22 2-5-15-21z"/>
<path class="c283" d="M1286 1537l15 20 2-6-15-19z"/>
<path class="c275" d="M1301 1557l14 18 2-6-14-18z"/>
<path class="c271" d="M1315 1575l15 16 2-6-15-16z"/>
<path class="c267" d="M1330 1591l14 14 3-6-15-14z"/>
<path class="c263" d="M1344 1605l15 13 2-6-14-13z"/>
<path class="c259" d="M1359 1618l15 15 14 14 2-12-14-11-15-12z"/>
<path class="c255" d="M1388 1647l15 12 2-14-15-10z"/>
<path class="c251" d="M1403 1659l14 13 15 12 2-15-14-13-15-11z"/>
<path class="c247" d="M1432 1684l15 12 14 11 2-15-14-12-15-11z"/>
<path class="c243" d="M1461 1707l15 11 2-15-15-11z"/>
<path class="c239" d="M1476 1718l15 11 2-14-15-12z"/>
<path class="c203" d="M1491 1729l14 141 2 1-14-156z"/>
<path class="c191" d="M333 1283l15-5 2-15-14 5z"/>
<path class="c195" d="M348 1278l15 3 2-15-15-3z"/>
<path class="c199" d="M363 1281l14 3 15 3 2-15-15-3-14-3z"/>
<path class="c203" d="M392 1287l15 3 14 2 2-14-14-3-15-3z"/>
<path class="c207" d="M421 1292l15 2 14 1 3-13-15-2-15-2z"/>
<path class="c211" d="M450 1295l15 2 2-14-14-1z"/>
<path class="c215" d="M465 1297l15 0 2-13-15-1z"/>
<path class="c219" d="M480 1297l14 0 2-14-14 1z"/>
<path class="c223" d="M494 1297l15-2 2-14-15 2z"/>
<path class="c227" d="M509 1295l15-3 2-14-15 3z"/>
<path class="c231" d="M524 1292l14-4 2-15-14 5z"/>
<path class="c239" d="M538 1288l15-7 2-15-15 7z"/>
<path class="c247" d="M553 1281l14-9 3-16-15 10z"/>
<path class="c255" d="M567 1272l15-12 2-16-14 12z"/>
<path class="c267" d="M582 1260l15-14 2-17-15 15z"/>
<path class="c279" d="M597 1246l14-18 2-18-14 19z"/>
<path class="c291" d="M611 1228l15-20 2-18-15 20z"/>
<path class="c307" d="M626 1208l15-22 2-20-15 24z"/>
<path class="c323" d="M641 1186l14-25 2-20-14 25z"/>
<path class="c339" d="M655 1161l15-25 2-19-15 24z"/>
<path class="c355" d="M670 1136l14-26 2-17-14 24z"/>
<path class="c371" d="M684 1110l15-25 2-15-15 23z"/>
<path class="c387" d="M699 1085l15-24 2-12-15 21z"/>
<path class="c402" d="M714 1061l14-22 2-9-14 19z"/>
<path class="c414" d="M728 1039l15-16 2-10-15 17z"/>
<path class="c426" d="M743 1023l14-14 3-9-15 13z"/>
<path class="c435" d="M757 1009l15-11 2-9-14 11z"/>
<path class="c443" d="M772 998l15-8 2-10-15 9z"/>
<path class="c451" d="M787 990l14-6 2-8-14 4z"/>
<path class="c454" d="M801 984l15-4 2-7-15 3z"/>
<path class="c462" d="M816 980l15-3 2-4-15 0z"/>
<path class="c465" d="M831 977l14-1 2-2-14-1z"/>
<path class="c464" d="M845 976l15 1 2-1-15-2z"/>
<path class="c468" d="M860 977l14 3 15 4 2 0-14-4-15-4z"/>
<path class="c472" d="M889 984l15 5 14 5 2-1-14-5-15-4z"/>
<path class="c473" d="M918 994l15 8 15 9 14 9 2 0-14-10-15-8-15-9z"/>
<path class="c469" d="M962 1020l15 10 14 10 3 0-15-11-15-9z"/>
<path class="c465" d="M991 1040l15 12 15 12 2 0-15-13-14-11z"/>
<path class="c461" d="M1021 1064l14 14 2 0-14-14z"/>
<path class="c457" d="M1035 1078l15 16 2-1-15-15z"/>
<path class="c453" d="M1050 1094l14 18 3-1-15-18z"/>
<path class="c445" d="M1064 1112l15 19 2 0-14-20z"/>
<path class="c438" d="M1079 1131l15 22 2 0-15-22z"/>
<path class="c430" d="M1094 1153l14 25 2 0-14-25z"/>
<path class="c422" d="M1108 1178l15 27 2 0-15-27z"/>
<path class="c410" d="M1123 1205l15 30 2 0-15-30z"/>
<path class="c398" d="M1138 1235l14 33 2-2-14-31z"/>
<path class="c382" d="M1152 1268l15 35 2-3-15-34z"/>
<path class="c371" d="M1167 1303l14 35 3-4-15-34z"/>
<path class="c355" d="M1181 1338l15 35 2-6-14-33z"/>
<path class="c343" d="M1196 1373l15 34 2-7-15-33z"/>
<path class="c331" d="M1211 1407l14 32 2-7-14-32z"/>
<path class="c319" d="M1225 1439l15 30 2-7-15-30z"/>
<path class="c307" d="M1240 1469l15 28 2-7-15-28z"/>
<path class="c295" d="M1255 1497l14 24 2-6-14-25z"/>
<path class="c287" d="M1269 1521l15 23 2-7-15-22z"/>
<path class="c279" d="M1284 1544l14 20 3-7-15-20z"/>
<path class="c275" d="M1298 1564l15 21 2-10-14-18z"/>
<path class="c267" d="M1313 1585l15 18 2-12-15-16z"/>
<path class="c263" d="M1328 1603l14 16 2-14-14-14z"/>
<path class="c259" d="M1342 1619l15 16 2-17-15-13z"/>
<path class="c255" d="M1357 1635l15 14 2-16-15-15z"/>
<path class="c251" d="M1372 1649l14 13 2-15-14-14z"/>
<path class="c247" d="M1386 1662l15 13 14 12 2-15-14-13-15-12z"/>
<path class="c243" d="M1415 1687l15 12 2-15-15-12z"/>
<path class="c239" d="M1430 1699l15 12 14 11 2-15-14-11-15-12z"/>
<path class="c235" d="M1459 1722l15 11 14 11 3-15-15-11-15-11z"/>
<path class="c199" d="M1488 1744l15 125 2 1-14-141z"/>
<path class="c183" d="M331 1297l15-4 2-15-15 5z"/>
<path class="c187" d="M346 1293l15 4 2-16-15-3z"/>
<path class="c191" d="M361 1297l14 3 15 2 2-15-15-3-14-3z"/>
<path class="c195" d="M390 1302l14 3 15 2 2-15-14-2-15-3z"/>
<path class="c199" d="M419 1307l15 2 2-15-15-2z"/>
<path class="c203" d="M434 1309l14 2 15 0 2-14-15-2-14-1z"/>
<path class="c207" d="M463 1311l15 1 2-15-15 0z"/>
<path class="c211" d="M478 1312l14-1 2-14-14 0z"/>
<path class="c215" d="M492 1311l15-1 2-15-15 2z"/>
<path class="c219" d="M507 1310l14-3 3-15-15 3z"/>
<path class="c227" d="M521 1307l15-5 2-14-14 4z"/>
<path class="c231" d="M536 1302l15-6 2-15-15 7z"/>
<path class="c239" d="M551 1296l14-8 2-16-14 9z"/>
<path class="c247" d="M565 1288l15-11 2-17-15 12z"/>
<path class="c259" d="M580 1277l15-14 2-17-15 14z"/>
<path class="c271" d="M595 1263l14-17 2-18-14 18z"/>
<path class="c283" d="M609 1246l15-19 2-19-15 20z"/>
<path class="c299" d="M624 1227l14-22 3-19-15 22z"/>
<path class="c311" d="M638 1205l15-23 2-21-14 25z"/>
<path class="c327" d="M653 1182l15-25 2-21-15 25z"/>
<path class="c347" d="M668 1157l14-24 2-23-14 26z"/>
<path class="c363" d="M682 1133l15-25 2-23-15 25z"/>
<path class="c379" d="M697 1108l14-23 3-24-15 24z"/>
<path class="c391" d="M711 1085l15-21 2-25-14 22z"/>
<path class="c407" d="M726 1064l15-19 2-22-15 16z"/>
<path class="c419" d="M741 1045l14-17 2-19-14 14z"/>
<path class="c427" d="M755 1028l15-14 2-16-15 11z"/>
<path class="c439" d="M770 1014l15-12 2-12-15 8z"/>
<path class="c447" d="M785 1002l14-8 2-10-14 6z"/>
<path class="c451" d="M799 994l15-4 2-10-15 4z"/>
<path class="c459" d="M814 990l14-3 3-10-15 3z"/>
<path class="c463" d="M828 987l15-1 2-10-14 1z"/>
<path class="c467" d="M843 986l15 0 14 2 2-8-14-3-15-1z"/>
<path class="c470" d="M872 988l15 1 15 3 2-3-15-5-15-4z"/>
<path class="c473" d="M902 992l14 3 15 8 14 9 15 9 2-1-14-9-15-9-15-8-14-5z"/>
<path class="c469" d="M960 1021l15 10 14 11 2-2-14-10-15-10z"/>
<path class="c466" d="M989 1042l15 12 2-2-15-12z"/>
<path class="c462" d="M1004 1054l15 13 14 15 2-4-14-14-15-12z"/>
<path class="c458" d="M1033 1082l15 16 2-4-15-16z"/>
<path class="c450" d="M1048 1098l14 18 2-4-14-18z"/>
<path class="c447" d="M1062 1116l15 21 2-6-15-19z"/>
<path class="c439" d="M1077 1137l15 23 2-7-15-22z"/>
<path class="c431" d="M1092 1160l14 26 2-8-14-25z"/>
<path class="c419" d="M1106 1186l15 28 2-9-15-27z"/>
<path class="c407" d="M1121 1214l14 30 3-9-15-30z"/>
<path class="c395" d="M1135 1244l15 33 2-9-14-33z"/>
<path class="c383" d="M1150 1277l15 34 2-8-15-35z"/>
<path class="c367" d="M1165 1311l14 35 2-8-14-35z"/>
<path class="c355" d="M1179 1346l15 34 2-7-15-35z"/>
<path class="c339" d="M1194 1380l15 34 2-7-15-34z"/>
<path class="c327" d="M1209 1414l14 33 2-8-14-32z"/>
<path class="c315" d="M1223 1447l15 32 2-10-15-30z"/>
<path class="c303" d="M1238 1479l14 30 3-12-15-28z"/>
<path class="c291" d="M1252 1509l15 27 2-15-14-24z"/>
<path class="c283" d="M1267 1536l15 24 2-16-15-23z"/>
<path class="c275" d="M1282 1560l14 22 2-18-14-20z"/>
<path class="c267" d="M1296 1582l15 19 2-16-15-21z"/>
<path class="c263" d="M1311 1601l15 18 2-16-15-18z"/>
<path class="c255" d="M1326 1619l14 17 2-17-14-16z"/>
<path class="c251" d="M1340 1636l15 15 2-16-15-16z"/>
<path class="c247" d="M1355 1651l14 14 3-16-15-14z"/>
<path class="c243" d="M1369 1665l15 13 2-16-14-13z"/>
<path class="c239" d="M1384 1678l15 13 14 12 2-16-14-12-15-13z"/>
<path class="c235" d="M1413 1703l15 11 2-15-15-12z"/>
<path class="c231" d="M1428 1714l14 12 15 11 2-15-14-11-15-12z"/>
<path class="c227" d="M1457 1737l15 11 14 11 2-15-14-11-15-11z"/>
<path class="c195" d="M1486 1759l15 109 2 1-15-125z"/>
<path class="c175" d="M329 1312l15-4 2-15-15 4z"/>
<path class="c179" d="M344 1308l14 4 3-15-15-4z"/>
<path class="c183" d="M358 1312l15 3 15 3 2-16-15-2-14-3z"/>
<path class="c187" d="M388 1318l14 2 2-15-14-3z"/>
<path class="c191" d="M402 1320l15 2 15 2 2-15-15-2-15-2z"/>
<path class="c195" d="M432 1324l14 2 2-15-14-2z"/>
<path class="c199" d="M446 1326l15 1 14 0 3-15-15-1-15 0z"/>
<path class="c203" d="M475 1327l15-1 2-15-14 1z"/>
<path class="c207" d="M490 1326l15-1 2-15-15 1z"/>
<path class="c211" d="M505 1325l14-3 2-15-14 3z"/>
<path class="c219" d="M519 1322l15-4 2-16-15 5z"/>
<path class="c223" d="M534 1318l15-6 2-16-15 6z"/>
<path class="c231" d="M549 1312l14-8 2-16-14 8z"/>
<path class="c239" d="M563 1304l15-11 2-16-15 11z"/>
<path class="c251" d="M578 1293l14-13 3-17-15 14z"/>
<path class="c263" d="M592 1280l15-16 2-18-14 17z"/>
<path class="c275" d="M607 1264l15-18 2-19-15 19z"/>
<path class="c287" d="M622 1246l14-21 2-20-14 22z"/>
<path class="c303" d="M636 1225l15-22 2-21-15 23z"/>
<path class="c319" d="M651 1203l15-24 2-22-15 25z"/>
<path class="c335" d="M666 1179l14-24 2-22-14 24z"/>
<path class="c351" d="M680 1155l15-23 2-24-15 25z"/>
<path class="c367" d="M695 1132l14-22 2-25-14 23z"/>
<path class="c379" d="M709 1110l15-21 2-25-15 21z"/>
<path class="c395" d="M724 1089l15-18 2-26-15 19z"/>
<path class="c407" d="M739 1071l14-16 2-27-14 17z"/>
<path class="c419" d="M753 1055l15-13 2-28-15 14z"/>
<path class="c427" d="M768 1042l14-12 3-28-15 12z"/>
<path class="c435" d="M782 1030l15-9 2-27-14 8z"/>
<path class="c443" d="M797 1021l15-8 2-23-15 4z"/>
<path class="c451" d="M812 1013l14-6 2-20-14 3z"/>
<path class="c455" d="M826 1007l15-5 2-16-15 1z"/>
<path class="c459" d="M841 1002l15-4 2-12-15 0z"/>
<path class="c463" d="M856 998l14 0 2-10-14-2z"/>
<path class="c467" d="M870 998l15 2 2-11-15-1z"/>
<path class="c471" d="M885 1000l14 3 15 2 15 9 14 9 15 9 2-11-15-9-14-9-15-8-14-3-15-3z"/>
<path class="c467" d="M958 1032l15 10 14 11 2-11-14-11-15-10z"/>
<path class="c463" d="M987 1053l15 12 14 13 3-11-15-13-15-12z"/>
<path class="c459" d="M1016 1078l15 14 2-10-14-15z"/>
<path class="c455" d="M1031 1092l15 17 2-11-15-16z"/>
<path class="c447" d="M1046 1109l14 18 2-11-14-18z"/>
<path class="c443" d="M1060 1127l15 20 2-10-15-21z"/>
<path class="c435" d="M1075 1147l14 23 3-10-15-23z"/>
<path class="c427" d="M1089 1170l15 25 2-9-14-26z"/>
<path class="c415" d="M1104 1195l15 29 2-10-15-28z"/>
<path class="c403" d="M1119 1224l14 32 2-12-14-30z"/>
<path class="c391" d="M1133 1256l15 35 2-14-15-33z"/>
<path class="c375" d="M1148 1291l15 35 2-15-15-34z"/>
<path class="c363" d="M1163 1326l14 37 2-17-14-35z"/>
<path class="c347" d="M1177 1363l15 36 2-19-15-34z"/>
<path class="c335" d="M1192 1399l14 35 3-20-15-34z"/>
<path class="c319" d="M1206 1434l15 34 2-21-14-33z"/>
<path class="c307" d="M1221 1468l15 31 2-20-15-32z"/>
<path class="c295" d="M1236 1499l14 29 2-19-14-30z"/>
<path class="c283" d="M1250 1528l15 26 2-18-15-27z"/>
<path class="c275" d="M1265 1554l15 24 2-18-15-24z"/>
<path class="c267" d="M1280 1578l14 21 2-17-14-22z"/>
<path class="c259" d="M1294 1599l15 19 2-17-15-19z"/>
<path class="c251" d="M1309 1618l14 18 3-17-15-18z"/>
<path class="c247" d="M1323 1636l15 16 2-16-14-17z"/>
<path class="c243" d="M1338 1652l15 15 2-16-15-15z"/>
<path class="c239" d="M1353 1667l14 14 2-16-14-14z"/>
<path class="c235" d="M1367 1681l15 13 2-16-15-13z"/>
<path class="c231" d="M1382 1694l15 12 14 12 2-15-14-12-15-13z"/>
<path class="c227" d="M1411 1718l15 12 14 11 2-15-14-12-15-11z"/>
<path class="c223" d="M1440 1741l15 11 2-15-15-11z"/>
<path class="c219" d="M1455 1752l15 11 14 11 2-15-14-11-15-11z"/>
<path class="c195" d="M1484 1774l15 93 2 1-15-109z"/>
<path class="c171" d="M327 1327l15-4 2-15-15 4z"/>
<path class="c175" d="M342 1323l14 4 15 3 2-15-15-3-14-4z"/>
<path class="c179" d="M371 1330l15 3 14 3 2-16-14-2-15-3z"/>
<path class="c183" d="M400 1336l15 3 14 2 3-17-15-2-15-2z"/>
<path class="c187" d="M429 1341l15 1 2-16-14-2z"/>
<path class="c191" d="M444 1342l15 1 14 0 2-16-14 0-15-1z"/>
<path class="c195" d="M473 1343l15-1 2-16-15 1z"/>
<path class="c199" d="M488 1342l15-2 2-15-15 1z"/>
<path class="c207" d="M503 1340l14-3 2-15-14 3z"/>
<path class="c211" d="M517 1337l15-4 2-15-15 4z"/>
<path class="c215" d="M532 1333l14-6 3-15-15 6z"/>
<path class="c223" d="M546 1327l15-8 2-15-14 8z"/>
<path class="c231" d="M561 1319l15-10 2-16-15 11z"/>
<path class="c243" d="M576 1309l14-12 2-17-14 13z"/>
<path class="c251" d="M590 1297l15-15 2-18-15 16z"/>
<path class="c263" d="M605 1282l15-18 2-18-15 18z"/>
<path class="c279" d="M620 1264l14-19 2-20-14 21z"/>
<path class="c291" d="M634 1245l15-22 2-20-15 22z"/>
<path class="c307" d="M649 1223l14-22 3-22-15 24z"/>
<path class="c323" d="M663 1201l15-23 2-23-14 24z"/>
<path class="c339" d="M678 1178l15-23 2-23-15 23z"/>
<path class="c355" d="M693 1155l14-21 2-24-14 22z"/>
<path class="c367" d="M707 1134l15-19 2-26-15 21z"/>
<path class="c379" d="M722 1115l15-18 2-26-15 18z"/>
<path class="c391" d="M737 1097l14-15 2-27-14 16z"/>
<path class="c403" d="M751 1082l15-13 2-27-15 13z"/>
<path class="c415" d="M766 1069l14-11 2-28-14 12z"/>
<path class="c423" d="M780 1058l15-9 2-28-15 9z"/>
<path class="c431" d="M795 1049l15-7 2-29-15 8z"/>
<path class="c439" d="M810 1042l14-6 2-29-14 6z"/>
<path class="c443" d="M824 1036l15-4 2-30-15 5z"/>
<path class="c451" d="M839 1032l14-4 3-30-15 4z"/>
<path class="c455" d="M853 1028l15-2 2-28-14 0z"/>
<path class="c459" d="M868 1026l15-3 2-23-15-2z"/>
<path class="c463" d="M883 1023l14-1 15-2 2-15-15-2-14-3z"/>
<path class="c467" d="M912 1020l15 9 14 9 2-15-14-9-15-9z"/>
<path class="c463" d="M941 1038l15 10 14 10 3-16-15-10-15-9z"/>
<path class="c459" d="M970 1058l15 12 15 12 2-17-15-12-14-11z"/>
<path class="c455" d="M1000 1082l14 15 2-19-14-13z"/>
<path class="c451" d="M1014 1097l15 15 2-20-15-14z"/>
<path class="c447" d="M1029 1112l15 18 2-21-15-17z"/>
<path class="c439" d="M1044 1130l14 19 2-22-14-18z"/>
<path class="c435" d="M1058 1149l15 22 2-24-15-20z"/>
<path class="c427" d="M1073 1171l14 24 2-25-14-23z"/>
<path class="c419" d="M1087 1195l15 26 2-26-15-25z"/>
<path class="c407" d="M1102 1221l15 30 2-27-15-29z"/>
<path class="c395" d="M1117 1251l14 31 2-26-14-32z"/>
<path class="c383" d="M1131 1282l15 34 2-25-15-35z"/>
<path class="c367" d="M1146 1316l14 35 3-25-15-35z"/>
<path class="c351" d="M1160 1351l15 35 2-23-14-37z"/>
<path class="c339" d="M1175 1386l15 35 2-22-15-36z"/>
<path class="c323" d="M1190 1421l14 35 2-22-14-35z"/>
<path class="c307" d="M1204 1456l15 32 2-20-15-34z"/>
<path class="c295" d="M1219 1488l15 31 2-20-15-31z"/>
<path class="c283" d="M1234 1519l14 28 2-19-14-29z"/>
<path class="c275" d="M1248 1547l15 26 2-19-15-26z"/>
<path class="c263" d="M1263 1573l14 23 3-18-15-24z"/>
<path class="c255" d="M1277 1596l15 21 2-18-14-21z"/>
<path class="c251" d="M1292 1617l15 18 2-17-15-19z"/>
<path class="c243" d="M1307 1635l14 18 2-17-14-18z"/>
<path class="c239" d="M1321 1653l15 15 2-16-15-16z"/>
<path class="c235" d="M1336 1668l15 15 2-16-15-15z"/>
<path class="c231" d="M1351 1683l14 13 2-15-14-14z"/>
<path class="c227" d="M1365 1696l15 13 14 13 3-16-15-12-15-13z"/>
<path class="c223" d="M1394 1722l15 11 2-15-14-12z"/>
<path class="c219" d="M1409 1733l15 12 14 11 2-15-14-11-15-12z"/>
<path class="c215" d="M1438 1756l15 11 15 11 2-15-15-11-15-11z"/>
<path class="c211" d="M1468 1778l14 13 2-17-14-11z"/>
<path class="c191" d="M1482 1791l15 76 2 0-15-93z"/>
<path class="c163" d="M325 1341l15-3 2-15-15 4z"/>
<path class="c167" d="M340 1338l14 4 15 3 2-15-15-3-14-4z"/>
<path class="c171" d="M369 1345l15 4 14 3 2-16-14-3-15-3z"/>
<path class="c175" d="M398 1352l15 4 14 2 2-17-14-2-15-3z"/>
<path class="c179" d="M427 1358l15 2 15 2 2-19-15-1-15-1z"/>
<path class="c183" d="M457 1362l14 0 2-19-14 0z"/>
<path class="c187" d="M471 1362l15 0 2-20-15 1z"/>
<path class="c191" d="M486 1362l14-2 3-20-15 2z"/>
<path class="c195" d="M500 1360l15-3 2-20-14 3z"/>
<path class="c203" d="M515 1357l15-5 2-19-15 4z"/>
<path class="c207" d="M530 1352l14-6 2-19-14 6z"/>
<path class="c215" d="M544 1346l15-10 2-17-15 8z"/>
<path class="c223" d="M559 1336l15-10 2-17-15 10z"/>
<path class="c235" d="M574 1326l14-12 2-17-14 12z"/>
<path class="c243" d="M588 1314l15-14 2-18-15 15z"/>
<path class="c255" d="M603 1300l14-17 3-19-15 18z"/>
<path class="c267" d="M617 1283l15-19 2-19-14 19z"/>
<path class="c283" d="M632 1264l15-20 2-21-15 22z"/>
<path class="c299" d="M647 1244l14-22 2-21-14 22z"/>
<path class="c311" d="M661 1222l15-22 2-22-15 23z"/>
<path class="c327" d="M676 1200l15-21 2-24-15 23z"/>
<path class="c343" d="M691 1179l14-20 2-25-14 21z"/>
<path class="c355" d="M705 1159l15-19 2-25-15 19z"/>
<path class="c367" d="M720 1140l14-16 3-27-15 18z"/>
<path class="c379" d="M734 1124l15-15 2-27-14 15z"/>
<path class="c391" d="M749 1109l15-12 2-28-15 13z"/>
<path class="c399" d="M764 1097l14-10 2-29-14 11z"/>
<path class="c407" d="M778 1087l15-9 2-29-15 9z"/>
<path class="c415" d="M793 1078l14-7 3-29-15 7z"/>
<path class="c423" d="M807 1071l15-5 2-30-14 6z"/>
<path class="c427" d="M822 1066l15-4 2-30-15 4z"/>
<path class="c435" d="M837 1062l14-3 2-31-14 4z"/>
<path class="c439" d="M851 1059l15-3 2-30-15 2z"/>
<path class="c443" d="M866 1056l15-2 2-31-15 3z"/>
<path class="c447" d="M881 1054l14-1 2-31-14 1z"/>
<path class="c451" d="M895 1053l15-1 2-32-15 2z"/>
<path class="c455" d="M910 1052l14 8 15 9 2-31-14-9-15-9z"/>
<path class="c451" d="M939 1069l15 10 14 10 2-31-14-10-15-10z"/>
<path class="c447" d="M968 1089l15 12 15 12 2-31-15-12-15-12z"/>
<path class="c443" d="M998 1113l14 14 2-30-14-15z"/>
<path class="c439" d="M1012 1127l15 15 2-30-15-15z"/>
<path class="c435" d="M1027 1142l14 17 3-29-15-18z"/>
<path class="c427" d="M1041 1159l15 19 2-29-14-19z"/>
<path class="c423" d="M1056 1178l15 22 2-29-15-22z"/>
<path class="c415" d="M1071 1200l14 23 2-28-14-24z"/>
<path class="c403" d="M1085 1223l15 26 2-28-15-26z"/>
<path class="c395" d="M1100 1249l15 29 2-27-15-30z"/>
<path class="c383" d="M1115 1278l14 30 2-26-14-31z"/>
<path class="c367" d="M1129 1308l15 33 2-25-15-34z"/>
<path class="c355" d="M1144 1341l14 34 2-24-14-35z"/>
<path class="c339" d="M1158 1375l15 34 2-23-15-35z"/>
<path class="c327" d="M1173 1409l15 35 2-23-15-35z"/>
<path class="c311" d="M1188 1444l14 33 2-21-14-35z"/>
<path class="c299" d="M1202 1477l15 32 2-21-15-32z"/>
<path class="c287" d="M1217 1509l14 30 3-20-15-31z"/>
<path class="c275" d="M1231 1539l15 27 2-19-14-28z"/>
<path class="c263" d="M1246 1566l15 25 2-18-15-26z"/>
<path class="c255" d="M1261 1591l14 23 2-18-14-23z"/>
<path class="c247" d="M1275 1614l15 20 2-17-15-21z"/>
<path class="c243" d="M1290 1634l15 18 2-17-15-18z"/>
<path class="c235" d="M1305 1652l14 17 2-16-14-18z"/>
<path class="c231" d="M1319 1669l15 16 2-17-15-15z"/>
<path class="c227" d="M1334 1685l14 14 3-16-15-15z"/>
<path class="c223" d="M1348 1699l15 13 2-16-14-13z"/>
<path class="c219" d="M1363 1712l15 13 14 12 2-15-14-13-15-13z"/>
<path class="c215" d="M1392 1737l15 12 2-16-15-11z"/>
<path class="c211" d="M1407 1749l15 13 14 14 2-20-14-11-15-12z"/>
<path class="c207" d="M1436 1776l15 13 2-22-15-11z"/>
<path class="c203" d="M1451 1789l14 13 15 13 2-24-14-13-15-11z"/>
<path class="c187" d="M1480 1815l15 52 2 0-15-76z"/>
<path class="c155" d="M323 1356l15-3 2-15-15 3z"/>
<path class="c159" d="M338 1353l14 4 15 4 2-16-15-3-14-4z"/>
<path class="c163" d="M367 1361l14 3 15 4 2-16-14-3-15-4z"/>
<path class="c167" d="M396 1368l15 4 14 4 2-18-14-2-15-4z"/>
<path class="c171" d="M425 1376l15 2 14 3 3-19-15-2-15-2z"/>
<path class="c175" d="M454 1381l15 1 2-20-14 0z"/>
<path class="c179" d="M469 1382l15 0 2-20-15 0z"/>
<path class="c183" d="M484 1382l14 0 2-22-14 2z"/>
<path class="c187" d="M498 1382l15-2 2-23-15 3z"/>
<path class="c191" d="M513 1380l15-4 2-24-15 5z"/>
<path class="c199" d="M528 1376l14-6 2-24-14 6z"/>
<path class="c207" d="M542 1370l15-8 2-26-15 10z"/>
<path class="c215" d="M557 1362l14-10 3-26-15 10z"/>
<path class="c223" d="M571 1352l15-13 2-25-14 12z"/>
<path class="c235" d="M586 1339l15-15 2-24-15 14z"/>
<path class="c247" d="M601 1324l14-18 2-23-14 17z"/>
<path class="c259" d="M615 1306l15-20 2-22-15 19z"/>
<path class="c271" d="M630 1286l15-21 2-21-15 20z"/>
<path class="c287" d="M645 1265l14-21 2-22-14 22z"/>
<path class="c299" d="M659 1244l15-21 2-23-15 22z"/>
<path class="c315" d="M674 1223l14-20 3-24-15 21z"/>
<path class="c331" d="M688 1203l15-20 2-24-14 20z"/>
<path class="c343" d="M703 1183l15-17 2-26-15 19z"/>
<path class="c355" d="M718 1166l14-16 2-26-14 16z"/>
<path class="c367" d="M732 1150l15-14 2-27-15 15z"/>
<path class="c375" d="M747 1136l15-12 2-27-15 12z"/>
<path class="c387" d="M762 1124l14-9 2-28-14 10z"/>
<path class="c395" d="M776 1115l15-8 2-29-15 9z"/>
<path class="c403" d="M791 1107l14-6 2-30-14 7z"/>
<path class="c407" d="M805 1101l15-5 2-30-15 5z"/>
<path class="c415" d="M820 1096l15-4 2-30-15 4z"/>
<path class="c419" d="M835 1092l14-3 2-30-14 3z"/>
<path class="c423" d="M849 1089l15-2 2-31-15 3z"/>
<path class="c427" d="M864 1087l14-2 3-31-15 2z"/>
<path class="c431" d="M878 1085l15-1 2-31-14 1z"/>
<path class="c435" d="M893 1084l15-1 2-31-15 1z"/>
<path class="c439" d="M908 1083l14 9 15 8 2-31-15-9-14-8z"/>
<path class="c435" d="M937 1100l15 10 14 10 2-31-14-10-15-10z"/>
<path class="c431" d="M966 1120l15 12 14 12 3-31-15-12-15-12z"/>
<path class="c427" d="M995 1144l15 14 2-31-14-14z"/>
<path class="c423" d="M1010 1158l15 15 2-31-15-15z"/>
<path class="c419" d="M1025 1173l14 16 2-30-14-17z"/>
<path class="c415" d="M1039 1189l15 19 2-30-15-19z"/>
<path class="c407" d="M1054 1208l15 20 2-28-15-22z"/>
<path class="c399" d="M1069 1228l14 23 2-28-14-23z"/>
<path class="c391" d="M1083 1251l15 26 2-28-15-26z"/>
<path class="c379" d="M1098 1277l14 28 3-27-15-29z"/>
<path class="c367" d="M1112 1305l15 29 2-26-14-30z"/>
<path class="c355" d="M1127 1334l15 32 2-25-15-33z"/>
<path class="c343" d="M1142 1366l14 33 2-24-14-34z"/>
<path class="c327" d="M1156 1399l15 34 2-24-15-34z"/>
<path class="c315" d="M1171 1433l14 33 3-22-15-35z"/>
<path class="c299" d="M1185 1466l15 32 2-21-14-33z"/>
<path class="c287" d="M1200 1498l15 31 2-20-15-32z"/>
<path class="c275" d="M1215 1529l14 29 2-19-14-30z"/>
<path class="c267" d="M1229 1558l15 27 2-19-15-27z"/>
<path class="c255" d="M1244 1585l15 24 2-18-15-25z"/>
<path class="c247" d="M1259 1609l14 22 2-17-14-23z"/>
<path class="c239" d="M1273 1631l15 20 2-17-15-20z"/>
<path class="c235" d="M1288 1651l14 18 3-17-15-18z"/>
<path class="c227" d="M1302 1669l15 17 2-17-14-17z"/>
<path class="c223" d="M1317 1686l15 15 2-16-15-16z"/>
<path class="c219" d="M1332 1701l14 15 2-17-14-14z"/>
<path class="c215" d="M1346 1716l15 15 2-19-15-13z"/>
<path class="c211" d="M1361 1731l15 15 2-21-15-13z"/>
<path class="c207" d="M1376 1746l14 14 15 14 2-25-15-12-14-12z"/>
<path class="c203" d="M1405 1774l14 13 3-25-15-13z"/>
<path class="c199" d="M1419 1787l15 13 2-24-14-14z"/>
<path class="c195" d="M1434 1800l15 14 2-25-15-13z"/>
<path class="c191" d="M1449 1814l14 13 2-25-14-13z"/>
<path class="c187" d="M1463 1827l15 13 2-25-15-13z"/>
<path class="c179" d="M1478 1840l15 27 2 0-15-52z"/>
<path class="c147" d="M321 1372l14-2 3-17-15 3z"/>
<path class="c151" d="M335 1370l15 3 15 4 2-16-15-4-14-4z"/>
<path class="c155" d="M365 1377l14 3 15 5 2-17-15-4-14-3z"/>
<path class="c159" d="M394 1385l15 4 14 4 15 3 2-18-15-2-14-4-15-4z"/>
<path class="c163" d="M438 1396l14 3 15 2 2-19-15-1-14-3z"/>
<path class="c167" d="M467 1401l15 2 2-21-15 0z"/>
<path class="c171" d="M482 1403l14 0 2-21-14 0z"/>
<path class="c175" d="M496 1403l15-1 2-22-15 2z"/>
<path class="c179" d="M511 1402l14-3 3-23-15 4z"/>
<path class="c187" d="M525 1399l15-4 2-25-14 6z"/>
<path class="c191" d="M540 1395l15-7 2-26-15 8z"/>
<path class="c199" d="M555 1388l14-9 2-27-14 10z"/>
<path class="c211" d="M569 1379l15-12 2-28-15 13z"/>
<path class="c219" d="M584 1367l15-14 2-29-15 15z"/>
<path class="c231" d="M599 1353l14-16 2-31-14 18z"/>
<path class="c243" d="M613 1337l15-18 2-33-15 20z"/>
<path class="c259" d="M628 1319l14-20 3-34-15 21z"/>
<path class="c271" d="M642 1299l15-22 2-33-14 21z"/>
<path class="c287" d="M657 1277l15-22 2-32-15 21z"/>
<path class="c303" d="M672 1255l14-21 2-31-14 20z"/>
<path class="c315" d="M686 1234l15-21 2-30-15 20z"/>
<path class="c331" d="M701 1213l15-20 2-27-15 17z"/>
<path class="c343" d="M716 1193l14-17 2-26-14 16z"/>
<path class="c351" d="M730 1176l15-13 2-27-15 14z"/>
<path class="c363" d="M745 1163l14-11 3-28-15 12z"/>
<path class="c371" d="M759 1152l15-9 2-28-14 9z"/>
<path class="c379" d="M774 1143l15-7 2-29-15 8z"/>
<path class="c387" d="M789 1136l14-6 2-29-14 6z"/>
<path class="c391" d="M803 1130l15-5 2-29-15 5z"/>
<path class="c399" d="M818 1125l14-3 3-30-15 4z"/>
<path class="c403" d="M832 1122l15-3 2-30-14 3z"/>
<path class="c407" d="M847 1119l15-2 2-30-15 2z"/>
<path class="c411" d="M862 1117l14-1 2-31-14 2z"/>
<path class="c419" d="M876 1116l15-1 2-31-15 1z"/>
<path class="c423" d="M891 1115l15 0 14 8 15 9 2-32-15-8-14-9-15 1z"/>
<path class="c419" d="M935 1132l14 9 15 10 15 11 2-30-15-12-14-10-15-10z"/>
<path class="c415" d="M979 1162l14 13 2-31-14-12z"/>
<path class="c411" d="M993 1175l15 13 2-30-15-14z"/>
<path class="c407" d="M1008 1188l15 15 2-30-15-15z"/>
<path class="c403" d="M1023 1203l14 16 2-30-14-16z"/>
<path class="c399" d="M1037 1219l15 18 2-29-15-19z"/>
<path class="c391" d="M1052 1237l14 20 3-29-15-20z"/>
<path class="c383" d="M1066 1257l15 23 2-29-14-23z"/>
<path class="c375" d="M1081 1280l15 25 2-28-15-26z"/>
<path class="c367" d="M1096 1305l14 26 2-26-14-28z"/>
<path class="c355" d="M1110 1331l15 30 2-27-15-29z"/>
<path class="c343" d="M1125 1361l15 30 2-25-15-32z"/>
<path class="c331" d="M1140 1391l14 32 2-24-14-33z"/>
<path class="c315" d="M1154 1423l15 33 2-23-15-34z"/>
<path class="c303" d="M1169 1456l14 32 2-22-14-33z"/>
<path class="c291" d="M1183 1488l15 32 2-22-15-32z"/>
<path class="c279" d="M1198 1520l15 30 2-21-15-31z"/>
<path class="c267" d="M1213 1550l14 28 2-20-14-29z"/>
<path class="c255" d="M1227 1578l15 26 2-19-15-27z"/>
<path class="c247" d="M1242 1604l14 24 3-19-15-24z"/>
<path class="c239" d="M1256 1628l15 22 2-19-14-22z"/>
<path class="c231" d="M1271 1650l15 21 2-20-15-20z"/>
<path class="c223" d="M1286 1671l14 20 2-22-14-18z"/>
<path class="c219" d="M1300 1691l15 18 2-23-15-17z"/>
<path class="c211" d="M1315 1709l15 17 2-25-15-15z"/>
<path class="c207" d="M1330 1726l14 16 2-26-14-15z"/>
<path class="c203" d="M1344 1742l15 15 2-26-15-15z"/>
<path class="c199" d="M1359 1757l14 14 3-25-15-15z"/>
<path class="c195" d="M1373 1771l15 14 2-25-14-14z"/>
<path class="c191" d="M1388 1785l15 14 14 13 2-25-14-13-15-14z"/>
<path class="c187" d="M1417 1812l15 13 2-25-15-13z"/>
<path class="c183" d="M1432 1825l15 13 2-24-15-14z"/>
<path class="c179" d="M1447 1838l14 13 2-24-14-13z"/>
<path class="c175" d="M1461 1851l15 13 2-24-15-13z"/>
<path class="c171" d="M1476 1864l14 4 3-1-15-27z"/>
<path class="c139" d="M319 1389l14-2 2-17-14 2z"/>
<path class="c143" d="M333 1387l15 3 15 4 2-17-15-4-15-3z"/>
<path class="c147" d="M363 1394l14 3 15 5 14 5 3-18-15-4-15-5-14-3z"/>
<path class="c151" d="M406 1407l15 4 15 4 2-19-15-3-14-4z"/>
<path class="c155" d="M436 1415l14 4 15 2 2-20-15-2-14-3z"/>
<path class="c159" d="M465 1421l15 2 14 1 2-21-14 0-15-2z"/>
<path class="c163" d="M494 1424l15 0 2-22-15 1z"/>
<path class="c167" d="M509 1424l14-1 2-24-14 3z"/>
<path class="c175" d="M523 1423l15-4 2-24-15 4z"/>
<path class="c179" d="M538 1419l15-5 2-26-15 7z"/>
<path class="c187" d="M553 1414l14-8 2-27-14 9z"/>
<path class="c195" d="M567 1406l15-10 2-29-15 12z"/>
<path class="c207" d="M582 1396l14-13 3-30-15 14z"/>
<path class="c215" d="M596 1383l15-15 2-31-14 16z"/>
<path class="c227" d="M611 1368l15-17 2-32-15 18z"/>
<path class="c243" d="M626 1351l14-19 2-33-14 20z"/>
<path class="c255" d="M640 1332l15-19 2-36-15 22z"/>
<path class="c271" d="M655 1313l15-20 2-38-15 22z"/>
<path class="c283" d="M670 1293l14-20 2-39-14 21z"/>
<path class="c299" d="M684 1273l15-20 2-40-15 21z"/>
<path class="c311" d="M699 1253l14-18 3-42-15 20z"/>
<path class="c323" d="M713 1235l15-16 2-43-14 17z"/>
<path class="c335" d="M728 1219l15-15 2-41-15 13z"/>
<path class="c347" d="M743 1204l14-13 2-39-14 11z"/>
<path class="c355" d="M757 1191l15-12 2-36-15 9z"/>
<path class="c363" d="M772 1179l15-10 2-33-15 7z"/>
<path class="c371" d="M787 1169l14-9 2-30-14 6z"/>
<path class="c379" d="M801 1160l15-5 2-30-15 5z"/>
<path class="c383" d="M816 1155l14-3 2-30-14 3z"/>
<path class="c387" d="M830 1152l15-2 2-31-15 3z"/>
<path class="c395" d="M845 1150l15-2 2-31-15 2z"/>
<path class="c399" d="M860 1148l14-1 2-31-14 1z"/>
<path class="c403" d="M874 1147l15-1 2-31-15 1z"/>
<path class="c407" d="M889 1146l14 0 15 8 15 9 14 9 2-31-14-9-15-9-14-8-15 0z"/>
<path class="c403" d="M947 1172l15 10 15 11 2-31-15-11-15-10z"/>
<path class="c399" d="M977 1193l14 12 2-30-14-13z"/>
<path class="c395" d="M991 1205l15 13 2-30-15-13z"/>
<path class="c391" d="M1006 1218l14 15 3-30-15-15z"/>
<path class="c387" d="M1020 1233l15 16 2-30-14-16z"/>
<path class="c383" d="M1035 1249l15 18 2-30-15-18z"/>
<path class="c379" d="M1050 1267l14 19 2-29-14-20z"/>
<path class="c371" d="M1064 1286l15 22 2-28-15-23z"/>
<path class="c363" d="M1079 1308l15 24 2-27-15-25z"/>
<path class="c351" d="M1094 1332l14 26 2-27-14-26z"/>
<path class="c343" d="M1108 1358l15 29 2-26-15-30z"/>
<path class="c331" d="M1123 1387l14 30 3-26-15-30z"/>
<path class="c319" d="M1137 1417l15 31 2-25-14-32z"/>
<path class="c303" d="M1152 1448l15 31 2-23-15-33z"/>
<path class="c291" d="M1167 1479l14 33 2-24-14-32z"/>
<path class="c279" d="M1181 1512l15 33 2-25-15-32z"/>
<path class="c267" d="M1196 1545l14 31 3-26-15-30z"/>
<path class="c255" d="M1210 1576l15 29 2-27-14-28z"/>
<path class="c243" d="M1225 1605l15 27 2-28-15-26z"/>
<path class="c235" d="M1240 1632l14 24 2-28-14-24z"/>
<path class="c227" d="M1254 1656l15 23 2-29-15-22z"/>
<path class="c219" d="M1269 1679l15 21 2-29-15-21z"/>
<path class="c211" d="M1284 1700l14 19 2-28-14-20z"/>
<path class="c207" d="M1298 1719l15 18 2-28-15-18z"/>
<path class="c199" d="M1313 1737l14 16 3-27-15-17z"/>
<path class="c195" d="M1327 1753l15 15 2-26-14-16z"/>
<path class="c191" d="M1342 1768l15 15 2-26-15-15z"/>
<path class="c187" d="M1357 1783l14 14 2-26-14-14z"/>
<path class="c183" d="M1371 1797l15 14 2-26-15-14z"/>
<path class="c179" d="M1386 1811l15 13 2-25-15-14z"/>
<path class="c175" d="M1401 1824l14 13 15 13 2-25-15-13-14-13z"/>
<path class="c171" d="M1430 1850l14 13 3-25-15-13z"/>
<path class="c167" d="M1444 1863l15 12 2-24-14-13z"/>
<path class="c163" d="M1459 1875l15 13 2-24-15-13z"/>
<path class="c167" d="M1474 1888l14-19 2-1-14-4z"/>
<path class="c131" d="M317 1405l14-2 2-16-14 2z"/>
<path class="c135" d="M331 1403l15 4 14 4 3-17-15-4-15-3z"/>
<path class="c139" d="M360 1411l15 4 15 5 14 5 15 5 2-19-15-4-14-5-15-5-14-3z"/>
<path class="c143" d="M419 1430l15 5 14 4 2-20-14-4-15-4z"/>
<path class="c147" d="M448 1439l15 3 14 2 3-21-15-2-15-2z"/>
<path class="c151" d="M477 1444l15 2 2-22-14-1z"/>
<path class="c155" d="M492 1446l15 1 2-23-15 0z"/>
<path class="c159" d="M507 1447l14-1 2-23-14 1z"/>
<path class="c163" d="M521 1446l15-2 2-25-15 4z"/>
<path class="c167" d="M536 1444l14-3 3-27-15 5z"/>
<path class="c175" d="M550 1441l15-8 2-27-14 8z"/>
<path class="c183" d="M565 1433l15-9 2-28-15 10z"/>
<path class="c191" d="M580 1424l14-12 2-29-14 13z"/>
<path class="c203" d="M594 1412l15-13 2-31-15 15z"/>
<path class="c211" d="M609 1399l15-16 2-32-15 17z"/>
<path class="c223" d="M624 1383l14-17 2-34-14 19z"/>
<path class="c239" d="M638 1366l15-18 2-35-15 19z"/>
<path class="c251" d="M653 1348l14-18 3-37-15 20z"/>
<path class="c263" d="M667 1330l15-18 2-39-14 20z"/>
<path class="c279" d="M682 1312l15-18 2-41-15 20z"/>
<path class="c291" d="M697 1294l14-17 2-42-14 18z"/>
<path class="c303" d="M711 1277l15-15 2-43-15 16z"/>
<path class="c315" d="M726 1262l15-14 2-44-15 15z"/>
<path class="c323" d="M741 1248l14-12 2-45-14 13z"/>
<path class="c335" d="M755 1236l15-10 2-47-15 12z"/>
<path class="c343" d="M770 1226l14-10 3-47-15 10z"/>
<path class="c351" d="M784 1216l15-8 2-48-14 9z"/>
<path class="c359" d="M799 1208l15-6 2-47-15 5z"/>
<path class="c363" d="M814 1202l14-6 2-44-14 3z"/>
<path class="c371" d="M828 1196l15-6 2-40-15 2z"/>
<path class="c375" d="M843 1190l15-5 2-37-15 2z"/>
<path class="c379" d="M858 1185l14-4 2-34-14 1z"/>
<path class="c387" d="M872 1181l15-4 2-31-15 1z"/>
<path class="c391" d="M887 1177l14 0 15 9 15 8 14 10 2-32-14-9-15-9-15-8-14 0z"/>
<path class="c387" d="M945 1204l15 10 14 10 3-31-15-11-15-10z"/>
<path class="c383" d="M974 1224l15 12 2-31-14-12z"/>
<path class="c379" d="M989 1236l15 13 14 15 2-31-14-15-15-13z"/>
<path class="c375" d="M1018 1264l15 17 2-32-15-16z"/>
<path class="c367" d="M1033 1281l15 18 2-32-15-18z"/>
<path class="c363" d="M1048 1299l14 21 2-34-14-19z"/>
<path class="c355" d="M1062 1320l15 22 2-34-15-22z"/>
<path class="c347" d="M1077 1342l14 25 3-35-15-24z"/>
<path class="c335" d="M1091 1367l15 27 2-36-14-26z"/>
<path class="c327" d="M1106 1394l15 29 2-36-15-29z"/>
<path class="c315" d="M1121 1423l14 31 2-37-14-30z"/>
<path class="c303" d="M1135 1454l15 31 2-37-15-31z"/>
<path class="c291" d="M1150 1485l15 32 2-38-15-31z"/>
<path class="c275" d="M1165 1517l14 32 2-37-14-33z"/>
<path class="c263" d="M1179 1549l15 31 2-35-15-33z"/>
<path class="c251" d="M1194 1580l14 29 2-33-14-31z"/>
<path class="c239" d="M1208 1609l15 28 2-32-15-29z"/>
<path class="c227" d="M1223 1637l15 26 2-31-15-27z"/>
<path class="c219" d="M1238 1663l14 24 2-31-14-24z"/>
<path class="c211" d="M1252 1687l15 21 2-29-15-23z"/>
<path class="c203" d="M1267 1708l14 20 3-28-15-21z"/>
<path class="c199" d="M1281 1728l15 19 2-28-14-19z"/>
<path class="c191" d="M1296 1747l15 17 2-27-15-18z"/>
<path class="c187" d="M1311 1764l14 16 2-27-14-16z"/>
<path class="c183" d="M1325 1780l15 15 2-27-15-15z"/>
<path class="c179" d="M1340 1795l15 14 2-26-15-15z"/>
<path class="c175" d="M1355 1809l14 14 2-26-14-14z"/>
<path class="c171" d="M1369 1823l15 13 2-25-15-14z"/>
<path class="c167" d="M1384 1836l14 13 3-25-15-13z"/>
<path class="c163" d="M1398 1849l15 13 15 13 2-25-15-13-14-13z"/>
<path class="c159" d="M1428 1875l14 12 2-24-14-13z"/>
<path class="c155" d="M1442 1887l15 13 2-25-15-12z"/>
<path class="c151" d="M1457 1900l15 12 2-24-15-13z"/>
<path class="c159" d="M1472 1912l14-43 2 0-14 19z"/>
<path class="c123" d="M314 1421l15-1 2-17-14 2z"/>
<path class="c127" d="M329 1420l15 4 14 4 15 4 2-17-15-4-14-4-15-4z"/>
<path class="c131" d="M373 1432l15 6 14 5 15 6 14 5 3-19-15-5-15-5-14-5-15-5z"/>
<path class="c135" d="M431 1454l15 4 15 4 2-20-15-3-14-4z"/>
<path class="c139" d="M461 1462l14 4 15 2 2-22-15-2-14-2z"/>
<path class="c143" d="M490 1468l15 2 2-23-15-1z"/>
<path class="c147" d="M505 1470l14 0 2-24-14 1z"/>
<path class="c151" d="M519 1470l15-1 2-25-15 2z"/>
<path class="c155" d="M534 1469l14-3 2-25-14 3z"/>
<path class="c159" d="M548 1466l15-6 2-27-15 8z"/>
<path class="c167" d="M563 1460l15-8 2-28-15 9z"/>
<path class="c175" d="M578 1452l14-11 2-29-14 12z"/>
<path class="c187" d="M592 1441l15-12 2-30-15 13z"/>
<path class="c195" d="M607 1429l14-14 3-32-15 16z"/>
<path class="c207" d="M621 1415l15-15 2-34-14 17z"/>
<path class="c219" d="M636 1400l15-16 2-36-15 18z"/>
<path class="c231" d="M651 1384l14-17 2-37-14 18z"/>
<path class="c247" d="M665 1367l15-17 2-38-15 18z"/>
<path class="c259" d="M680 1350l15-16 2-40-15 18z"/>
<path class="c271" d="M695 1334l14-15 2-42-14 17z"/>
<path class="c283" d="M709 1319l15-14 2-43-15 15z"/>
<path class="c291" d="M724 1305l14-12 3-45-15 14z"/>
<path class="c303" d="M738 1293l15-11 2-46-14 12z"/>
<path class="c311" d="M753 1282l15-10 2-46-15 10z"/>
<path class="c319" d="M768 1272l14-8 2-48-14 10z"/>
<path class="c327" d="M782 1264l15-7 2-49-15 8z"/>
<path class="c335" d="M797 1257l15-7 2-48-15 6z"/>
<path class="c339" d="M812 1250l14-5 2-49-14 6z"/>
<path class="c347" d="M826 1245l15-5 2-50-15 6z"/>
<path class="c355" d="M841 1240l14-4 3-51-15 5z"/>
<path class="c359" d="M855 1236l15-4 2-51-14 4z"/>
<path class="c363" d="M870 1232l15-3 2-52-15 4z"/>
<path class="c371" d="M885 1229l14-4 15 8 14 9 15 10 2-48-14-10-15-8-15-9-14 0z"/>
<path class="c367" d="M943 1252l15 10 14 11 2-49-14-10-15-10z"/>
<path class="c363" d="M972 1273l15 12 2-49-15-12z"/>
<path class="c359" d="M987 1285l15 14 14 15 2-50-14-15-15-13z"/>
<path class="c351" d="M1016 1314l15 16 2-49-15-17z"/>
<path class="c347" d="M1031 1330l14 18 3-49-15-18z"/>
<path class="c339" d="M1045 1348l15 20 2-48-14-21z"/>
<path class="c335" d="M1060 1368l15 21 2-47-15-22z"/>
<path class="c327" d="M1075 1389l14 24 2-46-14-25z"/>
<path class="c315" d="M1089 1413l15 26 2-45-15-27z"/>
<path class="c307" d="M1104 1439l15 27 2-43-15-29z"/>
<path class="c295" d="M1119 1466l14 29 2-41-14-31z"/>
<path class="c283" d="M1133 1495l15 30 2-40-15-31z"/>
<path class="c271" d="M1148 1525l14 31 3-39-15-32z"/>
<path class="c259" d="M1162 1556l15 30 2-37-14-32z"/>
<path class="c247" d="M1177 1586l15 29 2-35-15-31z"/>
<path class="c235" d="M1192 1615l14 28 2-34-14-29z"/>
<path class="c223" d="M1206 1643l15 27 2-33-15-28z"/>
<path class="c211" d="M1221 1670l15 24 2-31-15-26z"/>
<path class="c203" d="M1236 1694l14 23 2-30-14-24z"/>
<path class="c195" d="M1250 1717l15 21 2-30-15-21z"/>
<path class="c191" d="M1265 1738l14 19 2-29-14-20z"/>
<path class="c183" d="M1279 1757l15 18 2-28-15-19z"/>
<path class="c179" d="M1294 1775l15 16 2-27-15-17z"/>
<path class="c171" d="M1309 1791l14 16 2-27-14-16z"/>
<path class="c167" d="M1323 1807l15 14 2-26-15-15z"/>
<path class="c163" d="M1338 1821l14 14 15 14 2-26-14-14-15-14z"/>
<path class="c159" d="M1367 1849l15 13 2-26-15-13z"/>
<path class="c155" d="M1382 1862l14 13 2-26-14-13z"/>
<path class="c151" d="M1396 1875l15 12 2-25-15-13z"/>
<path class="c147" d="M1411 1887l15 13 14 12 2-25-14-12-15-13z"/>
<path class="c143" d="M1440 1912l15 12 2-24-15-13z"/>
<path class="c139" d="M1455 1924l14 13 3-25-15-12z"/>
<path class="c154" d="M1469 1937l15-67 2-1-14 43z"/>
<path class="c115" d="M312 1437l15 0 2-17-15 1z"/>
<path class="c119" d="M327 1437l15 4 14 4 15 4 2-17-15-4-14-4-15-4z"/>
<path class="c123" d="M371 1449l14 6 15 6 15 5 14 6 15 5 2-19-15-4-14-5-15-6-14-5-15-6z"/>
<path class="c127" d="M444 1477l15 4 14 4 2-19-14-4-15-4z"/>
<path class="c131" d="M473 1485l15 4 14 2 3-21-15-2-15-2z"/>
<path class="c135" d="M502 1491l15 2 2-23-14 0z"/>
<path class="c139" d="M517 1493l15 1 2-25-15 1z"/>
<path class="c143" d="M532 1494l14-1 2-27-14 3z"/>
<path class="c147" d="M546 1493l15-6 2-27-15 6z"/>
<path class="c155" d="M561 1487l14-7 3-28-15 8z"/>
<path class="c163" d="M575 1480l15-9 2-30-14 11z"/>
<path class="c171" d="M590 1471l15-11 2-31-15 12z"/>
<path class="c179" d="M605 1460l14-12 2-33-14 14z"/>
<path class="c191" d="M619 1448l15-14 2-34-15 15z"/>
<path class="c203" d="M634 1434l15-15 2-35-15 16z"/>
<path class="c215" d="M649 1419l14-15 2-37-14 17z"/>
<path class="c227" d="M663 1404l15-15 2-39-15 17z"/>
<path class="c239" d="M678 1389l14-14 3-41-15 16z"/>
<path class="c247" d="M692 1375l15-14 2-42-14 15z"/>
<path class="c259" d="M707 1361l15-12 2-44-15 14z"/>
<path class="c271" d="M722 1349l14-12 2-44-14 12z"/>
<path class="c279" d="M736 1337l15-9 2-46-15 11z"/>
<path class="c287" d="M751 1328l15-9 2-47-15 10z"/>
<path class="c295" d="M766 1319l14-8 2-47-14 8z"/>
<path class="c303" d="M780 1311l15-6 2-48-15 7z"/>
<path class="c311" d="M795 1305l14-6 3-49-15 7z"/>
<path class="c315" d="M809 1299l15-4 2-50-14 5z"/>
<path class="c323" d="M824 1295l15-5 2-50-15 5z"/>
<path class="c327" d="M839 1290l14-3 2-51-14 4z"/>
<path class="c335" d="M853 1287l15-4 2-51-15 4z"/>
<path class="c339" d="M868 1283l15-3 2-51-15 3z"/>
<path class="c343" d="M883 1280l14-3 2-52-14 4z"/>
<path class="c347" d="M897 1277l15 8 14 9 2-52-14-9-15-8z"/>
<path class="c343" d="M926 1294l15 9 15 10 2-51-15-10-15-10z"/>
<path class="c339" d="M956 1313l14 11 15 12 2-51-15-12-14-11z"/>
<path class="c335" d="M985 1336l14 13 3-50-15-14z"/>
<path class="c331" d="M999 1349l15 15 2-50-14-15z"/>
<path class="c327" d="M1014 1364l15 15 2-49-15-16z"/>
<path class="c323" d="M1029 1379l14 17 2-48-14-18z"/>
<path class="c315" d="M1043 1396l15 19 2-47-15-20z"/>
<path class="c311" d="M1058 1415l15 21 2-47-15-21z"/>
<path class="c303" d="M1073 1436l14 23 2-46-14-24z"/>
<path class="c291" d="M1087 1459l15 24 2-44-15-26z"/>
<path class="c283" d="M1102 1483l14 26 3-43-15-27z"/>
<path class="c271" d="M1116 1509l15 28 2-42-14-29z"/>
<path class="c263" d="M1131 1537l15 28 2-40-15-30z"/>
<path class="c251" d="M1146 1565l14 29 2-38-14-31z"/>
<path class="c239" d="M1160 1594l15 29 2-37-15-30z"/>
<path class="c227" d="M1175 1623l15 27 2-35-15-29z"/>
<path class="c215" d="M1190 1650l14 27 2-34-14-28z"/>
<path class="c207" d="M1204 1677l15 25 2-32-15-27z"/>
<path class="c195" d="M1219 1702l14 24 3-32-15-24z"/>
<path class="c187" d="M1233 1726l15 21 2-30-14-23z"/>
<path class="c183" d="M1248 1747l15 20 2-29-15-21z"/>
<path class="c175" d="M1263 1767l14 19 2-29-14-19z"/>
<path class="c167" d="M1277 1786l15 17 2-28-15-18z"/>
<path class="c163" d="M1292 1803l14 16 3-28-15-16z"/>
<path class="c159" d="M1306 1819l15 15 2-27-14-16z"/>
<path class="c155" d="M1321 1834l15 14 2-27-15-14z"/>
<path class="c151" d="M1336 1848l14 13 2-26-14-14z"/>
<path class="c147" d="M1350 1861l15 14 2-26-15-14z"/>
<path class="c143" d="M1365 1875l15 12 14 13 2-25-14-13-15-13z"/>
<path class="c139" d="M1394 1900l15 12 2-25-15-12z"/>
<path class="c135" d="M1409 1912l14 12 15 11 2-23-14-12-15-13z"/>
<path class="c131" d="M1438 1935l15 11 2-22-15-12z"/>
<path class="c127" d="M1453 1946l14 11 2-20-14-13z"/>
<path class="c148" d="M1467 1957l15-87 2 0-15 67z"/>
<path class="c107" d="M310 1454l15 0 14 4 3-17-15-4-15 0z"/>
<path class="c111" d="M339 1458l15 4 15 4 14 6 2-17-14-6-15-4-14-4z"/>
<path class="c115" d="M383 1472l15 6 15 6 14 6 15 5 14 5 3-19-15-4-15-5-14-6-15-5-15-6z"/>
<path class="c119" d="M456 1500l15 4 15 4 2-19-15-4-14-4z"/>
<path class="c123" d="M486 1508l14 3 15 2 2-20-15-2-14-2z"/>
<path class="c127" d="M515 1513l15 2 2-21-15-1z"/>
<path class="c131" d="M530 1515l14 0 2-22-14 1z"/>
<path class="c135" d="M544 1515l15-4 2-24-15 6z"/>
<path class="c143" d="M559 1511l14-6 2-25-14 7z"/>
<path class="c147" d="M573 1505l15-7 2-27-15 9z"/>
<path class="c155" d="M588 1498l15-9 2-29-15 11z"/>
<path class="c167" d="M603 1489l14-10 2-31-14 12z"/>
<path class="c175" d="M617 1479l15-11 2-34-15 14z"/>
<path class="c187" d="M632 1468l14-13 3-36-15 15z"/>
<path class="c195" d="M646 1455l15-13 2-38-14 15z"/>
<path class="c207" d="M661 1442l15-14 2-39-15 15z"/>
<path class="c219" d="M676 1428l14-13 2-40-14 14z"/>
<path class="c227" d="M690 1415l15-12 2-42-15 14z"/>
<path class="c239" d="M705 1403l15-11 2-43-15 12z"/>
<path class="c247" d="M720 1392l14-10 2-45-14 12z"/>
<path class="c255" d="M734 1382l15-9 2-45-15 9z"/>
<path class="c263" d="M749 1373l14-7 3-47-15 9z"/>
<path class="c271" d="M763 1366l15-7 2-48-14 8z"/>
<path class="c279" d="M778 1359l15-6 2-48-15 6z"/>
<path class="c283" d="M793 1353l14-5 2-49-14 6z"/>
<path class="c291" d="M807 1348l15-4 2-49-15 4z"/>
<path class="c295" d="M822 1344l15-4 2-50-15 5z"/>
<path class="c303" d="M837 1340l14-3 2-50-14 3z"/>
<path class="c307" d="M851 1337l15-3 2-51-15 4z"/>
<path class="c311" d="M866 1334l14-2 3-52-15 3z"/>
<path class="c319" d="M880 1332l15-3 15 8 14 9 15 9 2-52-15-9-14-9-15-8-14 3z"/>
<path class="c315" d="M939 1355l14 10 15 10 2-51-14-11-15-10z"/>
<path class="c311" d="M968 1375l15 12 14 13 2-51-14-13-15-12z"/>
<path class="c307" d="M997 1400l15 13 2-49-15-15z"/>
<path class="c303" d="M1012 1413l15 16 2-50-15-15z"/>
<path class="c299" d="M1027 1429l14 16 2-49-14-17z"/>
<path class="c291" d="M1041 1445l15 18 2-48-15-19z"/>
<path class="c287" d="M1056 1463l14 20 3-47-15-21z"/>
<path class="c279" d="M1070 1483l15 22 2-46-14-23z"/>
<path class="c271" d="M1085 1505l15 23 2-45-15-24z"/>
<path class="c259" d="M1100 1528l14 24 2-43-14-26z"/>
<path class="c251" d="M1114 1552l15 26 2-41-15-28z"/>
<path class="c239" d="M1129 1578l15 27 2-40-15-28z"/>
<path class="c231" d="M1144 1605l14 27 2-38-14-29z"/>
<path class="c219" d="M1158 1632l15 27 2-36-15-29z"/>
<path class="c207" d="M1173 1659l14 27 3-36-15-27z"/>
<path class="c199" d="M1187 1686l15 25 2-34-14-27z"/>
<path class="c191" d="M1202 1711l15 24 2-33-15-25z"/>
<path class="c179" d="M1217 1735l14 22 2-31-14-24z"/>
<path class="c175" d="M1231 1757l15 20 2-30-15-21z"/>
<path class="c167" d="M1246 1777l15 19 2-29-15-20z"/>
<path class="c159" d="M1261 1796l14 18 2-28-14-19z"/>
<path class="c155" d="M1275 1814l15 17 2-28-15-17z"/>
<path class="c151" d="M1290 1831l14 15 2-27-14-16z"/>
<path class="c147" d="M1304 1846l15 14 2-26-15-15z"/>
<path class="c143" d="M1319 1860l15 14 2-26-15-14z"/>
<path class="c139" d="M1334 1874l14 13 2-26-14-13z"/>
<path class="c135" d="M1348 1887l15 12 2-24-15-14z"/>
<path class="c131" d="M1363 1899l14 11 15 12 2-22-14-13-15-12z"/>
<path class="c127" d="M1392 1922l15 11 2-21-15-12z"/>
<path class="c123" d="M1407 1933l14 12 15 11 2-21-15-11-14-12z"/>
<path class="c119" d="M1436 1956l15 11 14 11 2-21-14-11-15-11z"/>
<path class="c141" d="M1465 1978l15-104 2-4-15 87z"/>
<path class="c99" d="M308 1470l15 1 14 4 2-17-14-4-15 0z"/>
<path class="c103" d="M337 1475l15 4 15 4 14 7 15 6 2-18-15-6-14-6-15-4-15-4z"/>
<path class="c107" d="M396 1496l14 6 15 6 15 5 14 6 15 4 2-19-15-4-14-5-15-5-14-6-15-6z"/>
<path class="c111" d="M469 1523l15 5 14 3 2-20-14-3-15-4z"/>
<path class="c115" d="M498 1531l15 3 14 2 3-21-15-2-15-2z"/>
<path class="c119" d="M527 1536l15 0 2-21-14 0z"/>
<path class="c123" d="M542 1536l15-3 2-22-15 4z"/>
<path class="c131" d="M557 1533l14-4 2-24-14 6z"/>
<path class="c135" d="M571 1529l15-7 2-24-15 7z"/>
<path class="c143" d="M586 1522l15-7 2-26-15 9z"/>
<path class="c151" d="M601 1515l14-9 2-27-14 10z"/>
<path class="c159" d="M615 1506l15-10 2-28-15 11z"/>
<path class="c171" d="M630 1496l14-11 2-30-14 13z"/>
<path class="c179" d="M644 1485l15-11 2-32-15 13z"/>
<path class="c187" d="M659 1474l15-11 2-35-15 14z"/>
<path class="c199" d="M674 1463l14-10 2-38-14 13z"/>
<path class="c207" d="M688 1453l15-10 2-40-15 12z"/>
<path class="c215" d="M703 1443l14-9 3-42-15 11z"/>
<path class="c227" d="M717 1434l15-8 2-44-14 10z"/>
<path class="c235" d="M732 1426l15-7 2-46-15 9z"/>
<path class="c239" d="M747 1419l14-7 2-46-14 7z"/>
<path class="c247" d="M761 1412l15-6 2-47-15 7z"/>
<path class="c255" d="M776 1406l15-5 2-48-15 6z"/>
<path class="c259" d="M791 1401l14-4 2-49-14 5z"/>
<path class="c267" d="M805 1397l15-3 2-50-15 4z"/>
<path class="c271" d="M820 1394l14-3 3-51-15 4z"/>
<path class="c275" d="M834 1391l15-3 2-51-14 3z"/>
<path class="c283" d="M849 1388l15-3 2-51-15 3z"/>
<path class="c287" d="M864 1385l14-2 2-51-14 2z"/>
<path class="c291" d="M878 1383l15-2 2-52-15 3z"/>
<path class="c295" d="M893 1381l15 8 2-52-15-8z"/>
<path class="c291" d="M908 1389l14 8 15 9 14 10 2-51-14-10-15-9-14-9z"/>
<path class="c287" d="M951 1416l15 11 15 11 2-51-15-12-15-10z"/>
<path class="c283" d="M981 1438l14 12 2-50-14-13z"/>
<path class="c279" d="M995 1450l15 13 14 15 3-49-15-16-15-13z"/>
<path class="c271" d="M1024 1478l15 16 2-49-14-16z"/>
<path class="c267" d="M1039 1494l15 17 2-48-15-18z"/>
<path class="c263" d="M1054 1511l14 19 2-47-14-20z"/>
<path class="c255" d="M1068 1530l15 20 2-45-15-22z"/>
<path class="c247" d="M1083 1550l15 22 2-44-15-23z"/>
<path class="c239" d="M1098 1572l14 24 2-44-14-24z"/>
<path class="c231" d="M1112 1596l15 24 2-42-15-26z"/>
<path class="c219" d="M1127 1620l14 25 3-40-15-27z"/>
<path class="c211" d="M1141 1645l15 26 2-39-14-27z"/>
<path class="c199" d="M1156 1671l15 25 2-37-15-27z"/>
<path class="c191" d="M1171 1696l14 25 2-35-14-27z"/>
<path class="c183" d="M1185 1721l15 24 2-34-15-25z"/>
<path class="c171" d="M1200 1745l15 22 2-32-15-24z"/>
<path class="c163" d="M1215 1767l14 21 2-31-14-22z"/>
<path class="c159" d="M1229 1788l15 19 2-30-15-20z"/>
<path class="c151" d="M1244 1807l14 18 3-29-15-19z"/>
<path class="c147" d="M1258 1825l15 16 2-27-14-18z"/>
<path class="c143" d="M1273 1841l15 15 2-25-15-17z"/>
<path class="c135" d="M1288 1856l14 14 2-24-14-15z"/>
<path class="c131" d="M1302 1870l15 13 15 13 2-22-15-14-15-14z"/>
<path class="c127" d="M1332 1896l14 12 2-21-14-13z"/>
<path class="c123" d="M1346 1908l15 12 14 12 2-22-14-11-15-12z"/>
<path class="c119" d="M1375 1932l15 11 2-21-15-12z"/>
<path class="c115" d="M1390 1943l15 11 14 11 2-20-14-12-15-11z"/>
<path class="c111" d="M1419 1965l15 11 14 11 3-20-15-11-15-11z"/>
<path class="c107" d="M1448 1987l15 11 2-20-14-11z"/>
<path class="c132" d="M1463 1998l15-111 2-13-15 104z"/>
<path class="c91" d="M306 1486l15 1 14 5 2-17-14-4-15-1z"/>
<path class="c95" d="M335 1492l15 4 14 4 15 7 15 7 14 6 15 6 2-18-15-6-14-6-15-6-14-7-15-4-15-4z"/>
<path class="c99" d="M423 1526l15 6 14 5 15 5 14 5 3-19-15-5-15-4-14-6-15-5z"/>
<path class="c103" d="M481 1547l15 4 15 3 2-20-15-3-14-3z"/>
<path class="c107" d="M511 1554l14 3 15 1 2-22-15 0-14-2z"/>
<path class="c111" d="M540 1558l15-2 2-23-15 3z"/>
<path class="c119" d="M555 1556l14-4 2-23-14 4z"/>
<path class="c123" d="M569 1552l15-5 2-25-15 7z"/>
<path class="c131" d="M584 1547l14-6 3-26-15 7z"/>
<path class="c139" d="M598 1541l15-8 2-27-14 9z"/>
<path class="c147" d="M613 1533l15-9 2-28-15 10z"/>
<path class="c155" d="M628 1524l14-9 2-30-14 11z"/>
<path class="c163" d="M642 1515l15-10 2-31-15 11z"/>
<path class="c171" d="M657 1505l14-9 3-33-15 11z"/>
<path class="c179" d="M671 1496l15-9 2-34-14 10z"/>
<path class="c191" d="M686 1487l15-9 2-35-15 10z"/>
<path class="c199" d="M701 1478l14-8 2-36-14 9z"/>
<path class="c203" d="M715 1470l15-6 2-38-15 8z"/>
<path class="c211" d="M730 1464l15-6 2-39-15 7z"/>
<path class="c219" d="M745 1458l14-5 2-41-14 7z"/>
<path class="c223" d="M759 1453l15-4 2-43-15 6z"/>
<path class="c231" d="M774 1449l14-3 3-45-15 5z"/>
<path class="c235" d="M788 1446l15-2 2-47-14 4z"/>
<path class="c243" d="M803 1444l15-2 2-48-15 3z"/>
<path class="c247" d="M818 1442l14-1 2-50-14 3z"/>
<path class="c251" d="M832 1441l15-3 2-50-15 3z"/>
<path class="c255" d="M847 1438l15-2 2-51-15 3z"/>
<path class="c259" d="M862 1436l14-1 2-52-14 2z"/>
<path class="c263" d="M876 1435l15-2 2-52-15 2z"/>
<path class="c267" d="M891 1433l14 8 15 8 15 9 2-52-15-9-14-8-15-8z"/>
<path class="c263" d="M935 1458l14 9 15 11 2-51-15-11-14-10z"/>
<path class="c259" d="M964 1478l15 11 14 11 2-50-14-12-15-11z"/>
<path class="c255" d="M993 1500l15 13 2-50-15-13z"/>
<path class="c251" d="M1008 1513l14 14 2-49-14-15z"/>
<path class="c247" d="M1022 1527l15 15 2-48-15-16z"/>
<path class="c243" d="M1037 1542l15 17 2-48-15-17z"/>
<path class="c239" d="M1052 1559l14 18 2-47-14-19z"/>
<path class="c231" d="M1066 1577l15 19 2-46-15-20z"/>
<path class="c223" d="M1081 1596l14 21 3-45-15-22z"/>
<path class="c215" d="M1095 1617l15 21 2-42-14-24z"/>
<path class="c207" d="M1110 1638l15 23 2-41-15-24z"/>
<path class="c199" d="M1125 1661l14 23 2-39-14-25z"/>
<path class="c191" d="M1139 1684l15 23 2-36-15-26z"/>
<path class="c183" d="M1154 1707l15 23 2-34-15-25z"/>
<path class="c175" d="M1169 1730l14 23 2-32-14-25z"/>
<path class="c163" d="M1183 1753l15 22 2-30-15-24z"/>
<path class="c155" d="M1198 1775l14 20 3-28-15-22z"/>
<path class="c151" d="M1212 1795l15 20 2-27-14-21z"/>
<path class="c143" d="M1227 1815l15 18 2-26-15-19z"/>
<path class="c139" d="M1242 1833l14 16 2-24-14-18z"/>
<path class="c131" d="M1256 1849l15 16 2-24-15-16z"/>
<path class="c127" d="M1271 1865l15 14 2-23-15-15z"/>
<path class="c123" d="M1286 1879l14 14 15 13 2-23-15-13-14-14z"/>
<path class="c119" d="M1315 1906l14 12 3-22-15-13z"/>
<path class="c115" d="M1329 1918l15 12 15 12 2-22-15-12-14-12z"/>
<path class="c111" d="M1359 1942l14 11 2-21-14-12z"/>
<path class="c107" d="M1373 1953l15 11 14 11 3-21-15-11-15-11z"/>
<path class="c103" d="M1402 1975l15 11 15 11 2-21-15-11-14-11z"/>
<path class="c99" d="M1432 1997l14 11 15 10 2-20-15-11-14-11z"/>
<path class="c124" d="M1461 2018l15-116 2-15-15 111z"/>
<path class="c83" d="M304 1502l14 2 15 5 2-17-14-5-15-1z"/>
<path class="c87" d="M333 1509l15 4 14 5 15 7 15 6 14 7 15 6 14 6 15 6 2-19-14-5-15-6-15-6-14-6-15-7-15-7-14-4-15-4z"/>
<path class="c91" d="M450 1556l15 5 14 5 15 5 2-20-15-4-14-5-15-5z"/>
<path class="c95" d="M494 1571l15 4 14 3 2-21-14-3-15-3z"/>
<path class="c99" d="M523 1578l15 2 2-22-15-1z"/>
<path class="c103" d="M538 1580l14-2 3-22-15 2z"/>
<path class="c107" d="M552 1578l15-2 2-24-14 4z"/>
<path class="c111" d="M567 1576l15-4 2-25-15 5z"/>
<path class="c119" d="M582 1572l14-6 2-25-14 6z"/>
<path class="c123" d="M596 1566l15-6 2-27-15 8z"/>
<path class="c131" d="M611 1560l15-7 2-29-15 9z"/>
<path class="c139" d="M626 1553l14-8 2-30-14 9z"/>
<path class="c147" d="M640 1545l15-8 2-32-15 10z"/>
<path class="c155" d="M655 1537l14-9 2-32-14 9z"/>
<path class="c163" d="M669 1528l15-8 2-33-15 9z"/>
<path class="c171" d="M684 1520l15-7 2-35-15 9z"/>
<path class="c179" d="M699 1513l14-6 2-37-14 8z"/>
<path class="c187" d="M713 1507l15-6 2-37-15 6z"/>
<path class="c191" d="M728 1501l14-5 3-38-15 6z"/>
<path class="c199" d="M742 1496l15-4 2-39-14 5z"/>
<path class="c203" d="M757 1492l15-3 2-40-15 4z"/>
<path class="c211" d="M772 1489l14-2 2-41-14 3z"/>
<path class="c215" d="M786 1487l15-2 2-41-15 2z"/>
<path class="c219" d="M801 1485l15-1 2-42-15 2z"/>
<path class="c223" d="M816 1484l14-1 2-42-14 1z"/>
<path class="c227" d="M830 1483l15-1 2-44-15 3z"/>
<path class="c231" d="M845 1482l14 0 3-46-15 2z"/>
<path class="c235" d="M859 1482l15 0 2-47-14 1z"/>
<path class="c239" d="M874 1482l15-1 2-48-15 2z"/>
<path class="c243" d="M889 1481l14 8 2-48-14-8z"/>
<path class="c239" d="M903 1489l15 8 15 9 14 9 15 10 2-47-15-11-14-9-15-9-15-8z"/>
<path class="c235" d="M962 1525l14 10 15 11 2-46-14-11-15-11z"/>
<path class="c231" d="M991 1546l15 12 2-45-15-13z"/>
<path class="c227" d="M1006 1558l14 13 2-44-14-14z"/>
<path class="c223" d="M1020 1571l15 14 2-43-15-15z"/>
<path class="c219" d="M1035 1585l14 16 3-42-15-17z"/>
<path class="c215" d="M1049 1601l15 16 2-40-14-18z"/>
<path class="c211" d="M1064 1617l15 18 2-39-15-19z"/>
<path class="c203" d="M1079 1635l14 19 2-37-14-21z"/>
<path class="c195" d="M1093 1654l15 20 2-36-15-21z"/>
<path class="c187" d="M1108 1674l15 21 2-34-15-23z"/>
<path class="c183" d="M1123 1695l14 22 2-33-14-23z"/>
<path class="c175" d="M1137 1717l15 22 2-32-15-23z"/>
<path class="c167" d="M1152 1739l14 22 3-31-15-23z"/>
<path class="c159" d="M1166 1761l15 21 2-29-14-23z"/>
<path class="c151" d="M1181 1782l15 21 2-28-15-22z"/>
<path class="c143" d="M1196 1803l14 19 2-27-14-20z"/>
<path class="c135" d="M1210 1822l15 19 2-26-15-20z"/>
<path class="c131" d="M1225 1841l15 17 2-25-15-18z"/>
<path class="c127" d="M1240 1858l14 16 2-25-14-16z"/>
<path class="c119" d="M1254 1874l15 15 2-24-15-16z"/>
<path class="c115" d="M1269 1889l14 14 15 13 2-23-14-14-15-14z"/>
<path class="c111" d="M1298 1916l15 12 2-22-15-13z"/>
<path class="c107" d="M1313 1928l14 12 2-22-14-12z"/>
<path class="c103" d="M1327 1940l15 12 15 11 2-21-15-12-15-12z"/>
<path class="c99" d="M1357 1963l14 11 15 11 2-21-15-11-14-11z"/>
<path class="c95" d="M1386 1985l14 11 15 11 2-21-15-11-14-11z"/>
<path class="c91" d="M1415 2007l15 10 14 11 2-20-14-11-15-11z"/>
<path class="c87" d="M1444 2028l15 11 2-21-15-10z"/>
<path class="c116" d="M1459 2039l14-122 3-15-15 116z"/>
<path class="c75" d="M302 1513l14 3 15 5 2-12-15-5-14-2z"/>
<path class="c79" d="M331 1521l15 5 14 5 15 8 14 8 15 7 15 8 14 6 15 7 15 5 2-19-15-5-15-6-14-6-15-6-14-7-15-6-15-7-14-5-15-4z"/>
<path class="c83" d="M463 1580l14 6 15 5 14 4 3-20-15-4-15-5-14-5z"/>
<path class="c87" d="M506 1595l15 4 15 3 2-22-15-2-14-3z"/>
<path class="c91" d="M536 1602l14-1 2-23-14 2z"/>
<path class="c95" d="M550 1601l15-2 2-23-15 2z"/>
<path class="c99" d="M565 1599l15-3 2-24-15 4z"/>
<path class="c107" d="M580 1596l14-4 2-26-14 6z"/>
<path class="c111" d="M594 1592l15-5 2-27-15 6z"/>
<path class="c119" d="M609 1587l14-6 3-28-15 7z"/>
<path class="c127" d="M623 1581l15-6 2-30-14 8z"/>
<path class="c131" d="M638 1575l15-7 2-31-15 8z"/>
<path class="c139" d="M653 1568l14-7 2-33-14 9z"/>
<path class="c147" d="M667 1561l15-7 2-34-15 8z"/>
<path class="c155" d="M682 1554l14-6 3-35-15 7z"/>
<path class="c163" d="M696 1548l15-5 2-36-14 6z"/>
<path class="c167" d="M711 1543l15-5 2-37-15 6z"/>
<path class="c175" d="M726 1538l14-4 2-38-14 5z"/>
<path class="c179" d="M740 1534l15-3 2-39-15 4z"/>
<path class="c183" d="M755 1531l15-2 2-40-15 3z"/>
<path class="c191" d="M770 1529l14-2 2-40-14 2z"/>
<path class="c195" d="M784 1527l15-1 2-41-15 2z"/>
<path class="c199" d="M799 1526l14-1 3-41-15 1z"/>
<path class="c203" d="M813 1525l15-1 2-41-14 1z"/>
<path class="c207" d="M828 1524l15 0 2-42-15 1z"/>
<path class="c211" d="M843 1524l14 0 2-42-14 0z"/>
<path class="c215" d="M857 1524l15 0 15 1 2-44-15 1-15 0z"/>
<path class="c219" d="M887 1525l14 7 15 8 2-43-15-8-14-8z"/>
<path class="c215" d="M916 1540l14 9 15 9 15 9 14 11 2-43-14-10-15-10-14-9-15-9z"/>
<path class="c211" d="M974 1578l15 10 15 12 2-42-15-12-15-11z"/>
<path class="c207" d="M1004 1600l14 13 2-42-14-13z"/>
<path class="c203" d="M1018 1613l15 13 2-41-15-14z"/>
<path class="c199" d="M1033 1626l14 15 2-40-14-16z"/>
<path class="c195" d="M1047 1641l15 15 2-39-15-16z"/>
<path class="c191" d="M1062 1656l15 17 2-38-15-18z"/>
<path class="c183" d="M1077 1673l14 18 2-37-14-19z"/>
<path class="c179" d="M1091 1691l15 19 2-36-15-20z"/>
<path class="c171" d="M1106 1710l14 20 3-35-15-21z"/>
<path class="c163" d="M1120 1730l15 21 2-34-14-22z"/>
<path class="c155" d="M1135 1751l15 20 2-32-15-22z"/>
<path class="c151" d="M1150 1771l14 21 2-31-14-22z"/>
<path class="c143" d="M1164 1792l15 20 2-30-15-21z"/>
<path class="c135" d="M1179 1812l15 19 2-28-15-21z"/>
<path class="c127" d="M1194 1831l14 19 2-28-14-19z"/>
<path class="c123" d="M1208 1850l15 17 2-26-15-19z"/>
<path class="c119" d="M1223 1867l14 16 3-25-15-17z"/>
<path class="c111" d="M1237 1883l15 15 2-24-14-16z"/>
<path class="c107" d="M1252 1898l15 15 2-24-15-15z"/>
<path class="c103" d="M1267 1913l14 13 15 13 2-23-15-13-14-14z"/>
<path class="c99" d="M1296 1939l15 12 2-23-15-12z"/>
<path class="c95" d="M1311 1951l14 12 15 11 2-22-15-12-14-12z"/>
<path class="c91" d="M1340 1974l14 11 15 11 2-22-14-11-15-11z"/>
<path class="c87" d="M1369 1996l15 10 14 11 2-21-14-11-15-11z"/>
<path class="c83" d="M1398 2017l15 11 14 10 3-21-15-10-15-11z"/>
<path class="c79" d="M1427 2038l15 10 15 11 2-20-15-11-14-11z"/>
<path class="c108" d="M1457 2059l14-124 2-18-14 122z"/>
<path class="c71" d="M300 1524l14 3 15 5 14 6 15 5 2-12-14-5-15-5-15-5-14-3z"/>
<path class="c75" d="M358 1543l15 8 2-12-15-8z"/>
<path class="c71" d="M373 1551l14 8 15 7 15 8 14 8 15 7 14 7 15 7 15 6 2-18-15-5-14-6-15-5-15-7-14-6-15-8-15-7-14-8z"/>
<path class="c75" d="M490 1609l14 6 15 5 15 4 2-22-15-3-15-4-14-4z"/>
<path class="c79" d="M534 1624l14 0 2-23-14 1z"/>
<path class="c83" d="M548 1624l15-1 2-24-15 2z"/>
<path class="c87" d="M563 1623l14-2 3-25-15 3z"/>
<path class="c91" d="M577 1621l15-3 2-26-14 4z"/>
<path class="c99" d="M592 1618l15-4 2-27-15 5z"/>
<path class="c103" d="M607 1614l14-5 2-28-14 6z"/>
<path class="c111" d="M621 1609l15-5 2-29-15 6z"/>
<path class="c119" d="M636 1604l15-5 2-31-15 7z"/>
<path class="c123" d="M651 1599l14-6 2-32-14 7z"/>
<path class="c131" d="M665 1593l15-5 2-34-15 7z"/>
<path class="c139" d="M680 1588l14-5 2-35-14 6z"/>
<path class="c143" d="M694 1583l15-4 2-36-15 5z"/>
<path class="c151" d="M709 1579l15-4 2-37-15 5z"/>
<path class="c155" d="M724 1575l14-3 2-38-14 4z"/>
<path class="c159" d="M738 1572l15-2 2-39-15 3z"/>
<path class="c163" d="M753 1570l14-2 3-39-15 2z"/>
<path class="c171" d="M767 1568l15-1 2-40-14 2z"/>
<path class="c175" d="M782 1567l15 0 2-41-15 1z"/>
<path class="c179" d="M797 1567l14-1 15 0 2-42-15 1-14 1z"/>
<path class="c183" d="M826 1566l15 1 2-43-15 0z"/>
<path class="c187" d="M841 1567l14 0 2-43-14 0z"/>
<path class="c191" d="M855 1567l15 1 2-44-15 0z"/>
<path class="c195" d="M870 1568l14 0 15 8 15 8 14 8 15 9 15 9 2-43-15-9-15-9-14-9-15-8-14-7-15-1z"/>
<path class="c191" d="M958 1610l14 10 15 11 2-43-15-10-14-11z"/>
<path class="c187" d="M987 1631l14 11 15 12 2-41-14-13-15-12z"/>
<path class="c183" d="M1016 1654l15 13 2-41-15-13z"/>
<path class="c179" d="M1031 1667l14 14 2-40-14-15z"/>
<path class="c175" d="M1045 1681l15 15 2-40-15-15z"/>
<path class="c171" d="M1060 1696l14 15 3-38-15-17z"/>
<path class="c167" d="M1074 1711l15 17 2-37-14-18z"/>
<path class="c159" d="M1089 1728l15 18 2-36-15-19z"/>
<path class="c155" d="M1104 1746l14 19 2-35-14-20z"/>
<path class="c147" d="M1118 1765l15 19 2-33-15-21z"/>
<path class="c139" d="M1133 1784l15 19 2-32-15-20z"/>
<path class="c135" d="M1148 1803l14 20 2-31-14-21z"/>
<path class="c127" d="M1162 1823l15 18 2-29-15-20z"/>
<path class="c119" d="M1177 1841l14 19 3-29-15-19z"/>
<path class="c115" d="M1191 1860l15 17 2-27-14-19z"/>
<path class="c111" d="M1206 1877l15 16 2-26-15-17z"/>
<path class="c103" d="M1221 1893l14 15 2-25-14-16z"/>
<path class="c99" d="M1235 1908l15 15 2-25-15-15z"/>
<path class="c95" d="M1250 1923l15 14 14 12 2-23-14-13-15-15z"/>
<path class="c91" d="M1279 1949l15 13 2-23-15-13z"/>
<path class="c87" d="M1294 1962l14 11 3-22-15-12z"/>
<path class="c83" d="M1308 1973l15 12 15 11 2-22-15-11-14-12z"/>
<path class="c79" d="M1338 1996l14 11 15 10 2-21-15-11-14-11z"/>
<path class="c75" d="M1367 2017l15 11 14 10 2-21-14-11-15-10z"/>
<path class="c71" d="M1396 2038l15 10 14 10 15 9 2-19-15-10-14-10-15-11z"/>
<path class="c67" d="M1440 2067l15 9 2-17-15-11z"/>
<path class="c96" d="M1455 2076l14-122 2-19-14 124z"/>
<path class="c63" d="M298 1535l14 3 2-11-14-3z"/>
<path class="c67" d="M312 1538l15 5 14 6 15 5 15 8 14 8 15 8 14 8 15 7 15 8 14 7 15 7 15 7 14 6 15 6 14 5 3-15-15-4-15-5-14-6-15-6-15-7-14-7-15-7-14-8-15-8-15-7-14-8-15-8-15-5-14-6-15-5z"/>
<path class="c71" d="M531 1639l15 2 15 1 2-19-15 1-14 0z"/>
<path class="c75" d="M561 1642l14 0 2-21-14 2z"/>
<path class="c79" d="M575 1642l15-1 2-23-15 3z"/>
<path class="c87" d="M590 1641l15-2 2-25-15 4z"/>
<path class="c91" d="M605 1639l14-2 2-28-14 5z"/>
<path class="c95" d="M619 1637l15-3 2-30-15 5z"/>
<path class="c103" d="M634 1634l14-4 3-31-15 5z"/>
<path class="c107" d="M648 1630l15-4 2-33-14 6z"/>
<path class="c115" d="M663 1626l15-4 2-34-15 5z"/>
<path class="c119" d="M678 1622l14-4 2-35-14 5z"/>
<path class="c127" d="M692 1618l15-3 2-36-15 4z"/>
<path class="c131" d="M707 1615l14-2 3-38-15 4z"/>
<path class="c135" d="M721 1613l15-2 2-39-14 3z"/>
<path class="c139" d="M736 1611l15-2 2-39-15 2z"/>
<path class="c143" d="M751 1609l14-1 2-40-14 2z"/>
<path class="c147" d="M765 1608l15 0 2-41-15 1z"/>
<path class="c151" d="M780 1608l15 0 2-41-15 0z"/>
<path class="c155" d="M795 1608l14 0 2-42-14 1z"/>
<path class="c159" d="M809 1608l15 0 2-42-15 0z"/>
<path class="c163" d="M824 1608l14 1 3-42-15-1z"/>
<path class="c167" d="M838 1609l15 1 2-43-14 0z"/>
<path class="c171" d="M853 1610l15 1 14 1 2-44-14 0-15-1z"/>
<path class="c175" d="M882 1612l15 7 15 8 14 8 2-43-14-8-15-8-15-8z"/>
<path class="c171" d="M926 1635l15 9 14 9 15 9 2-42-14-10-15-9-15-9z"/>
<path class="c167" d="M970 1662l15 11 14 10 2-41-14-11-15-11z"/>
<path class="c163" d="M999 1683l15 12 15 12 2-40-15-13-15-12z"/>
<path class="c159" d="M1029 1707l14 14 2-40-14-14z"/>
<path class="c155" d="M1043 1721l15 14 2-39-15-15z"/>
<path class="c151" d="M1058 1735l14 15 2-39-14-15z"/>
<path class="c147" d="M1072 1750l15 16 2-38-15-17z"/>
<path class="c139" d="M1087 1766l15 16 2-36-15-18z"/>
<path class="c135" d="M1102 1782l14 18 2-35-14-19z"/>
<path class="c131" d="M1116 1800l15 18 2-34-15-19z"/>
<path class="c123" d="M1131 1818l14 18 3-33-15-19z"/>
<path class="c119" d="M1145 1836l15 17 2-30-14-20z"/>
<path class="c111" d="M1160 1853l15 18 2-30-15-18z"/>
<path class="c107" d="M1175 1871l14 17 2-28-14-19z"/>
<path class="c99" d="M1189 1888l15 16 2-27-15-17z"/>
<path class="c95" d="M1204 1904l15 15 2-26-15-16z"/>
<path class="c91" d="M1219 1919l14 15 2-26-14-15z"/>
<path class="c87" d="M1233 1934l15 13 2-24-15-15z"/>
<path class="c83" d="M1248 1947l14 13 15 13 2-24-14-12-15-14z"/>
<path class="c79" d="M1277 1973l15 12 2-23-15-13z"/>
<path class="c75" d="M1292 1985l14 11 15 11 2-22-15-12-14-11z"/>
<path class="c71" d="M1321 2007l15 9 14 10 2-19-14-11-15-11z"/>
<path class="c67" d="M1350 2026l15 9 14 9 15 9 2-15-14-10-15-11-15-10z"/>
<path class="c63" d="M1394 2053l15 9 14 9 15 8 2-12-15-9-14-10-15-10z"/>
<path class="c59" d="M1438 2079l14 9 3-12-15-9z"/>
<path class="c89" d="M1452 2088l15-116 2-18-14 122z"/>
<path class="c59" d="M295 1546l15 3 15 6 2-12-15-5-14-3z"/>
<path class="c63" d="M325 1555l14 5 15 6 15 8 14 8 2-12-14-8-15-8-15-5-14-6z"/>
<path class="c59" d="M383 1582l15 8 14 8 15 7 15 8 14 7 15 7 14 7 15 7 15 6 14 6 2-14-14-5-15-6-14-6-15-7-15-7-14-7-15-8-15-7-14-8-15-8z"/>
<path class="c63" d="M529 1653l15 2 15 1 2-14-15-1-15-2z"/>
<path class="c67" d="M559 1656l14 1 2-15-14 0z"/>
<path class="c71" d="M573 1657l15 0 2-16-15 1z"/>
<path class="c75" d="M588 1657l14-1 3-17-15 2z"/>
<path class="c79" d="M602 1656l15-1 2-18-14 2z"/>
<path class="c83" d="M617 1655l15-2 2-19-15 3z"/>
<path class="c91" d="M632 1653l14-2 2-21-14 4z"/>
<path class="c95" d="M646 1651l15-1 2-24-15 4z"/>
<path class="c99" d="M661 1650l15-2 2-26-15 4z"/>
<path class="c103" d="M676 1648l14-1 2-29-14 4z"/>
<path class="c107" d="M690 1647l15-1 2-31-15 3z"/>
<path class="c115" d="M705 1646l14 0 2-33-14 2z"/>
<path class="c119" d="M719 1646l15 1 2-36-15 2z"/>
<path class="c123" d="M734 1647l15 1 14 0 2-40-14 1-15 2z"/>
<path class="c127" d="M763 1648l15 0 2-40-15 0z"/>
<path class="c131" d="M778 1648l14 0 3-40-15 0z"/>
<path class="c135" d="M792 1648l15 1 2-41-14 0z"/>
<path class="c139" d="M807 1649l15 1 2-42-15 0z"/>
<path class="c143" d="M822 1650l14 1 2-42-14-1z"/>
<path class="c147" d="M836 1651l15 1 15 2 2-43-15-1-15-1z"/>
<path class="c151" d="M866 1654l14 1 15 7 14 8 15 8 15 9 14 9 2-43-14-9-15-9-14-8-15-8-15-7-14-1z"/>
<path class="c147" d="M953 1696l15 9 15 10 14 10 2-42-14-10-15-11-15-9z"/>
<path class="c143" d="M997 1725l15 11 2-41-15-12z"/>
<path class="c139" d="M1012 1736l14 12 15 12 2-39-14-14-15-12z"/>
<path class="c135" d="M1041 1760l15 14 2-39-15-14z"/>
<path class="c131" d="M1056 1774l14 14 2-38-14-15z"/>
<path class="c127" d="M1070 1788l15 15 2-37-15-16z"/>
<path class="c123" d="M1085 1803l15 15 2-36-15-16z"/>
<path class="c119" d="M1100 1818l14 16 2-34-14-18z"/>
<path class="c111" d="M1114 1834l15 17 2-33-15-18z"/>
<path class="c107" d="M1129 1851l14 17 2-32-14-18z"/>
<path class="c103" d="M1143 1868l15 16 2-31-15-17z"/>
<path class="c95" d="M1158 1884l15 16 2-29-15-18z"/>
<path class="c91" d="M1173 1900l14 16 2-28-14-17z"/>
<path class="c87" d="M1187 1916l15 14 2-26-15-16z"/>
<path class="c83" d="M1202 1930l14 14 3-25-15-15z"/>
<path class="c79" d="M1216 1944l15 12 2-22-14-15z"/>
<path class="c75" d="M1231 1956l15 12 14 11 2-19-14-13-15-13z"/>
<path class="c71" d="M1260 1979l15 11 2-17-15-13z"/>
<path class="c67" d="M1275 1990l15 11 14 10 2-15-14-11-15-12z"/>
<path class="c63" d="M1304 2011l15 9 14 10 15 9 2-13-14-10-15-9-15-11z"/>
<path class="c59" d="M1348 2039l15 9 14 9 15 9 15 8 2-12-15-9-15-9-14-9-15-9z"/>
<path class="c55" d="M1407 2074l14 9 15 9 14 9 2-13-14-9-15-8-14-9z"/>
<path class="c84" d="M1450 2101l15-110 2-19-15 116z"/>
<path class="c55" d="M293 1557l15 3 15 6 14 6 15 5 14 8 15 8 15 8 14 8 15 8 14 8 15 7 15 8 14 7 15 6 15 7 14 6 15 3 2-14-15-2-14-6-15-6-15-7-14-7-15-7-14-7-15-8-15-7-14-8-15-8-14-8-15-8-15-6-14-5-15-6-15-3z"/>
<path class="c59" d="M542 1669l14 1 15 2 2-15-14-1-15-1z"/>
<path class="c63" d="M571 1672l15 0 2-15-15 0z"/>
<path class="c67" d="M586 1672l14 0 2-16-14 1z"/>
<path class="c71" d="M600 1672l15 0 2-17-15 1z"/>
<path class="c75" d="M615 1672l15-1 2-18-15 2z"/>
<path class="c79" d="M630 1671l14-1 2-19-14 2z"/>
<path class="c83" d="M644 1670l15-1 2-19-15 1z"/>
<path class="c87" d="M659 1669l14 0 3-21-15 2z"/>
<path class="c91" d="M673 1669l15-1 2-21-14 1z"/>
<path class="c95" d="M688 1668l15 0 2-22-15 1z"/>
<path class="c99" d="M703 1668l14 1 2-23-14 0z"/>
<path class="c103" d="M717 1669l15 1 2-23-15-1z"/>
<path class="c107" d="M732 1670l15 2 14 1 2-25-14 0-15-1z"/>
<path class="c111" d="M761 1673l15 3 2-28-15 0z"/>
<path class="c115" d="M776 1676l14 2 2-30-14 0z"/>
<path class="c119" d="M790 1678l15 3 15 3 2-34-15-1-15-1z"/>
<path class="c123" d="M820 1684l14 4 15 3 2-39-15-1-14-1z"/>
<path class="c127" d="M849 1691l14 4 3-41-15-2z"/>
<path class="c131" d="M863 1695l15 3 15 8 14 7 15 8 15 8 2-42-15-9-15-8-14-8-15-7-14-1z"/>
<path class="c127" d="M937 1729l14 8 15 9 14 9 3-40-15-10-15-9-14-9z"/>
<path class="c123" d="M980 1755l15 10 15 9 14 11 2-37-14-12-15-11-14-10z"/>
<path class="c119" d="M1024 1785l15 11 2-36-15-12z"/>
<path class="c115" d="M1039 1796l15 12 2-34-15-14z"/>
<path class="c111" d="M1054 1808l14 12 15 14 2-31-15-15-14-14z"/>
<path class="c107" d="M1083 1834l14 13 3-29-15-15z"/>
<path class="c103" d="M1097 1847l15 14 2-27-14-16z"/>
<path class="c99" d="M1112 1861l15 15 2-25-15-17z"/>
<path class="c91" d="M1127 1876l14 15 2-23-14-17z"/>
<path class="c87" d="M1141 1891l15 14 2-21-15-16z"/>
<path class="c83" d="M1156 1905l14 14 3-19-15-16z"/>
<path class="c79" d="M1170 1919l15 14 2-17-14-16z"/>
<path class="c75" d="M1185 1933l15 14 2-17-15-14z"/>
<path class="c71" d="M1200 1947l14 12 15 13 2-16-15-12-14-14z"/>
<path class="c67" d="M1229 1972l15 11 2-15-15-12z"/>
<path class="c63" d="M1244 1983l14 11 15 10 2-14-15-11-14-11z"/>
<path class="c59" d="M1273 2004l14 11 15 9 15 10 2-14-15-9-14-10-15-11z"/>
<path class="c55" d="M1317 2034l14 9 15 9 15 9 14 9 2-13-14-9-15-9-15-9-14-10z"/>
<path class="c51" d="M1375 2070l15 8 14 9 15 9 15 8 2-12-15-9-14-9-15-8-15-9z"/>
<path class="c47" d="M1434 2104l14 9 2-12-14-9z"/>
<path class="c76" d="M1448 2113l15-102 2-20-15 110z"/>
<path class="c51" d="M291 1565l15 4 14 6 15 6 15 6 14 8 15 9 15 8 14 8 2-11-14-8-15-8-15-8-14-8-15-5-14-6-15-6-15-3z"/>
<path class="c47" d="M408 1620l15 9 14 7 15 8 15 8 14 7 15 7 14 7 15 6 15 3 2-13-15-3-14-6-15-7-15-6-14-7-15-8-15-7-14-8-15-8z"/>
<path class="c51" d="M540 1682l14 3 2-15-14-1z"/>
<path class="c55" d="M554 1685l15 2 15 1 2-16-15 0-15-2z"/>
<path class="c59" d="M584 1688l14 1 2-17-14 0z"/>
<path class="c63" d="M598 1689l15 0 2-17-15 0z"/>
<path class="c67" d="M613 1689l14 0 3-18-15 1z"/>
<path class="c71" d="M627 1689l15 0 2-19-14 1z"/>
<path class="c75" d="M642 1689l15 0 2-20-15 1z"/>
<path class="c79" d="M657 1689l14 0 2-20-14 0z"/>
<path class="c83" d="M671 1689l15 1 2-22-15 1z"/>
<path class="c87" d="M686 1690l15 0 14 2 2-23-14-1-15 0z"/>
<path class="c91" d="M715 1692l15 1 2-23-15-1z"/>
<path class="c95" d="M730 1693l14 2 15 3 2-25-14-1-15-2z"/>
<path class="c99" d="M759 1698l15 2 2-24-15-3z"/>
<path class="c103" d="M774 1700l14 3 15 3 2-25-15-3-14-2z"/>
<path class="c107" d="M803 1706l14 4 15 3 15 4 2-26-15-3-14-4-15-3z"/>
<path class="c111" d="M847 1717l14 4 15 4 15 7 14 7 15 8 14 8 15 8 15 9 14 9 2-26-14-9-15-9-14-8-15-8-15-8-14-7-15-8-15-3-14-4z"/>
<path class="c107" d="M978 1781l15 9 15 9 14 11 2-25-14-11-15-9-15-10z"/>
<path class="c103" d="M1022 1810l15 10 14 12 3-24-15-12-15-11z"/>
<path class="c99" d="M1051 1832l15 12 2-24-14-12z"/>
<path class="c95" d="M1066 1844l15 12 2-22-15-14z"/>
<path class="c91" d="M1081 1856l14 13 15 14 2-22-15-14-14-13z"/>
<path class="c87" d="M1110 1883l15 13 2-20-15-15z"/>
<path class="c83" d="M1125 1896l14 14 2-19-14-15z"/>
<path class="c79" d="M1139 1910l15 14 2-19-15-14z"/>
<path class="c75" d="M1154 1924l14 13 2-18-14-14z"/>
<path class="c71" d="M1168 1937l15 14 2-18-15-14z"/>
<path class="c67" d="M1183 1951l15 12 2-16-15-14z"/>
<path class="c63" d="M1198 1963l14 12 15 12 2-15-15-13-14-12z"/>
<path class="c59" d="M1227 1987l14 11 15 11 2-15-14-11-15-11z"/>
<path class="c55" d="M1256 2009l15 10 14 10 2-14-14-11-15-10z"/>
<path class="c51" d="M1285 2029l15 9 15 9 14 9 15 9 2-13-15-9-14-9-15-10-15-9z"/>
<path class="c47" d="M1344 2065l14 9 15 9 15 8 14 9 2-13-14-9-15-8-14-9-15-9z"/>
<path class="c43" d="M1402 2100l15 8 15 9 14 8 2-12-14-9-15-8-15-9z"/>
<path class="c69" d="M1446 2125l15-93 2-21-15 102z"/>
<path class="c47" d="M289 1572l15 5 14 6 15 6 15 6 14 9 15 8 14 9 3-9-15-8-15-9-14-8-15-6-15-6-14-6-15-4z"/>
<path class="c43" d="M391 1621l15 9 15 8 14 9 15 8 14 8 15 8 15 7 14 8 15 7 15 3 14 3 2-14-14-3-15-3-15-6-14-7-15-7-14-7-15-8-15-8-14-7-15-9-14-8z"/>
<path class="c47" d="M552 1699l15 3 14 2 3-16-15-1-15-2z"/>
<path class="c51" d="M581 1704l15 1 2-16-14-1z"/>
<path class="c55" d="M596 1705l15 1 2-17-15 0z"/>
<path class="c59" d="M611 1706l14 1 2-18-14 0z"/>
<path class="c63" d="M625 1707l15 1 15 1 2-20-15 0-15 0z"/>
<path class="c67" d="M655 1709l14 1 2-21-14 0z"/>
<path class="c71" d="M669 1710l15 1 2-21-15-1z"/>
<path class="c75" d="M684 1711l14 1 3-22-15 0z"/>
<path class="c79" d="M698 1712l15 2 15 2 2-23-15-1-14-2z"/>
<path class="c83" d="M728 1716l14 3 15 3 2-24-15-3-14-2z"/>
<path class="c87" d="M757 1722l15 3 14 3 2-25-14-3-15-2z"/>
<path class="c91" d="M786 1728l15 3 14 4 2-25-14-4-15-3z"/>
<path class="c95" d="M815 1735l15 4 15 4 2-26-15-4-15-3z"/>
<path class="c99" d="M845 1743l14 4 15 4 14 7 15 7 15 8 14 8 15 8 15 8 2-25-15-9-15-8-14-8-15-8-14-7-15-7-15-4-14-4z"/>
<path class="c95" d="M962 1797l14 9 15 9 14 9 3-25-15-9-15-9-14-9z"/>
<path class="c91" d="M1005 1824l15 10 15 11 14 10 2-23-14-12-15-10-14-11z"/>
<path class="c87" d="M1049 1855l15 12 2-23-15-12z"/>
<path class="c83" d="M1064 1867l15 12 14 12 2-22-14-13-15-12z"/>
<path class="c79" d="M1093 1891l15 13 2-21-15-14z"/>
<path class="c75" d="M1108 1904l14 13 3-21-15-13z"/>
<path class="c71" d="M1122 1917l15 13 2-20-14-14z"/>
<path class="c67" d="M1137 1930l15 13 14 12 2-18-14-13-15-14z"/>
<path class="c63" d="M1166 1955l15 13 2-17-15-14z"/>
<path class="c59" d="M1181 1968l14 12 3-17-15-12z"/>
<path class="c55" d="M1195 1980l15 11 15 11 2-15-15-12-14-12z"/>
<path class="c51" d="M1225 2002l14 11 15 10 2-14-15-11-14-11z"/>
<path class="c47" d="M1254 2023l15 10 14 9 15 10 2-14-15-9-14-10-15-10z"/>
<path class="c43" d="M1298 2052l14 9 15 9 15 8 14 9 2-13-14-9-15-9-14-9-15-9z"/>
<path class="c39" d="M1356 2087l15 9 15 8 14 9 15 8 14 8 3-12-15-9-15-8-14-9-15-8-15-9z"/>
<path class="c35" d="M1429 2129l15 9 2-13-14-8z"/>
<path class="c57" d="M1444 2138l15-86 2-20-15 93z"/>
<path class="c43" d="M287 1580l15 5 14 6 15 6 14 6 15 9 15 9 2-9-15-8-14-9-15-6-15-6-14-6-15-5z"/>
<path class="c39" d="M375 1621l14 9 15 9 15 9 14 9 15 8 2-10-15-8-14-9-15-8-15-9-14-9z"/>
<path class="c35" d="M448 1665l14 9 15 8 15 8 14 8 15 8 14 4 3-14-15-3-15-7-14-8-15-7-15-8-14-8z"/>
<path class="c39" d="M535 1710l15 3 15 4 2-15-15-3-14-3z"/>
<path class="c43" d="M565 1717l14 2 15 3 2-17-15-1-14-2z"/>
<path class="c47" d="M594 1722l15 2 2-18-15-1z"/>
<path class="c51" d="M609 1724l14 1 15 2 2-19-15-1-14-1z"/>
<path class="c55" d="M638 1727l14 2 3-20-15-1z"/>
<path class="c59" d="M652 1729l15 1 15 2 2-21-15-1-14-1z"/>
<path class="c63" d="M682 1732l14 2 2-22-14-1z"/>
<path class="c67" d="M696 1734l15 3 15 2 2-23-15-2-15-2z"/>
<path class="c71" d="M726 1739l14 3 15 4 2-24-15-3-14-3z"/>
<path class="c75" d="M755 1746l14 3 15 4 2-25-14-3-15-3z"/>
<path class="c79" d="M784 1753l15 4 14 3 2-25-14-4-15-3z"/>
<path class="c83" d="M813 1760l15 5 14 4 15 4 2-26-14-4-15-4-15-4z"/>
<path class="c87" d="M857 1773l15 4 14 7 15 8 15 7 14 8 15 8 2-26-15-8-14-8-15-8-15-7-14-7-15-4z"/>
<path class="c83" d="M945 1815l14 8 15 9 15 8 14 9 2-25-14-9-15-9-14-9-15-8z"/>
<path class="c79" d="M1003 1849l15 10 15 10 14 10 2-24-14-10-15-11-15-10z"/>
<path class="c75" d="M1047 1879l15 11 2-23-15-12z"/>
<path class="c71" d="M1062 1890l14 11 15 12 2-22-14-12-15-12z"/>
<path class="c67" d="M1091 1913l15 12 2-21-15-13z"/>
<path class="c63" d="M1106 1925l14 12 15 12 2-19-15-13-14-13z"/>
<path class="c59" d="M1135 1949l15 12 2-18-15-13z"/>
<path class="c55" d="M1150 1961l14 12 15 12 2-17-15-13-14-12z"/>
<path class="c51" d="M1179 1985l14 11 2-16-14-12z"/>
<path class="c47" d="M1193 1996l15 11 15 11 2-16-15-11-15-11z"/>
<path class="c43" d="M1223 2018l14 10 15 10 14 9 3-14-15-10-15-10-14-11z"/>
<path class="c39" d="M1266 2047l15 9 15 9 14 9 2-13-14-9-15-10-14-9z"/>
<path class="c35" d="M1310 2074l15 9 15 9 14 8 15 8 14 9 3-13-15-8-15-9-14-9-15-8-15-9z"/>
<path class="c31" d="M1383 2117l15 8 15 9 14 8 15 8 2-12-15-9-14-8-15-8-14-9z"/>
<path class="c50" d="M1442 2150l15-77 2-21-15 86z"/>
<path class="c39" d="M285 1588l14 5 15 6 15 6 14 6 15 9 15 9 2-8-15-9-15-9-14-6-15-6-14-6-15-5z"/>
<path class="c35" d="M373 1629l14 9 15 9 14 8 15 9 15 9 2-8-15-8-14-9-15-9-15-9-14-9z"/>
<path class="c31" d="M446 1673l14 9 15 8 15 9 14 8 15 9 14 5 15 4 15 5 2-13-15-4-15-3-14-4-15-8-14-8-15-8-15-8-14-9z"/>
<path class="c35" d="M563 1730l14 4 15 3 2-15-15-3-14-2z"/>
<path class="c39" d="M592 1737l14 4 15 2 2-18-14-1-15-2z"/>
<path class="c43" d="M621 1743l15 3 2-19-15-2z"/>
<path class="c47" d="M636 1746l14 2 15 3 2-21-15-1-14-2z"/>
<path class="c51" d="M665 1751l15 2 14 3 2-22-14-2-15-2z"/>
<path class="c55" d="M694 1756l15 3 2-22-15-3z"/>
<path class="c59" d="M709 1759l14 4 15 3 15 4 2-24-15-4-14-3-15-2z"/>
<path class="c63" d="M753 1770l14 3 15 4 2-24-15-4-14-3z"/>
<path class="c67" d="M782 1777l15 5 14 4 15 4 2-25-15-5-14-3-15-4z"/>
<path class="c71" d="M826 1790l14 5 15 4 15 4 2-26-15-4-15-4-14-4z"/>
<path class="c75" d="M870 1803l14 8 15 7 2-26-15-8-14-7z"/>
<path class="c71" d="M899 1818l14 7 15 8 15 8 14 8 15 8 15 9 14 8 2-25-14-9-15-8-15-9-14-8-15-8-14-8-15-7z"/>
<path class="c67" d="M1001 1874l15 9 14 10 15 10 2-24-14-10-15-10-15-10z"/>
<path class="c63" d="M1045 1903l15 10 14 11 2-23-14-11-15-11z"/>
<path class="c59" d="M1074 1924l15 11 15 11 2-21-15-12-15-12z"/>
<path class="c55" d="M1104 1946l14 11 2-20-14-12z"/>
<path class="c51" d="M1118 1957l15 12 14 11 3-19-15-12-15-12z"/>
<path class="c47" d="M1147 1980l15 11 2-18-14-12z"/>
<path class="c43" d="M1162 1991l15 11 14 11 2-17-14-11-15-12z"/>
<path class="c39" d="M1191 2013l15 10 15 10 14 10 2-15-14-10-15-11-15-11z"/>
<path class="c35" d="M1235 2043l15 9 14 9 15 9 2-14-15-9-14-9-15-10z"/>
<path class="c31" d="M1279 2070l15 9 14 9 15 8 14 7 15 8 2-11-14-8-15-9-15-9-14-9-15-9z"/>
<path class="c27" d="M1352 2111l15 8 14 7 15 8 15 7 14 8 15 7 2-6-15-8-14-8-15-9-15-8-14-9-15-8z"/>
<path class="c45" d="M1440 2156l14-63 3-20-15 77z"/>
<path class="c35" d="M283 1596l14 5 15 6 15 6 14 7 15 8 14 9 15 9 2-8-14-9-15-9-15-9-14-6-15-6-15-6-14-5z"/>
<path class="c31" d="M385 1646l15 8 14 9 15 9 15 8 2-7-15-9-15-9-14-8-15-9z"/>
<path class="c27" d="M444 1680l14 9 15 8 14 9 15 8 15 8 2-6-15-9-14-8-15-9-15-8-14-9z"/>
<path class="c26" d="M517 1722l14 6 15 4 2-7-15-4-14-5z"/>
<path class="c27" d="M546 1732l14 5 3-7-15-5z"/>
<path class="c31" d="M560 1737l15 4 15 4 14 4 2-8-14-4-15-3-14-4z"/>
<path class="c35" d="M604 1749l15 4 15 3 2-10-15-3-15-2z"/>
<path class="c39" d="M634 1756l14 4 15 4 2-13-15-3-14-2z"/>
<path class="c43" d="M663 1764l14 4 15 4 2-16-14-3-15-2z"/>
<path class="c47" d="M692 1772l15 4 14 5 15 5 2-20-15-3-14-4-15-3z"/>
<path class="c51" d="M736 1786l15 5 14 5 15 5 2-24-15-4-14-3-15-4z"/>
<path class="c55" d="M780 1801l14 6 15 4 15 5 2-26-15-4-14-4-15-5z"/>
<path class="c59" d="M824 1816l14 4 15 5 15 5 14 7 15 7 14 7 15 8 15 8 14 7 15 8 14 9 3-25-15-9-15-8-14-8-15-8-15-8-14-7-15-7-14-8-15-4-15-4-14-5z"/>
<path class="c55" d="M984 1891l15 8 15 9 14 9 15 10 2-24-15-10-14-10-15-9-14-8z"/>
<path class="c51" d="M1043 1927l15 9 14 10 2-22-14-11-15-10z"/>
<path class="c47" d="M1072 1946l15 10 14 11 3-21-15-11-15-11z"/>
<path class="c43" d="M1101 1967l15 10 15 10 2-18-15-12-14-11z"/>
<path class="c39" d="M1131 1987l14 10 15 10 2-16-15-11-14-11z"/>
<path class="c35" d="M1160 2007l15 10 14 9 15 10 2-13-15-10-14-11-15-11z"/>
<path class="c31" d="M1204 2036l14 9 15 8 15 9 2-10-15-9-14-10-15-10z"/>
<path class="c27" d="M1248 2062l14 8 15 8 14 8 15 8 15 8 14 8 2-7-14-7-15-8-14-9-15-9-15-9-14-9z"/>
<path class="c22" d="M1335 2110l15 7 15 8 14 8 15 7 14 8 15 7 15 8 2-7-15-7-14-8-15-7-15-8-14-7-15-8-15-8z"/>
<path class="c37" d="M1438 2163l14-55 2-15-14 63z"/>
<path class="c31" d="M281 1604l14 5 15 6 14 7 15 6 15 8 14 9 15 8 2-7-15-9-14-9-15-8-14-7-15-6-15-6-14-5z"/>
<path class="c27" d="M383 1653l15 9 14 8 15 9 14 8 15 9 2-7-14-9-15-8-15-9-14-9-15-8z"/>
<path class="c23" d="M456 1696l15 8 14 8 15 9 15 8 2-7-15-8-15-8-14-9-15-8z"/>
<path class="c22" d="M515 1729l14 5 2-6-14-6z"/>
<path class="c23" d="M529 1734l15 5 14 5 2-7-14-5-15-4z"/>
<path class="c27" d="M558 1744l15 5 15 4 14 4 2-8-14-4-15-4-15-4z"/>
<path class="c31" d="M602 1757l15 4 14 5 3-10-15-3-15-4z"/>
<path class="c35" d="M631 1766l15 4 15 4 14 4 2-10-14-4-15-4-14-4z"/>
<path class="c39" d="M675 1778l15 5 15 4 14 5 15 5 2-11-15-5-14-5-15-4-15-4z"/>
<path class="c43" d="M734 1797l14 5 15 6 15 5 14 6 2-12-14-6-15-5-14-5-15-5z"/>
<path class="c47" d="M792 1819l15 5 15 6 14 6 15 6 14 6 3-18-15-5-15-5-14-4-15-5-15-4z"/>
<path class="c51" d="M865 1848l15 7 15 7 2-18-15-7-14-7z"/>
<path class="c47" d="M895 1862l14 7 15 7 14 8 15 7 15 8 14 8 15 8 15 8 2-15-15-9-15-8-14-9-15-8-14-7-15-8-15-8-14-7z"/>
<path class="c43" d="M1012 1923l14 8 15 9 14 9 15 9 2-12-14-10-15-9-15-10-14-9z"/>
<path class="c39" d="M1070 1958l15 9 14 10 2-10-14-11-15-10z"/>
<path class="c35" d="M1099 1977l15 10 15 9 14 10 2-9-14-10-15-10-15-10z"/>
<path class="c31" d="M1143 2006l15 10 14 9 15 9 2-8-14-9-15-10-15-10z"/>
<path class="c27" d="M1187 2034l15 9 14 9 15 9 15 8 2-7-15-9-15-8-14-9-15-10z"/>
<path class="c23" d="M1246 2069l14 8 15 8 14 8 15 8 15 8 14 7 2-6-14-8-15-8-15-8-14-8-15-8-14-8z"/>
<path class="c22" d="M1333 2116l15 8 14 7 15 8 2-6-14-8-15-8-15-7z"/>
<path class="c18" d="M1377 2139l15 7 14 8 15 7 15 8 2-6-15-8-15-7-14-8-15-7z"/>
<path class="c33" d="M1436 2169l14-48 2-13-14 55z"/>
<path class="c27" d="M278 1612l15 5 15 6 14 7 15 6 15 8 14 9 15 8 14 8 3-7-15-9-15-8-14-9-15-8-15-6-14-7-15-6-14-5z"/>
<path class="c23" d="M395 1669l15 9 15 8 14 8 15 9 15 8 2-7-15-8-15-9-14-8-15-9-14-8z"/>
<path class="c19" d="M469 1711l14 8 15 8 14 8 3-6-15-8-15-9-14-8z"/>
<path class="c18" d="M512 1735l15 6 2-7-14-5z"/>
<path class="c19" d="M527 1741l15 5 2-7-15-5z"/>
<path class="c23" d="M542 1746l14 5 15 5 14 5 15 5 2-9-14-4-15-4-15-5-14-5z"/>
<path class="c27" d="M600 1766l15 4 14 5 15 4 2-9-15-4-14-5-15-4z"/>
<path class="c31" d="M644 1779l15 5 14 4 15 5 2-10-15-5-14-4-15-4z"/>
<path class="c35" d="M688 1793l14 5 15 5 15 5 14 6 2-12-14-5-15-5-14-5-15-4z"/>
<path class="c39" d="M746 1814l15 5 15 6 14 6 15 6 14 5 15 6 15 6 2-12-15-6-14-6-15-6-15-5-14-6-15-5-15-6z"/>
<path class="c43" d="M849 1854l14 6 15 7 15 7 14 8 15 7 14 7 2-12-14-8-15-7-14-7-15-7-15-7-14-6z"/>
<path class="c39" d="M936 1896l15 8 15 7 14 8 15 8 14 8 15 8 15 8 2-11-15-9-14-8-15-8-15-8-14-8-15-8-15-7z"/>
<path class="c35" d="M1039 1951l14 9 15 9 15 9 14 9 2-10-14-10-15-9-15-9-14-9z"/>
<path class="c31" d="M1097 1987l15 9 14 10 15 9 2-9-14-10-15-9-15-10z"/>
<path class="c27" d="M1141 2015l15 9 14 9 15 9 2-8-15-9-14-9-15-10z"/>
<path class="c23" d="M1185 2042l15 9 14 9 15 8 14 8 15 8 2-7-14-8-15-8-15-9-14-9-15-9z"/>
<path class="c19" d="M1258 2084l15 8 14 8 15 8 14 7 15 8 2-7-14-7-15-8-15-8-14-8-15-8z"/>
<path class="c18" d="M1331 2123l15 7 14 8 15 7 15 8 14 7 15 7 14 8 3-6-15-8-15-7-14-8-15-7-15-8-14-7-15-8z"/>
<path class="c29" d="M1433 2175l15-40 2-14-14 48z"/>
<path class="c23" d="M276 1620l15 5 15 7 14 6 15 6 14 9 15 8 15 8 14 8 2-8-14-8-15-8-14-9-15-8-15-6-14-7-15-6-15-5z"/>
<path class="c19" d="M393 1677l15 8 15 8 14 8 15 9 14 8 15 8 2-7-14-8-15-8-15-9-14-8-15-8-15-9z"/>
<path class="c15" d="M481 1726l15 8 14 8 2-7-14-8-15-8z"/>
<path class="c14" d="M510 1742l15 6 2-7-15-6z"/>
<path class="c15" d="M525 1748l15 5 2-7-15-5z"/>
<path class="c19" d="M540 1753l14 6 15 5 14 5 15 5 2-8-15-5-14-5-15-5-14-5z"/>
<path class="c23" d="M598 1774l15 5 14 5 15 5 2-10-15-4-14-5-15-4z"/>
<path class="c27" d="M642 1789l14 5 15 5 15 5 14 5 2-11-14-5-15-5-14-4-15-5z"/>
<path class="c31" d="M700 1809l15 5 15 6 14 5 15 6 14 6 15 6 2-12-14-6-15-6-15-5-14-6-15-5-15-5z"/>
<path class="c35" d="M788 1843l15 6 14 6 15 6 15 6 14 6 15 7 14 7 15 7 15 7 14 8 15 7 15 7 14 8 15 8 14 8 2-12-14-8-15-8-14-8-15-7-15-8-14-7-15-7-14-8-15-7-15-7-14-6-15-6-15-6-14-5-15-6z"/>
<path class="c31" d="M1007 1947l15 8 15 8 14 8 15 9 14 9 3-11-15-9-15-9-14-9-15-8-15-8z"/>
<path class="c27" d="M1080 1989l15 8 15 9 14 9 2-9-14-10-15-9-14-9z"/>
<path class="c23" d="M1124 2015l15 9 15 9 14 9 15 8 2-8-15-9-14-9-15-9-15-9z"/>
<path class="c19" d="M1183 2050l14 9 15 8 15 8 14 8 15 8 15 8 14 8 2-7-14-8-15-8-15-8-14-8-15-8-14-9-15-9z"/>
<path class="c15" d="M1285 2107l15 7 14 8 15 7 2-6-15-8-14-7-15-8z"/>
<path class="c14" d="M1329 2129l15 8 14 7 15 7 14 8 15 7 15 8 14 7 2-6-14-8-15-7-14-7-15-8-15-7-14-8-15-7z"/>
<path class="c25" d="M1431 2181l15-35 2-11-15 40z"/>
<path class="c18" d="M274 1626l15 6 14 6 15 7 2-7-14-6-15-7-15-5z"/>
<path class="c19" d="M318 1645l15 6 14 8 15 9 15 8 14 8 15 8 2-7-15-8-14-8-15-8-15-8-14-9-15-6z"/>
<path class="c15" d="M406 1692l14 8 15 8 15 8 14 8 15 8 15 9 14 8 2-7-14-8-15-8-15-8-14-8-15-9-14-8-15-8z"/>
<path class="c14" d="M508 1749l15 6 2-7-15-6z"/>
<path class="c15" d="M523 1755l14 5 15 6 15 6 14 5 15 5 2-8-15-5-14-5-15-5-14-6-15-5z"/>
<path class="c19" d="M596 1782l15 6 14 5 15 5 14 5 2-9-14-5-15-5-14-5-15-5z"/>
<path class="c23" d="M654 1803l15 6 15 5 14 6 15 5 14 6 3-11-15-6-15-5-14-5-15-5-15-5z"/>
<path class="c27" d="M727 1831l15 6 15 6 14 6 15 6 15 6 14 6 15 6 14 6 3-12-15-6-15-6-14-6-15-6-15-6-14-6-15-6-14-5z"/>
<path class="c31" d="M844 1879l15 6 15 7 14 7 15 8 15 7 2-13-15-7-15-7-14-7-15-7-14-6z"/>
<path class="c27" d="M918 1914l14 7 15 7 14 8 15 7 15 8 14 7 15 8 14 8 15 8 15 9 2-11-15-9-14-8-15-8-15-8-14-8-15-8-14-8-15-7-15-7-14-8z"/>
<path class="c23" d="M1064 1991l14 8 15 9 15 8 14 9 2-10-14-9-15-9-15-8-14-9z"/>
<path class="c19" d="M1122 2025l15 8 14 9 15 8 15 8 14 9 2-8-14-9-15-8-14-9-15-9-15-9z"/>
<path class="c15" d="M1195 2067l15 8 15 8 14 7 15 8 14 8 15 7 15 8 14 7 15 8 2-7-15-7-14-8-15-7-14-8-15-8-15-8-14-8-15-8-15-8z"/>
<path class="c10" d="M1327 2136l15 7 14 7 15 8 14 7 15 7 15 8 14 7 2-6-14-7-15-8-15-7-14-8-15-7-14-7-15-8z"/>
<path class="c21" d="M1429 2187l15-32 2-9-15 35z"/>
<path class="c14" d="M272 1632l15 6 14 6 15 7 2-6-15-7-14-6-15-6z"/>
<path class="c18" d="M316 1651l15 6 2-6-15-6z"/>
<path class="c14" d="M331 1657l14 8 15 8 14 8 15 8 15 8 14 8 15 8 2-5-15-8-14-8-15-8-14-8-15-8-15-9-14-8z"/>
<path class="c10" d="M433 1713l15 8 14 9 15 8 14 8 15 8 15 6 14 7 15 6 2-7-15-6-14-5-15-6-14-8-15-9-15-8-14-8-15-8z"/>
<path class="c11" d="M550 1773l15 6 14 6 15 6 2-9-15-5-14-5-15-6z"/>
<path class="c15" d="M594 1791l14 5 15 6 15 6 14 5 15 6 2-10-15-6-14-5-15-5-14-5-15-6z"/>
<path class="c19" d="M667 1819l14 6 15 6 15 6 14 5 15 6 15 7 14 6 2-12-14-6-15-6-15-6-14-6-15-5-14-6-15-5z"/>
<path class="c23" d="M769 1861l15 6 14 6 15 6 15 6 14 7 15 6 15 7 14 7 15 7 14 7 15 7 15 8 14 7 15 7 15 8 14 7 15 8 2-12-15-8-14-7-15-8-15-7-14-8-15-7-14-7-15-7-15-8-14-7-15-7-15-6-14-6-15-6-14-6-15-6-15-6z"/>
<path class="c19" d="M1018 1978l14 8 15 8 15 7 14 9 15 8 14 8 3-10-15-8-15-9-14-8-15-9-15-8-14-8z"/>
<path class="c15" d="M1105 2026l15 8 15 8 14 8 15 9 15 8 14 7 2-7-14-9-15-8-15-8-14-9-15-8-14-9z"/>
<path class="c11" d="M1193 2074l15 8 14 8 15 8 15 7 14 8 15 7 15 7 2-6-15-8-15-7-14-8-15-8-14-7-15-8-15-8z"/>
<path class="c10" d="M1296 2127l14 7 15 8 14 7 15 7 15 7 14 7 15 7 14 7 15 7 2-4-14-7-15-8-15-7-14-7-15-8-14-7-15-7-15-8-14-7z"/>
<path class="c17" d="M1427 2191l15-26 2-10-15 32z"/>
<path class="c14" d="M270 1637l15 7 14 6 15 7 14 7 15 7 15 8 14 8 2-6-14-8-15-8-14-8-15-6-15-7-14-6-15-6z"/>
<path class="c10" d="M372 1687l15 7 15 8 14 8 15 8 14 7 15 8 15 8 14 8 2-3-14-8-15-8-14-9-15-8-15-8-14-8-15-8-15-8z"/>
<path class="c6" d="M489 1749l15 7 2-2-15-8z"/>
<path class="c5" d="M504 1756l15 7 14 6 2-2-14-7-15-6z"/>
<path class="c9" d="M533 1769l15 6 2-2-15-6z"/>
<path class="c10" d="M548 1775l14 7 15 6 15 6 14 6 15 6 15 6 14 6 2-5-14-5-15-6-15-6-14-5-15-6-14-6-15-6z"/>
<path class="c14" d="M650 1818l15 6 14 6 15 7 15 6 2-6-15-6-15-6-14-6-15-6z"/>
<path class="c15" d="M709 1843l14 6 15 7 14 6 15 7 15 7 14 6 15 7 15 7 2-11-15-6-15-6-14-6-15-6-14-6-15-7-15-6-14-5z"/>
<path class="c19" d="M826 1896l14 6 15 7 14 7 15 7 15 7 14 7 15 7 15 7 2-10-15-8-15-7-14-7-15-7-14-7-15-7-15-6-14-7z"/>
<path class="c15" d="M943 1951l14 7 15 7 14 8 15 7 15 7 14 8 15 7 14 8 15 7 15 8 14 8 2-7-14-8-15-8-14-9-15-7-15-8-14-8-15-8-14-7-15-8-15-7-14-7z"/>
<path class="c11" d="M1103 2033l15 8 2-7-15-8z"/>
<path class="c10" d="M1118 2041l15 7 14 8 15 8 14 7 15 8 15 7 14 8 15 7 15 7 2-3-15-7-15-8-14-8-15-8-14-7-15-8-15-9-14-8-15-8z"/>
<path class="c6" d="M1250 2108l14 8 15 7 14 7 3-3-15-7-15-7-14-8z"/>
<path class="c5" d="M1293 2130l15 7 15 7 14 7 15 7 15 7 14 7 15 7 14 7 15 7 2-2-15-7-14-7-15-7-14-7-15-7-15-7-14-7-15-8-14-7z"/>
<path class="c13" d="M1425 2193l15-18 2-10-15 26z"/>
<path class="c10" d="M268 1643l15 7 14 6 15 7 14 7 15 7 15 8 14 7 15 7 14 8 15 7 15 8 2-4-15-8-14-8-15-8-15-7-14-8-15-8-15-7-14-7-15-7-14-6-15-7z"/>
<path class="c6" d="M429 1722l14 7 15 8 15 7 14 7 15 8 2-3-15-7-14-8-15-8-15-8-14-7z"/>
<path class="c5" d="M502 1759l14 6 15 7 15 6 2-3-15-6-14-6-15-7z"/>
<path class="c6" d="M546 1778l14 6 15 7 2-3-15-6-14-7z"/>
<path class="c10" d="M575 1791l15 6 14 6 15 6 14 6 15 7 15 6 14 6 15 7 14 6 15 6 15 7 14 7 2-5-14-6-15-7-14-6-15-6-15-7-14-6-15-6-14-6-15-6-15-6-14-6-15-6z"/>
<path class="c14" d="M750 1867l15 6 15 7 14 6 15 7 14 7 15 7 15 6 14 7 15 7 15 7 14 7 15 7 14 7 15 7 15 8 14 7 15 7 2-4-15-7-14-8-15-7-14-7-15-7-15-7-14-7-15-7-15-7-14-7-15-7-14-6-15-7-15-7-14-6-15-7-15-7z"/>
<path class="c10" d="M999 1984l15 7 14 8 15 7 14 8 15 7 15 8 14 7 15 8 14 8 15 7 15 8 14 7 2-3-14-7-15-8-14-8-15-7-15-8-14-8-15-8-15-7-14-8-15-7-14-8-15-7z"/>
<path class="c6" d="M1174 2074l15 8 15 7 14 8 15 7 14 7 15 7 2-2-14-8-15-7-15-7-14-8-15-7-15-8z"/>
<path class="c5" d="M1262 2118l15 7 14 7 15 7 15 8 14 7 15 7 14 7 15 7 15 7 14 7 15 7 2-3-15-7-14-7-15-7-14-7-15-7-15-7-14-7-15-7-15-7-14-7-15-7z"/>
<path class="c10" d="M1423 2196l14-11 3-10-15 18z"/>
<path class="c6" d="M266 1648l14 7 15 7 15 6 14 7 15 7 14 8 15 7 15 7 14 7 15 7 15 8 14 7 15 7 14 7 15 7 15 7 2-2-15-8-14-7-15-7-15-8-14-7-15-8-15-7-14-8-15-7-14-7-15-8-15-7-14-7-15-7-14-6-15-7z"/>
<path class="c5" d="M500 1761l14 7 15 6 2-2-15-7-14-6z"/>
<path class="c6" d="M529 1774l15 7 14 6 15 7 14 6 15 6 15 7 14 6 2-4-14-6-15-6-14-6-15-6-15-7-14-6-15-6z"/>
<path class="c10" d="M631 1819l15 6 15 7 14 6 15 6 14 7 15 6 15 7 14 7 15 6 14 7 15 7 15 7 14 6 15 7 15 7 14 7 15 7 14 7 15 7 15 7 14 7 15 7 15 7 14 7 15 7 14 7 15 8 15 7 14 7 15 8 14 7 15 8 15 7 2-3-15-8-14-7-15-8-15-7-14-8-15-7-14-8-15-7-15-7-14-7-15-8-15-7-14-7-15-7-14-7-15-7-15-7-14-7-15-6-15-7-14-7-15-7-14-6-15-7-15-6-14-7-15-7-15-6-14-6-15-7-14-6-15-6-15-7z"/>
<path class="c6" d="M1114 2047l14 8 15 7 15 8 14 7 15 8 14 7 15 7 15 7 14 8 15 7 2-3-15-7-14-7-15-7-14-8-15-7-15-8-14-7-15-8-15-7-14-8z"/>
<path class="c5" d="M1260 2121l15 7 14 7 15 7 14 7 15 7 15 7 14 7 15 7 15 7 14 7 15 7 2-2-15-7-14-7-15-7-15-7-14-7-15-7-14-7-15-8-15-7-14-7-15-7z"/>
<path class="c10" d="M1421 2198l14-6 2-7-14 11z"/>
<path class="c6" d="M264 1651l14 7 15 7 15 6 14 7 15 7 14 8 15 7 15 7 14 7 15 7 14 7 15 8 15 7 14 7 2-3-14-7-15-7-14-7-15-8-15-7-14-7-15-7-15-7-14-8-15-7-14-7-15-6-15-7-14-7z"/>
<path class="c5" d="M468 1750l15 7 15 7 14 7 15 6 2-3-15-6-14-7-15-7-15-7z"/>
<path class="c6" d="M527 1777l14 7 15 6 15 7 14 6 15 7 15 6 14 6 15 7 14 6 15 7 15 6 14 7 15 7 2-5-15-6-14-7-15-6-14-6-15-7-15-6-14-6-15-7-15-6-14-6-15-7-14-6-15-7z"/>
<path class="c10" d="M717 1862l15 6 14 7 15 7 14 6 15 7 15 7 14 7 15 6 14 7 15 7 15 7 14 7 15 7 15 7 14 7 15 7 14 7 15 7 15 7 14 8 15 7 2-4-15-8-14-7-15-7-14-7-15-7-15-7-14-7-15-7-15-7-14-7-15-7-14-7-15-7-15-7-14-6-15-7-15-7-14-7-15-6-14-7-15-7z"/>
<path class="c6" d="M1024 2007l15 7 14 7 15 8 14 7 15 7 15 8 14 7 15 8 14 7 15 7 15 8 14 7 15 7 15 7 14 7 15 7 2-2-15-7-14-8-15-7-15-7-14-7-15-8-14-7-15-8-15-7-14-8-15-7-15-8-14-7-15-8-14-7-15-7z"/>
<path class="c5" d="M1258 2123l14 7 15 7 15 8 14 7 15 7 15 7 14 7 15 6 14 7 15 7 15 7 2-2-15-7-14-7-15-7-15-7-14-7-15-7-15-7-14-7-15-7-14-7-15-7z"/>
<path class="c6" d="M1419 2200l14-1 2-7-14 6zM262 1654l14 7 15 7 14 7 15 6 15 8 14 7 15 7 15 7 14 7 2-3-14-7-15-7-15-7-14-8-15-7-14-7-15-6-15-7-14-7z"/>
<path class="c2" d="M393 1717l15 7 14 7 15 7 15 7 14 7 2-2-14-7-15-7-15-8-14-7-15-7z"/>
<path class="c1" d="M466 1752l15 7 14 7 15 7 15 7 2-3-15-6-14-7-15-7-15-7z"/>
<path class="c2" d="M525 1780l14 6 15 7 2-3-15-6-14-7z"/>
<path class="c6" d="M554 1793l15 7 14 6 15 7 14 6 15 7 15 6 14 7 15 7 15 6 14 7 15 7 14 6 15 7 15 7 14 7 15 6 14 7 15 7 15 7 14 7 15 7 15 7 14 7 15 6 14 7 15 7 15 7 14 7 15 8 15 7 14 7 15 7 14 7 15 7 15 7 14 8 15 7 15 7 14 8 15 7 14 7 15 7 15 7 14 8 2-3-14-7-15-8-15-7-14-7-15-8-14-7-15-8-15-7-14-7-15-8-14-7-15-7-15-7-14-8-15-7-15-7-14-7-15-7-14-7-15-7-15-7-14-7-15-7-15-7-14-7-15-6-14-7-15-7-15-7-14-6-15-7-14-7-15-6-15-7-14-7-15-6-15-7-14-6-15-7-14-6-15-6-15-7-14-6-15-7z"/>
<path class="c2" d="M1197 2098l15 7 14 7 15 7 15 7 2-3-15-7-14-7-15-7-15-7z"/>
<path class="c1" d="M1256 2126l14 7 15 7 15 7 14 7 15 7 14 7 15 7 15 7 14 7 15 7 15 7 2-3-15-7-15-7-14-7-15-6-14-7-15-7-15-7-14-7-15-8-15-7-14-7z"/>
<path class="c6" d="M1417 2203l14 3 2-7-14 1z"/>
<path class="c2" d="M259 1657l15 7 15 7 14 7 15 7 15 7 14 7 15 7 14 7 15 7 15 7 14 7 15 7 14 7 15 7 2-3-14-7-15-7-15-7-14-7-15-7-14-7-15-7-15-7-14-7-15-8-15-6-14-7-15-7-14-7z"/>
<path class="c1" d="M464 1755l15 7 14 7 15 7 15 6 2-2-15-7-15-7-14-7-15-7z"/>
<path class="c2" d="M523 1782l14 7 15 7 14 7 15 6 15 7 14 7 15 6 15 7 14 7 2-4-14-7-15-6-15-7-14-6-15-7-14-6-15-7-15-7-14-6z"/>
<path class="c6" d="M654 1843l15 6 14 7 15 7 15 7 14 6 15 7 15 7 14 7 15 7 14 7 15 6 15 7 14 7 15 7 14 7 15 7 15 7 14 7 15 7 15 7 14 7 15 7 14 7 15 7 15 7 14 7 15 7 15 7 14 7 2-3-14-8-15-7-15-7-14-7-15-7-14-7-15-7-15-8-14-7-15-7-15-7-14-7-15-6-14-7-15-7-15-7-14-7-15-7-15-7-14-7-15-6-14-7-15-7-15-7-14-6-15-7-14-7-15-6-15-7z"/>
<path class="c2" d="M1078 2043l15 8 14 7 15 7 15 7 14 7 15 7 14 7 15 7 15 8 14 7 15 7 15 7 2-3-15-7-15-7-14-7-15-7-14-8-15-7-15-7-14-7-15-7-14-8-15-7-15-7z"/>
<path class="c1" d="M1254 2129l14 7 15 7 14 7 15 6 15 7 14 7 15 7 15 7 14 7 15 7 14 7 15 4 2-3-14-3-15-7-15-7-14-7-15-7-15-7-14-7-15-7-14-7-15-7-15-7-14-7z"/>
<path class="c2" d="M257 1660l15 7 15 7 14 7 15 7 14 7 15 7 15 7 14 7 15 7 15 7 14 7 15 7 14 7 2-3-14-7-15-7-14-7-15-7-15-7-14-7-15-7-14-7-15-7-15-7-14-7-15-7-15-7z"/>
<path class="c1" d="M447 1751l15 6 15 7 14 7 15 7 14 7 3-3-15-6-15-7-14-7-15-7-15-7z"/>
<path class="c2" d="M520 1785l15 7 15 7 14 7 15 6 15 7 14 7 15 7 14 7 15 6 15 7 14 7 15 7 15 7 14 7 15 6 14 7 15 7 15 7 14 7 15 7 14 7 15 7 15 6 14 7 15 7 15 7 14 7 15 7 14 7 15 7 15 7 14 7 15 7 15 7 14 7 15 7 14 7 15 7 15 7 14 7 15 7 15 7 14 7 15 7 14 7 15 7 15 7 14 7 15 7 14 7 3-2-15-7-15-7-14-7-15-8-15-7-14-7-15-7-14-7-15-7-15-7-14-7-15-8-14-7-15-7-15-7-14-7-15-7-15-7-14-7-15-7-14-7-15-7-15-7-14-7-15-7-15-7-14-7-15-7-14-7-15-7-15-6-14-7-15-7-14-7-15-7-15-7-14-6-15-7-15-7-14-7-15-6-14-7-15-7-15-6-14-7-15-7-15-6-14-7-15-7-14-7z"/>
<path class="c1" d="M1251 2131l15 7 15 7 14 7 15 7 15 7 14 7 15 7 14 7 15 7 15 7 14 7 2-3-14-7-15-7-14-7-15-7-15-7-14-7-15-7-15-6-14-7-15-7-14-7z"/>
<path class="c2" d="M1412 2208l15 5 2-4-15-4zM255 1663l15 7 14 7 15 7 15 7 14 7 15 7 15 7 14 7 15 6 14 7 15 7 15 7 14 7 2-2-14-7-15-7-14-7-15-7-15-7-14-7-15-7-15-7-14-7-15-7-14-7-15-7-15-7z"/>
<path class="c1" d="M445 1753l15 7 14 7 15 7 15 7 14 7 2-3-14-7-15-7-14-7-15-7-15-6z"/>
<path class="c2" d="M518 1788l15 7 15 7 14 7 15 6 14 7 15 7 15 7 14 7 15 7 15 7 14 7 15 7 14 7 15 7 15 7 14 6 15 7 15 7 14 7 15 7 14 7 15 7 15 7 14 7 15 7 14 7 15 7 15 7 14 6 15 7 15 7 14 7 15 7 14 7 15 7 15 7 14 7 15 7 15 7 14 7 15 6 14 7 15 7 15 7 14 7 15 7 15 7 14 7 15 7 14 7 2-3-14-7-15-7-14-7-15-7-15-7-14-7-15-7-14-7-15-7-15-7-14-7-15-7-15-7-14-7-15-7-14-7-15-7-15-7-14-7-15-7-15-7-14-7-15-7-14-7-15-7-15-7-14-7-15-6-15-7-14-7-15-7-14-7-15-7-15-7-14-7-15-6-14-7-15-7-15-7-14-7-15-7-15-6-14-7-15-7-14-7-15-7-15-6-14-7-15-7-15-7z"/>
<path class="c1" d="M1249 2134l15 7 15 7 14 7 15 6 14 7 15 7 15 7 14 7 15 7 15 7 14 7 2-2-14-7-15-7-15-7-14-7-15-7-14-7-15-7-15-7-14-7-15-7-15-7z"/>
<path class="c2" d="M1410 2210l15 7 2-4-15-5z"/>
</g>
<g id="deco">
<path fill="#36369f" d="M398.7 467.3L405.8 457.7L399.1 456.5z"/>
<path fill="#36369f" d="M430.4 458.4L437.5 448.8L430.8 447.6z"/>
<path fill="#36369f" d="M462.1 449.6L469.3 439.9L462.5 438.7z"/>
<path fill="#36369f" d="M493.9 440.7L501.0 431.1L494.3 429.9z"/>
<path fill="#36369f" d="M525.6 431.8L532.8 422.2L526.0 421.0z"/>
<path fill="#36369f" d="M557.4 422.9L564.5 413.3L557.8 412.1z"/>
<path fill="#36369f" d="M589.1 414.0L596.2 404.4L589.5 403.2z"/>
<path fill="#36369f" d="M620.8 405.2L628.0 395.5L621.2 394.3z"/>
</g>
<g id="front">
<line class="k" x1="63.8" y1="415.8" x2="63.8" y2="109.8"/>
<line class="k" x1="63.8" y1="415.8" x2="356.2" y2="554.2"/>
<line class="k" x1="356.2" y1="554.2" x2="737.1" y2="447.6"/>
<line class="k" x1="63.8" y1="415.8" x2="72.8" y2="420.1"/>
<line class="k" x1="63.8" y1="339.3" x2="72.8" y2="343.6"/>
<line class="k" x1="63.8" y1="262.8" x2="72.8" y2="267.1"/>
<line class="k" x1="63.8" y1="186.3" x2="72.8" y2="190.6"/>
<line class="k" x1="63.8" y1="109.8" x2="72.8" y2="114.1"/>
<line class="k" x1="451.4" y1="527.6" x2="442.4" y2="523.3"/>
<line class="k" x1="546.6" y1="500.9" x2="537.6" y2="496.6"/>
<line class="k" x1="641.9" y1="474.3" x2="632.8" y2="470.0"/>
</g>
<g id="ticks">
<text class="t" x="58" y="422.5" text-anchor="end">1</text>
<text class="t" x="58" y="346" text-anchor="end">2</text>
<text class="t" x="58" y="269.5" text-anchor="end">3</text>
<text class="t" x="58" y="193" text-anchor="end">4</text>
<text class="t" x="58" y="116.5" text-anchor="end">5</text>
<text class="t" x="57.5" y="442.8" text-anchor="end">2</text>
<text class="t" x="130.4" y="477.8" text-anchor="end">1</text>
<text class="t" x="204.5" y="512.6" text-anchor="end">0</text>
<text class="t" x="274.6" y="547.2" text-anchor="end">-1</text>
<text class="t" x="349.2" y="582" text-anchor="end">-2</text>
<text class="t" x="363" y="583.5">0</text>
<text class="t" x="458.8" y="557.3">12</text>
<text class="t" x="552.8" y="530">24</text>
<text class="t" x="648.4" y="503.5">36</text>
<text class="t" x="742.9" y="477.2">48</text>
</g>
<g id="labels">
<text class="l" text-anchor="middle" transform="translate(23.3 273.9) rotate(-90)">Dimensionless film pressure <tspan font-style="italic">P</tspan></text>
<text class="l" text-anchor="middle" transform="translate(176.2 541.2) rotate(26)">Cartesian coordinate <tspan font-style="italic">Y</tspan></text>
<text class="l" text-anchor="middle" transform="translate(587.6 562.5) rotate(-15.1)">Cartesian coordinate <tspan font-style="italic">X</tspan></text>
</g>
<g id="cbar">
<rect x="756.6" y="446.02" width="7.8" height="5.18" fill="#2b228d"/>
<rect x="756.6" y="441.24" width="7.8" height="5.18" fill="#2a2799"/>
<rect x="756.6" y="436.47" width="7.8" height="5.18" fill="#282ca6"/>
<rect x="756.6" y="431.69" width="7.8" height="5.18" fill="#2432b2"/>
<rect x="756.6" y="426.91" width="7.8" height="5.18" fill="#1e38bf"/>
<rect x="756.6" y="422.13" width="7.8" height="5.18" fill="#133fcc"/>
<rect x="756.6" y="417.35" width="7.8" height="5.18" fill="#0247d8"/>
<rect x="756.6" y="412.57" width="7.8" height="5.18" fill="#0058df"/>
<rect x="756.6" y="407.80" width="7.8" height="5.18" fill="#0063e1"/>
<rect x="756.6" y="403.02" width="7.8" height="5.18" fill="#0068e1"/>
<rect x="756.6" y="398.24" width="7.8" height="5.18" fill="#006bdf"/>
<rect x="756.6" y="393.46" width="7.8" height="5.18" fill="#006dde"/>
<rect x="756.6" y="388.68" width="7.8" height="5.18" fill="#006fdc"/>
<rect x="756.6" y="383.91" width="7.8" height="5.18" fill="#0072d9"/>
<rect x="756.6" y="379.13" width="7.8" height="5.18" fill="#0075d7"/>
<rect x="756.6" y="374.35" width="7.8" height="5.18" fill="#0079d5"/>
<rect x="756.6" y="369.57" width="7.8" height="5.18" fill="#007ed4"/>
<rect x="756.6" y="364.79" width="7.8" height="5.18" fill="#0083d3"/>
<rect x="756.6" y="360.02" width="7.8" height="5.18" fill="#008ad2"/>
<rect x="756.6" y="355.24" width="7.8" height="5.18" fill="#0091d2"/>
<rect x="756.6" y="350.46" width="7.8" height="5.18" fill="#0097d1"/>
<rect x="756.6" y="345.68" width="7.8" height="5.18" fill="#009bcf"/>
<rect x="756.6" y="340.90" width="7.8" height="5.18" fill="#009fcc"/>
<rect x="756.6" y="336.12" width="7.8" height="5.18" fill="#00a3c9"/>
<rect x="756.6" y="331.35" width="7.8" height="5.18" fill="#00a6c6"/>
<rect x="756.6" y="326.57" width="7.8" height="5.18" fill="#00a9c2"/>
<rect x="756.6" y="321.79" width="7.8" height="5.18" fill="#00abbd"/>
<rect x="756.6" y="317.01" width="7.8" height="5.18" fill="#00aeb9"/>
<rect x="756.6" y="312.23" width="7.8" height="5.18" fill="#03b0b4"/>
<rect x="756.6" y="307.46" width="7.8" height="5.18" fill="#0bb3ae"/>
<rect x="756.6" y="302.68" width="7.8" height="5.18" fill="#14b5a8"/>
<rect x="756.6" y="297.90" width="7.8" height="5.18" fill="#1eb7a1"/>
<rect x="756.6" y="293.12" width="7.8" height="5.18" fill="#28b99b"/>
<rect x="756.6" y="288.34" width="7.8" height="5.18" fill="#33bb94"/>
<rect x="756.6" y="283.57" width="7.8" height="5.18" fill="#3fbc8d"/>
<rect x="756.6" y="278.79" width="7.8" height="5.18" fill="#4cbd86"/>
<rect x="756.6" y="274.01" width="7.8" height="5.18" fill="#59be7f"/>
<rect x="756.6" y="269.23" width="7.8" height="5.18" fill="#66bf79"/>
<rect x="756.6" y="264.45" width="7.8" height="5.18" fill="#73bf74"/>
<rect x="756.6" y="259.68" width="7.8" height="5.18" fill="#7fbf6f"/>
<rect x="756.6" y="254.90" width="7.8" height="5.18" fill="#8bbf6a"/>
<rect x="756.6" y="250.12" width="7.8" height="5.18" fill="#96bf66"/>
<rect x="756.6" y="245.34" width="7.8" height="5.18" fill="#a0be61"/>
<rect x="756.6" y="240.56" width="7.8" height="5.18" fill="#abbe5d"/>
<rect x="756.6" y="235.78" width="7.8" height="5.18" fill="#b5bd5a"/>
<rect x="756.6" y="231.01" width="7.8" height="5.18" fill="#bebc56"/>
<rect x="756.6" y="226.23" width="7.8" height="5.18" fill="#c6ba51"/>
<rect x="756.6" y="221.45" width="7.8" height="5.18" fill="#cfb94c"/>
<rect x="756.6" y="216.67" width="7.8" height="5.18" fill="#d7b747"/>
<rect x="756.6" y="211.89" width="7.8" height="5.18" fill="#dfb542"/>
<rect x="756.6" y="207.12" width="7.8" height="5.18" fill="#e7b43d"/>
<rect x="756.6" y="202.34" width="7.8" height="5.18" fill="#efb337"/>
<rect x="756.6" y="197.56" width="7.8" height="5.18" fill="#f6b331"/>
<rect x="756.6" y="192.78" width="7.8" height="5.18" fill="#fcb529"/>
<rect x="756.6" y="188.00" width="7.8" height="5.18" fill="#feba22"/>
<rect x="756.6" y="183.23" width="7.8" height="5.18" fill="#fec01c"/>
<rect x="756.6" y="178.45" width="7.8" height="5.18" fill="#fdc617"/>
<rect x="756.6" y="173.67" width="7.8" height="5.18" fill="#fbcc12"/>
<rect x="756.6" y="168.89" width="7.8" height="5.18" fill="#f8d20e"/>
<rect x="756.6" y="164.11" width="7.8" height="5.18" fill="#f6d80a"/>
<rect x="756.6" y="159.33" width="7.8" height="5.18" fill="#f5df05"/>
<rect x="756.6" y="154.56" width="7.8" height="5.18" fill="#f5e600"/>
<rect x="756.6" y="149.78" width="7.8" height="5.18" fill="#f6ee00"/>
<rect x="756.6" y="145.00" width="7.8" height="5.18" fill="#f8f700"/>
<rect x="756.6" y="145" width="7.8" height="305.8" fill="none" stroke="#8a8a8a" stroke-width="1"/>
<path d="M761.2 169.6H764.2M761.2 263.3H764.2M761.2 357.1H764.2" stroke="#444" stroke-width="1.2"/>
<text class="t" x="769" y="460.3">1</text>
<text class="t" x="769" y="366.5">2</text>
<text class="t" x="769" y="273">3</text>
<text class="t" x="769" y="179.8">4</text>
</g>
</svg>
</body></html>
